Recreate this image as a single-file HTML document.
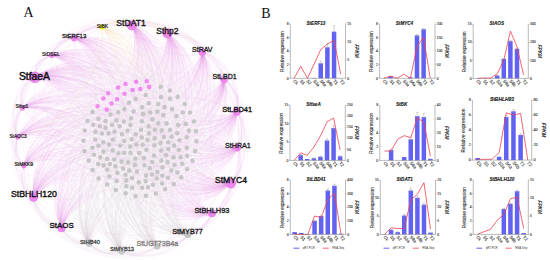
<!DOCTYPE html>
<html><head><meta charset="utf-8"><style>
html,body{margin:0;padding:0;background:#fff;width:550px;height:260px;overflow:hidden}
body{position:relative;font-family:"Liberation Sans", sans-serif}
svg text{font-family:"Liberation Sans", sans-serif}
.lab{position:absolute;font-family:"Liberation Serif",serif;font-size:14px;color:#111;line-height:1}
</style></head><body>
<svg width="260" height="260" viewBox="0 0 260 260" style="position:absolute;left:0;top:0">
<path fill="none" stroke="#e080e0" stroke-width="0.5" stroke-opacity="0.13" d="M131.8 25.3C136.9 34.2 138.7 46.2 137.7 58.7M131.8 25.3C143.0 34.6 151.2 49.6 156.2 66.5M131.8 25.3C144.5 33.5 154.8 47.8 162.1 64.6M131.8 25.3C141.1 34.8 147.2 49.0 150.1 64.8M131.8 25.3C141.7 38.8 146.7 57.7 147.6 78.0M131.8 25.3C136.1 36.5 136.0 50.5 132.8 64.6M131.8 25.3C143.7 31.0 154.3 42.3 162.5 56.2M131.8 25.3C135.6 30.1 137.8 36.9 138.5 44.3M131.8 25.3C139.0 36.6 142.0 52.0 141.6 68.4M131.8 25.3C138.8 29.8 144.5 37.6 148.5 46.8M131.8 25.3C139.5 38.8 142.3 56.8 140.9 75.7M131.8 25.3C142.4 34.2 150.3 48.3 155.0 64.4M131.8 25.3C142.4 31.1 151.4 42.0 158.1 55.0M131.8 25.3C144.6 37.6 153.4 56.4 158.0 77.4M131.8 25.3C135.1 32.0 135.8 40.7 134.5 49.7M131.8 25.3C144.5 32.7 155.1 46.2 162.9 62.2M131.8 25.3C145.4 33.1 156.8 47.3 165.3 64.3M131.8 25.3C136.7 37.3 137.0 52.5 133.8 68.0M131.8 25.3C145.6 33.8 157.1 49.0 165.3 67.0M131.8 25.3C135.4 30.9 136.9 38.4 136.7 46.5M131.8 25.3C136.1 31.8 138.1 40.7 138.1 50.2M131.8 25.3C139.6 35.9 143.6 50.7 144.3 66.6M131.8 25.3C138.6 38.4 140.4 55.5 138.4 73.3M131.8 25.3C141.2 38.0 146.1 55.9 147.1 75.2M131.8 25.3C141.5 27.2 151.2 33.3 159.7 41.8M131.8 25.3C142.3 32.4 150.6 44.6 156.4 58.9M131.8 25.3C137.4 34.7 139.5 47.4 138.8 60.8M131.8 25.3C139.2 33.3 143.9 45.3 146.0 58.4M131.8 25.3C136.6 30.0 139.9 37.1 141.5 45.1M131.8 25.3C140.1 33.7 145.7 46.3 148.5 60.4M131.8 25.3C143.8 32.3 154.0 45.1 161.4 60.3M131.8 25.3C141.2 31.3 148.8 41.7 154.3 54.1M131.8 25.3C141.6 35.6 147.9 51.1 150.8 68.1M131.8 25.3C142.7 38.6 149.0 57.6 151.0 78.4M131.8 25.3C143.6 34.5 152.6 49.5 158.3 66.7M131.8 25.3C144.3 28.4 156.6 37.0 167.1 48.6M131.8 25.3C141.7 28.7 151.1 36.6 158.9 46.7M131.8 25.3C137.7 34.1 140.3 46.1 140.3 58.9M131.8 25.3C144.0 29.5 155.6 39.2 165.2 51.7M131.8 25.3C142.3 36.7 148.9 53.6 151.8 72.3M131.8 25.3C140.4 27.2 149.0 32.9 156.5 40.6M131.8 25.3C136.3 30.9 138.8 38.8 139.6 47.4M131.8 25.3C141.7 34.1 148.8 48.0 152.8 63.6M131.8 25.3C137.1 29.3 141.2 36.0 143.8 43.7M131.8 25.3C139.6 31.6 145.4 41.8 149.0 53.4M131.8 25.3C141.6 37.2 147.2 54.3 149.0 72.9M131.8 25.3C140.4 37.1 144.7 53.6 145.4 71.3M131.8 25.3C137.6 38.0 138.4 54.3 135.7 71.0M131.8 25.3C140.9 33.7 147.2 46.7 150.7 61.4M131.8 25.3C139.5 30.4 145.8 39.1 150.2 49.5M131.8 25.3C140.4 36.4 145.0 52.2 146.1 69.2M131.8 25.3C144.3 35.7 153.4 52.4 159.0 71.3M131.8 25.3C140.7 29.6 148.6 38.0 154.7 48.4M131.8 25.3C137.6 33.4 140.6 44.7 141.0 56.8M131.8 25.3C142.3 30.2 151.6 40.0 158.9 52.0M131.8 25.3C141.0 36.1 146.6 51.7 148.6 68.8M131.8 25.3C138.3 33.6 141.9 45.4 142.8 58.2M131.8 25.3C139.5 37.9 142.5 55.0 141.8 73.0M131.8 25.3C144.9 36.0 154.6 53.2 160.5 72.8M131.8 25.3C140.0 29.8 147.1 38.1 152.4 48.2M131.8 25.3C135.2 33.7 135.4 44.4 133.1 55.2M131.8 25.3C142.3 35.3 149.4 50.7 153.3 67.8M131.8 25.3C139.8 36.9 143.6 53.0 143.8 70.1M131.8 25.3C136.2 34.6 137.1 46.6 135.2 59.0M131.8 25.3C142.9 30.6 152.8 41.0 160.4 53.8M131.8 25.3C143.7 38.1 151.2 57.0 154.5 78.0M131.8 25.3C141.4 32.6 148.7 44.5 153.5 58.3M131.8 25.3C142.0 33.4 149.7 46.5 154.5 61.5M131.8 25.3C143.9 35.3 152.8 51.3 158.2 69.5M131.8 25.3C141.7 30.8 150.1 41.0 156.4 53.3M131.8 25.3C137.9 37.2 139.5 52.7 137.6 68.8M131.8 25.3C145.1 34.1 155.8 49.3 163.3 67.2M131.8 25.3C138.2 36.6 140.4 51.6 139.2 67.3M131.8 25.3C144.5 36.5 153.5 54.0 158.8 73.9M131.8 25.3C136.9 35.0 138.2 47.8 136.8 61.1M131.8 25.3C143.2 37.5 150.5 55.6 153.8 75.7M131.8 25.3C140.2 30.7 147.1 40.1 151.9 51.3M131.8 25.3C139.5 29.1 146.3 36.6 151.5 45.7M131.8 25.3C140.9 30.6 148.6 40.1 154.3 51.6M131.8 25.3C135.1 32.8 135.5 42.3 133.8 52.0M131.8 25.3C137.6 35.4 139.5 48.9 138.5 63.0M131.8 25.3C138.3 34.4 141.6 47.0 142.1 60.6M131.8 25.3C135.6 35.6 135.3 48.3 132.2 61.2M131.8 25.3C144.9 34.7 155.1 50.5 162.0 68.8M131.8 25.3C140.6 35.2 146.0 49.8 148.2 65.7M131.8 25.3C146.5 33.9 159.0 49.5 168.1 68.1M131.8 25.3C140.1 32.3 146.3 43.5 150.0 56.2M131.8 25.3C137.0 35.8 138.1 49.4 136.3 63.5M131.8 25.3C140.9 36.8 146.0 53.3 147.4 71.2M131.8 25.3C137.9 29.4 142.9 36.5 146.3 44.7M131.8 25.3C140.0 37.6 143.7 54.6 143.7 72.6M131.8 25.3C145.6 31.7 158.0 44.7 167.6 60.5M131.8 25.3C140.6 34.3 146.3 47.9 149.1 62.9M131.8 25.3C141.8 31.9 149.9 43.4 155.5 56.8M131.8 25.3C141.9 28.0 151.9 35.2 160.3 44.7M131.8 25.3C142.8 37.1 149.7 54.6 152.9 73.9M167.5 33.3C173.5 46.1 174.7 62.6 172.1 79.6M167.5 33.3C171.3 45.1 170.4 59.6 166.3 74.1M167.5 33.3C170.4 47.2 167.6 63.6 161.1 79.6M167.5 33.3C168.8 45.5 165.0 59.3 158.0 72.4M167.5 33.3C171.9 37.3 175.0 43.6 176.7 50.6M167.5 33.3C174.8 46.2 177.2 63.3 175.9 81.2M167.5 33.3C171.1 48.4 168.5 66.4 161.9 84.0M167.5 33.3C176.3 46.3 180.4 64.3 180.5 83.5M167.5 33.3C173.9 42.6 176.9 55.4 177.0 69.1M167.5 33.3C175.9 37.8 183.2 46.3 188.6 56.6M167.5 33.3C174.2 40.9 178.3 51.9 179.9 64.1M167.5 33.3C177.0 43.5 182.9 58.7 185.6 75.4M167.5 33.3C175.6 39.9 181.5 50.6 185.2 62.7M167.5 33.3C172.8 46.5 173.1 63.1 169.6 80.0M167.5 33.3C167.8 44.6 163.3 57.0 156.0 68.6M167.5 33.3C177.5 45.5 183.3 63.0 185.2 82.1M167.5 33.3C170.8 43.0 170.2 54.9 167.0 66.9M167.5 33.3C175.6 42.4 180.7 55.7 182.8 70.4M167.5 33.3C171.0 47.6 168.8 64.7 162.6 81.5M167.5 33.3C173.4 46.9 174.1 64.2 170.9 81.9M167.5 33.3C176.2 47.2 179.9 66.1 179.3 86.0M167.5 33.3C174.4 38.0 180.0 46.0 183.8 55.5M167.5 33.3C174.2 46.5 175.8 63.7 173.6 81.5M167.5 33.3C174.8 45.3 177.6 61.5 176.8 78.6M167.5 33.3C172.5 37.9 176.0 45.1 177.9 53.1M167.5 33.3C177.3 40.3 185.0 52.0 190.2 65.7M167.5 33.3C171.1 40.6 171.9 50.0 170.5 59.8M167.5 33.3C170.1 43.4 168.7 55.6 164.6 67.6M167.5 33.3C175.5 44.7 179.4 60.4 179.7 77.3M167.5 33.3C167.6 42.8 163.6 53.2 157.3 62.8M167.5 33.3C168.5 42.6 165.8 53.1 160.5 63.1M167.5 33.3C171.6 41.0 172.8 51.1 171.8 61.7M167.5 33.3C173.4 43.7 175.4 57.6 174.2 72.1M167.5 33.3C169.1 40.0 168.0 48.0 165.1 55.9M167.5 33.3C178.9 41.8 187.7 56.0 193.5 72.3M167.5 33.3C171.7 38.5 174.1 45.9 174.8 53.9M167.5 33.3C174.2 44.2 176.9 58.9 176.3 74.4M167.5 33.3C176.4 45.3 180.9 62.2 181.8 80.3M167.5 33.3C176.4 43.1 181.9 57.5 184.3 73.4M167.5 33.3C178.2 39.9 187.0 51.7 193.3 65.6M167.5 33.3C170.7 41.5 170.8 51.8 168.5 62.3M167.5 33.3C177.8 43.1 185.0 58.2 188.8 75.0M167.5 33.3C177.7 42.4 184.9 56.7 188.9 72.8M167.5 33.3C175.8 43.9 180.4 58.9 181.7 75.2M167.5 33.3C170.1 38.6 170.7 45.4 169.7 52.5M167.5 33.3C175.0 37.5 181.3 45.1 186.0 54.4M167.5 33.3C172.7 40.7 175.2 51.0 175.5 62.1M167.5 33.3C173.1 49.0 172.6 68.5 167.6 88.1M167.5 33.3C169.9 42.0 168.8 52.6 165.3 63.0M167.5 33.3C172.7 45.7 173.1 61.4 169.9 77.5M167.5 33.3C176.2 38.9 183.3 48.6 188.4 60.1M167.5 33.3C172.2 44.4 172.7 58.4 170.0 72.8M167.5 33.3C172.6 43.0 174.0 55.8 172.5 69.1M167.5 33.3C175.0 39.2 180.7 48.9 184.3 60.0M167.5 33.3C178.1 43.9 185.2 59.9 188.8 77.7M167.5 33.3C170.5 45.0 168.9 59.0 164.0 72.8M167.5 33.3C171.5 42.8 171.9 54.8 169.5 67.0M167.5 33.3C178.4 45.9 184.9 64.3 187.4 84.4M167.5 33.3C168.1 40.1 165.9 47.8 162.0 55.1M167.5 33.3C177.8 46.8 183.4 65.9 184.7 86.5M167.5 33.3C169.6 39.4 169.3 46.9 167.3 54.5M167.5 33.3C174.1 45.7 176.0 61.9 174.3 78.9M167.5 33.3C169.3 43.4 166.9 55.2 161.8 66.7M167.5 33.3C172.0 48.8 170.4 67.7 164.5 86.5M167.5 33.3C176.3 42.3 182.1 56.0 184.9 71.1M167.5 33.3C174.3 41.9 178.0 54.3 179.0 67.6M167.5 33.3C178.8 44.9 186.1 62.3 189.6 81.7M167.5 33.3C177.9 40.8 186.1 53.5 191.5 68.2M167.5 33.3C177.5 39.1 186.0 49.7 192.2 62.3M167.5 33.3C168.6 41.8 166.3 51.6 161.7 61.0M167.5 33.3C168.1 45.6 163.4 59.2 155.7 72.0M167.5 33.3C172.7 38.9 176.0 47.3 177.4 56.5M167.5 33.3C174.2 48.8 174.9 68.5 171.1 88.7M167.5 33.3C174.8 40.2 179.8 50.8 182.4 62.8M167.5 33.3C168.8 40.9 167.0 49.7 163.1 58.2M167.5 33.3C176.2 40.3 182.8 51.6 186.9 64.5M167.5 33.3C177.1 47.6 181.5 67.2 181.5 88.2M167.5 33.3C173.1 45.2 174.1 60.6 171.7 76.5M167.5 33.3C173.1 47.7 173.1 65.8 168.9 84.2M167.5 33.3C172.1 41.6 173.5 52.7 172.5 64.2M167.5 33.3C176.8 45.8 181.6 63.3 182.5 82.1M167.5 33.3C173.7 48.1 174.3 66.8 170.6 85.9M167.5 33.3C168.6 43.4 165.6 54.8 160.0 65.7M167.5 33.3C173.1 44.3 174.5 58.8 172.6 73.7M167.5 33.3C169.4 45.1 166.4 58.7 160.3 71.9M167.5 33.3C172.5 39.8 175.2 49.0 175.9 59.0M167.5 33.3C170.8 46.0 169.0 61.3 163.7 76.3M167.5 33.3C172.0 48.0 170.7 65.9 165.3 83.7M167.5 33.3C178.1 44.7 184.9 61.7 187.9 80.4M167.5 33.3C177.4 44.7 183.3 61.4 185.5 79.6M167.5 33.3C169.8 41.2 168.9 50.8 165.8 60.4M167.5 33.3C175.3 47.1 177.9 65.5 176.4 84.7M167.5 33.3C170.0 46.4 167.2 61.7 160.8 76.6M167.5 33.3C177.5 41.4 185.1 54.6 189.7 69.6M167.5 33.3C176.2 48.1 179.3 67.9 178.0 88.8M167.5 33.3C168.6 46.5 164.1 61.4 156.3 75.4M202.3 52.3C208.2 66.2 208.8 83.8 205.3 101.9M202.3 52.3C205.2 65.0 203.0 80.1 197.3 94.9M202.3 52.3C205.9 59.4 206.8 68.7 205.6 78.2M202.3 52.3C202.3 66.8 196.2 82.7 186.4 97.4M202.3 52.3C208.4 65.6 209.4 82.7 206.5 100.3M202.3 52.3C208.2 60.4 211.1 71.8 211.5 84.0M202.3 52.3C205.6 62.6 204.8 75.3 201.2 87.9M202.3 52.3C208.5 62.6 210.9 76.5 210.2 91.1M202.3 52.3C205.6 66.9 203.1 84.3 196.6 101.3M202.3 52.3C201.7 64.6 195.8 77.7 186.9 89.7M202.3 52.3C203.8 61.7 201.4 72.5 196.6 82.9M202.3 52.3C203.1 64.5 198.7 78.2 191.3 91.1M202.3 52.3C202.9 68.1 196.7 85.6 186.6 102.0M202.3 52.3C199.6 65.6 191.1 79.0 179.3 90.7M202.3 52.3C207.8 64.4 208.7 79.9 206.0 95.8M202.3 52.3C209.0 64.0 211.3 79.6 210.1 96.0M202.3 52.3C206.5 62.5 206.7 75.5 204.0 88.6M202.3 52.3C201.7 63.8 196.1 76.0 187.7 87.2M202.3 52.3C202.4 62.9 197.9 74.5 190.8 85.3M202.3 52.3C207.2 62.5 208.2 75.7 206.2 89.3M202.3 52.3C205.6 66.3 203.3 83.0 197.2 99.5M202.3 52.3C208.8 61.0 212.2 73.2 212.8 86.4M202.3 52.3C209.2 66.1 211.0 84.0 208.7 102.6M202.3 52.3C202.6 63.5 198.1 75.9 190.8 87.4M202.3 52.3C204.3 67.0 200.2 84.0 192.2 100.2M202.3 52.3C206.2 60.7 207.0 71.6 205.2 82.8M202.3 52.3C207.6 65.0 207.9 81.0 204.7 97.3M202.3 52.3C200.1 63.6 193.0 75.0 183.1 84.9M202.3 52.3C200.8 66.5 193.2 81.5 182.1 94.9M202.3 52.3C201.6 63.1 196.3 74.7 188.3 85.2M202.3 52.3C203.1 67.1 197.8 83.6 188.6 99.1M202.3 52.3C206.6 67.7 204.7 86.3 198.6 104.7M202.3 52.3C198.6 64.7 189.4 76.7 177.2 86.8M202.3 52.3C204.9 65.8 202.1 81.7 195.6 97.1M202.3 52.3C200.4 59.5 195.4 66.6 188.6 72.7M202.3 52.3C207.1 59.0 209.4 68.4 209.6 78.4M202.3 52.3C201.5 66.8 194.6 82.2 184.0 96.3M202.3 52.3C203.1 65.2 198.6 79.5 190.7 93.1M202.3 52.3C201.9 62.4 197.2 73.2 190.1 83.1M202.3 52.3C202.9 60.5 200.0 69.8 195.0 78.5M202.3 52.3C202.4 64.2 197.5 77.2 189.6 89.3M202.3 52.3C208.4 59.3 212.1 69.4 213.5 80.6M202.3 52.3C204.3 62.2 202.4 73.8 197.8 85.1M202.3 52.3C202.5 61.2 198.9 70.9 193.1 80.0M202.3 52.3C198.4 62.9 189.7 72.9 178.6 81.0M202.3 52.3C203.8 57.4 203.2 63.5 201.3 69.6M202.3 52.3C199.6 64.8 191.3 77.3 180.1 88.0M202.3 52.3C205.0 66.6 201.9 83.4 194.9 99.8M202.3 52.3C207.1 61.2 208.5 72.9 207.3 85.2M202.3 52.3C199.4 62.7 191.8 72.8 181.8 81.4M202.3 52.3C207.8 62.9 209.3 76.8 207.7 91.2M202.3 52.3C203.5 62.5 200.5 74.1 194.8 85.2M202.3 52.3C198.4 62.2 190.0 71.4 179.3 78.7M202.3 52.3C201.0 64.2 194.5 76.7 185.2 87.9M202.3 52.3C205.3 63.6 203.9 77.1 199.4 90.5M202.3 52.3C202.6 58.6 200.1 65.6 196.1 72.2M202.3 52.3C207.8 61.2 209.9 73.2 209.4 85.8M202.3 52.3C206.9 64.7 206.8 80.1 203.1 95.7M202.3 52.3C201.0 63.6 194.8 75.3 185.8 85.9M202.3 52.3C205.6 65.5 203.6 81.3 198.1 96.9M202.3 52.3C204.9 67.4 201.4 84.9 193.8 101.9M202.3 52.3C207.0 68.3 205.4 87.7 199.3 107.0M202.3 52.3C206.9 61.9 207.9 74.3 206.0 87.1M202.3 52.3C200.0 60.2 194.1 67.8 186.4 74.1M202.3 52.3C201.4 65.1 194.9 78.7 185.3 91.0M202.3 52.3C200.9 68.2 192.6 84.9 180.5 100.0M202.3 52.3C209.8 62.0 213.8 75.7 214.8 90.6M202.3 52.3C198.9 65.7 189.5 79.0 177.0 90.2M202.3 52.3C200.5 62.9 194.1 73.6 185.2 83.1M202.3 52.3C206.1 67.3 203.9 85.2 197.7 102.9M202.3 52.3C200.8 60.6 195.7 69.0 188.6 76.4M202.3 52.3C204.3 58.7 203.7 66.5 201.3 74.3M202.3 52.3C199.4 66.7 190.2 81.1 177.6 93.7M202.3 52.3C199.6 61.0 193.0 69.4 184.4 76.5M202.3 52.3C203.9 67.9 199.1 85.6 190.2 102.4M202.3 52.3C205.1 62.1 204.1 74.0 200.3 85.8M202.3 52.3C201.6 66.2 195.0 81.0 185.0 94.6M202.3 52.3C202.2 65.9 196.4 80.7 187.1 94.4M202.3 52.3C203.9 64.5 200.5 78.5 193.9 91.9M224.1 79.4C223.9 88.0 220.1 97.4 214.0 105.9M224.1 79.4C223.3 85.6 219.8 92.0 214.8 97.7M224.1 79.4C219.9 91.3 210.3 102.4 198.0 111.6M224.1 79.4C227.2 90.7 225.8 104.4 221.2 117.9M224.1 79.4C216.8 90.6 204.0 99.8 189.0 106.2M224.1 79.4C222.5 85.4 218.2 91.3 212.4 96.2M224.1 79.4C223.4 91.7 217.4 104.9 208.4 116.8M224.1 79.4C225.1 88.6 222.3 99.1 217.1 109.0M224.1 79.4C226.9 90.0 225.5 102.7 221.2 115.2M224.1 79.4C225.0 84.7 223.7 90.8 221.0 96.8M224.1 79.4C220.1 95.3 209.1 110.9 194.3 124.2M224.1 79.4C220.4 92.0 211.0 104.1 198.7 114.2M224.1 79.4C226.1 88.8 224.3 99.9 219.9 110.8M224.1 79.4C220.3 86.7 213.1 93.0 204.4 97.8M224.1 79.4C224.1 86.1 221.2 93.4 216.7 100.2M224.1 79.4C226.6 91.0 224.5 104.7 219.2 118.2M224.1 79.4C225.4 89.2 222.6 100.5 217.3 111.3M224.1 79.4C219.0 91.6 208.2 102.8 194.7 111.7M224.1 79.4C226.7 89.3 225.4 101.2 221.3 113.0M224.1 79.4C224.5 91.5 219.9 105.0 212.1 117.5M224.1 79.4C217.7 90.2 206.1 99.3 192.4 105.9M224.1 79.4C221.6 89.9 214.5 100.3 204.9 109.3M224.1 79.4C228.1 89.7 228.1 102.7 225.2 115.9M224.1 79.4C224.5 90.1 220.5 102.0 213.7 113.2M224.1 79.4C223.3 91.0 217.4 103.4 208.7 114.6M224.1 79.4C227.2 86.8 227.5 96.2 225.7 105.8M224.1 79.4C223.8 92.2 218.1 106.1 209.2 118.8M224.1 79.4C222.1 91.2 215.0 103.3 205.0 113.9M224.1 79.4C225.6 86.4 224.3 94.6 221.1 102.7M224.1 79.4C223.6 90.3 218.4 101.9 210.5 112.5M224.1 79.4C222.0 84.1 217.7 88.3 212.4 91.6M224.1 79.4C225.2 91.4 221.2 104.9 214.2 117.7M224.1 79.4C220.4 92.6 210.9 105.5 198.2 116.4M224.1 79.4C227.0 87.7 226.6 98.0 223.9 108.4M224.1 79.4C218.3 90.3 207.4 99.8 194.2 106.9M224.1 79.4C219.6 91.8 209.4 103.5 196.4 113.0M224.1 79.4C227.5 89.7 226.8 102.3 223.3 114.9M224.1 79.4C220.6 90.9 212.0 102.0 200.7 111.3M224.1 79.4C218.6 85.2 210.1 89.2 200.5 91.3M224.1 79.4C221.1 95.7 210.9 112.2 196.9 126.7M224.1 79.4C223.3 87.7 218.8 96.4 212.3 104.3M224.1 79.4C221.1 88.5 214.1 97.2 204.9 104.4M224.1 79.4C224.5 92.6 219.3 107.1 210.8 120.6M224.1 79.4C225.2 95.0 219.8 112.4 210.4 128.9M224.1 79.4C217.8 86.0 208.2 90.6 197.3 93.0M224.1 79.4C224.0 91.1 218.9 103.7 210.9 115.4M224.1 79.4C224.6 93.4 219.2 108.8 210.2 123.3M224.1 79.4C227.5 92.8 225.5 108.8 219.8 124.6M224.1 79.4C219.1 94.9 207.1 109.7 191.6 122.0M224.1 79.4C219.5 86.3 211.6 91.9 202.2 95.7M224.1 79.4C218.8 88.1 209.4 95.3 198.2 100.5M224.1 79.4C220.6 89.6 212.4 99.3 201.9 107.2M224.1 79.4C225.3 87.9 223.0 97.7 218.4 107.1M224.1 79.4C223.8 89.3 219.3 100.0 212.3 109.9M224.1 79.4C221.1 86.0 215.0 92.0 207.4 96.6M224.1 79.4C221.8 85.8 216.5 91.8 209.8 96.7M224.1 79.4C219.0 87.3 210.2 93.8 199.7 98.4M224.1 79.4C224.8 94.4 219.1 111.0 209.7 126.6M224.1 79.4C224.6 85.5 222.5 92.3 218.8 98.8M224.1 79.4C224.5 87.5 221.4 96.4 216.3 104.8M224.1 79.4C223.0 84.1 219.8 88.7 215.6 92.7M224.1 79.4C221.3 93.8 212.2 108.4 199.7 121.0M224.1 79.4C221.1 94.8 211.2 110.4 197.7 123.9M224.1 79.4C217.8 92.3 205.5 103.8 190.4 112.6M224.1 79.4C219.0 88.9 209.3 97.1 197.7 103.2M224.1 79.4C221.3 91.2 213.2 103.0 202.4 113.0M224.1 79.4C222.5 93.7 214.7 108.7 203.3 122.1M224.1 79.4C222.8 94.9 214.8 111.3 203.0 126.1M224.1 79.4C224.1 88.7 220.1 98.9 213.8 108.3M224.1 79.4C223.8 93.0 217.8 107.8 208.3 121.4M224.1 79.4C218.3 94.2 205.7 107.9 189.8 118.9M224.1 79.4C222.5 87.5 217.3 95.6 210.2 102.6M224.1 79.4C218.2 86.9 208.5 92.5 197.5 96.1M224.1 79.4C221.3 91.9 213.1 104.3 201.8 115.0M224.1 79.4C223.1 92.5 216.5 106.5 206.7 119.1M224.1 79.4C221.6 94.5 212.4 110.0 199.6 123.6M224.1 79.4C226.2 94.5 222.0 111.8 213.9 128.4M224.1 79.4C221.7 89.2 214.9 98.9 205.9 107.1M224.1 79.4C222.6 91.7 215.8 104.4 206.0 115.8M236.8 111.6C231.7 120.5 222.4 128.0 211.3 133.5M236.8 111.6C228.4 122.4 214.6 130.6 198.8 135.9M236.8 111.6C233.2 120.1 225.7 127.9 216.3 134.0M236.8 111.6C235.2 122.4 228.8 133.6 219.9 143.4M236.8 111.6C232.9 115.6 226.9 118.4 220.3 119.8M236.8 111.6C231.2 118.4 222.2 123.4 211.9 126.4M236.8 111.6C228.5 118.1 216.6 121.6 203.8 122.5M236.8 111.6C229.5 119.8 218.1 125.7 205.2 129.1M236.8 111.6C236.3 120.7 231.9 130.5 225.3 139.4M236.8 111.6C230.8 122.6 219.5 132.1 205.9 139.2M236.8 111.6C235.8 117.9 232.0 124.4 226.7 130.1M236.8 111.6C228.6 116.2 217.6 117.8 206.2 116.8M236.8 111.6C226.3 118.5 212.0 121.7 196.7 121.6M236.8 111.6C230.0 124.3 217.1 135.3 201.6 143.5M236.8 111.6C237.5 120.5 234.6 130.5 229.3 140.0M236.8 111.6C231.3 124.8 219.8 136.8 205.4 146.4M236.8 111.6C227.1 119.5 213.2 123.9 198.1 125.3M236.8 111.6C235.5 119.6 230.7 127.7 224.0 134.9M236.8 111.6C234.0 120.9 226.9 129.8 217.7 137.3M236.8 111.6C227.7 121.1 213.8 127.6 198.3 131.0M236.8 111.6C236.6 119.4 233.1 127.9 227.6 135.6M236.8 111.6C231.4 119.1 222.3 125.1 211.8 129.0M236.8 111.6C233.5 116.9 227.6 121.2 220.7 124.3M236.8 111.6C228.2 120.3 215.0 126.2 200.4 129.2M236.8 111.6C236.4 118.5 233.0 125.8 228.0 132.5M236.8 111.6C228.5 125.7 213.5 137.5 195.6 146.1M236.8 111.6C229.4 115.4 219.7 116.3 209.7 115.1M236.8 111.6C229.3 121.3 217.0 128.6 202.8 133.3M236.8 111.6C228.1 117.0 216.2 119.2 203.7 118.8M236.8 111.6C226.1 120.4 210.6 125.5 193.8 127.1M236.8 111.6C234.8 122.9 227.9 134.5 218.2 144.6M236.8 111.6C232.3 120.9 223.5 129.2 212.7 135.6M236.8 111.6C234.6 125.7 226.3 140.3 214.5 153.1M236.8 111.6C232.7 121.8 223.9 131.2 212.8 138.7M236.8 111.6C236.9 120.4 233.3 130.1 227.4 139.1M236.8 111.6C234.4 115.5 230.1 118.7 225.1 120.9M236.8 111.6C230.5 123.5 218.7 133.9 204.3 141.7M236.8 111.6C232.8 122.5 223.8 132.7 212.4 141.0M236.8 111.6C230.5 125.6 217.6 138.2 201.8 148.1M236.8 111.6C234.0 122.3 226.3 132.8 216.2 141.7M236.8 111.6C234.7 118.7 229.4 125.5 222.5 131.3M236.8 111.6C231.0 117.4 222.2 121.4 212.3 123.3M236.8 111.6C233.2 123.8 224.2 135.6 212.3 145.6M236.8 111.6C231.9 116.2 224.6 119.1 216.5 120.4M236.8 111.6C226.0 119.7 210.8 123.9 194.5 124.8M236.8 111.6C231.9 124.5 221.1 136.5 207.4 146.3M236.8 111.6C230.5 126.5 217.3 140.0 200.9 150.8M236.8 111.6C228.2 118.9 215.8 123.1 202.3 124.7M236.8 111.6C233.2 117.9 226.7 123.2 218.9 127.1M236.8 111.6C227.0 124.1 211.1 133.7 192.7 139.7M236.8 111.6C231.2 116.6 222.9 119.6 213.9 120.8M236.8 111.6C233.2 123.0 224.5 133.9 213.2 142.9M236.8 111.6C229.0 122.6 215.8 131.3 200.5 137.1M236.8 111.6C234.1 120.0 227.6 128.0 219.2 134.7M236.8 111.6C232.2 125.7 221.2 139.1 207.1 150.3M236.8 111.6C227.6 117.7 214.9 120.4 201.5 120.2M236.8 111.6C227.8 122.7 213.3 131.0 196.8 136.2M236.8 111.6C235.2 123.4 228.5 135.6 218.9 146.4M236.8 111.6C231.1 121.3 220.8 129.5 208.4 135.5M236.8 111.6C236.3 124.4 230.3 138.2 221.1 150.9M236.8 111.6C233.7 124.7 224.8 137.8 212.9 149.0M236.8 111.6C232.1 118.9 223.9 124.9 214.3 129.2M236.8 111.6C229.5 126.0 215.5 138.7 198.4 148.4M236.8 111.6C231.9 121.4 222.3 129.9 210.7 136.5M236.8 111.6C236.6 117.6 233.9 124.0 229.8 129.9M236.8 111.6C228.9 124.8 214.6 135.9 197.6 143.9M236.8 111.6C233.9 123.3 225.7 134.9 214.8 144.7M236.8 111.6C231.9 118.2 223.7 123.4 214.3 126.7M236.8 111.6C235.3 116.0 231.7 120.2 227.1 123.7M236.8 111.6C232.5 117.6 225.3 122.4 216.9 125.5M236.8 111.6C229.2 124.3 215.5 134.8 199.2 142.4M236.8 111.6C237.5 121.5 234.1 132.7 228.1 143.2M236.8 111.6C229.7 117.4 219.6 120.8 208.5 121.9M236.8 111.6C229.8 122.7 217.4 131.9 202.7 138.4M236.8 111.6C231.4 114.9 224.1 116.1 216.4 115.7M236.8 111.6C236.6 122.3 231.8 134.0 224.3 144.7M236.8 111.6C226.3 122.2 210.3 129.3 192.4 132.9M236.8 111.6C231.6 122.9 221.1 133.0 208.2 140.8M236.8 111.6C237.2 122.5 233.0 134.7 226.1 146.0M236.8 111.6C231.2 123.3 220.0 133.8 206.4 141.8M236.8 111.6C227.2 116.8 214.6 118.4 201.4 117.2M236.8 111.6C236.0 119.1 232.0 126.9 226.2 133.9M236.8 111.6C231.7 117.2 223.7 121.2 214.7 123.5M236.8 111.6C235.4 124.1 228.6 137.2 218.7 149.0M237.2 147.7C227.0 154.1 213.1 156.7 198.4 156.3M237.2 147.7C225.7 149.5 212.4 146.5 199.6 140.5M237.2 147.7C232.4 150.0 226.2 150.4 219.8 149.5M237.2 147.7C229.8 155.9 218.2 161.7 205.1 165.0M237.2 147.7C230.6 149.1 222.9 147.9 215.3 144.8M237.2 147.7C232.5 153.5 225.0 157.8 216.3 160.4M237.2 147.7C231.0 157.3 220.1 165.1 207.3 170.6M237.2 147.7C232.2 152.8 224.7 156.4 216.2 158.2M237.2 147.7C231.7 151.0 224.4 152.4 216.6 152.1M237.2 147.7C231.1 155.3 221.3 161.0 210.0 164.6M237.2 147.7C225.0 152.0 209.8 151.5 194.6 147.6M237.2 147.7C232.5 157.5 223.3 166.1 211.9 172.8M237.2 147.7C227.0 154.8 212.9 158.1 197.8 158.3M237.2 147.7C227.9 158.5 213.1 166.2 196.4 170.8M237.2 147.7C228.5 156.1 215.4 161.6 200.9 164.2M237.2 147.7C228.4 155.5 215.6 160.3 201.4 162.2M237.2 147.7C232.4 158.3 222.7 167.9 210.7 175.4M237.2 147.7C226.2 151.6 212.5 151.1 198.8 147.5M237.2 147.7C226.2 157.5 210.0 163.5 192.3 166.0M237.2 147.7C229.3 160.1 215.4 170.3 199.0 177.5M237.2 147.7C232.1 148.9 226.1 148.1 220.1 146.0M237.2 147.7C235.1 153.0 230.6 157.8 224.9 161.7M237.2 147.7C224.8 157.6 207.0 163.2 187.7 164.8M237.2 147.7C228.2 150.3 217.3 149.3 206.5 145.8M237.2 147.7C229.9 152.4 219.8 154.4 209.2 154.2M237.2 147.7C229.4 154.0 218.3 157.5 206.3 158.6M237.2 147.7C228.2 160.0 213.3 169.5 195.9 175.8M237.2 147.7C223.8 153.9 206.5 155.0 188.8 152.2M237.2 147.7C227.3 151.7 214.7 151.8 202.0 149.1M237.2 147.7C226.1 155.9 210.5 160.1 193.8 160.9M237.2 147.7C232.6 154.2 224.8 159.4 215.7 162.8M237.2 147.7C233.6 155.8 226.1 163.2 217.0 169.0M237.2 147.7C225.9 153.8 210.9 155.7 195.3 154.2M237.2 147.7C231.4 159.7 220.0 170.3 206.0 178.6M237.2 147.7C233.2 153.1 226.6 157.2 219.0 160.0M237.2 147.7C230.8 159.0 219.1 168.6 205.0 175.7M237.2 147.7C228.7 158.8 214.7 167.3 198.7 172.7M237.2 147.7C228.9 150.1 218.8 149.1 208.9 145.9M237.2 147.7C232.9 155.9 224.7 163.1 214.9 168.4M237.2 147.7C233.7 150.2 228.9 151.5 223.7 151.7M237.2 147.7C232.6 156.4 223.8 164.0 213.2 169.6M237.2 147.7C227.7 157.8 213.0 164.8 196.6 168.5M237.2 147.7C229.1 152.6 218.2 154.6 206.8 154.1M237.2 147.7C225.6 155.4 209.7 158.9 192.7 158.8M237.2 147.7C234.6 153.9 229.2 159.6 222.4 164.1M237.2 147.7C234.0 157.9 226.2 167.7 216.1 175.9M237.2 147.7C230.2 151.1 221.2 151.9 211.9 150.6M237.2 147.7C234.1 152.0 229.0 155.3 223.0 157.5M237.2 147.7C233.5 151.4 227.9 153.9 221.7 155.1M237.2 147.7C230.4 155.3 219.8 160.7 207.8 163.8M237.2 147.7C227.2 158.7 211.6 166.5 194.1 170.9M237.2 147.7C228.8 153.4 217.3 156.2 204.9 156.3M237.2 147.7C227.8 152.1 215.7 153.0 203.2 151.1M237.2 147.7C232.4 159.2 222.2 169.8 209.5 178.1M237.2 147.7C227.0 157.1 211.9 163.1 195.2 165.7M237.2 147.7C226.4 155.2 211.3 158.8 195.3 159.0M237.2 147.7C231.7 149.7 224.8 149.6 217.9 148.0M237.2 147.7C229.6 149.7 220.5 148.6 211.5 145.4M237.2 147.7C224.9 150.3 210.5 147.9 196.4 142.2M237.2 147.7C230.1 148.3 222.2 146.0 214.6 141.9M237.2 147.7C227.8 155.2 214.3 159.3 199.8 160.5M237.2 147.7C224.9 155.8 208.1 159.3 190.2 159.2M237.2 147.7C223.9 154.9 206.4 157.1 188.1 155.4M237.2 147.7C226.0 152.3 211.8 152.6 197.3 149.7M237.2 147.7C233.2 157.6 224.5 166.7 213.7 174.0M237.2 147.7C225.7 156.9 209.1 162.1 191.2 163.6M237.2 147.7C226.1 153.1 211.7 154.4 196.8 152.4M237.2 147.7C227.9 154.5 214.9 158.0 201.0 158.6M237.2 147.7C227.7 153.9 214.7 156.6 201.0 156.4M237.2 147.7C225.3 151.1 210.9 149.8 196.5 145.3M237.2 147.7C235.2 155.0 230.0 162.2 223.1 168.3M237.2 147.7C225.5 154.6 209.8 157.1 193.3 156.0M237.2 147.7C234.9 151.9 230.6 155.6 225.4 158.3M237.2 147.7C231.7 155.8 222.2 162.3 211.2 166.7M237.2 147.7C228.7 149.0 218.9 146.9 209.4 142.5M237.2 147.7C229.4 150.7 219.6 150.7 209.6 148.5M237.2 147.7C228.1 148.4 217.8 145.4 208.1 139.9M237.2 147.7C228.2 159.1 213.5 167.7 196.7 173.1M237.2 147.7C230.4 149.8 222.1 149.3 213.8 146.9M230.8 183.2C223.9 190.8 213.2 196.1 201.1 199.0M230.8 183.2C216.3 186.9 198.9 184.8 181.8 178.7M230.8 183.2C222.6 187.7 211.7 189.2 200.3 188.2M230.8 183.2C223.9 183.8 216.1 181.5 208.7 177.5M230.8 183.2C226.7 186.4 220.9 188.2 214.6 188.7M230.8 183.2C218.9 183.3 205.9 178.5 193.8 170.6M230.8 183.2C222.7 185.4 212.9 184.4 203.2 181.1M230.8 183.2C218.5 187.2 203.3 186.3 188.2 182.0M230.8 183.2C215.2 186.3 196.9 183.1 179.1 175.8M230.8 183.2C226.1 189.4 218.2 194.3 209.2 197.4M230.8 183.2C223.8 191.7 212.6 197.9 199.9 201.7M230.8 183.2C224.4 182.0 218.0 177.9 212.5 172.3M230.8 183.2C217.8 187.6 201.8 187.0 185.7 182.7M230.8 183.2C224.6 184.6 217.2 183.4 210.0 180.6M230.8 183.2C217.3 182.9 202.6 176.9 189.1 167.4M230.8 183.2C217.7 189.0 201.0 189.8 183.9 186.8M230.8 183.2C223.2 190.1 211.9 194.3 199.6 196.1M230.8 183.2C223.8 188.0 214.0 190.3 203.6 190.5M230.8 183.2C221.8 192.4 208.2 198.5 192.9 201.7M230.8 183.2C222.4 188.9 210.9 191.5 198.6 191.6M230.8 183.2C221.3 184.8 210.3 182.6 199.6 177.8M230.8 183.2C225.3 186.0 218.2 186.7 210.8 185.8M230.8 183.2C225.0 188.3 216.6 191.4 207.3 192.6M230.8 183.2C222.9 190.7 211.2 195.5 198.2 197.7M230.8 183.2C224.0 188.9 214.2 192.1 203.6 193.3M230.8 183.2C225.2 182.7 219.3 179.7 214.0 175.3M230.8 183.2C217.6 185.6 202.1 182.6 187.1 176.0M230.8 183.2C216.9 190.9 198.4 193.4 179.2 191.7M230.8 183.2C218.5 188.0 203.1 187.9 187.4 184.4M230.8 183.2C223.9 184.6 215.8 183.2 207.9 179.9M230.8 183.2C215.5 184.4 198.3 179.3 182.1 170.2M230.8 183.2C225.0 189.6 216.0 194.1 205.8 196.6M230.8 183.2C217.7 191.6 199.9 195.2 181.0 194.8M230.8 183.2C222.2 186.9 211.1 187.4 199.9 185.3M230.8 183.2C223.2 182.2 215.2 177.8 208.2 171.6M230.8 183.2C215.7 189.1 196.7 189.2 177.5 185.0M230.8 183.2C220.2 183.4 208.5 179.0 197.7 172.0M230.8 183.2C218.5 189.6 202.3 191.3 185.5 189.3M230.8 183.2C219.7 183.9 207.3 180.0 195.6 173.2M230.8 183.2C217.8 187.0 202.0 185.6 186.4 180.6M230.8 183.2C224.7 185.5 217.1 185.4 209.4 183.6M230.8 183.2C222.4 189.7 210.5 193.3 197.7 194.2M230.8 183.2C218.7 184.1 205.2 180.0 192.4 172.8M230.8 183.2C221.4 191.6 207.6 196.8 192.4 198.9M230.8 183.2C221.1 185.5 209.6 184.0 198.3 179.8M230.8 183.2C221.5 186.1 210.2 185.4 198.8 182.1M230.8 183.2C222.9 192.1 210.4 198.5 196.4 202.2M230.8 183.2C219.9 188.5 205.8 189.8 191.2 187.8M230.8 183.2C223.2 184.8 214.3 183.3 205.5 179.8M230.8 183.2C218.4 185.1 204.1 181.8 190.3 175.3M230.8 183.2C220.6 185.0 208.7 182.7 197.1 177.7M230.8 183.2C219.7 182.7 207.7 177.5 196.8 169.4M230.8 183.2C217.0 188.6 199.7 188.7 182.1 184.9M230.8 183.2C221.7 183.5 211.6 180.0 202.2 174.2M230.8 183.2C224.1 186.6 215.2 187.5 206.1 186.4M230.8 183.2C221.0 187.3 208.7 187.6 196.0 185.1M230.8 183.2C225.8 183.5 220.3 181.6 215.1 178.6M230.8 183.2C225.8 187.4 218.6 189.9 210.7 190.7M230.8 183.2C217.6 188.3 201.0 188.3 184.1 184.5M230.8 183.2C219.4 186.9 205.4 186.1 191.3 182.2M230.8 183.2C223.9 182.4 216.6 178.6 210.2 173.1M230.8 183.2C218.7 185.7 204.5 183.4 190.6 177.8M230.8 183.2C221.8 190.0 209.1 193.7 195.4 194.5M230.8 183.2C217.7 189.9 200.5 191.7 182.6 189.6M230.8 183.2C217.2 181.9 202.8 174.7 189.9 164.1M230.8 183.2C221.2 189.6 208.0 192.6 193.9 192.6M230.8 183.2C223.1 184.1 214.2 181.9 205.7 177.6M230.8 183.2C220.2 186.6 207.3 185.8 194.3 182.0M230.8 183.2C219.0 188.6 203.7 189.6 188.1 187.0M230.8 183.2C222.0 188.4 210.2 190.3 197.8 189.6M230.8 183.2C224.2 183.1 217.1 180.1 210.5 175.5M230.8 183.2C218.7 191.2 202.1 194.7 184.4 194.5M230.8 183.2C219.7 189.4 205.0 191.6 189.6 190.4M230.8 183.2C225.5 186.6 218.3 188.1 210.6 188.0M230.8 183.2C225.8 185.3 219.5 185.5 213.0 184.3M230.8 183.2C218.7 191.9 201.8 196.4 183.7 197.0M230.8 183.2C223.1 189.2 212.1 192.5 200.2 193.4M230.8 183.2C216.4 182.7 200.9 176.1 186.7 165.8M230.8 183.2C225.2 185.0 218.4 184.5 211.5 182.6M230.8 183.2C219.0 189.3 203.6 191.0 187.6 189.2M230.8 183.2C219.9 187.9 206.0 188.4 191.8 185.8M230.8 183.2C226.4 184.4 221.0 183.8 215.7 181.9M230.8 183.2C223.1 186.8 213.3 187.5 203.1 186.0M230.8 183.2C220.5 190.7 206.2 194.5 190.7 195.1M230.8 183.2C224.8 191.1 214.8 197.2 203.3 201.2M230.8 183.2C223.4 191.1 211.9 196.5 199.1 199.4M230.8 183.2C222.4 186.0 212.1 185.5 201.7 182.7M230.8 183.2C220.8 188.8 207.4 190.6 193.5 189.5M230.8 183.2C224.6 187.8 215.9 190.1 206.6 190.5M230.8 183.2C216.9 187.0 200.2 185.2 183.6 179.7M230.8 183.2C224.6 186.3 216.6 187.0 208.2 186.0M230.8 183.2C221.7 190.8 208.6 195.2 194.3 196.7M230.8 183.2C221.9 182.3 212.6 177.5 204.2 170.5M230.8 183.2C225.8 188.3 218.2 191.6 209.7 193.4M230.8 183.2C216.2 190.0 197.4 191.3 178.1 188.4M230.8 183.2C222.4 183.8 213.1 180.8 204.2 175.8M230.8 183.2C223.6 181.4 216.5 176.3 210.5 169.6M230.8 183.2C221.9 187.7 210.2 188.9 198.2 187.4M211.9 213.2C204.5 209.5 198.0 202.3 193.0 193.5M211.9 213.2C200.4 207.9 190.2 197.2 182.3 184.1M211.9 213.2C197.9 216.3 181.4 213.9 165.2 207.6M211.9 213.2C198.0 215.4 181.9 211.9 166.4 204.7M211.9 213.2C201.1 209.6 190.9 201.1 182.5 190.1M211.9 213.2C200.9 207.2 191.4 195.9 184.3 182.4M211.9 213.2C200.9 211.5 189.6 204.9 179.6 195.7M211.9 213.2C205.5 209.1 200.2 201.8 196.6 193.3M211.9 213.2C201.4 208.5 191.8 198.9 184.4 187.0M211.9 213.2C199.0 212.2 185.4 205.6 173.1 195.8M211.9 213.2C204.9 213.5 197.2 210.8 189.9 206.4M211.9 213.2C205.9 210.8 200.3 205.6 195.8 199.1M211.9 213.2C200.2 215.0 186.7 211.9 173.8 205.8M211.9 213.2C206.9 211.8 202.0 208.1 197.8 203.3M211.9 213.2C202.2 208.7 193.5 199.6 186.7 188.5M211.9 213.2C203.4 208.6 196.2 200.0 190.7 189.6M211.9 213.2C202.0 217.2 189.5 217.3 176.9 214.7M211.9 213.2C198.0 218.0 180.8 217.3 163.5 212.8M211.9 213.2C203.5 209.9 195.7 202.7 189.5 193.7M211.9 213.2C196.7 214.6 179.4 209.7 163.1 200.8M211.9 213.2C195.7 213.7 177.7 207.4 161.0 197.0M211.9 213.2C196.0 215.5 177.7 211.4 160.0 203.0M211.9 213.2C204.9 211.0 198.1 205.6 192.5 198.6M211.9 213.2C204.7 215.7 195.8 215.4 186.8 213.1M211.9 213.2C203.4 215.6 193.0 214.7 182.7 211.4M211.9 213.2C202.1 218.8 189.1 220.7 175.4 219.7M211.9 213.2C201.4 216.8 188.4 216.3 175.3 212.9M211.9 213.2C197.5 209.3 183.5 199.0 171.6 185.4M211.9 213.2C201.1 219.0 186.8 220.6 171.9 219.1M211.9 213.2C201.8 212.5 191.1 207.6 181.3 200.1M211.9 213.2C203.4 214.6 193.6 212.6 184.1 208.3M211.9 213.2C202.1 210.8 192.5 204.1 184.3 195.1M211.9 213.2C200.6 208.9 190.2 199.4 181.7 187.5M211.9 213.2C204.9 212.7 197.5 209.2 190.8 203.9M211.9 213.2C200.5 213.0 188.2 207.9 176.8 200.0M211.9 213.2C201.6 211.2 191.2 204.7 182.1 195.8M211.9 213.2C200.0 211.6 187.8 204.8 176.8 195.2M211.9 213.2C198.1 214.0 182.7 209.1 168.2 200.6M211.9 213.2C196.7 215.4 179.2 211.4 162.4 203.4M211.9 213.2C206.3 215.9 199.2 216.4 191.7 215.3M211.9 213.2C203.6 212.3 194.9 207.9 187.1 201.4M211.9 213.2C200.0 210.3 188.2 202.2 178.1 191.2M211.9 213.2C195.7 214.5 177.5 209.1 160.3 199.6M211.9 213.2C198.6 216.6 182.7 214.6 167.1 209.1M211.9 213.2C201.0 217.7 187.3 218.0 173.3 215.1M211.9 213.2C203.5 216.5 192.9 216.5 182.1 214.1M211.9 213.2C204.2 217.2 194.1 218.2 183.6 217.0M211.9 213.2C204.9 216.5 195.9 217.1 186.6 215.6M211.9 213.2C199.6 208.4 188.3 198.0 179.2 184.9M211.9 213.2C205.6 212.4 199.1 208.9 193.3 203.8M211.9 213.2C202.9 207.4 195.5 197.3 190.4 185.4M211.9 213.2C198.3 217.2 181.9 215.7 165.5 210.6M211.9 213.2C203.3 210.6 195.1 204.0 188.3 195.6M211.9 213.2C201.4 210.5 191.0 203.2 182.2 193.4M211.9 213.2C198.8 214.4 184.0 210.1 170.0 202.4M211.9 213.2C204.7 214.8 196.1 213.4 187.7 210.1M211.9 213.2C199.2 209.8 186.8 200.6 176.3 188.6M211.9 213.2C202.9 214.1 192.6 211.3 182.9 206.2M211.9 213.2C203.8 213.8 194.6 211.1 186.0 206.2M211.9 213.2C202.4 213.4 192.1 209.5 182.4 203.3M211.9 213.2C205.5 214.1 198.2 212.4 191.1 209.0M211.9 213.2C203.9 207.8 197.4 198.5 193.0 187.6M211.9 213.2C199.5 212.7 186.1 206.9 173.9 198.0M211.9 213.2C201.0 215.2 188.3 212.8 176.0 207.5M211.9 213.2C204.2 208.8 197.6 200.8 192.7 191.1M211.9 213.2C199.5 214.0 185.7 209.6 172.6 202.1M211.9 213.2C206.1 213.8 199.5 212.0 193.2 208.7M211.9 213.2C200.6 213.7 188.1 209.4 176.3 202.2M211.9 213.2C200.6 212.3 188.6 206.5 177.8 197.9M211.9 213.2C200.6 215.7 187.3 213.6 174.3 208.4M211.9 213.2C199.0 218.4 182.8 218.5 166.2 215.0M211.9 213.2C195.5 212.7 177.9 205.3 161.6 193.8M211.9 213.2C197.3 214.2 181.0 209.2 165.6 200.4M211.9 213.2C204.2 211.0 196.7 205.3 190.4 197.9M211.9 213.2C205.0 217.6 195.7 219.4 185.9 219.2M211.9 213.2C201.3 213.7 189.6 209.8 178.6 203.1M211.9 213.2C203.0 211.8 193.8 206.5 185.8 199.1M211.9 213.2C206.4 212.8 200.5 209.9 195.3 205.7M211.9 213.2C200.5 209.8 189.4 201.2 180.2 190.0M211.9 213.2C198.9 207.7 187.0 196.1 177.6 181.7M211.9 213.2C202.7 212.4 193.0 207.7 184.2 200.7M211.9 213.2C205.5 215.4 197.5 215.1 189.6 213.1M61.6 228.2C64.5 216.4 72.8 204.7 83.7 194.7M61.6 228.2C64.9 218.9 72.5 210.1 82.2 202.9M61.6 228.2C61.4 216.1 66.4 202.9 74.4 190.5M61.6 228.2C57.0 218.7 56.1 206.3 57.9 193.6M61.6 228.2C64.0 215.9 71.7 203.5 82.4 192.7M61.6 228.2C57.5 217.6 57.5 204.3 60.5 190.8M61.6 228.2C56.3 213.7 56.8 195.7 61.3 177.5M61.6 228.2C60.1 210.8 65.8 191.1 76.1 172.4M61.6 228.2C60.7 221.8 62.4 214.5 65.8 207.4M61.6 228.2C61.6 212.8 68.1 196.0 78.6 180.5M61.6 228.2C63.8 213.1 72.6 197.6 85.0 183.8M61.6 228.2C64.9 213.1 74.9 198.0 88.4 185.0M61.6 228.2C60.4 220.0 62.7 210.5 67.1 201.4M61.6 228.2C60.3 218.5 62.9 207.4 68.1 196.8M61.6 228.2C66.6 215.7 77.4 204.2 91.0 195.0M61.6 228.2C59.1 219.5 60.0 208.9 63.3 198.4M61.6 228.2C59.8 217.8 62.3 205.8 67.6 194.1M61.6 228.2C63.1 212.8 71.3 196.6 83.3 182.0M61.6 228.2C57.6 213.3 59.5 195.3 65.5 177.5M61.6 228.2C59.6 213.2 63.8 196.0 71.9 179.6M61.6 228.2C65.7 212.8 76.8 197.7 91.4 184.9M61.6 228.2C64.5 215.6 73.1 203.0 84.6 192.3M61.6 228.2C60.1 220.5 61.7 211.5 65.4 202.7M61.6 228.2C59.6 218.7 61.5 207.6 65.9 196.7M61.6 228.2C59.5 210.2 64.8 189.6 74.8 169.9M61.6 228.2C55.4 213.7 54.8 195.3 58.4 176.5M61.6 228.2C61.7 219.3 65.6 209.7 71.8 200.8M61.6 228.2C56.7 212.9 57.8 194.0 63.2 175.2M61.6 228.2C62.6 214.7 69.4 200.4 79.6 187.4M61.6 228.2C64.6 214.8 73.6 201.4 85.7 189.9M61.6 228.2C60.8 215.7 65.3 201.7 73.0 188.5M61.6 228.2C63.5 210.7 73.0 192.3 86.8 175.9M61.6 228.2C66.5 214.7 77.5 202.0 91.6 191.6M61.6 228.2C65.1 217.0 73.8 206.2 85.0 197.3M61.6 228.2C56.2 214.7 56.1 197.6 59.8 180.3M61.6 228.2C64.1 212.3 73.6 196.1 86.8 181.8M61.6 228.2C64.3 217.6 71.7 207.2 81.6 198.4M61.6 228.2C55.1 214.9 53.7 197.6 56.2 179.8M61.6 228.2C63.4 216.7 70.2 204.9 79.8 194.5M61.6 228.2C62.5 217.0 68.2 205.2 76.7 194.5M61.6 228.2C58.0 220.0 57.4 209.6 59.3 198.9M61.6 228.2C58.3 214.4 60.6 197.9 66.7 181.6M61.6 228.2C59.8 219.8 61.5 209.8 65.4 200.2M61.6 228.2C61.2 214.1 66.8 198.6 75.9 184.1M61.6 228.2C58.8 212.6 62.4 194.5 70.2 176.9M61.6 228.2C65.7 217.5 74.7 207.7 86.0 199.7M61.6 228.2C63.6 214.6 71.6 200.6 82.9 188.1M61.6 228.2C56.8 220.2 54.9 209.4 55.5 198.1M61.6 228.2C57.1 211.2 59.3 190.7 66.3 170.5M61.6 228.2C65.7 214.6 76.0 201.6 89.3 190.6M61.6 228.2C62.8 220.0 67.7 211.5 74.5 204.0M61.6 228.2C57.7 216.9 58.3 203.0 62.0 189.0M61.6 228.2C56.9 217.9 56.2 204.7 58.4 191.2M61.6 228.2C57.6 220.9 56.4 211.2 57.3 201.1M61.6 228.2C65.4 215.9 74.8 204.2 87.0 194.3M61.6 228.2C63.0 213.4 70.7 197.9 82.1 183.9M61.6 228.2C66.6 216.7 76.9 206.4 89.8 198.2M61.6 228.2C57.5 214.9 58.6 198.6 63.5 182.3M61.6 228.2C65.7 216.7 75.1 205.9 87.0 197.1M61.6 228.2C59.3 216.2 61.9 202.2 67.7 188.5M61.6 228.2C66.3 217.7 75.9 208.4 87.8 201.0M61.6 228.2C60.4 219.3 62.9 209.1 67.7 199.3M61.6 228.2C57.7 211.4 60.5 191.4 67.9 171.8M61.6 228.2C64.5 217.1 72.4 206.1 82.9 196.9M61.6 228.2C62.8 221.4 66.9 214.5 72.7 208.5M61.6 228.2C63.8 211.7 73.1 194.6 86.5 179.4M61.6 228.2C65.5 213.7 75.9 199.5 89.7 187.5M61.6 228.2C57.6 219.2 57.0 207.7 59.0 195.9M61.6 228.2C60.7 220.6 62.9 211.8 67.1 203.5M61.6 228.2C55.4 217.4 53.1 203.0 54.1 187.9M61.6 228.2C55.3 216.6 53.3 201.3 54.8 185.3M61.6 228.2C59.8 217.2 62.5 204.5 68.1 192.1M61.6 228.2C58.5 210.6 62.6 190.0 71.4 170.1M61.6 228.2C58.0 212.3 60.8 193.4 68.0 174.8M61.6 228.2C59.1 215.6 61.7 200.8 67.7 186.3M61.6 228.2C59.6 220.8 60.5 211.9 63.5 203.1M61.6 228.2C56.3 212.0 57.4 192.1 63.1 172.1M61.6 228.2C58.4 218.8 58.8 207.3 61.9 195.6M61.6 228.2C58.3 219.5 58.3 208.5 60.9 197.4M61.6 228.2C65.2 215.3 74.7 202.7 87.1 192.1M61.6 228.2C60.3 213.6 65.0 197.0 73.6 181.4M61.6 228.2C59.1 216.9 61.3 203.5 66.5 190.4M33.5 197.3C32.5 186.8 35.9 174.9 42.0 163.6M33.5 197.3C36.4 185.8 44.5 174.6 55.2 165.0M33.5 197.3C33.7 184.2 39.5 169.9 48.6 156.8M33.5 197.3C34.8 189.8 39.4 182.1 45.9 175.3M33.5 197.3C38.6 187.5 48.3 178.9 60.0 172.4M33.5 197.3C32.6 183.0 37.6 167.1 46.3 152.0M33.5 197.3C37.4 186.9 46.0 177.3 56.9 169.4M33.5 197.3C41.6 185.2 55.7 175.5 72.1 168.9M33.5 197.3C41.7 183.0 56.8 170.9 74.8 162.0M33.5 197.3C35.1 181.9 43.3 165.9 55.2 151.4M33.5 197.3C38.0 183.0 49.0 169.3 63.2 157.9M33.5 197.3C35.9 188.0 42.4 179.0 51.0 171.2M33.5 197.3C40.5 186.9 52.6 178.6 66.7 172.9M33.5 197.3C39.6 186.0 51.1 176.3 64.9 169.0M33.5 197.3C34.6 185.1 40.9 172.3 50.2 160.7M33.5 197.3C34.6 186.5 40.4 175.3 48.9 165.2M33.5 197.3C39.3 185.4 50.6 174.9 64.5 166.8M33.5 197.3C32.3 184.7 36.4 170.5 43.8 157.0M33.5 197.3C42.8 186.0 57.8 177.7 74.9 172.7M33.5 197.3C41.3 181.2 56.7 167.1 75.5 156.1M33.5 197.3C39.3 183.4 51.6 170.7 66.9 160.6M33.5 197.3C39.1 189.3 48.6 182.8 59.6 178.5M33.5 197.3C36.9 187.4 44.8 178.0 54.9 170.3M33.5 197.3C34.6 188.2 39.7 178.6 47.0 170.1M33.5 197.3C33.1 185.6 37.6 172.6 45.1 160.5M33.5 197.3C40.8 184.1 54.4 172.8 70.8 164.4M33.5 197.3C36.0 186.5 43.4 175.8 53.2 166.6M33.5 197.3C38.3 185.5 48.5 174.7 61.3 166.1M33.5 197.3C39.4 184.5 51.3 173.1 66.0 164.2M33.5 197.3C33.3 180.5 40.2 162.1 51.4 145.0M33.5 197.3C33.0 189.5 35.8 180.8 40.6 172.6M33.5 197.3C38.8 179.6 52.0 162.5 69.3 148.2M33.5 197.3C41.1 182.4 55.7 169.4 73.5 159.5M33.5 197.3C38.2 180.1 50.7 163.4 67.1 149.3M33.5 197.3C35.3 188.8 40.8 180.3 48.4 172.9M33.5 197.3C31.7 183.0 35.7 166.7 43.5 151.0M33.5 197.3C34.2 181.6 41.7 164.7 53.1 149.3M33.5 197.3C38.7 186.3 49.1 176.6 61.8 169.0M33.5 197.3C36.4 185.2 44.6 173.2 55.7 162.9M33.5 197.3C40.0 190.3 50.0 185.3 61.3 182.6M33.5 197.3C39.5 189.7 49.3 183.9 60.5 180.3M33.5 197.3C39.7 180.0 53.9 163.7 71.9 150.4M33.5 197.3C31.4 184.9 34.3 170.5 40.5 156.6M33.5 197.3C37.0 181.8 47.4 166.3 61.4 152.9M33.5 197.3C32.4 184.0 36.9 169.0 44.9 154.8M33.5 197.3C31.6 186.7 34.0 174.4 39.2 162.4M33.5 197.3C36.9 191.1 43.2 185.9 50.8 181.9M33.5 197.3C39.9 186.6 51.4 177.7 65.0 171.3M33.5 197.3C33.9 187.6 38.4 177.1 45.3 167.6M33.5 197.3C40.6 180.5 55.4 165.3 73.9 153.1M33.5 197.3C42.6 187.1 56.8 179.7 72.8 175.5M33.5 197.3C33.8 190.2 37.3 182.6 42.4 175.6M33.5 197.3C34.7 179.9 43.5 161.4 56.5 144.6M33.5 197.3C31.9 182.2 36.6 165.2 45.2 148.9M33.5 197.3C38.8 184.0 50.3 171.7 64.7 161.9M33.5 197.3C38.6 182.4 50.4 168.2 65.7 156.6M33.5 197.3C41.2 186.9 54.0 178.7 68.8 173.4M33.5 197.3C40.3 181.7 54.4 167.5 71.9 156.3M33.5 197.3C33.8 182.6 40.3 166.7 50.6 152.0M33.5 197.3C34.5 188.8 39.2 179.9 46.0 171.9M33.5 197.3C40.8 185.7 53.6 176.0 68.8 169.2M33.5 197.3C40.0 183.2 53.1 170.6 69.3 160.7M33.5 197.3C35.5 189.5 40.9 181.8 48.2 175.2M33.5 197.3C39.4 182.1 52.2 167.9 68.4 156.5M33.5 197.3C40.7 183.2 54.5 170.8 71.4 161.4M33.5 197.3C36.6 188.6 43.8 180.4 52.8 173.8M33.5 197.3C41.6 188.9 54.0 183.3 67.9 180.3M33.5 197.3C36.3 180.1 46.7 162.4 61.2 146.9M33.5 197.3C36.9 186.5 45.1 176.1 55.9 167.5M33.5 197.3C41.4 186.3 54.6 177.6 70.0 171.8M33.5 197.3C36.5 182.9 45.9 168.4 58.7 155.9M33.5 197.3C42.2 184.9 57.0 175.1 74.2 168.6M33.5 197.3C32.4 185.5 36.3 172.2 43.2 159.5M33.5 197.3C37.1 185.0 46.1 173.1 58.1 163.0M33.5 197.3C33.6 183.4 39.6 168.2 49.1 154.2M33.5 197.3C40.0 189.4 50.5 183.5 62.5 179.9M33.5 197.3C34.6 185.8 40.7 173.7 49.6 162.8M33.5 197.3C32.4 188.6 34.8 178.7 39.5 169.2M33.5 197.3C40.0 181.0 54.0 166.0 71.6 153.9M33.5 197.3C39.3 180.8 52.6 165.2 69.6 152.4M33.5 197.3C41.9 186.0 55.9 177.3 72.1 171.6M33.5 197.3C33.4 181.5 40.0 164.3 50.5 148.3M33.5 197.3C33.5 184.9 38.7 171.3 47.1 158.7M33.5 197.3C38.6 188.9 47.7 181.9 58.5 176.9M33.5 197.3C36.9 189.9 43.7 183.2 52.2 178.0M33.5 197.3C40.1 184.5 52.8 173.3 68.1 164.9M33.5 197.3C36.7 179.4 47.8 161.1 63.2 145.2M33.5 197.3C36.3 189.8 42.6 182.8 50.5 177.2M33.5 197.3C38.4 190.0 46.9 184.2 56.8 180.1M23.8 166.2C32.5 159.1 45.1 155.1 58.8 153.9M23.8 166.2C33.1 157.1 47.2 151.2 62.9 148.3M23.8 166.2C35.2 157.3 51.4 152.5 68.9 151.2M23.8 166.2C35.5 155.4 52.8 148.6 72.0 145.6M23.8 166.2C26.6 152.0 35.8 137.7 48.3 125.3M23.8 166.2C32.5 151.2 48.5 138.6 67.5 129.5M23.8 166.2C33.3 153.7 49.0 144.0 67.1 137.8M23.8 166.2C31.2 159.1 42.4 154.5 54.7 152.4M23.8 166.2C32.6 152.5 48.0 141.4 66.2 133.5M23.8 166.2C31.1 159.8 41.8 156.0 53.6 154.5M23.8 166.2C33.4 157.9 47.5 153.0 62.8 151.1M23.8 166.2C27.1 158.1 34.2 150.6 43.1 144.6M23.8 166.2C32.9 156.5 46.9 149.7 62.7 146.1M23.8 166.2C26.1 152.6 34.5 138.8 46.1 126.8M23.8 166.2C27.8 154.1 37.3 142.7 49.6 133.2M23.8 166.2C33.9 153.6 50.4 144.2 69.2 138.5M23.8 166.2C30.0 154.1 41.9 143.6 56.4 135.6M23.8 166.2C24.8 157.2 29.8 147.8 37.0 139.4M23.8 166.2C27.5 152.0 37.5 138.2 50.9 126.4M23.8 166.2C27.9 156.2 36.5 147.1 47.4 139.8M23.8 166.2C25.6 155.2 32.3 143.9 41.6 134.0M23.8 166.2C28.8 156.0 38.6 147.0 50.6 140.1M23.8 166.2C31.2 161.4 41.4 159.4 52.2 159.6M23.8 166.2C26.7 155.3 34.6 144.7 45.0 135.7M23.8 166.2C32.1 151.9 47.2 139.7 65.3 130.9M23.8 166.2C35.0 153.5 52.6 144.3 72.6 139.0M23.8 166.2C31.1 152.6 44.9 140.9 61.5 132.1M23.8 166.2C28.3 152.4 39.1 139.3 53.1 128.5M23.8 166.2C30.2 152.2 43.2 139.7 59.2 130.0M23.8 166.2C34.6 151.7 52.5 140.5 73.3 133.2M23.8 166.2C34.9 159.4 49.9 156.7 65.7 157.4M23.8 166.2C31.1 158.3 42.5 152.8 55.3 149.7M23.8 166.2C32.5 157.3 45.9 151.3 60.8 148.2M23.8 166.2C31.3 151.3 45.8 138.3 63.4 128.4M23.8 166.2C31.5 150.6 46.5 136.9 64.9 126.3M23.8 166.2C29.5 150.5 42.5 135.9 59.0 124.0M23.8 166.2C29.8 153.3 41.8 141.9 56.5 132.9M23.8 166.2C28.5 159.3 36.7 153.8 46.2 150.0M23.8 166.2C32.6 153.9 47.5 144.1 64.7 137.7M23.8 166.2C33.0 150.4 49.7 137.1 69.7 127.5M23.8 166.2C32.3 159.7 44.4 156.3 57.4 155.5M23.8 166.2C31.8 157.9 44.1 152.4 57.8 149.5M23.8 166.2C32.3 161.2 43.7 159.3 55.6 160.0M23.8 166.2C36.1 156.5 53.7 151.2 72.7 149.7M23.8 166.2C30.2 161.6 39.1 159.3 48.7 159.0M23.8 166.2C24.8 156.4 30.0 146.1 37.7 136.9M23.8 166.2C28.3 157.7 36.9 150.4 47.3 144.9M23.8 166.2C26.4 157.7 32.9 149.5 41.3 142.7M23.8 166.2C26.5 151.0 36.1 135.5 49.2 122.0M23.8 166.2C34.3 152.9 51.6 142.9 71.3 136.6M23.8 166.2C31.8 155.1 45.3 146.3 60.9 140.6M23.8 166.2C30.1 160.3 39.6 156.6 50.0 155.0M23.8 166.2C29.6 152.4 41.7 139.8 56.9 129.9M23.8 166.2C25.8 158.1 31.5 150.1 39.1 143.3M23.8 166.2C26.3 160.0 31.7 154.2 38.4 149.6M23.8 166.2C30.7 153.9 43.5 143.4 58.9 135.7M23.8 166.2C31.3 156.8 43.4 149.7 57.4 145.2M23.8 166.2C29.7 156.3 40.3 148.0 53.0 142.1M23.8 166.2C30.8 160.7 40.8 157.6 51.7 156.8M23.8 166.2C27.8 158.6 35.5 152.1 44.8 147.2M23.8 166.2C29.3 157.0 39.2 149.3 51.0 143.7M17.9 137.0C27.1 128.9 40.7 123.9 55.5 121.9M17.9 137.0C23.0 128.6 32.2 121.5 43.1 116.5M17.9 137.0C32.2 127.9 51.6 124.1 72.2 124.6M17.9 137.0C24.2 124.5 36.3 113.6 51.1 105.3M17.9 137.0C24.5 131.7 33.8 128.8 44.0 127.9M17.9 137.0C28.8 124.4 46.0 115.2 65.6 109.8M17.9 137.0C28.5 131.3 42.6 129.6 57.2 131.0M17.9 137.0C28.0 126.0 43.6 118.2 61.2 113.9M17.9 137.0C31.3 130.6 48.6 129.3 66.5 131.9M17.9 137.0C31.3 124.2 51.3 116.0 73.5 112.1M17.9 137.0C29.0 133.7 42.5 134.8 55.9 139.0M17.9 137.0C24.8 133.5 33.9 132.7 43.2 133.8M17.9 137.0C31.4 127.6 50.2 123.0 70.2 122.6M17.9 137.0C32.5 130.0 51.4 128.6 70.9 131.5M17.9 137.0C23.7 125.6 35.0 115.6 48.6 108.0M17.9 137.0C28.4 133.0 41.5 133.1 54.8 136.1M17.9 137.0C24.6 131.1 34.3 127.6 45.0 126.1M17.9 137.0C26.3 132.8 37.2 131.8 48.5 133.2M17.9 137.0C25.8 134.0 35.7 134.0 45.8 136.3M17.9 137.0C23.4 124.5 34.6 113.2 48.6 104.3M17.9 137.0C32.7 127.0 53.1 122.3 74.8 122.1M17.9 137.0C22.5 130.6 30.3 125.6 39.3 122.2M17.9 137.0C22.4 126.9 31.6 117.9 43.0 110.8M17.9 137.0C26.0 130.1 37.8 126.1 50.7 124.6M17.9 137.0C30.3 124.6 49.1 116.4 70.0 112.3M17.9 137.0C26.9 132.8 38.4 132.1 50.2 134.0M17.9 137.0C25.3 127.9 37.2 121.1 50.8 116.8M17.9 137.0C31.7 126.0 51.4 119.8 72.8 118.0M17.9 137.0C28.7 129.3 43.7 125.5 59.8 125.0M17.9 137.0C26.3 123.0 41.3 111.4 59.2 102.9M17.9 137.0C26.8 129.5 39.8 125.0 53.9 123.5M17.9 137.0C26.3 128.2 39.3 122.1 53.8 118.9M17.9 137.0C27.8 125.1 43.7 116.3 61.7 111.0M17.9 137.0C23.8 133.2 31.9 131.5 40.5 131.6M17.9 137.0C28.0 127.1 43.3 120.5 60.3 117.4M17.9 137.0C27.9 133.9 40.2 134.8 52.4 138.5M17.9 137.0C27.2 127.1 41.6 120.3 57.8 116.6M17.9 137.0C30.0 126.2 47.8 119.5 67.3 116.7M17.9 137.0C31.9 125.0 52.3 117.9 74.6 115.4M17.9 137.0C23.8 130.6 33.0 126.1 43.3 123.6M17.9 137.0C30.7 127.9 48.6 123.3 67.7 122.8M17.9 137.0C26.9 130.4 39.4 126.9 53.0 126.3M17.9 137.0C21.5 129.7 28.6 123.3 37.2 118.4M17.9 137.0C29.3 131.6 43.9 130.6 59.1 132.9M17.9 137.0C25.0 124.9 37.9 114.8 53.3 107.4M17.9 137.0C28.5 127.6 44.1 121.8 61.2 119.5M17.9 137.0C28.5 130.5 42.9 127.8 58.1 128.4M17.9 137.0C28.1 130.0 42.2 126.6 57.3 126.4M17.9 137.0C23.9 128.6 34.1 121.9 45.8 117.4M17.9 137.0C30.9 132.7 46.8 133.5 62.8 138.0M17.9 137.0C27.7 122.3 44.6 110.5 64.5 102.4M17.9 137.0C26.4 127.4 39.7 120.6 54.8 116.7M17.9 137.0C30.1 130.4 46.3 128.4 63.0 130.1M17.9 137.0C31.1 125.4 50.4 118.3 71.5 115.5M17.9 137.0C27.3 129.9 40.6 126.2 54.9 125.4M17.9 137.0C30.5 123.5 50.1 114.2 71.9 109.1M17.9 137.0C23.9 123.7 36.0 111.7 51.0 102.3M17.9 137.0C29.2 130.8 44.1 128.8 59.7 130.2M17.9 137.0C24.8 127.3 36.5 119.7 50.1 114.6M17.9 137.0C30.1 131.5 45.7 130.6 61.8 133.3M17.9 137.0C25.4 132.5 35.6 130.7 46.3 131.2M17.9 137.0C29.3 125.0 46.8 116.8 66.5 112.5M17.9 137.0C30.8 127.1 49.1 121.7 68.8 120.4M22.4 108.0C33.0 100.1 47.9 95.9 64.0 95.1M22.4 108.0C32.7 102.3 46.4 100.4 60.6 101.6M22.4 108.0C38.2 102.4 57.8 103.1 77.5 108.1M22.4 108.0C31.1 99.2 44.4 93.2 59.2 90.2M22.4 108.0C34.2 105.1 48.4 106.9 62.3 111.9M22.4 108.0C30.0 103.4 40.2 101.5 51.0 101.9M22.4 108.0C36.3 99.6 55.0 96.4 74.7 97.3M22.4 108.0C35.5 99.2 53.4 95.1 72.6 95.0M22.4 108.0C32.9 105.7 45.4 107.7 57.6 112.5M22.4 108.0C30.6 103.5 41.4 102.1 52.7 103.2M22.4 108.0C38.2 98.5 59.5 94.8 82.0 96.0M22.4 108.0C38.8 103.5 58.6 105.5 78.3 112.1M22.4 108.0C37.0 101.3 55.8 100.2 75.1 103.4M22.4 108.0C30.2 102.0 41.3 98.8 53.2 98.0M22.4 108.0C29.8 99.8 41.4 94.0 54.5 90.8M22.4 108.0C28.8 99.5 39.5 92.9 51.8 88.6M22.4 108.0C34.9 99.7 52.1 96.0 70.3 96.1M22.4 108.0C35.6 98.5 54.1 93.7 73.8 93.1M22.4 108.0C37.0 105.1 54.2 108.1 70.9 115.0M22.4 108.0C31.3 98.4 45.1 91.7 60.7 88.0M22.4 108.0C28.1 104.2 36.0 102.4 44.3 102.4M22.4 108.0C33.8 106.6 46.8 110.0 59.3 116.3M22.4 108.0C30.4 105.8 40.2 106.8 49.8 110.0M22.4 108.0C30.8 100.1 43.3 95.0 57.2 92.7M22.4 108.0C37.9 105.4 55.9 109.1 73.3 116.9M22.4 108.0C36.3 97.4 55.9 91.8 77.0 90.5M22.4 108.0C31.0 96.3 45.3 87.2 61.9 81.2M22.4 108.0C29.6 96.9 42.1 87.9 56.8 81.5M22.4 108.0C33.3 101.4 48.0 98.9 63.5 99.6M22.4 108.0C30.1 105.0 39.7 104.9 49.5 107.0M22.4 108.0C36.6 98.1 56.3 93.3 77.4 92.9M22.4 108.0C38.5 104.5 57.5 107.5 76.1 114.8M22.4 108.0C38.5 101.4 58.9 101.0 79.6 105.1M22.4 108.0C36.2 106.7 51.9 111.1 66.7 119.2M22.4 108.0C36.3 105.8 52.4 109.3 67.9 116.4M22.4 108.0C29.3 102.0 39.4 98.4 50.5 97.1M22.4 108.0C29.3 105.9 37.7 106.6 46.0 109.2M22.4 108.0C35.3 107.2 49.7 111.7 63.2 119.6M22.4 108.0C30.1 106.6 39.1 108.4 47.8 112.2M22.4 108.0C31.5 105.2 42.7 106.1 53.8 109.5M22.4 108.0C31.6 101.3 44.4 98.0 58.2 97.4M22.4 108.0C37.7 101.0 57.4 99.9 77.6 103.2M22.4 108.0C28.7 100.4 38.8 94.8 50.3 91.4M22.4 108.0C38.2 100.4 58.7 98.7 79.8 101.7M22.4 108.0C33.4 102.3 47.9 100.8 62.9 102.5M22.4 108.0C34.3 99.4 50.8 95.1 68.6 94.5M22.4 108.0C32.1 99.0 46.5 93.2 62.4 90.6M22.4 108.0C38.2 103.3 57.4 104.8 76.5 110.8M22.4 108.0C37.4 104.6 55.2 107.3 72.7 114.0M22.4 108.0C32.6 98.4 47.8 92.2 64.5 89.4M22.4 108.0C32.6 101.6 46.5 99.0 61.2 99.5M22.4 108.0C27.6 100.6 36.4 94.8 46.7 90.9M22.4 108.0C33.9 101.2 49.4 98.6 65.6 99.5M22.4 108.0C36.4 100.9 54.6 99.1 73.5 101.5M22.4 108.0C34.2 107.4 47.4 111.7 59.8 119.1M22.4 108.0C32.1 106.6 43.2 109.1 54.0 114.1M22.4 108.0C35.3 105.7 50.4 108.7 65.0 115.1M22.4 108.0C37.0 102.1 55.5 101.8 74.2 105.8M22.4 108.0C30.1 104.0 40.2 103.0 50.7 104.2M22.4 108.0C29.5 102.9 39.3 100.2 49.9 99.8M22.4 108.0C29.7 98.0 41.8 90.1 55.9 84.9M22.4 108.0C28.8 104.0 37.5 102.4 46.7 102.8M22.4 108.0C32.6 106.2 44.4 108.7 55.9 113.8M34.8 77.3C46.9 78.8 59.5 85.5 70.7 95.2M34.8 77.3C52.2 76.9 71.3 83.9 89.1 95.3M34.8 77.3C50.8 73.8 69.7 76.7 88.2 83.9M34.8 77.3C48.8 70.3 67.1 68.6 86.0 71.0M34.8 77.3C42.6 70.2 54.0 65.7 66.7 63.8M34.8 77.3C43.8 77.4 53.6 81.4 62.6 87.6M34.8 77.3C49.2 71.6 67.3 71.6 85.7 75.6M34.8 77.3C48.0 79.8 61.3 88.2 72.8 99.7M34.8 77.3C50.0 72.1 68.9 72.9 87.8 77.9M34.8 77.3C47.5 79.1 60.7 86.5 72.3 96.9M34.8 77.3C50.1 77.4 66.8 84.0 82.2 94.4M34.8 77.3C41.7 71.9 51.4 69.0 62.0 68.2M34.8 77.3C42.9 71.1 54.4 67.7 66.8 66.9M34.8 77.3C47.7 73.6 63.3 75.1 78.7 80.1M34.8 77.3C44.2 78.2 54.0 83.3 62.9 90.6M34.8 77.3C50.1 73.4 68.5 75.6 86.6 82.0M34.8 77.3C51.3 70.1 72.4 69.4 94.0 73.3M34.8 77.3C42.4 74.4 52.0 74.5 61.7 76.7M34.8 77.3C45.3 73.8 58.3 74.4 71.3 78.0M34.8 77.3C47.4 75.8 61.7 79.6 75.4 86.6M34.8 77.3C46.9 80.0 59.0 88.2 69.3 99.1M34.8 77.3C52.0 71.0 73.4 71.3 95.0 76.5M34.8 77.3C46.1 78.0 58.1 83.5 69.0 91.8M34.8 77.3C49.1 78.2 64.3 85.1 78.1 95.7M34.8 77.3C41.9 71.1 52.3 67.5 63.7 66.1M34.8 77.3C42.6 76.5 51.4 78.9 59.8 83.4M34.8 77.3C48.4 78.9 62.6 86.4 75.3 97.3M34.8 77.3C48.6 77.2 63.6 83.0 77.6 92.2M34.8 77.3C45.4 72.0 59.2 70.8 73.5 72.7M34.8 77.3C51.7 71.9 72.5 73.2 93.3 79.1M34.8 77.3C46.5 71.8 61.6 70.7 77.2 73.0M34.8 77.3C48.1 75.9 63.3 80.0 77.7 87.6M34.8 77.3C46.5 76.7 59.5 81.1 71.7 88.5M34.8 77.3C46.3 78.7 58.3 85.1 69.0 94.4M34.8 77.3C50.2 74.1 68.3 77.2 86.0 84.4M34.8 77.3C48.7 72.2 65.9 72.5 83.4 76.7M34.8 77.3C43.9 74.5 55.1 75.3 66.3 78.6M34.8 77.3C46.7 77.5 59.5 82.7 71.3 91.0M34.8 77.3C51.3 76.5 69.7 82.7 87.0 93.1M34.8 77.3C44.7 68.8 59.2 63.6 75.0 61.7M34.8 77.3C41.6 75.6 49.7 76.7 57.7 79.6M34.8 77.3C44.5 77.7 54.9 82.1 64.5 89.1M34.8 77.3C43.4 70.4 55.7 66.6 69.0 65.4M34.8 77.3C47.2 69.6 64.0 66.4 81.8 67.0M34.8 77.3C51.1 71.3 71.4 71.7 92.0 76.7M34.8 77.3C46.3 70.8 61.6 68.7 77.6 70.0M34.8 77.3C49.4 73.4 67.1 75.4 84.5 81.4M34.8 77.3C50.8 74.6 69.3 78.3 87.3 86.4M34.8 77.3C41.4 73.1 50.3 71.3 59.8 71.5M34.8 77.3C45.9 76.9 58.1 81.2 69.5 88.4M34.8 77.3C52.6 75.9 72.5 82.0 91.3 92.7M34.8 77.3C47.9 78.3 61.7 84.8 74.3 94.7M34.8 77.3C45.8 71.4 60.4 69.7 75.5 71.2M34.8 77.3C49.3 75.7 65.8 80.1 81.5 88.3M34.8 77.3C49.7 68.9 69.6 66.0 90.4 67.6M34.8 77.3C43.7 75.8 54.1 78.0 64.0 82.5M34.8 77.3C49.3 77.6 65.0 84.0 79.5 94.1M34.8 77.3C47.7 74.3 63.0 76.5 78.0 82.2M34.8 77.3C49.3 69.7 68.3 67.5 88.1 69.6M34.8 77.3C41.4 73.8 50.0 72.8 59.0 73.8M34.8 77.3C45.9 72.7 59.9 72.3 74.3 75.2M34.8 77.3C44.2 70.5 57.4 67.0 71.6 66.5M34.8 77.3C47.0 70.7 63.1 68.6 79.9 70.1M34.8 77.3C45.7 68.4 61.4 63.2 78.4 61.5M34.8 77.3C44.6 74.7 56.4 76.0 68.1 79.9M34.8 77.3C43.9 79.1 53.0 84.8 60.9 92.8M34.8 77.3C46.5 70.0 62.4 67.0 79.1 67.5M34.8 77.3C48.1 73.0 64.4 73.9 80.7 78.6M34.8 77.3C43.9 76.5 54.1 79.4 63.8 84.7M34.8 77.3C41.5 74.8 49.9 75.0 58.4 77.0M34.8 77.3C48.8 72.9 66.0 74.0 83.2 79.1M34.8 77.3C43.2 76.1 52.8 78.4 62.0 82.8M34.8 77.3C43.2 75.3 53.2 76.7 63.0 80.4M34.8 77.3C52.9 73.9 74.0 77.9 94.6 86.6M34.8 77.3C46.9 75.4 60.9 78.4 74.4 84.7M34.8 77.3C48.0 69.8 65.7 67.2 84.1 68.5M34.8 77.3C47.1 73.9 61.9 75.3 76.6 80.2M34.8 77.3C52.2 73.8 72.7 77.4 92.7 85.7M34.8 77.3C41.9 76.6 49.8 78.9 57.4 83.0M34.8 77.3C48.6 73.5 65.2 75.2 81.6 80.7M34.8 77.3C46.7 72.5 61.8 72.4 77.0 75.7M34.8 77.3C49.2 76.7 65.2 82.2 80.1 91.4M34.8 77.3C49.6 74.9 66.8 78.6 83.4 86.2M34.8 77.3C43.8 71.5 56.0 68.9 69.1 69.2M34.8 77.3C45.8 79.0 57.1 85.5 67.0 94.7M34.8 77.3C48.6 71.3 66.2 70.5 84.2 73.7M34.8 77.3C47.9 76.7 62.4 81.6 76.0 89.9M34.8 77.3C48.2 69.0 66.4 65.7 85.6 66.4M34.8 77.3C48.8 68.5 67.7 64.8 87.8 65.4M34.8 77.3C43.3 76.9 52.7 80.0 61.5 85.2M34.8 77.3C43.7 73.1 55.2 72.2 67.1 74.0M34.8 77.3C44.6 74.0 56.6 74.6 68.7 77.9M34.8 77.3C42.4 72.9 52.7 71.3 63.4 72.0M34.8 77.3C44.9 71.6 58.3 69.7 72.3 70.7M34.8 77.3C51.7 74.1 71.4 77.8 90.5 86.0M34.8 77.3C46.7 68.3 63.6 63.4 81.7 62.4M34.8 77.3C48.3 74.4 64.2 77.0 79.8 83.3M34.8 77.3C46.0 75.4 59.1 78.1 71.7 83.8M34.8 77.3C50.6 69.4 71.1 67.6 92.4 70.3M34.8 77.3C47.2 74.8 61.8 77.3 76.0 83.1M34.8 77.3C47.8 71.0 64.7 69.7 82.2 72.2M34.8 77.3C49.5 78.6 65.0 86.2 79.0 97.4M34.8 77.3C42.6 71.9 53.3 69.4 64.8 69.2M34.8 77.3C47.8 68.3 65.7 63.9 84.9 63.5M34.8 77.3C50.6 76.8 68.0 82.9 84.2 93.1M51.6 55.3C60.3 57.0 69.2 62.5 76.9 70.1M51.6 55.3C65.3 53.8 80.8 58.0 95.6 65.8M51.6 55.3C67.9 54.6 86.0 60.8 103.0 71.2M51.6 55.3C66.4 57.6 81.6 66.3 95.0 78.6M51.6 55.3C63.3 56.9 75.3 63.5 86.0 73.0M51.6 55.3C60.5 50.2 72.3 48.5 84.7 49.4M51.6 55.3C61.1 56.0 71.3 60.8 80.5 67.9M51.6 55.3C68.9 52.7 88.9 57.3 108.1 66.4M51.6 55.3C64.4 58.8 76.9 68.0 87.5 80.1M51.6 55.3C63.0 52.3 76.8 53.8 90.3 58.5M51.6 55.3C59.7 56.5 68.0 61.3 75.4 68.0M51.6 55.3C64.5 58.0 77.5 66.4 88.7 77.8M51.6 55.3C68.8 58.7 86.1 69.7 101.2 84.7M51.6 55.3C69.9 53.7 90.5 59.8 110.1 70.5M51.6 55.3C66.6 54.3 83.5 59.5 99.3 68.6M51.6 55.3C67.3 54.2 84.9 59.7 101.5 69.3M51.6 55.3C65.1 57.6 78.8 65.7 90.9 77.1M51.6 55.3C61.8 56.3 72.6 61.7 82.2 69.6M51.6 55.3C65.1 58.4 78.6 67.5 90.2 79.7M51.6 55.3C60.7 54.6 70.9 57.7 80.5 63.1M51.6 55.3C67.2 50.8 86.1 52.4 104.9 58.4M51.6 55.3C70.0 55.8 89.9 64.1 108.2 77.1M51.6 55.3C67.5 51.4 86.6 53.9 105.3 60.7M51.6 55.3C63.0 51.0 77.2 51.2 91.6 54.6M51.6 55.3C61.7 58.5 71.3 66.3 79.3 76.3M51.6 55.3C61.0 52.3 72.4 53.1 83.9 56.4M51.6 55.3C69.2 51.8 89.8 55.4 109.9 63.8M51.6 55.3C68.4 56.6 86.1 65.1 102.1 77.8M51.6 55.3C65.4 49.9 82.8 49.8 100.4 53.7M51.6 55.3C60.8 53.1 71.7 54.6 82.4 58.6M51.6 55.3C68.8 55.0 87.8 61.9 105.4 73.3M51.6 55.3C61.8 55.5 72.8 60.1 83.0 67.2M51.6 55.3C69.4 54.7 89.1 61.5 107.5 73.0M51.6 55.3C65.2 56.1 79.7 62.6 92.9 72.6M51.6 55.3C64.9 49.1 82.1 48.0 99.8 50.8M51.6 55.3C60.9 53.9 71.6 56.3 81.9 61.2M51.6 55.3C62.6 52.9 75.6 54.9 88.4 59.9M51.6 55.3C64.2 51.5 79.5 52.7 94.8 57.4M51.6 55.3C65.3 56.7 79.7 64.1 92.6 74.9M51.6 55.3C59.7 51.0 70.4 49.8 81.5 51.0M51.6 55.3C62.2 51.7 75.4 52.3 88.6 55.8M51.6 55.3C64.4 55.6 78.2 61.4 90.8 70.4M51.6 55.3C60.3 55.3 69.7 59.0 78.4 64.9M51.6 55.3C63.5 59.6 74.7 69.2 83.8 81.6M51.6 55.3C66.5 50.5 84.7 51.6 103.0 56.8M51.6 55.3C63.1 57.8 74.5 65.4 84.4 75.6M51.6 55.3C62.6 55.9 74.3 61.3 84.9 69.3M51.6 55.3C64.7 59.9 77.1 70.6 87.2 84.2M51.6 55.3C66.5 53.1 83.7 57.1 100.3 65.0M51.6 55.3C60.4 57.7 69.1 64.1 76.4 72.5M51.6 55.3C58.7 55.7 66.3 59.1 73.2 64.2M51.6 55.3C64.4 50.4 80.4 50.5 96.6 54.3M51.6 55.3C69.7 52.7 90.5 57.5 110.5 67.2M51.6 55.3C67.9 56.1 85.4 63.9 101.3 75.8M51.6 55.3C63.5 49.8 78.8 48.8 94.5 51.3M51.6 55.3C65.8 58.6 79.8 68.3 91.9 81.3M51.6 55.3C66.0 51.1 83.5 52.7 100.9 58.2M51.6 55.3C64.1 60.9 75.4 72.3 84.2 86.3M51.6 55.3C70.0 54.7 90.4 62.0 109.4 73.9M51.6 55.3C65.9 49.3 84.1 48.9 102.6 52.6M51.6 55.3C64.8 55.2 79.4 60.6 92.8 69.5M51.6 55.3C63.9 59.0 75.7 68.3 85.5 80.3M51.6 55.3C58.8 56.5 66.1 60.8 72.5 66.8M51.6 55.3C68.3 52.2 87.8 55.8 106.8 63.9M51.6 55.3C66.5 51.8 84.3 54.3 101.8 60.9M51.6 55.3C62.0 59.5 71.6 68.5 79.2 79.7M74.1 38.0C87.7 45.4 99.4 59.2 108.2 75.9M74.1 38.0C88.7 37.4 104.8 43.0 119.9 52.2M74.1 38.0C85.8 38.2 98.5 43.5 110.2 51.6M74.1 38.0C87.1 34.7 102.6 36.6 117.9 42.1M74.1 38.0C84.8 40.9 95.3 48.6 104.2 58.7M74.1 38.0C90.4 37.8 108.3 44.5 124.9 55.3M74.1 38.0C83.3 41.6 91.7 49.4 98.6 59.2M74.1 38.0C85.1 46.3 93.6 60.1 99.2 76.0M74.1 38.0C88.6 36.1 105.2 40.2 121.1 48.1M74.1 38.0C88.5 43.2 102.0 55.0 113.1 70.0M74.1 38.0C84.2 38.1 95.1 42.4 105.2 49.3M74.1 38.0C88.7 39.9 103.9 48.1 117.4 59.9M74.1 38.0C84.2 45.9 91.8 58.8 96.6 73.6M74.1 38.0C92.0 39.3 111.0 48.4 128.2 61.9M74.1 38.0C81.2 43.1 86.7 51.6 90.4 61.6M74.1 38.0C91.0 40.6 108.2 50.6 123.5 64.6M74.1 38.0C88.1 39.4 102.9 46.8 116.1 57.7M74.1 38.0C87.9 42.8 100.8 54.0 111.5 68.2M74.1 38.0C84.4 42.6 93.7 52.0 101.0 63.6M74.1 38.0C91.5 40.3 109.6 50.2 125.6 64.3M74.1 38.0C89.5 42.8 104.2 54.6 116.4 69.8M74.1 38.0C82.6 35.9 92.8 37.1 102.8 40.7M74.1 38.0C87.9 40.0 102.0 47.9 114.6 59.2M74.1 38.0C82.5 42.6 89.6 51.1 95.0 61.4M74.1 38.0C89.3 36.4 106.6 41.0 123.0 49.7M74.1 38.0C81.7 40.9 88.9 47.2 94.6 55.3M74.1 38.0C87.2 43.2 99.3 54.4 109.0 68.4M74.1 38.0C90.5 43.5 106.0 56.5 118.7 73.2M74.1 38.0C86.6 43.6 97.9 55.0 106.8 69.1M74.1 38.0C88.0 38.7 102.8 45.3 116.3 55.3M74.1 38.0C90.6 43.0 106.6 55.4 119.9 71.6M74.1 38.0C89.0 35.3 106.4 38.7 123.3 46.1M74.1 38.0C82.3 44.9 88.4 55.8 92.1 68.3M74.1 38.0C90.0 41.7 105.9 52.6 119.4 67.1M74.1 38.0C88.5 38.1 104.2 44.3 118.6 54.1M74.1 38.0C87.9 37.7 103.0 43.3 117.1 52.3M74.1 38.0C86.8 38.8 100.2 45.0 112.5 54.4M74.1 38.0C83.8 39.0 94.1 44.3 103.2 51.9M74.1 38.0C87.3 44.0 99.1 56.1 108.3 71.1M74.1 38.0C86.2 45.2 96.3 58.2 103.6 73.7M74.1 38.0C86.2 42.7 97.4 53.1 106.4 66.0M74.1 38.0C82.8 40.2 91.3 46.3 98.6 54.4M74.1 38.0C88.1 35.0 104.6 37.6 120.7 43.9M74.1 38.0C89.3 37.8 106.0 44.0 121.6 54.0M74.1 38.0C81.7 39.3 89.5 44.0 96.4 50.5M74.1 38.0C83.9 41.1 93.3 48.7 101.1 58.5M74.1 38.0C85.8 36.4 99.2 39.7 112.1 46.0M74.1 38.0C83.2 42.9 90.9 52.2 96.7 63.3M74.1 38.0C90.7 41.6 107.2 52.6 121.5 67.5M74.1 38.0C89.9 43.3 104.8 55.7 117.2 71.7M74.1 38.0C89.8 42.3 105.1 53.7 118.1 68.6M74.1 38.0C84.7 41.5 94.7 49.9 103.0 60.6M74.1 38.0C90.6 36.6 109.3 42.1 126.9 51.9M74.1 38.0C83.1 37.9 92.9 41.7 102.0 47.7M74.1 38.0C90.0 38.5 107.1 45.8 122.8 57.1M74.1 38.0C85.6 37.3 98.5 41.4 110.6 48.5M74.1 38.0C89.3 44.7 103.1 58.5 114.0 75.6M74.1 38.0C81.6 40.1 89.0 45.5 95.2 52.7M74.1 38.0C88.8 45.0 101.9 58.9 112.0 76.0M74.1 38.0C86.5 36.0 100.9 39.2 114.7 45.6M74.1 38.0C88.6 42.2 102.6 52.9 114.4 66.9M74.1 38.0C86.4 40.3 98.7 48.1 109.5 58.8M74.1 38.0C91.2 41.4 108.5 52.3 123.5 67.3M74.1 38.0C90.5 42.2 106.5 53.8 120.2 69.1M74.1 38.0C80.8 41.3 86.8 47.7 91.3 55.6M74.1 38.0C87.1 37.5 101.6 42.5 115.1 50.8M74.1 38.0C83.2 36.1 93.9 37.8 104.4 42.1M74.1 38.0C89.3 45.6 102.6 60.4 112.7 78.3M74.1 38.0C86.0 39.0 98.6 45.2 110.0 54.2M74.1 38.0C87.3 41.7 100.2 51.3 111.0 63.9M74.1 38.0C82.4 40.9 90.2 47.7 96.5 56.2M74.1 38.0C89.2 39.2 105.1 47.0 119.4 58.4M74.1 38.0C82.9 38.7 92.1 43.2 100.5 49.9M74.1 38.0C91.5 43.4 108.2 56.7 122.1 73.9"/>
<path fill="none" stroke="#d696d8" stroke-width="0.5" stroke-opacity="0.1" d="M137.7 58.7C136.8 71.1 133.3 84.2 127.7 95.4M156.2 66.5C161.2 83.5 162.9 102.6 161.0 120.2M162.1 64.6C169.3 81.4 173.5 100.8 173.8 119.1M150.1 64.8C153.1 80.7 152.9 98.0 149.6 113.8M147.6 78.0C148.4 98.2 145.1 119.9 138.2 139.0M132.8 64.6C129.5 78.8 123.1 93.2 114.7 105.0M162.5 56.2C170.7 70.0 176.5 86.4 178.8 102.3M141.6 68.4C141.2 84.7 137.4 101.9 130.8 116.8M148.5 46.8C152.5 56.1 154.8 66.7 155.0 76.7M140.9 75.7C139.6 94.6 134.3 114.3 125.9 131.3M155.0 64.4C159.8 80.6 161.4 98.7 159.7 115.4M158.1 55.0C164.8 68.0 169.2 83.2 170.5 97.8M158.0 77.4C162.6 98.4 163.1 121.7 159.4 143.0M162.9 62.2C170.7 78.2 175.6 96.9 176.6 114.7M165.3 64.3C173.7 81.3 179.1 101.1 180.5 120.0M133.8 68.0C130.7 83.4 124.1 99.2 115.3 112.3M165.3 67.0C173.5 84.9 178.5 105.7 179.2 125.5M144.3 66.6C145.0 82.6 142.4 99.6 137.0 114.6M138.4 73.3C136.4 91.0 130.5 109.5 121.9 125.1M147.1 75.2C148.0 94.4 144.9 115.0 138.5 133.2M159.7 41.8C168.1 50.2 175.3 60.9 180.0 72.0M156.4 58.9C162.1 73.2 165.2 89.5 165.0 104.9M138.8 60.8C138.1 74.1 134.5 88.1 128.7 100.1M146.0 58.4C148.1 71.6 147.5 86.0 144.4 98.9M148.5 60.4C151.2 74.5 151.2 90.1 148.4 104.1M161.4 60.3C168.7 75.5 173.4 93.2 174.5 110.1M154.3 54.1C159.7 66.4 162.9 80.6 163.2 94.1M150.8 68.1C153.6 85.2 153.1 103.9 149.3 120.7M151.0 78.4C153.1 99.2 150.9 121.6 144.9 141.6M158.3 66.7C164.0 83.9 166.4 103.4 165.1 121.5M167.1 48.6C177.7 60.1 186.4 74.6 191.7 89.3M158.9 46.7C166.6 56.9 172.7 69.3 176.0 81.6M140.3 58.9C140.3 71.7 137.6 85.3 132.8 97.1M165.2 51.7C174.7 64.2 182.2 79.5 186.3 94.7M151.8 72.3C154.6 90.9 153.8 111.3 149.4 129.6M156.5 40.6C163.9 48.3 170.2 58.1 174.1 68.1M152.8 63.6C156.9 79.2 157.9 96.7 155.7 112.7M149.0 53.4C152.6 65.1 154.0 78.1 152.9 90.3M149.0 72.9C150.8 91.5 148.9 111.6 143.5 129.5M145.4 71.3C146.1 89.0 143.1 107.9 137.0 124.6M135.7 71.0C132.9 87.7 126.4 104.9 117.5 119.3M150.7 61.4C154.2 76.0 154.8 92.2 152.5 107.1M150.2 49.5C154.6 59.8 157.1 71.7 157.2 82.9M146.1 69.2C147.2 86.2 144.8 104.5 139.3 120.7M159.0 71.3C164.5 90.3 166.4 111.5 164.3 131.2M154.7 48.4C160.8 58.7 165.0 70.9 166.7 82.8M141.0 56.8C141.5 69.0 139.4 81.9 135.1 93.3M158.9 52.0C166.2 64.0 171.4 78.3 173.5 92.2M148.6 68.8C150.7 85.9 149.3 104.5 144.7 121.1M142.8 58.2C143.8 71.0 142.1 84.7 138.2 96.9M141.8 73.0C141.0 91.0 136.4 109.9 128.9 126.2M160.5 72.8C166.5 92.5 168.7 114.6 166.7 135.0M152.4 48.2C157.6 58.3 161.1 70.1 162.1 81.4M153.3 67.8C157.1 85.0 157.5 104.0 154.5 121.4M143.8 70.1C144.0 87.2 140.6 105.4 134.3 121.3M135.2 59.0C133.4 71.4 128.8 84.2 122.4 94.9M160.4 53.8C168.1 66.6 173.5 81.8 175.7 96.6M154.5 78.0C157.9 98.9 157.0 121.8 152.1 142.4M153.5 58.3C158.2 72.1 160.4 87.8 159.5 102.3M154.5 61.5C159.4 76.6 161.4 93.5 160.1 109.3M158.2 69.5C163.7 87.7 165.6 108.2 163.7 127.2M156.4 53.3C162.7 65.6 166.7 79.9 167.9 93.6M137.6 68.8C135.7 84.9 130.4 101.6 122.5 115.8M163.3 67.2C170.7 85.1 174.9 105.6 175.0 125.0M139.2 67.3C138.0 83.0 133.5 99.5 126.4 113.5M158.8 73.9C164.0 93.7 165.4 115.9 162.7 136.2M136.8 61.1C135.3 74.4 130.9 88.1 124.5 99.8M153.8 75.7C157.0 95.7 156.3 117.7 151.7 137.4M151.9 51.3C156.8 62.4 159.6 75.3 159.8 87.4M151.5 45.7C156.7 54.7 160.3 65.5 161.6 75.8M154.3 51.6C160.0 63.1 163.6 76.5 164.4 89.2M138.5 63.0C137.5 77.1 133.5 91.8 127.1 104.5M142.1 60.6C142.6 74.2 140.2 88.7 135.5 101.5M132.2 61.2C129.0 74.1 123.0 87.1 115.2 97.9M162.0 68.8C168.8 87.1 172.3 108.0 171.6 127.6M148.2 65.7C150.3 81.7 149.3 99.1 145.2 114.6M168.1 68.1C177.2 86.8 182.9 108.4 184.2 129.1M150.0 56.2C153.7 68.9 154.9 83.1 153.5 96.3M136.3 63.5C134.4 77.6 129.5 92.1 122.4 104.4M147.4 71.2C148.8 89.0 146.6 108.2 141.1 125.2M146.3 44.7C149.7 53.0 151.6 62.5 151.7 71.5M143.7 72.6C143.7 90.6 139.8 109.7 132.9 126.4M167.6 60.5C177.2 76.4 184.1 95.3 187.0 113.6M149.1 62.9C151.9 78.0 151.6 94.5 148.5 109.5M155.5 56.8C161.1 70.2 164.2 85.7 164.2 100.2M160.3 44.7C168.7 54.2 175.7 66.1 179.9 78.2M152.9 73.9C156.0 93.2 155.2 114.4 150.8 133.4M172.1 79.6C169.6 96.6 163.3 114.1 154.5 128.8M166.3 74.1C162.1 88.5 154.7 103.0 145.3 114.8M161.1 79.6C154.6 95.6 144.4 111.2 132.3 123.5M158.0 72.4C151.1 85.5 141.0 98.0 129.5 107.5M176.7 50.6C178.4 57.6 178.7 65.4 177.6 72.5M175.9 81.2C174.5 99.1 169.3 117.8 161.2 133.9M161.9 84.0C155.3 101.7 144.6 119.0 131.7 132.8M180.5 83.5C180.6 102.6 176.7 122.9 169.5 140.7M177.0 69.1C177.1 82.8 174.4 97.3 169.3 110.0M188.6 56.6C194.1 66.9 197.7 78.9 198.9 90.4M179.9 64.1C181.6 76.2 180.8 89.5 177.7 101.3M185.6 75.4C188.2 92.1 187.5 110.4 183.6 126.8M185.2 62.7C188.8 74.8 190.2 88.4 188.9 101.1M169.6 80.0C166.1 96.9 158.8 114.1 149.2 128.4M156.0 68.6C148.6 80.2 138.4 90.9 127.2 98.8M185.2 82.1C187.1 101.2 185.1 121.8 179.6 140.2M167.0 66.9C163.8 78.9 157.8 90.9 150.3 100.8M182.8 70.4C184.8 85.0 184.0 101.0 180.3 115.4M162.6 81.5C156.5 98.3 146.5 114.9 134.4 128.1M170.9 81.9C167.7 99.7 160.6 117.8 150.9 132.9M179.3 86.0C178.7 106.0 173.9 127.0 165.7 145.3M183.8 55.5C187.6 64.9 189.7 75.7 189.7 85.9M173.6 81.5C171.4 99.3 165.4 117.8 156.6 133.4M176.8 78.6C176.0 95.7 171.5 113.6 164.3 129.1M177.9 53.1C179.8 61.2 180.2 70.1 178.9 78.3M190.2 65.7C195.4 79.4 198.0 95.0 197.6 109.6M170.5 59.8C169.2 69.5 165.8 79.6 160.8 88.1M164.6 67.6C160.4 79.6 153.4 91.5 145.0 101.0M179.7 77.3C180.1 94.2 177.0 112.2 170.9 127.9M171.8 61.7C170.7 72.3 167.4 83.3 162.4 92.6M174.2 72.1C173.1 86.6 168.9 101.8 162.3 114.8M193.5 72.3C199.2 88.7 201.9 107.2 201.0 124.5M174.8 53.9C175.6 62.0 174.7 70.6 172.3 78.4M176.3 74.4C175.8 89.9 171.9 106.2 165.5 120.4M181.8 80.3C182.6 98.4 179.7 117.8 173.5 134.9M184.3 73.4C186.6 89.3 185.8 106.7 181.9 122.3M193.3 65.6C199.6 79.5 203.4 95.5 203.9 110.8M168.5 62.3C166.2 72.8 161.6 83.5 155.5 92.3M188.8 75.0C192.6 91.9 193.2 110.6 190.3 127.7M188.9 72.8C193.0 88.9 194.0 106.8 191.6 123.3M181.7 75.2C182.9 91.5 180.9 109.1 175.8 124.6M186.0 54.4C190.8 63.6 193.8 74.4 194.7 84.8M175.5 62.1C175.7 73.1 173.6 84.8 169.7 95.1M167.6 88.1C162.6 107.8 153.3 127.6 141.2 143.8M165.3 63.0C161.8 73.4 156.0 83.8 148.8 92.1M169.9 77.5C166.8 93.5 160.1 109.9 151.1 123.5M188.4 60.1C193.4 71.6 196.3 84.9 196.6 97.5M170.0 72.8C167.3 87.2 161.4 101.9 153.4 114.2M172.5 69.1C171.0 82.3 166.7 96.1 160.3 107.8M184.3 60.0C187.8 71.1 189.3 83.6 188.4 95.2M188.8 77.7C192.4 95.6 192.5 115.3 189.0 133.2M164.0 72.8C159.2 86.6 151.1 100.2 141.4 111.2M169.5 67.0C167.2 79.3 162.1 91.8 155.3 102.2M187.4 84.4C189.9 104.5 188.3 126.3 182.9 145.8M184.7 86.5C185.9 107.1 183.0 129.3 176.3 148.8M174.3 78.9C172.6 95.8 167.2 113.4 159.1 128.4M161.8 66.7C156.8 78.1 149.0 89.2 139.9 97.8M164.5 86.5C158.5 105.2 148.3 123.9 135.7 139.0M184.9 71.1C187.7 86.2 187.5 102.8 184.3 117.8M179.0 67.6C180.0 80.9 178.2 95.2 174.1 107.9M189.6 81.7C193.1 101.0 192.8 122.3 188.7 141.5M191.5 68.2C196.9 82.8 199.6 99.5 199.0 115.2M192.2 62.3C198.4 75.0 202.4 89.7 203.3 103.8M155.7 72.0C147.9 84.8 137.0 96.7 125.0 105.6M177.4 56.5C178.8 65.7 178.4 75.8 176.3 84.8M171.1 88.7C167.3 108.9 159.1 129.5 148.0 146.7M182.4 62.8C185.1 74.7 185.4 87.9 183.3 99.9M186.9 64.5C191.0 77.4 192.6 92.0 191.5 105.5M181.5 88.2C181.6 109.1 177.2 131.3 169.3 150.7M171.7 76.5C169.3 92.3 163.4 108.6 155.1 122.3M168.9 84.2C164.8 102.5 156.6 121.1 145.8 136.5M172.5 64.2C171.5 75.7 168.0 87.7 162.7 98.0M182.5 82.1C183.4 100.9 180.4 121.1 174.1 138.9M170.6 85.9C166.9 105.1 159.0 124.6 148.3 140.9M172.6 73.7C170.8 88.6 165.7 104.1 158.3 117.2M160.3 71.9C154.2 85.0 145.0 97.7 134.3 107.5M175.9 59.0C176.5 69.0 175.1 79.7 172.0 89.1M163.7 76.3C158.4 91.4 149.7 106.3 139.1 118.2M165.3 83.7C159.9 101.6 150.5 119.4 138.7 133.9M187.9 80.4C190.9 99.1 190.1 119.5 185.8 138.0M185.5 79.6C187.8 97.8 186.3 117.6 181.4 135.3M165.8 60.4C162.8 69.9 157.5 79.4 151.1 87.0M176.4 84.7C174.9 103.9 169.3 123.9 160.6 141.1M160.8 76.6C154.5 91.5 144.6 106.0 133.1 117.4M189.7 69.6C194.3 84.6 196.1 101.5 194.7 117.1M178.0 88.8C176.8 109.6 171.1 131.4 162.0 150.1M156.3 75.4C148.4 89.5 137.2 102.7 124.6 112.7M205.3 101.9C201.9 119.9 194.5 138.3 184.4 153.7M197.3 94.9C191.6 109.7 182.5 124.2 171.6 135.7M205.6 78.2C204.4 87.8 201.1 97.8 196.3 106.2M186.4 97.4C176.6 112.1 163.2 125.6 148.5 135.5M206.5 100.3C203.6 117.9 196.9 136.0 187.6 151.1M211.5 84.0C211.9 96.1 209.8 109.1 205.6 120.6M201.2 87.9C197.5 100.6 191.0 113.3 182.8 123.6M210.2 91.1C209.5 105.7 205.7 121.0 199.6 134.2M196.6 101.3C190.1 118.3 179.6 135.0 167.1 148.3M186.9 89.7C178.0 101.6 166.0 112.5 153.2 120.1M196.6 82.9C191.8 93.4 184.5 103.5 176.0 111.3M191.3 91.1C183.8 104.0 173.1 116.0 161.3 125.1M186.6 102.0C176.4 118.4 162.3 133.6 146.6 144.9M179.3 90.7C167.6 102.3 152.7 112.2 137.5 118.5M206.0 95.8C203.4 111.7 197.3 128.0 188.8 141.8M210.1 96.0C209.0 112.4 204.3 129.5 197.0 144.1M204.0 88.6C201.4 101.8 195.8 115.2 188.3 126.3M187.7 87.2C179.2 98.4 168.0 108.5 155.9 115.6M190.8 85.3C183.7 96.0 173.9 106.0 163.3 113.2M206.2 89.3C204.2 102.9 199.2 116.9 192.2 128.7M197.2 99.5C191.0 115.9 181.1 132.0 169.1 144.9M212.8 86.4C213.5 99.6 211.4 113.7 207.0 126.1M208.7 102.6C206.4 121.2 200.1 140.4 190.9 156.8M190.8 87.4C183.5 99.0 173.3 109.7 162.2 117.6M192.2 100.2C184.2 116.4 172.4 131.9 158.8 143.9M205.2 82.8C203.5 94.0 199.3 105.5 193.4 115.2M204.7 97.3C201.5 113.7 194.6 130.3 185.4 144.2M183.1 84.9C173.3 94.9 160.8 103.3 147.9 108.8M182.1 94.9C171.0 108.3 156.4 120.2 141.0 128.3M188.3 85.2C180.3 95.6 169.6 105.1 158.2 111.7M188.6 99.1C179.4 114.6 166.4 129.1 152.1 140.0M198.6 104.7C192.5 123.1 182.1 141.4 169.5 156.1M177.2 86.8C165.1 96.9 150.2 105.1 135.1 109.8M195.6 97.1C189.1 112.6 179.0 127.6 167.1 139.4M209.6 78.4C209.9 88.4 208.1 99.1 204.5 108.4M184.0 96.3C173.5 110.4 159.3 123.2 144.2 132.2M190.7 93.1C182.9 106.6 171.7 119.3 159.3 128.9M190.1 83.1C182.9 93.0 173.2 101.9 162.8 108.4M195.0 78.5C190.0 87.2 182.9 95.4 175.0 101.6M189.6 89.3C181.7 101.5 170.7 112.6 158.8 120.8M213.5 80.6C215.0 91.7 214.1 103.9 211.2 114.7M197.8 85.1C193.2 96.4 185.9 107.5 177.3 116.2M193.1 80.0C187.3 89.0 179.2 97.4 170.4 103.6M201.3 69.6C199.3 75.7 196.0 81.8 191.9 86.7M180.1 88.0C168.8 98.8 154.7 107.9 140.2 113.6M194.9 99.8C188.0 116.1 177.2 131.9 164.5 144.4M207.3 85.2C206.1 97.4 202.3 110.1 196.6 121.0M207.7 91.2C206.1 105.6 201.4 120.6 194.4 133.3M194.8 85.2C189.1 96.3 180.8 106.9 171.3 115.0M185.2 87.9C175.8 99.1 163.5 109.0 150.5 115.8M199.4 90.5C194.8 104.0 187.2 117.3 177.9 127.9M196.1 72.2C192.1 78.7 186.5 84.8 180.3 89.3M209.4 85.8C208.9 98.5 205.8 111.8 200.5 123.3M203.1 95.7C199.4 111.3 192.3 127.1 182.9 140.2M185.8 85.9C176.9 96.4 165.2 105.7 152.9 112.0M198.1 96.9C192.5 112.4 183.3 127.8 172.2 140.0M193.8 101.9C186.3 118.9 174.7 135.4 161.2 148.2M199.3 107.0C193.3 126.3 182.8 145.5 169.9 161.1M206.0 87.1C204.2 99.9 199.6 113.1 193.0 124.2M185.3 91.0C175.7 103.3 162.9 114.4 149.3 122.1M180.5 100.0C168.3 115.1 152.3 128.6 135.3 137.9M214.8 90.6C215.8 105.4 213.7 121.4 209.0 135.5M177.0 90.2C164.5 101.5 148.8 110.9 132.9 116.5M185.2 83.1C176.3 92.6 164.8 100.8 152.9 106.1M197.7 102.9C191.4 120.6 181.1 138.1 168.5 152.1M188.6 76.4C181.5 83.8 172.4 90.2 163.1 94.3M201.3 74.3C199.0 82.1 194.9 89.8 189.7 96.1M177.6 93.7C165.0 106.2 148.9 116.9 132.5 123.7M190.2 102.4C181.3 119.3 168.4 135.3 153.8 147.5M200.3 85.8C196.5 97.6 190.0 109.4 182.0 118.9M185.0 94.6C175.0 108.1 161.5 120.4 147.0 129.1M187.1 94.4C177.8 108.1 165.1 120.7 151.3 129.9M193.9 91.9C187.3 105.4 177.5 118.2 166.2 128.1M214.0 105.9C208.0 114.5 199.8 122.4 191.0 128.0M214.8 97.7C209.8 103.4 203.3 108.4 196.5 111.8M198.0 111.6C185.7 120.8 170.8 127.9 156.0 131.7M221.2 117.9C216.7 131.5 209.1 144.9 199.7 155.7M212.4 96.2C206.7 101.2 199.6 105.3 192.5 107.7M208.4 116.8C199.3 128.8 187.2 139.6 174.3 147.3M217.1 109.0C211.9 119.0 204.3 128.5 195.7 135.8M221.2 115.2C216.9 127.8 209.7 140.2 201.0 150.2M221.0 96.8C218.4 102.7 214.3 108.5 209.5 113.0M194.3 124.2C179.6 137.6 161.1 148.6 142.4 155.3M198.7 114.2C186.4 124.4 171.2 132.6 156.0 137.3M219.9 110.8C215.6 121.7 208.7 132.3 200.5 140.6M204.4 97.8C195.7 102.6 185.4 105.8 175.5 106.9M216.7 100.2C212.1 107.0 205.9 113.2 199.1 117.7M219.2 118.2C213.9 131.6 205.5 144.8 195.5 155.2M217.3 111.3C211.9 122.0 204.0 132.4 195.0 140.3M194.7 111.7C181.2 120.6 165.1 127.2 149.2 130.3M221.3 113.0C217.3 124.8 210.5 136.4 202.3 145.8M212.1 117.5C204.4 130.1 193.5 141.8 181.6 150.4M204.9 109.3C195.3 118.2 183.3 125.7 171.0 130.3M225.2 115.9C222.3 129.0 216.5 142.4 208.8 153.4M213.7 113.2C206.9 124.3 197.3 134.7 186.8 142.4M208.7 114.6C200.0 125.8 188.5 135.8 176.2 142.9M225.7 105.8C223.9 115.3 219.9 125.1 214.6 133.3M209.2 118.8C200.2 131.6 188.1 143.2 175.0 151.6M205.0 113.9C195.1 124.5 182.3 133.7 169.0 139.7M221.1 102.7C217.9 110.8 212.8 118.7 206.8 124.9M210.5 112.5C202.6 123.1 192.0 132.7 180.6 139.5M212.4 91.6C207.1 94.9 200.8 97.3 194.6 98.3M214.2 117.7C207.2 130.5 197.0 142.6 185.7 151.7M198.2 116.4C185.6 127.3 169.9 136.2 154.1 141.4M223.9 108.4C221.2 118.7 216.2 129.1 209.7 137.7M194.2 106.9C181.0 114.0 165.5 118.8 150.6 120.3M196.4 113.0C183.4 122.5 167.7 129.8 152.1 133.7M223.3 114.9C219.8 127.6 213.4 140.3 205.4 150.7M200.7 111.3C189.4 120.6 175.5 128.1 161.6 132.4M196.9 126.7C182.8 141.1 164.9 153.5 146.4 161.5M212.3 104.3C205.8 112.1 197.3 119.1 188.4 123.8M204.9 104.4C195.8 111.6 184.6 117.3 173.4 120.5M210.8 120.6C202.3 134.1 190.4 146.7 177.4 156.0M210.4 128.9C201.0 145.4 187.6 161.0 172.6 172.6M210.9 115.4C202.9 127.1 192.0 137.8 180.2 145.6M210.2 123.3C201.2 137.7 188.6 151.2 174.8 161.1M219.8 124.6C214.2 140.3 204.9 155.9 193.6 168.3M191.6 122.0C176.1 134.3 157.0 144.0 138.0 149.5M202.2 95.7C192.9 99.6 182.3 101.7 172.2 101.7M198.2 100.5C187.0 105.8 174.1 108.9 161.7 109.5M201.9 107.2C191.5 115.2 178.7 121.4 166.0 124.8M218.4 107.1C213.9 116.5 207.1 125.6 199.3 132.5M212.3 109.9C205.3 119.7 195.8 128.7 185.6 135.1M207.4 96.6C199.9 101.3 190.9 104.6 182.1 106.0M209.8 96.7C203.1 101.6 195.0 105.4 186.9 107.3M199.7 98.4C189.3 102.9 177.2 105.6 165.8 105.8M209.7 126.6C200.2 142.3 186.9 156.8 172.2 167.6M218.8 98.8C215.1 105.2 209.9 111.3 204.1 115.9M216.3 104.8C211.2 113.2 204.1 121.0 196.2 126.8M215.6 92.7C211.3 96.7 205.9 100.1 200.5 102.2M199.7 121.0C187.2 133.7 171.2 144.6 154.8 151.5M197.7 123.9C184.2 137.5 167.0 149.0 149.4 156.4M190.4 112.6C175.4 121.4 157.5 127.6 140.2 130.0M197.7 103.2C186.1 109.3 172.5 113.4 159.5 114.6M202.4 113.0C191.5 123.1 177.9 131.5 164.1 136.7M203.3 122.1C192.0 135.5 177.2 147.4 161.6 155.5M203.0 126.1C191.2 141.0 175.5 154.2 159.0 163.4M213.8 108.3C207.5 117.7 198.9 126.4 189.5 132.7M208.3 121.4C198.8 135.0 185.8 147.4 171.9 156.4M189.8 118.9C173.9 130.0 154.7 138.3 135.8 142.5M210.2 102.6C203.2 109.6 194.2 115.6 184.9 119.4M201.8 115.0C190.6 125.7 176.5 134.8 162.0 140.4M206.7 119.1C196.8 131.7 183.7 143.0 169.8 150.9M199.6 123.6C186.8 137.2 170.4 148.9 153.4 156.6M213.9 128.4C205.8 145.0 193.7 160.9 179.9 173.2M205.9 107.1C196.9 115.4 185.5 122.3 174.0 126.5M206.0 115.8C196.2 127.2 183.5 137.2 170.1 144.0M211.3 133.5C200.2 139.1 187.2 142.6 174.8 143.5M198.8 135.9C182.9 141.1 165.1 143.3 148.4 142.1M216.3 134.0C207.0 140.2 195.8 144.8 184.7 146.9M219.9 143.4C210.9 153.3 199.4 161.8 187.3 167.5M220.3 119.8C213.6 121.2 206.3 121.4 199.6 120.1M211.9 126.4C201.7 129.4 190.2 130.5 179.5 129.4M203.8 122.5C191.0 123.4 177.2 121.7 165.0 117.6M205.2 129.1C192.3 132.5 177.9 133.5 164.7 131.7M225.3 139.4C218.6 148.3 209.7 156.3 200.1 162.0M205.9 139.2C192.3 146.2 176.5 150.8 161.2 152.2M226.7 130.1C221.4 135.7 214.6 140.7 207.5 143.9M201.6 143.5C186.1 151.7 167.9 157.1 150.5 158.8M229.3 140.0C224.0 149.5 216.4 158.5 208.0 165.2M205.4 146.4C191.0 156.0 173.7 163.2 156.7 166.6M224.0 134.9C217.3 142.1 208.7 148.3 199.7 152.4M217.7 137.3C208.6 144.8 197.3 150.8 186.0 154.2M198.3 131.0C182.7 134.5 165.5 134.8 149.8 132.1M227.6 135.6C222.1 143.4 214.7 150.5 206.7 155.6M211.8 129.0C201.2 133.0 189.2 135.0 177.9 134.6M220.7 124.3C213.8 127.4 205.8 129.3 198.3 129.5M200.4 129.2C185.7 132.2 169.6 132.3 154.9 129.5M228.0 132.5C222.9 139.2 216.1 145.2 208.9 149.5M195.6 146.1C177.8 154.7 157.0 160.1 137.2 161.3M209.7 115.1C199.7 113.9 189.3 110.5 180.5 105.5M202.8 133.3C188.7 138.0 172.7 140.0 157.9 138.9M218.2 144.6C208.6 154.7 196.2 163.5 183.4 169.2M212.7 135.6C201.9 142.0 189.1 146.5 176.6 148.3M214.5 153.1C202.7 165.9 187.6 177.0 171.8 184.4M212.8 138.7C201.7 146.2 188.4 151.9 175.3 154.7M227.4 139.1C221.5 148.1 213.4 156.4 204.6 162.4M225.1 120.9C220.1 123.2 214.3 124.6 208.7 124.7M204.3 141.7C189.9 149.6 172.9 154.8 156.7 156.6M212.4 141.0C201.0 149.3 187.2 155.7 173.5 159.0M201.8 148.1C185.9 158.0 167.0 165.1 148.6 168.2M216.2 141.7C206.1 150.5 193.5 157.8 180.7 162.2M222.5 131.3C215.6 137.0 207.1 141.6 198.5 144.3M212.3 123.3C202.5 125.3 191.7 125.3 181.8 123.4M212.3 145.6C200.5 155.5 185.8 163.5 171.1 168.2M216.5 120.4C208.4 121.7 199.6 121.3 191.7 119.5M207.4 146.3C193.7 156.0 177.1 163.4 160.8 167.2M200.9 150.8C184.5 161.6 164.9 169.5 145.6 173.3M202.3 124.7C188.7 126.2 174.0 125.0 160.9 121.3M218.9 127.1C211.1 131.0 201.9 133.5 193.2 134.2M192.7 139.7C174.4 145.8 153.7 148.4 134.4 147.0M213.9 120.8C204.8 122.0 195.0 121.4 186.1 119.1M213.2 142.9C201.9 152.0 188.1 159.3 174.2 163.4M200.5 137.1C185.1 142.9 167.6 145.9 151.2 145.5M219.2 134.7C210.8 141.4 200.5 146.7 190.2 149.7M207.1 150.3C192.9 161.4 175.5 170.3 158.2 175.2M196.8 136.2C180.2 141.4 161.5 143.3 144.2 141.8M218.9 146.4C209.4 157.3 197.0 166.8 184.0 173.2M208.4 135.5C196.1 141.5 181.8 145.3 168.1 146.1M221.1 150.9C211.9 163.5 199.5 175.0 186.2 183.1M212.9 149.0C200.9 160.2 185.8 169.6 170.5 175.4M214.3 129.2C204.6 133.4 193.4 135.9 182.9 136.1M198.4 148.4C181.3 158.0 161.1 164.7 141.6 167.1M210.7 136.5C199.1 143.0 185.4 147.5 172.2 149.1M229.8 129.9C225.6 135.8 219.9 141.2 213.8 145.1M197.6 143.9C180.6 151.9 160.9 156.9 142.2 157.8M214.8 144.7C204.0 154.6 190.4 162.8 176.5 167.8M214.3 126.7C204.9 130.1 194.1 131.7 184.1 131.2M227.1 123.7C222.5 127.1 217.0 129.8 211.4 131.2M216.9 125.5C208.5 128.7 198.9 130.3 189.9 130.1M199.2 142.4C182.9 150.0 164.1 154.7 146.1 155.5M228.1 143.2C222.1 153.7 213.5 163.7 203.9 171.1M208.5 121.9C197.4 123.1 185.4 121.9 174.7 118.7M202.7 138.4C188.1 144.9 171.2 148.7 155.2 149.1M216.4 115.7C208.8 115.3 200.7 113.3 193.8 110.1M224.3 144.7C216.8 155.4 206.7 165.2 195.7 172.3M192.4 132.9C174.6 136.5 154.9 136.6 137.1 133.1M208.2 140.8C195.2 148.7 179.9 154.3 164.9 156.6M226.1 146.0C219.1 157.4 209.3 167.9 198.6 175.8M206.4 141.8C192.8 149.9 176.6 155.5 161.0 157.8M226.2 133.9C220.3 140.9 212.7 147.1 204.6 151.4M214.7 123.5C205.6 125.7 195.6 126.2 186.4 124.8M218.7 149.0C208.9 160.7 195.9 171.1 182.3 178.2M198.4 156.3C183.8 155.8 168.3 152.2 155.0 146.2M219.8 149.5C213.4 148.6 206.8 146.2 201.3 142.9M205.1 165.0C192.0 168.2 177.4 168.9 164.1 167.0M215.3 144.8C207.7 141.8 200.3 137.0 194.4 131.3M216.3 160.4C207.7 163.1 198.0 164.1 189.0 163.3M207.3 170.6C194.5 176.1 179.8 179.2 165.9 179.4M216.2 158.2C207.7 160.1 198.3 160.2 189.7 158.7M216.6 152.1C208.9 151.7 200.7 149.8 193.6 146.5M210.0 164.6C198.7 168.2 186.0 169.6 174.2 168.6M211.9 172.8C200.6 179.5 187.2 184.3 174.2 186.1M197.8 158.3C182.7 158.6 166.7 155.6 152.7 150.1M196.4 170.8C179.7 175.3 161.1 176.6 143.9 174.5M200.9 164.2C186.4 166.8 170.4 166.5 156.0 163.4M201.4 162.2C187.3 164.1 171.9 163.2 158.1 159.6M210.7 175.4C198.7 182.9 184.4 188.4 170.4 190.7M198.8 147.5C185.0 144.0 171.2 137.3 159.8 128.8M192.3 166.0C174.5 168.5 155.2 167.3 137.8 162.9M199.0 177.5C182.7 184.7 163.8 188.9 145.9 189.3M220.1 146.0C214.1 143.8 208.2 140.2 203.6 135.9M224.9 161.7C219.3 165.6 212.4 168.5 205.7 170.0M187.7 164.8C168.5 166.4 147.7 164.1 129.2 158.2M206.5 145.8C195.6 142.3 184.9 136.4 176.2 129.0M209.2 154.2C198.6 154.0 187.4 151.5 177.7 147.3M206.3 158.6C194.2 159.7 181.2 158.3 169.6 154.7M195.9 175.8C178.6 182.1 158.8 185.2 140.4 184.4M202.0 149.1C189.2 146.4 176.3 140.9 165.5 133.6M193.8 160.9C177.0 161.7 159.1 159.0 143.3 153.3M215.7 162.8C206.7 166.3 196.3 168.0 186.6 167.8M217.0 169.0C207.8 174.7 196.8 178.9 186.1 180.8M195.3 154.2C179.8 152.8 163.5 147.9 149.7 140.6M206.0 178.6C192.0 186.8 175.5 192.5 159.5 194.8M219.0 160.0C211.3 162.7 202.7 164.0 194.6 163.6M205.0 175.7C190.9 182.8 174.4 187.3 158.7 188.5M198.7 172.7C182.6 178.2 164.4 180.6 147.4 179.6M208.9 145.9C198.9 142.6 189.0 137.1 181.0 130.3M214.9 168.4C205.0 173.8 193.3 177.5 182.1 178.7M223.7 151.7C218.5 151.9 212.9 151.0 208.0 149.2M213.2 169.6C202.6 175.3 190.2 179.1 178.2 180.3M196.6 168.5C180.1 172.3 161.9 172.8 145.3 170.0M206.8 154.1C195.3 153.6 183.2 150.6 172.8 145.8M192.7 158.8C175.8 158.7 157.8 155.1 142.2 148.6M222.4 164.1C215.6 168.6 207.4 172.0 199.4 173.6M216.1 175.9C206.0 184.1 193.5 190.6 181.0 194.3M211.9 150.6C202.5 149.3 192.9 146.0 184.7 141.3M223.0 157.5C217.0 159.8 210.1 160.9 203.7 160.6M221.7 155.1C215.4 156.3 208.6 156.3 202.3 155.1M207.8 163.8C195.8 166.8 182.4 167.6 170.2 165.8M194.1 170.9C176.5 175.3 157.0 176.2 139.1 173.6M204.9 156.3C192.6 156.5 179.5 154.0 168.0 149.5M203.2 151.1C190.8 149.2 177.9 144.6 167.1 138.1M209.5 178.1C196.8 186.5 181.6 192.7 166.7 195.6M195.2 165.7C178.5 168.3 160.2 167.6 143.8 163.7M195.3 159.0C179.3 159.3 162.2 156.2 147.3 150.3M217.9 148.0C210.9 146.3 203.9 143.1 198.1 138.9M211.5 145.4C202.5 142.2 193.6 137.0 186.5 130.7M214.6 141.9C207.1 137.8 199.9 131.8 194.5 125.1M199.8 160.5C185.2 161.6 169.5 159.8 155.6 155.3M190.2 159.2C172.3 159.0 153.4 155.1 137.0 148.1M197.3 149.7C182.8 146.8 168.0 140.7 155.8 132.5M213.7 174.0C202.9 181.3 189.9 186.8 177.2 189.4M191.2 163.6C173.3 165.1 154.0 163.0 136.9 157.6M196.8 152.4C181.9 150.4 166.5 145.1 153.5 137.6M201.0 158.6C187.0 159.2 172.1 156.8 158.9 152.1M201.0 156.4C187.2 156.2 172.7 153.1 160.0 147.7M223.1 168.3C216.1 174.3 207.5 179.3 198.8 182.3M193.3 156.0C176.8 155.0 159.5 150.5 144.6 143.3M225.4 158.3C220.2 161.0 214.1 162.8 208.2 163.3M211.2 166.7C200.1 171.1 187.5 173.5 175.6 173.4M209.4 142.5C199.9 138.1 190.7 131.4 183.6 123.7M209.6 148.5C199.7 146.3 189.6 141.8 181.3 136.0M208.1 139.9C198.4 134.5 189.2 126.7 182.3 118.0M196.7 173.1C179.9 178.5 161.0 180.8 143.4 179.4M213.8 146.9C205.5 144.5 197.2 140.2 190.5 134.8M201.1 199.0C189.0 202.0 175.5 202.6 163.2 200.7M200.3 188.2C189.0 187.2 177.1 183.8 167.0 178.6M208.7 177.5C201.3 173.4 194.3 167.6 189.0 161.0M214.6 188.7C208.4 189.1 201.6 188.3 195.6 186.4M193.8 170.6C181.7 162.7 170.6 151.8 162.4 139.9M203.2 181.1C193.6 177.8 184.0 172.3 176.3 165.7M188.2 182.0C173.0 177.6 157.9 169.9 145.5 160.1M209.2 197.4C200.2 200.5 190.0 201.9 180.5 201.3M199.9 201.7C187.1 205.6 172.7 206.9 159.5 205.6M212.5 172.3C206.9 166.8 202.1 159.7 199.1 152.4M185.7 182.7C169.6 178.4 153.4 170.4 140.1 160.3M210.0 180.6C202.7 177.7 195.7 173.2 190.1 167.9M183.9 186.8C166.7 183.7 149.2 177.0 134.5 167.7M199.6 196.1C187.2 197.8 173.8 197.1 161.7 194.1M203.6 190.5C193.2 190.6 182.2 188.5 172.5 184.7M192.9 201.7C177.7 204.9 160.8 205.1 145.5 202.2M198.6 191.6C186.3 191.7 173.2 189.2 161.8 184.6M199.6 177.8C188.9 173.1 178.6 165.8 170.5 157.3M210.8 185.8C203.3 184.9 195.7 182.4 189.1 178.8M207.3 192.6C198.1 193.8 188.0 193.2 179.0 190.8M198.2 197.7C185.2 199.9 171.0 199.5 158.1 196.6M203.6 193.3C192.9 194.4 181.3 193.4 171.1 190.3M214.0 175.3C208.7 171.0 204.1 165.3 200.8 159.2M187.1 176.0C172.2 169.4 157.6 159.3 146.3 147.6M179.2 191.7C159.9 190.1 139.8 184.3 122.6 175.5M187.4 184.4C171.8 180.9 155.9 173.9 142.8 164.7M207.9 179.9C199.9 176.7 192.2 171.5 186.1 165.5M205.8 196.6C195.7 199.1 184.4 199.7 174.0 198.2M181.0 194.8C162.1 194.4 142.2 190.0 124.8 182.5M199.9 185.3C188.6 183.2 177.1 178.7 167.5 172.5M208.2 171.6C201.2 165.4 195.0 157.3 190.9 148.9M177.5 185.0C158.3 180.8 138.7 172.3 122.5 161.1M197.7 172.0C186.8 164.9 176.8 155.2 169.5 144.6M185.5 189.3C168.8 187.4 151.4 181.8 136.6 173.7M195.6 173.2C183.8 166.5 172.8 156.8 164.6 146.1M186.4 180.6C170.7 175.6 155.1 167.1 142.5 156.5M209.4 183.6C201.6 181.8 193.8 178.2 187.4 173.6M197.7 194.2C184.8 195.1 171.0 193.4 158.7 189.4M192.4 172.8C179.5 165.5 167.5 155.2 158.4 143.6M192.4 198.9C177.2 201.1 160.7 200.2 145.8 196.4M198.3 179.8C187.0 175.7 175.8 168.9 166.9 160.7M198.8 182.1C187.4 178.8 176.1 172.9 166.8 165.5M196.4 202.2C182.3 205.8 166.7 206.8 152.3 204.8M191.2 187.8C176.7 185.9 161.6 180.7 148.9 173.4M205.5 179.8C196.8 176.3 188.2 170.7 181.5 164.1M190.3 175.3C176.6 168.8 163.3 159.0 153.1 147.8M197.1 177.7C185.6 172.6 174.4 164.9 165.6 155.8M196.8 169.4C185.9 161.4 176.0 150.6 169.0 139.0M182.1 184.9C164.5 181.0 146.7 173.2 131.9 163.0M202.2 174.2C192.8 168.4 184.1 160.2 177.6 151.3M206.1 186.4C197.0 185.3 187.5 182.3 179.5 177.8M196.0 185.1C183.4 182.6 170.6 177.4 159.8 170.3M215.1 178.6C209.9 175.5 205.1 171.1 201.4 166.3M210.7 190.7C202.8 191.6 194.2 190.9 186.6 188.7M184.1 184.5C167.3 180.7 150.2 173.2 136.1 163.3M191.3 182.2C177.3 178.2 163.2 171.1 151.7 162.1M210.2 173.1C203.7 167.6 198.0 160.5 194.1 152.9M190.6 177.8C176.7 172.2 163.1 163.3 152.4 152.9M195.4 194.5C181.8 195.3 167.1 193.3 154.1 188.9M182.6 189.6C164.8 187.5 146.3 181.6 130.6 172.9M193.9 192.6C179.9 192.6 165.0 189.6 152.0 184.3M205.7 177.6C197.3 173.3 189.2 167.0 183.0 159.8M194.3 182.0C181.4 178.3 168.4 171.6 157.8 163.2M188.1 187.0C172.4 184.5 156.4 178.6 142.9 170.3M197.8 189.6C185.4 188.9 172.4 185.6 161.2 180.2M210.5 175.5C203.9 170.9 197.9 164.6 193.6 157.9M184.4 194.5C166.8 194.3 148.2 190.5 131.9 183.6M189.6 190.4C174.2 189.2 158.1 184.7 144.3 177.8M210.6 188.0C203.0 187.9 194.8 186.2 187.8 183.2M213.0 184.3C206.5 183.1 199.9 180.4 194.3 176.8M183.7 197.0C165.6 197.7 146.2 194.6 129.2 188.3M200.2 193.4C188.3 194.3 175.5 192.7 164.2 189.0M211.5 182.6C204.7 180.6 197.8 177.0 192.2 172.6M187.6 189.2C171.6 187.4 155.0 182.1 140.9 174.4M191.8 185.8C177.6 183.2 163.1 177.5 150.9 169.6M215.7 181.9C210.5 180.1 205.2 177.0 201.1 173.3M203.1 186.0C192.9 184.4 182.4 180.7 173.6 175.4M190.7 195.1C175.3 195.7 158.8 193.1 144.3 187.7M203.3 201.2C191.9 205.1 178.9 206.9 166.8 206.1M199.1 199.4C186.3 202.4 172.0 202.8 159.0 200.6M201.7 182.7C191.3 179.8 180.9 174.7 172.4 168.1M193.5 189.5C179.6 188.3 165.0 184.2 152.6 177.8M206.6 190.5C197.2 191.0 187.2 189.4 178.4 186.3M183.6 179.7C167.1 174.1 150.7 164.7 137.5 153.3M208.2 186.0C199.9 184.9 191.3 182.0 184.0 177.9M194.3 196.7C180.1 198.2 164.6 196.8 150.8 192.7M204.2 170.5C195.8 163.5 188.4 154.4 183.3 144.8M209.7 193.4C201.2 195.1 191.8 195.1 183.3 193.4M178.1 188.4C158.7 185.5 138.8 178.3 122.1 168.2M204.2 175.8C195.4 170.7 187.1 163.4 180.9 155.4M210.5 169.6C204.4 162.8 199.4 154.4 196.4 145.9M198.2 187.4C186.1 185.9 173.6 181.8 163.0 175.8M193.0 193.5C188.1 184.7 184.7 174.3 183.4 164.3M182.3 184.1C174.3 171.0 168.6 155.4 166.2 140.2M165.2 207.6C148.9 201.3 133.0 191.3 120.4 179.3M166.4 204.7C150.9 197.6 135.9 186.7 124.3 174.1M182.5 190.1C174.1 179.2 167.5 165.8 163.9 152.5M184.3 182.4C177.2 168.8 172.6 153.0 171.2 137.7M179.6 195.7C169.7 186.5 161.1 174.6 155.4 162.3M196.6 193.3C192.9 184.8 190.8 175.0 190.6 165.7M184.4 187.0C176.9 175.1 171.5 161.0 169.1 147.1M173.1 195.8C160.8 186.0 149.8 173.1 142.1 159.3M189.9 206.4C182.7 201.9 175.9 195.7 170.9 188.8M195.8 199.1C191.4 192.6 188.0 184.8 186.3 177.1M173.8 205.8C160.8 199.7 148.3 190.4 138.6 179.8M197.8 203.3C193.7 198.5 190.3 192.5 188.3 186.4M186.7 188.5C179.9 177.4 175.1 164.1 173.1 151.2M190.7 189.6C185.3 179.2 181.7 167.0 180.7 155.4M176.9 214.7C164.2 212.0 151.3 206.5 140.6 199.2M163.5 212.8C146.2 208.2 128.9 199.7 114.6 188.9M189.5 193.7C183.3 184.6 178.6 173.7 176.2 163.0M163.1 200.8C146.8 191.9 131.3 179.0 119.6 164.6M160.0 203.0C142.4 194.6 125.4 182.0 112.3 167.5M192.5 198.6C186.9 191.6 182.4 182.9 179.8 174.3M186.8 213.1C177.8 210.7 168.8 206.4 161.4 200.8M182.7 211.4C172.4 208.1 162.2 202.4 154.0 195.4M175.4 219.7C161.8 218.7 147.5 214.8 135.3 208.7M175.3 212.9C162.2 209.5 149.0 203.1 138.2 194.9M171.9 219.1C157.1 217.6 141.7 212.8 128.5 205.8M181.3 200.1C171.6 192.6 162.8 182.6 156.6 172.0M184.1 208.3C174.5 204.0 165.3 197.5 158.2 189.9M184.3 195.1C176.0 186.0 169.2 174.8 165.0 163.3M181.7 187.5C173.3 175.5 166.8 161.1 163.6 146.8M190.8 203.9C184.0 198.7 178.0 191.7 173.8 184.3M176.8 200.0C165.5 192.1 155.1 181.4 147.6 169.7M182.1 195.8C173.1 186.9 165.3 175.5 160.3 163.8M176.8 195.2C165.9 185.5 156.4 173.0 150.0 159.9M168.2 200.6C153.7 192.2 140.1 180.1 129.9 166.8M162.4 203.4C145.5 195.4 129.4 183.3 116.8 169.5M191.7 215.3C184.3 214.3 176.7 211.6 170.2 207.8M187.1 201.4C179.3 194.8 172.4 186.3 167.6 177.3M178.1 191.2C168.0 180.3 159.5 166.5 154.4 152.6M160.3 199.6C143.0 190.0 126.8 176.2 114.5 160.8M167.1 209.1C151.4 203.5 135.9 194.3 123.5 183.2M173.3 215.1C159.3 212.3 145.0 206.4 133.1 198.5M182.1 214.1C171.4 211.7 160.5 206.8 151.4 200.5M183.6 217.0C173.1 215.8 162.3 212.3 153.0 207.2M186.6 215.6C177.3 214.2 167.8 210.7 159.8 205.9M179.2 184.9C170.0 171.8 163.1 155.9 159.6 140.3M193.3 203.8C187.5 198.7 182.4 192.1 178.9 185.2M190.4 185.4C185.2 173.4 182.2 159.7 182.0 146.7M165.5 210.6C149.1 205.4 132.8 196.5 119.6 185.5M188.3 195.6C181.4 187.1 175.9 176.7 172.8 166.2M182.2 193.4C173.3 183.6 166.0 171.3 161.6 158.9M170.0 202.4C155.9 194.7 142.6 183.6 132.6 171.1M187.7 210.1C179.4 206.7 171.2 201.4 164.7 195.2M176.3 188.6C165.9 176.5 157.3 161.5 152.1 146.4M182.9 206.2C173.1 201.0 163.8 193.5 156.8 185.1M186.0 206.2C177.4 201.3 169.3 194.3 163.1 186.6M182.4 203.3C172.7 197.0 163.8 188.4 157.3 178.9M191.1 209.0C184.1 205.5 177.3 200.4 172.1 194.6M193.0 187.6C188.5 176.7 186.1 164.2 186.2 152.4M173.9 198.0C161.6 189.1 150.5 177.1 142.6 164.2M176.0 207.5C163.7 202.1 151.7 193.9 142.4 184.3M192.7 191.1C187.8 181.5 184.7 170.2 183.9 159.4M172.6 202.1C159.6 194.5 147.4 183.8 138.2 171.8M193.2 208.7C186.9 205.4 180.9 200.6 176.3 195.1M176.3 202.2C164.6 195.0 153.6 184.9 145.5 173.8M177.8 197.9C167.0 189.3 157.4 178.0 150.6 165.9M174.3 208.4C161.2 203.3 148.5 195.1 138.4 185.4M166.2 215.0C149.7 211.5 133.0 204.3 119.0 194.8M165.6 200.4C150.2 191.6 135.7 179.0 124.8 165.0M190.4 197.9C184.1 190.5 178.9 181.3 175.9 172.0M185.9 219.2C176.0 218.9 165.6 216.6 156.6 212.6M178.6 203.1C167.6 196.5 157.3 187.1 149.6 176.8M185.8 199.1C177.7 191.6 170.7 182.1 166.1 172.1M195.3 205.7C190.0 201.5 185.3 196.0 182.0 190.1M180.2 190.0C171.0 178.8 163.5 164.9 159.3 151.1M177.6 181.7C168.2 167.3 161.2 150.1 158.0 133.2M184.2 200.7C175.4 193.7 167.6 184.4 162.2 174.6M189.6 213.1C181.6 211.0 173.5 207.1 166.9 202.1M83.7 194.7C94.7 184.7 108.4 176.4 122.4 171.4M82.2 202.9C91.9 195.8 103.6 190.2 115.3 187.2M74.4 190.5C82.4 178.2 93.5 166.8 105.6 158.5M57.9 193.6C59.8 180.8 64.4 167.7 71.0 156.6M82.4 192.7C93.1 181.9 106.7 172.7 120.7 166.8M60.5 190.8C63.5 177.4 69.5 163.7 77.4 152.4M76.1 172.4C86.3 153.8 101.1 136.1 117.7 122.8M65.8 207.4C69.1 200.4 74.2 193.6 80.0 188.4M78.6 180.5C89.0 165.0 103.3 150.7 118.8 140.3M85.0 183.8C97.4 170.0 113.5 158.0 130.2 150.0M88.4 185.0C101.9 172.0 119.0 161.0 136.4 154.1M67.1 201.4C71.5 192.3 78.1 183.5 85.6 176.8M68.1 196.8C73.3 186.1 81.0 175.9 89.9 168.0M91.0 195.0C104.5 185.8 120.8 178.8 136.9 175.5M63.3 198.4C66.6 187.9 72.3 177.5 79.4 169.0M67.6 194.1C72.8 182.5 80.8 171.2 90.1 162.4M83.3 182.0C95.3 167.4 111.1 154.5 127.7 145.6M65.5 177.5C71.5 159.7 81.6 142.1 93.9 127.9M71.9 179.6C80.0 163.1 92.1 147.3 105.8 135.2M91.4 184.9C106.1 172.1 124.3 161.6 142.7 155.3M84.6 192.3C96.1 181.5 110.5 172.5 125.2 166.9M65.4 202.7C69.0 193.9 74.8 185.3 81.5 178.6M65.9 196.7C70.4 185.8 77.3 175.2 85.6 166.8M74.8 169.9C84.9 150.2 99.6 131.4 116.4 117.1M71.8 200.8C77.9 191.9 86.3 183.8 95.4 178.0M79.6 187.4C89.7 174.4 103.2 162.8 117.6 154.7M85.7 189.9C97.8 178.4 113.1 168.7 128.7 162.7M73.0 188.5C80.7 175.3 91.6 163.0 103.7 153.7M86.8 175.9C100.6 159.5 118.6 144.9 137.6 135.0M91.6 191.6C105.7 181.3 122.8 173.2 139.8 169.0M85.0 197.3C96.1 188.3 109.9 181.2 123.6 177.2M86.8 181.8C100.1 167.5 117.2 155.1 134.9 146.9M81.6 198.4C91.4 189.5 103.7 182.2 116.2 177.8M79.8 194.5C89.4 184.1 101.8 175.1 114.6 169.1M76.7 194.5C85.1 183.8 96.4 174.3 108.3 167.6M59.3 198.9C61.1 188.2 65.3 177.2 71.1 168.0M66.7 181.6C72.7 165.4 82.5 149.5 94.3 136.8M65.4 200.2C69.4 190.5 75.6 181.0 82.9 173.5M75.9 184.1C85.1 169.7 97.8 156.3 111.8 146.4M70.2 176.9C77.9 159.3 89.8 142.3 103.6 129.0M86.0 199.7C97.4 191.7 111.1 185.6 124.6 182.5M82.9 188.1C94.1 175.7 108.7 165.0 123.8 157.8M55.5 198.1C56.1 186.7 59.1 174.8 63.9 164.5M89.3 190.6C102.6 179.7 119.1 170.9 135.6 165.9M74.5 204.0C81.4 196.5 90.2 190.0 99.4 185.7M62.0 189.0C65.7 175.0 72.6 160.9 81.4 149.4M58.4 191.2C60.7 177.6 65.9 163.7 73.1 152.0M57.3 201.1C58.3 191.0 61.4 180.5 66.1 171.5M87.0 194.3C99.1 184.5 114.1 176.7 129.1 172.2M82.1 183.9C93.5 169.9 108.4 157.4 124.3 148.8M89.8 198.2C102.6 190.0 117.9 184.0 132.9 181.3M63.5 182.3C68.3 166.0 76.9 149.8 87.6 136.6M87.0 197.1C98.9 188.2 113.4 181.3 127.8 177.7M67.7 188.5C73.4 174.8 82.4 161.6 93.0 151.1M87.8 201.0C99.6 193.6 113.7 188.3 127.5 186.0M67.7 199.3C72.6 189.5 79.8 180.1 87.9 172.9M82.9 196.9C93.4 187.6 106.4 179.9 119.7 175.3M72.7 208.5C78.5 202.4 85.9 197.2 93.5 193.9M86.5 179.4C99.9 164.3 117.2 150.9 135.3 142.0M89.7 187.5C103.4 175.5 120.5 165.6 137.8 159.7M59.0 195.9C61.0 184.1 65.6 172.1 71.9 161.9M67.1 203.5C71.3 195.1 77.5 187.2 84.6 181.0M54.1 187.9C55.1 172.8 59.3 156.9 66.0 143.3M68.1 192.1C73.7 179.8 82.3 167.9 92.2 158.7M71.4 170.1C80.2 150.1 93.7 130.9 109.4 115.8M68.0 174.8C75.1 156.3 86.6 138.1 100.3 123.7M67.7 186.3C73.7 171.9 83.1 157.8 94.1 146.8M63.5 203.1C66.4 194.2 71.4 185.5 77.5 178.4M61.9 195.6C64.9 184.0 70.6 172.3 77.9 162.7M60.9 197.4C63.4 186.3 68.4 175.1 75.0 165.8M87.1 192.1C99.5 181.5 114.9 172.9 130.4 167.8M73.6 181.4C82.2 165.7 94.6 150.9 108.4 139.6M66.5 190.4C71.6 177.3 79.9 164.5 89.7 154.4M42.0 163.6C48.1 152.3 57.0 141.6 66.9 133.5M55.2 165.0C65.9 155.4 79.3 147.5 92.9 142.7M48.6 156.8C57.7 143.7 70.0 131.7 83.4 123.0M45.9 175.3C52.3 168.6 60.5 162.8 69.0 159.0M60.0 172.4C71.8 165.9 85.6 161.5 99.0 160.0M56.9 169.4C67.8 161.6 81.0 155.5 94.1 152.4M72.1 168.9C88.4 162.2 107.2 158.5 124.9 158.6M74.8 162.0C92.7 153.1 113.7 147.4 133.7 146.1M55.2 151.4C67.2 137.0 82.9 124.1 99.5 115.3M63.2 157.9C77.4 146.5 94.8 137.4 112.3 132.2M51.0 171.2C59.7 163.5 70.5 157.1 81.4 153.2M66.7 172.9C80.7 167.2 96.9 164.1 112.1 164.1M64.9 169.0C78.7 161.8 94.9 157.0 110.5 155.5M50.2 160.7C59.6 149.1 71.9 138.8 84.9 131.7M48.9 165.2C57.3 155.1 68.3 146.2 80.0 140.1M64.5 166.8C78.4 158.7 94.8 153.0 110.8 150.8M74.9 172.7C91.9 167.7 111.0 165.9 128.7 167.7M75.5 156.1C94.2 145.2 116.4 137.6 138.0 134.7M66.9 160.6C82.2 150.5 100.6 143.0 118.6 139.5M59.6 178.5C70.7 174.1 83.3 171.8 95.2 172.0M54.9 170.3C65.1 162.6 77.4 156.5 89.7 153.2M47.0 170.1C54.2 161.6 63.8 154.1 73.7 149.1M45.1 160.5C52.6 148.4 63.0 137.1 74.6 128.7M70.8 164.4C87.1 156.0 106.2 150.6 124.5 149.0M53.2 166.6C63.1 157.5 75.4 149.8 88.0 145.0M61.3 166.1C74.1 157.5 89.5 151.0 104.6 147.9M66.0 164.2C80.6 155.3 98.0 148.9 115.0 146.3M40.6 172.6C45.4 164.4 52.2 156.6 59.8 150.9M69.3 148.2C86.6 133.9 107.9 122.3 129.3 115.6M73.5 159.5C91.2 149.6 112.1 142.9 132.3 140.5M67.1 149.3C83.5 135.1 103.8 123.6 124.3 116.7M48.4 172.9C55.9 165.6 65.5 159.3 75.3 155.4M53.1 149.3C64.5 133.9 79.8 120.0 96.1 110.1M61.8 169.0C74.5 161.5 89.5 156.1 104.1 154.0M55.7 162.9C66.8 152.6 80.8 144.0 95.0 138.7M61.3 182.6C72.6 179.8 85.1 179.3 96.6 181.0M60.5 180.3C71.7 176.6 84.4 175.1 96.2 176.0M71.9 150.4C89.9 137.1 111.8 126.8 133.5 121.3M61.4 152.9C75.5 139.6 93.2 128.4 111.2 121.4M39.2 162.4C44.4 150.4 52.5 138.8 61.8 129.7M50.8 181.9C58.5 178.0 67.3 175.5 75.9 174.7M65.0 171.3C78.7 164.8 94.5 160.9 109.6 160.1M45.3 167.6C52.2 158.0 61.6 149.3 71.6 143.1M73.9 153.1C92.4 141.0 114.5 132.0 136.2 127.8M72.8 175.5C88.9 171.3 106.9 170.2 123.3 172.4M42.4 175.6C47.6 168.6 54.5 162.3 62.0 157.9M56.5 144.6C69.5 127.8 86.9 112.7 105.3 102.1M64.7 161.9C79.1 152.1 96.4 144.7 113.4 141.1M65.7 156.6C80.9 144.9 99.5 135.7 118.0 130.8M68.8 173.4C83.6 168.1 100.4 165.5 116.1 166.2M71.9 156.3C89.4 145.1 110.3 137.0 130.8 133.3M50.6 152.0C60.8 137.3 74.7 123.9 89.8 114.2M46.0 171.9C52.7 163.9 61.6 156.9 70.9 152.1M68.8 169.2C84.0 162.3 101.6 158.3 118.3 157.7M69.3 160.7C85.4 150.9 104.6 143.9 123.3 140.9M48.2 175.2C55.5 168.6 64.6 163.2 73.8 159.9M68.4 156.5C84.6 145.1 104.2 136.3 123.6 131.9M71.4 161.4C88.2 152.0 108.0 145.6 127.2 143.3M52.8 173.8C61.9 167.1 72.9 162.0 83.8 159.3M67.9 180.3C81.7 177.4 97.1 177.2 111.0 179.7M61.2 146.9C75.6 131.4 94.3 118.0 113.6 109.1M55.9 167.5C66.6 158.9 79.8 152.0 93.0 148.1M70.0 171.8C85.5 166.0 103.0 163.1 119.5 163.5M58.7 155.9C71.5 143.3 87.7 132.7 104.3 126.0M74.2 168.6C91.4 162.0 111.0 158.6 129.3 159.0M58.1 163.0C70.0 153.0 84.7 144.8 99.6 140.1M49.1 154.2C58.6 140.1 71.6 127.3 85.7 117.9M62.5 179.9C74.5 176.2 87.9 174.9 100.4 176.2M49.6 162.8C58.5 151.9 70.3 142.2 82.7 135.5M39.5 169.2C44.2 159.7 51.2 150.6 59.2 143.6M71.6 153.9C89.2 141.9 110.4 132.8 131.2 128.3M69.6 152.4C86.7 139.6 107.4 129.6 128.0 124.3M72.1 171.6C88.2 165.9 106.6 163.2 123.7 164.1M47.1 158.7C55.5 146.1 67.1 134.5 79.7 126.1M58.5 176.9C69.4 171.8 81.9 168.7 93.8 168.2M52.2 178.0C60.6 172.8 70.7 169.0 80.5 167.4M68.1 164.9C83.5 156.4 101.5 150.7 118.9 148.7M63.2 145.2C78.6 129.2 98.3 115.6 118.6 106.7M50.5 177.2C58.4 171.5 67.9 167.2 77.4 165.0M56.8 180.1C66.6 176.1 78.0 173.9 88.7 173.9M58.8 153.9C72.5 152.8 87.3 154.4 100.4 158.5M62.9 148.3C78.5 145.5 95.7 145.8 111.2 149.1M68.9 151.2C86.5 150.0 105.3 152.3 122.0 157.8M72.0 145.6C91.1 142.6 112.1 143.5 130.9 148.0M67.5 129.5C86.5 120.3 108.5 114.5 129.6 113.3M67.1 137.8C85.2 131.6 105.7 128.8 124.8 129.9M54.7 152.4C67.0 150.2 80.6 150.6 92.8 153.3M66.2 133.5C84.4 125.7 105.3 121.2 125.1 120.9M53.6 154.5C65.3 153.1 78.1 154.0 89.5 157.1M62.8 151.1C78.2 149.3 94.8 150.6 109.7 154.7M43.1 144.6C52.0 138.7 62.7 134.2 73.2 132.1M62.7 146.1C78.5 142.4 96.0 141.9 112.0 144.5M49.6 133.2C61.8 123.7 76.8 116.3 91.7 112.2M69.2 138.5C88.0 132.7 109.2 130.5 128.8 132.2M56.4 135.6C70.8 127.6 87.9 122.1 104.3 120.2M37.0 139.4C44.2 131.1 53.6 123.7 63.4 118.7M50.9 126.4C64.3 114.6 80.9 104.9 97.7 99.1M47.4 139.8C58.3 132.5 71.4 127.1 84.2 124.5M50.6 140.1C62.6 133.1 76.7 128.3 90.4 126.5M52.2 159.6C62.9 159.8 74.3 162.3 84.2 166.6M45.0 135.7C55.3 126.7 68.2 119.4 81.2 115.0M65.3 130.9C83.4 122.0 104.5 116.4 124.6 115.1M72.6 139.0C92.5 133.8 114.8 132.3 135.3 135.0M61.5 132.1C78.1 123.3 97.5 117.5 116.3 115.7M53.1 128.5C67.0 117.6 84.0 109.0 101.1 104.3M59.2 130.0C75.3 120.3 94.3 113.3 112.8 110.4M73.3 133.2C94.0 125.9 117.5 122.5 139.5 123.6M65.7 157.4C81.5 158.1 98.2 162.1 112.6 168.7M55.3 149.7C68.1 146.7 82.4 146.2 95.4 148.3M60.8 148.2C75.7 145.1 92.1 145.0 107.1 147.8M63.4 128.4C81.1 118.5 101.9 111.6 122.0 109.2M64.9 126.3C83.2 115.8 104.9 108.5 125.9 105.7M59.0 124.0C75.4 112.1 95.4 102.9 115.1 98.1M56.5 132.9C71.3 124.0 88.8 117.6 105.9 115.0M46.2 150.0C55.7 146.2 66.6 144.2 76.8 144.4M64.7 137.7C82.0 131.2 101.7 127.9 120.2 128.5M69.7 127.5C89.7 117.8 112.9 111.7 135.1 110.3M57.4 155.5C70.5 154.8 84.5 156.7 96.8 161.0M57.8 149.5C71.6 146.6 86.7 146.4 100.5 149.0M55.6 160.0C67.6 160.7 80.2 164.0 91.0 169.2M72.7 149.7C91.7 148.3 112.2 150.8 130.3 156.7M48.7 159.0C58.2 158.7 68.5 160.4 77.4 163.7M47.3 144.9C57.7 139.4 69.9 135.8 81.6 134.7M41.3 142.7C49.8 135.9 60.2 130.5 70.5 127.4M71.3 136.6C91.0 130.3 113.2 127.8 133.8 129.5M60.9 140.6C76.6 134.8 94.4 131.9 111.1 132.5M50.0 155.0C60.4 153.4 71.8 153.9 82.0 156.4M56.9 129.9C72.1 119.9 90.3 112.4 108.2 109.0M39.1 143.3C46.7 136.5 56.2 130.8 65.8 127.4M38.4 149.6C45.2 145.0 53.3 141.5 61.3 139.9M58.9 135.7C74.2 128.0 92.1 123.0 109.2 121.7M57.4 145.2C71.4 140.8 87.1 139.0 101.7 140.2M53.0 142.1C65.7 136.1 80.4 132.4 94.4 131.7M51.7 156.8C62.5 156.0 74.2 157.4 84.5 160.8M44.8 147.2C54.0 142.3 64.9 139.0 75.3 138.0M51.0 143.7C62.8 138.1 76.5 134.7 89.6 134.0M55.5 121.9C70.4 120.0 86.5 121.0 101.0 124.8M43.1 116.5C54.0 111.4 66.6 108.4 78.6 107.8M72.2 124.6C92.8 125.0 114.5 129.9 133.4 138.2M51.1 105.3C65.9 97.0 83.3 91.3 100.2 89.2M44.0 127.9C54.2 127.0 65.2 128.2 74.9 131.3M65.6 109.8C85.1 104.4 107.0 102.8 127.1 105.2M57.2 131.0C71.8 132.5 86.9 137.0 99.9 143.9M61.2 113.9C78.8 109.6 98.4 108.7 116.4 111.3M66.5 131.9C84.4 134.5 102.8 141.0 118.3 150.2M73.5 112.1C95.7 108.3 120.0 108.9 142.0 113.8M55.9 139.0C69.3 143.2 82.6 150.4 93.4 159.3M43.2 133.8C52.5 135.0 62.2 138.2 70.4 142.8M70.2 122.6C90.3 122.2 111.6 126.0 130.3 133.3M70.9 131.5C90.4 134.3 110.4 141.4 127.4 151.5M48.6 108.0C62.3 100.4 78.3 95.2 93.8 93.4M54.8 136.1C68.1 139.2 81.6 145.2 92.7 153.0M45.0 126.1C55.7 124.7 67.3 125.4 77.8 128.2M48.5 133.2C59.8 134.6 71.5 138.5 81.4 144.1M45.8 136.3C55.8 138.5 66.0 143.1 74.4 149.0M74.8 122.1C96.5 122.0 119.6 126.4 139.7 134.5M39.3 122.2C48.4 118.9 58.6 117.2 68.2 117.5M50.7 124.6C63.6 123.2 77.6 124.3 90.0 127.9M70.0 112.3C90.9 108.2 113.9 108.2 134.8 112.4M50.2 134.0C62.1 135.8 74.3 140.3 84.5 146.5M50.8 116.8C64.5 112.6 79.8 111.0 94.0 112.3M72.8 118.0C94.2 116.2 117.3 118.7 137.7 125.2M59.8 125.0C75.9 124.6 93.1 127.4 108.2 133.1M59.2 102.9C77.1 94.5 97.8 89.3 117.6 88.3M53.9 123.5C68.0 121.9 83.3 123.2 97.0 127.2M53.8 118.9C68.3 115.6 84.4 115.3 99.0 117.8M61.7 111.0C79.8 105.7 100.0 103.8 118.7 105.8M40.5 131.6C49.1 131.7 58.1 133.6 66.0 137.0M60.3 117.4C77.2 114.2 95.9 114.4 112.8 117.9M52.4 138.5C64.6 142.2 76.8 148.7 86.7 156.7M57.8 116.6C73.9 113.0 91.8 112.5 108.1 115.2M67.3 116.7C86.9 114.0 108.2 115.2 127.3 120.0M74.6 115.4C96.9 112.8 121.0 114.7 142.6 120.8M43.3 123.6C53.7 121.1 65.2 120.6 75.7 122.2M67.7 122.8C86.8 122.2 107.2 125.6 125.2 132.4M53.0 126.3C66.5 125.6 81.0 127.8 93.8 132.4M37.2 118.4C45.9 113.5 56.0 110.1 65.9 108.8M59.1 132.9C74.2 135.2 89.7 140.7 102.8 148.6M53.3 107.4C68.7 100.0 86.5 95.4 103.5 94.5M61.2 119.5C78.3 117.2 96.9 118.3 113.6 122.6M58.1 128.4C73.2 129.0 89.2 132.8 103.0 139.1M57.3 126.4C72.3 126.3 88.3 129.2 102.3 134.8M45.8 117.4C57.6 113.0 71.1 110.7 83.7 111.0M62.8 138.0C78.8 142.4 94.8 150.5 107.9 160.7M64.5 102.4C84.3 94.2 107.0 89.7 128.5 89.7M54.8 116.7C69.8 112.9 86.6 111.9 102.0 114.0M63.0 130.1C79.8 131.7 97.3 137.0 112.2 144.9M71.5 115.5C92.7 112.7 115.7 114.2 136.3 119.6M54.9 125.4C69.2 124.6 84.6 126.8 98.1 131.5M71.9 109.1C93.8 104.1 118.1 103.3 140.3 107.0M59.7 130.2C75.3 131.6 91.5 136.3 105.4 143.5M50.1 114.6C63.6 109.5 79.1 107.0 93.5 107.4M61.8 133.3C77.8 135.9 94.3 142.1 108.1 150.7M46.3 131.2C57.0 131.7 68.2 134.5 77.9 139.0M66.5 112.5C86.1 108.1 107.8 107.6 127.6 111.1M68.8 120.4C88.6 119.1 109.8 121.8 128.6 128.2M64.0 95.1C80.0 94.3 97.2 96.7 112.4 102.1M60.6 101.6C74.9 102.8 89.8 107.0 102.5 113.6M77.5 108.1C97.2 113.2 117.1 122.7 133.4 134.9M59.2 90.2C74.0 87.1 90.3 87.0 105.2 89.8M62.3 111.9C76.2 116.9 89.9 125.2 100.9 135.2M51.0 101.9C61.7 102.4 73.1 105.1 82.9 109.6M74.7 97.3C94.4 98.3 115.1 103.4 133.0 111.8M72.6 95.0C91.8 94.9 112.1 98.8 129.8 106.0M57.6 112.5C69.8 117.3 81.7 124.9 91.2 134.0M52.7 103.2C63.9 104.2 75.7 107.7 85.7 112.9M82.0 96.0C104.4 97.1 127.9 103.0 148.2 112.5M78.3 112.1C97.9 118.6 117.3 129.7 133.0 143.2M75.1 103.4C94.4 106.5 114.2 113.9 130.8 124.1M53.2 98.0C65.1 97.2 78.0 98.9 89.3 102.8M54.5 90.8C67.5 87.5 82.1 86.8 95.4 88.7M70.3 96.1C88.5 96.3 107.8 100.2 124.6 107.3M73.8 93.1C93.6 92.4 114.7 95.9 133.3 102.8M70.9 115.0C87.7 122.0 104.0 132.9 116.8 145.6M60.7 88.0C76.2 84.3 93.4 83.7 109.2 86.2M44.3 102.4C52.7 102.4 61.6 104.1 69.3 107.3M59.3 116.3C71.7 122.7 83.6 132.0 92.6 142.6M49.8 110.0C59.4 113.2 69.0 118.6 76.6 125.3M57.2 92.7C71.0 90.4 86.2 90.9 99.9 94.0M73.3 116.9C90.7 124.8 107.5 136.7 120.7 150.6M77.0 90.5C98.2 89.3 120.9 92.3 140.9 99.2M61.9 81.2C78.5 75.1 97.4 72.2 115.0 73.0M63.5 99.6C79.0 100.4 95.2 104.4 109.3 110.9M49.5 107.0C59.3 109.1 69.2 113.4 77.4 119.1M77.4 92.9C98.4 92.5 120.8 96.5 140.4 104.1M76.1 114.8C94.7 122.1 112.9 133.7 127.3 147.6M79.6 105.1C100.3 109.3 121.4 118.1 139.0 129.9M66.7 119.2C81.6 127.2 95.6 138.8 106.3 151.9M67.9 116.4C83.5 123.6 98.4 134.5 110.1 147.0M50.5 97.1C61.5 95.7 73.5 96.6 84.3 99.5M46.0 109.2C54.4 111.7 62.7 116.2 69.4 121.7M63.2 119.6C76.8 127.4 89.5 138.6 99.1 151.1M47.8 112.2C56.6 116.0 65.0 121.9 71.7 128.7M53.8 109.5C64.9 112.9 76.0 118.9 84.9 126.3M58.2 97.4C72.0 96.9 86.7 99.2 99.6 104.0M77.6 103.2C97.8 106.5 118.5 114.3 136.0 125.0M79.8 101.7C100.9 104.7 122.7 112.3 141.1 123.1M62.9 102.5C77.9 104.3 93.4 109.2 106.6 116.5M68.6 94.5C86.4 93.8 105.3 96.9 122.0 103.1M62.4 90.6C78.3 88.1 95.7 88.7 111.4 92.4M76.5 110.8C95.7 116.7 114.7 127.0 130.1 139.7M72.7 114.0C90.2 120.8 107.3 131.6 120.8 144.4M64.5 89.4C81.3 86.6 99.7 87.1 116.3 90.9M61.2 99.5C75.8 99.9 91.3 103.5 104.6 109.5M65.6 99.5C81.9 100.4 99.0 104.7 113.7 111.8M73.5 101.5C92.4 103.8 112.0 110.2 128.6 119.5M59.8 119.1C72.1 126.5 83.7 136.9 92.3 148.5M54.0 114.1C64.7 119.2 75.0 126.9 83.0 135.6M65.0 115.1C79.7 121.5 93.8 131.4 104.9 142.9M74.2 105.8C93.0 109.7 112.1 117.8 127.9 128.6M50.7 104.2C61.2 105.4 72.1 108.8 81.3 113.9M49.9 99.8C60.5 99.4 71.9 101.2 81.8 104.8M46.7 102.8C55.9 103.2 65.5 105.5 73.9 109.3M55.9 113.8C67.3 118.9 78.4 126.7 87.1 135.8M70.7 95.2C81.9 104.8 91.8 117.4 98.5 130.6M89.1 95.3C107.0 106.8 123.5 122.6 135.6 139.9M88.2 83.9C106.7 91.2 124.8 102.7 139.1 116.5M86.0 71.0C104.9 73.4 124.5 79.9 141.0 89.3M62.6 87.6C71.6 93.8 79.8 102.3 85.8 111.5M85.7 75.6C104.0 79.6 122.7 87.7 138.2 98.4M72.8 99.7C84.4 111.2 94.3 125.8 100.6 140.8M87.8 77.9C106.7 82.9 125.7 92.3 141.3 104.1M72.3 96.9C84.0 107.4 94.2 120.9 101.0 135.0M82.2 94.4C97.7 104.9 111.8 119.2 122.1 134.8M78.7 80.1C94.2 85.1 109.6 93.6 122.0 104.1M62.9 90.6C71.7 97.9 79.6 107.5 85.0 117.6M86.6 82.0C104.7 88.5 122.6 99.1 136.9 111.9M94.0 73.3C115.5 77.3 137.5 86.0 156.0 97.9M71.3 78.0C84.3 81.6 97.3 88.1 108.0 96.3M75.4 86.6C89.1 93.6 102.1 103.9 112.1 115.6M69.3 99.1C79.7 110.1 88.4 123.9 93.9 137.9M95.0 76.5C116.7 81.8 138.5 91.8 156.6 104.9M69.0 91.8C80.0 100.1 89.8 111.3 96.8 123.1M78.1 95.7C92.0 106.2 104.4 120.2 113.2 135.2M59.8 83.4C68.2 87.8 76.1 94.3 82.2 101.6M75.3 97.3C87.9 108.1 99.1 122.3 106.7 137.1M77.6 92.2C91.6 101.4 104.4 114.1 113.9 128.0M73.5 72.7C87.8 74.6 102.6 79.5 115.1 86.7M93.3 79.1C114.0 85.1 134.8 95.8 151.7 109.3M77.2 73.0C92.8 75.4 108.8 81.1 122.3 89.2M77.7 87.6C92.1 95.2 105.9 106.3 116.3 118.8M71.7 88.5C83.9 95.8 95.3 106.2 103.7 117.6M69.0 94.4C79.6 103.6 89.0 115.6 95.4 128.2M86.0 84.4C103.7 91.6 121.0 103.0 134.6 116.4M83.4 76.7C100.8 80.9 118.4 89.1 133.0 99.6M66.3 78.6C77.4 81.9 88.6 87.8 97.6 95.1M71.3 91.0C83.2 99.2 94.0 110.4 101.8 122.5M87.0 93.1C104.2 103.5 120.3 118.1 132.3 134.3M75.0 61.7C90.8 59.8 108.0 61.1 123.3 65.4M57.7 79.6C65.7 82.4 73.6 87.2 79.8 92.9M64.5 89.1C74.0 96.0 82.7 105.3 88.9 115.3M81.8 67.0C99.5 67.6 118.3 72.0 134.5 79.3M92.0 76.7C112.5 81.7 133.2 91.3 150.3 103.7M77.6 70.0C93.6 71.2 110.3 75.9 124.6 83.2M84.5 81.4C101.9 87.3 119.1 97.3 133.0 109.5M87.3 86.4C105.3 94.4 122.7 106.7 136.3 120.9M69.5 88.4C81.0 95.5 91.6 105.5 99.4 116.4M91.3 92.7C110.2 103.3 128.0 118.6 141.3 135.6M74.3 94.7C86.8 104.5 98.1 117.5 106.0 131.3M75.5 71.2C90.6 72.8 106.3 77.6 119.7 84.7M81.5 88.3C97.2 96.5 112.1 108.5 123.5 122.0M90.4 67.6C111.2 69.1 132.9 75.2 151.5 84.5M64.0 82.5C74.0 87.0 83.7 93.9 91.2 101.9M79.5 94.1C94.0 104.1 107.2 117.9 116.8 132.7M78.0 82.2C93.0 87.9 107.7 97.1 119.4 108.1M88.1 69.6C108.0 71.7 128.5 78.0 146.0 87.5M74.3 75.2C88.6 78.0 103.2 84.0 115.3 92.1M71.6 66.5C85.7 66.0 100.9 68.4 114.2 73.3M79.9 70.1C96.7 71.6 114.3 76.8 129.2 84.6M78.4 61.5C95.4 59.9 113.9 61.7 130.3 66.6M68.1 79.9C79.8 83.9 91.4 90.6 100.7 98.7M60.9 92.8C68.9 100.7 75.6 110.7 80.0 121.1M79.1 67.5C95.9 68.0 113.6 72.1 128.9 78.9M80.7 78.6C97.0 83.2 113.4 91.5 126.7 102.0M63.8 84.7C73.5 90.0 82.7 97.7 89.6 106.3M83.2 79.1C100.3 84.1 117.5 93.1 131.4 104.3M62.0 82.8C71.3 87.3 80.1 94.0 87.0 101.6M63.0 80.4C72.8 84.1 82.5 90.0 90.2 97.2M94.6 86.6C115.1 95.4 135.1 109.1 150.7 125.0M74.4 84.7C87.9 90.9 100.9 100.4 111.0 111.3M84.1 68.5C102.6 69.8 121.9 75.1 138.4 83.4M76.6 80.2C91.3 85.0 105.8 93.2 117.6 103.3M92.7 85.7C112.6 94.0 132.0 107.0 147.3 122.2M57.4 83.0C65.0 87.1 72.2 93.0 77.7 99.7M81.6 80.7C98.1 86.1 114.4 95.4 127.5 106.7M77.0 75.7C92.3 78.9 107.8 85.6 120.7 94.4M80.1 91.4C95.1 100.6 109.0 113.4 119.3 127.6M83.4 86.2C100.0 93.8 116.0 105.4 128.5 118.7M69.1 69.2C82.1 69.4 95.8 72.3 107.8 77.4M67.0 94.7C77.0 103.9 85.6 115.7 91.4 128.0M84.2 73.7C102.2 77.0 120.6 84.1 136.0 94.0M76.0 89.9C89.6 98.1 102.3 109.7 111.8 122.5M85.6 66.4C104.7 67.2 124.9 72.0 142.3 79.9M87.8 65.4C107.8 65.9 129.0 70.7 147.3 78.9M61.5 85.2C70.4 90.5 78.7 98.0 84.8 106.2M67.1 74.0C78.9 75.7 91.1 80.1 101.4 86.2M68.7 77.9C80.8 81.2 93.0 87.2 102.9 94.9M72.3 70.7C86.3 71.8 100.9 75.9 113.5 82.2M90.5 86.0C109.7 94.2 128.3 106.9 142.9 121.8M81.7 62.4C99.9 61.3 119.4 64.0 136.6 69.9M79.8 83.3C95.4 89.5 110.6 99.4 122.6 111.1M71.7 83.8C84.3 89.5 96.5 98.2 106.0 108.2M92.4 70.3C113.6 73.1 135.6 80.4 154.2 91.1M76.0 83.1C90.2 88.9 104.0 98.1 115.0 108.9M82.2 72.2C99.6 74.7 117.5 81.0 132.7 89.9M79.0 97.4C93.0 108.7 105.5 123.5 114.2 139.2M84.9 63.5C104.1 63.2 124.6 66.8 142.5 73.8M84.2 93.1C100.5 103.2 115.6 117.4 126.8 133.0M76.9 70.1C84.6 77.7 91.2 87.3 95.4 97.3M95.6 65.8C110.4 73.6 124.4 84.9 135.1 97.7M103.0 71.2C120.0 81.6 135.8 96.1 147.5 112.2M95.0 78.6C108.4 90.9 120.0 106.8 127.7 123.3M86.0 73.0C96.7 82.5 106.1 94.8 112.4 107.7M80.5 67.9C89.6 75.0 97.9 84.5 103.7 94.6M108.1 66.4C127.3 75.5 145.8 89.2 160.1 105.0M87.5 80.1C98.1 92.3 106.8 107.4 112.0 122.7M90.3 58.5C103.9 63.1 117.3 70.9 128.1 80.4M75.4 68.0C82.7 74.7 89.1 83.4 93.3 92.4M88.7 77.8C100.0 89.2 109.5 103.7 115.5 118.6M101.2 84.7C116.3 99.8 129.2 118.9 137.4 138.6M110.1 70.5C129.6 81.3 148.1 96.9 162.1 114.3M99.3 68.6C115.2 77.7 130.2 90.7 141.4 105.2M101.5 69.3C118.1 78.8 133.6 92.4 145.3 107.6M90.9 77.1C102.9 88.5 113.4 103.1 120.2 118.2M82.2 69.6C91.9 77.5 100.4 88.0 106.4 99.0M90.2 79.7C101.8 92.0 111.6 107.4 117.6 123.2M80.5 63.1C90.1 68.5 99.2 76.3 106.1 85.0M104.9 58.4C123.8 64.3 142.5 74.6 157.6 87.2M108.2 77.1C126.5 90.1 143.2 107.7 155.1 126.6M105.3 60.7C124.0 67.6 142.4 78.7 157.2 92.2M91.6 54.6C106.0 58.1 120.5 64.7 132.5 73.3M79.3 76.3C87.3 86.4 93.7 98.7 97.3 111.0M83.9 56.4C95.4 59.7 106.8 65.7 116.2 73.1M109.9 63.8C130.0 72.1 149.6 85.2 165.0 100.6M102.1 77.8C118.1 90.5 132.5 107.3 142.5 125.1M100.4 53.7C118.0 57.6 135.9 65.4 150.7 75.6M82.4 58.6C93.2 62.6 103.7 69.0 112.1 76.8M105.4 73.3C123.0 84.6 139.3 100.3 151.3 117.5M83.0 67.2C93.1 74.3 102.4 84.0 109.1 94.4M107.5 73.0C125.9 84.4 143.1 100.4 155.8 117.9M92.9 72.6C106.2 82.6 118.1 95.9 126.5 110.2M99.8 50.8C117.4 53.5 135.6 60.2 150.9 69.5M81.9 61.2C92.2 66.1 102.1 73.4 109.8 81.9M88.4 59.9C101.1 64.9 113.6 72.9 123.5 82.4M94.8 57.4C110.1 62.0 125.3 70.2 137.6 80.3M92.6 74.9C105.5 85.6 116.9 99.7 124.7 114.5M88.6 55.8C101.8 59.4 115.1 65.9 125.9 74.2M90.8 70.4C103.5 79.3 115.1 91.5 123.4 104.6M78.4 64.9C87.1 70.8 95.2 78.8 101.0 87.6M83.8 81.6C93.0 94.0 100.1 109.0 103.8 123.9M103.0 56.8C121.3 62.0 139.5 71.4 154.4 83.2M84.4 75.6C94.3 85.9 102.6 98.8 107.8 112.1M84.9 69.3C95.5 77.4 105.1 88.1 111.9 99.6M87.2 84.2C97.3 97.8 105.2 114.3 109.4 130.7M100.3 65.0C116.8 72.9 132.7 84.8 145.0 98.4M76.4 72.5C83.7 80.9 89.7 91.3 93.2 101.9M96.6 54.3C112.9 58.0 129.3 65.3 142.9 75.0M110.5 67.2C130.5 76.8 149.7 91.1 164.6 107.6M101.3 75.8C117.3 87.6 131.7 103.6 141.9 120.6M94.5 51.3C110.2 53.8 126.4 59.8 140.0 68.0M91.9 81.3C103.9 94.2 114.0 110.5 120.2 127.1M100.9 58.2C118.2 63.8 135.5 73.3 149.5 85.0M84.2 86.3C93.0 100.4 99.5 117.2 102.3 133.6M109.4 73.9C128.4 85.8 146.1 102.4 159.1 120.7M102.6 52.6C121.2 56.3 140.0 64.1 155.7 74.5M92.8 69.5C106.3 78.3 118.7 90.5 127.8 103.7M85.5 80.3C95.4 92.3 103.3 107.2 107.9 122.1M72.5 66.8C79.0 72.8 84.6 80.6 88.2 88.6M106.8 63.9C125.8 72.1 144.2 84.7 158.7 99.4M101.8 60.9C119.2 67.5 136.3 78.1 150.0 90.8M79.2 79.7C86.9 91.0 92.6 104.6 95.4 117.9M108.2 75.9C117.0 92.5 122.8 112.0 124.5 130.8M119.9 52.2C135.0 61.5 149.0 74.5 159.5 88.8M110.2 51.6C121.8 59.8 132.5 70.9 140.2 82.9M117.9 42.1C133.2 47.6 148.3 56.6 160.3 67.4M104.2 58.7C113.1 68.9 120.4 81.6 124.7 94.4M124.9 55.3C141.5 66.1 156.9 81.0 168.2 97.4M98.6 59.2C105.4 69.0 110.6 80.9 113.1 92.6M99.2 76.0C104.7 91.9 107.2 109.9 106.2 126.7M121.1 48.1C137.0 56.1 152.2 67.8 163.9 81.2M113.1 70.0C124.1 85.0 132.7 103.2 137.2 121.2M105.2 49.3C115.4 56.2 124.6 65.6 131.4 75.9M117.4 59.9C131.0 71.7 142.8 87.1 150.9 103.1M96.6 73.6C101.4 88.4 103.4 105.1 102.2 120.6M128.2 61.9C145.4 75.4 160.8 93.2 171.5 112.3M90.4 61.6C94.1 71.5 95.9 82.8 95.5 93.3M123.5 64.6C138.8 78.6 152.0 96.7 160.8 115.5M116.1 57.7C129.4 68.5 141.2 82.8 149.3 97.9M111.5 68.2C122.1 82.4 130.4 99.7 134.8 116.8M101.0 63.6C108.3 75.2 113.5 89.1 115.9 102.6M125.6 64.3C141.7 78.4 155.7 96.7 165.2 115.9M116.4 69.8C128.7 85.1 138.5 103.8 144.1 122.6M114.6 59.2C127.1 70.5 138.1 85.1 145.4 100.4M95.0 61.4C100.3 71.7 103.8 83.7 104.9 95.3M123.0 49.7C139.5 58.3 155.2 70.9 167.1 85.2M109.0 68.4C118.7 82.5 126.0 99.5 129.7 116.2M118.7 73.2C131.5 89.8 141.6 110.2 147.0 130.4M106.8 69.1C115.7 83.3 122.2 100.1 125.0 116.6M116.3 55.3C129.9 65.3 142.1 78.8 150.8 93.3M119.9 71.6C133.2 87.9 144.0 107.8 150.2 127.9M123.3 46.1C140.2 53.5 156.6 64.9 169.4 78.2M92.1 68.3C95.7 80.8 97.0 94.8 95.6 107.7M119.4 67.1C133.0 81.7 144.4 99.9 151.4 118.6M118.6 54.1C133.1 64.0 146.4 77.4 156.0 92.0M117.1 52.3C131.2 61.4 144.3 73.9 153.9 87.6M112.5 54.4C124.7 63.8 135.8 76.3 143.5 89.6M103.2 51.9C112.4 59.5 120.5 69.5 126.1 80.1M108.3 71.1C117.6 86.0 124.2 103.8 127.1 121.2M103.6 73.7C111.0 89.2 115.5 107.2 116.4 124.3M106.4 66.0C115.4 79.0 122.2 94.7 125.6 110.1M98.6 54.4C105.9 62.5 111.9 72.7 115.5 82.9M120.7 43.9C136.9 50.3 152.7 60.5 165.2 72.5M121.6 54.0C137.1 64.1 151.5 78.0 162.0 93.3M101.1 58.5C108.9 68.3 115.1 80.4 118.5 92.4M112.1 46.0C125.0 52.4 137.3 61.8 146.8 72.6M96.7 63.3C102.5 74.4 106.4 87.5 107.5 100.0M121.5 67.5C135.8 82.4 147.8 101.2 155.4 120.4M117.2 71.7C129.5 87.6 139.3 107.2 144.6 126.6M118.1 68.6C131.1 83.6 141.7 102.2 148.0 121.0M103.0 60.6C111.3 71.4 117.8 84.5 121.4 97.6M126.9 51.9C144.6 61.7 161.2 75.8 173.8 91.5M102.0 47.7C111.1 53.8 119.5 62.1 125.7 71.1M122.8 57.1C138.5 68.4 152.8 83.7 163.1 100.1M110.6 48.5C122.7 55.6 134.0 65.7 142.5 76.9M114.0 75.6C124.8 92.7 132.7 113.1 136.3 133.0M112.0 76.0C122.1 93.1 129.2 113.3 132.1 132.9M114.7 45.6C128.6 52.0 142.0 61.7 152.3 72.9M114.4 66.9C126.2 80.9 135.8 98.2 141.4 115.7M109.5 58.8C120.3 69.4 129.5 83.0 135.4 97.0M123.5 67.3C138.6 82.3 151.4 101.3 159.6 120.9M120.2 69.1C133.9 84.5 145.2 103.6 152.0 123.0M115.1 50.8C128.6 59.1 141.2 70.7 150.6 83.5M112.7 78.3C122.9 96.3 129.9 117.4 132.5 137.9M110.0 54.2C121.4 63.3 131.5 75.4 138.6 88.1M111.0 63.9C121.9 76.6 130.8 92.3 136.0 108.1M96.5 56.2C102.9 64.8 107.8 75.2 110.5 85.6M119.4 58.4C133.8 69.8 146.6 85.0 155.6 101.0M100.5 49.9C108.9 56.6 116.4 65.4 121.6 74.8M122.1 73.9C136.0 91.1 147.2 112.3 153.5 133.6"/>
<path fill="none" stroke="#ccadcf" stroke-width="0.5" stroke-opacity="0.075" d="M127.7 95.4C122.1 106.6 114.5 115.9 105.5 121.0M161.0 120.2C159.2 137.8 153.8 154.0 144.4 165.2M173.8 119.1C174.1 137.5 170.5 154.7 162.4 167.4M149.6 113.8C146.3 129.6 139.9 143.7 130.5 152.9M138.2 139.0C131.2 158.1 120.7 174.6 107.2 184.5M114.7 105.0C106.3 116.9 96.0 126.3 84.8 130.6M178.8 102.3C181.1 118.2 179.9 133.7 174.2 145.6M130.8 116.8C124.2 131.8 114.9 144.4 103.5 151.6M155.0 76.7C155.2 86.8 153.3 96.3 148.8 103.3M125.9 131.3C117.5 148.2 106.0 162.4 92.5 170.1M159.7 115.4C157.9 132.1 152.8 147.5 143.9 158.1M170.5 97.8C171.7 112.4 169.9 126.4 164.0 136.9M159.4 143.0C155.7 164.2 147.8 183.4 135.5 196.2M176.6 114.7C177.7 132.5 175.0 149.4 167.6 162.1M180.5 120.0C181.8 138.9 179.1 157.0 171.3 170.6M115.3 112.3C106.5 125.4 95.5 135.9 83.4 140.8M179.2 125.5C180.0 145.2 176.5 163.9 168.0 177.8M137.0 114.6C131.5 129.6 123.3 142.6 112.7 150.4M121.9 125.1C113.3 140.8 101.9 153.7 88.8 160.5M138.5 133.2C132.0 151.3 122.1 167.1 109.4 176.5M180.0 72.0C184.6 83.0 186.6 94.3 184.7 104.0M165.0 104.9C164.9 120.3 161.6 134.7 154.4 145.2M128.7 100.1C123.0 112.2 115.1 122.3 105.6 127.9M144.4 98.9C141.3 111.9 135.7 123.4 127.6 130.8M148.4 104.1C145.6 118.2 140.0 130.9 131.6 139.2M174.5 110.1C175.5 127.0 173.0 143.1 165.9 155.1M163.2 94.1C163.5 107.6 161.0 120.3 155.0 129.7M149.3 120.7C145.5 137.6 138.4 152.7 128.0 162.4M144.9 141.6C138.9 161.6 129.1 179.1 115.8 190.1M165.1 121.5C163.9 139.6 158.9 156.4 149.7 168.2M191.7 89.3C197.1 103.9 199.0 118.9 196.0 131.3M176.0 81.6C179.3 93.9 179.8 106.2 176.4 116.1M132.8 97.1C127.9 109.0 120.8 119.1 112.1 124.9M186.3 94.7C190.4 109.9 191.0 125.0 186.8 137.3M149.4 129.6C144.9 147.9 136.9 164.2 125.5 174.7M174.1 68.1C178.0 78.1 179.6 88.3 177.7 96.9M155.7 112.7C153.4 128.7 148.0 143.2 139.2 153.1M152.9 90.3C151.7 102.4 148.2 113.6 141.9 121.3M143.5 129.5C138.1 147.5 129.3 163.2 117.4 172.9M137.0 124.6C130.9 141.2 121.7 155.6 109.9 164.1M117.5 119.3C108.6 133.7 97.2 145.3 84.5 151.1M152.5 107.1C150.1 122.0 144.8 135.4 136.4 144.5M157.2 82.9C157.4 94.2 155.1 104.7 150.1 112.5M139.3 120.7C133.9 136.9 125.4 150.9 114.3 159.5M164.3 131.2C162.2 150.8 156.1 168.8 145.7 181.3M166.7 82.8C168.4 94.7 167.5 106.2 163.3 115.1M135.1 93.3C130.9 104.7 124.6 114.5 116.5 120.4M173.5 92.2C175.7 106.1 174.8 119.6 169.9 130.0M144.7 121.1C140.0 137.7 132.2 152.3 121.5 161.6M138.2 96.9C134.2 109.1 127.9 119.7 119.6 126.3M128.9 126.2C121.3 142.5 110.8 156.3 98.2 164.0M166.7 135.0C164.7 155.4 158.6 174.2 147.9 187.3M162.1 81.4C163.2 92.7 161.8 103.6 157.3 111.8M154.5 121.4C151.5 138.7 145.0 154.4 135.0 164.9M134.3 121.3C128.0 137.2 118.7 150.9 107.1 158.9M122.4 94.9C116.0 105.7 107.7 114.4 98.4 118.9M175.7 96.6C177.9 111.3 176.8 125.7 171.6 136.8M152.1 142.4C147.3 163.1 138.4 181.4 125.6 193.3M159.5 102.3C158.6 116.9 154.8 130.4 147.5 140.0M160.1 109.3C158.9 125.0 154.4 139.6 146.4 149.8M163.7 127.2C161.8 146.1 156.0 163.5 146.1 175.6M167.9 93.6C169.0 107.4 167.2 120.5 161.6 130.4M122.5 115.8C114.6 130.0 104.2 141.7 92.4 147.8M175.0 125.0C175.1 144.3 171.1 162.5 162.3 175.8M126.4 113.5C119.3 127.6 109.8 139.4 98.5 145.8M162.7 136.2C159.9 156.6 153.1 175.1 142.0 187.8M124.5 99.8C118.1 111.5 109.6 121.2 99.9 126.2M151.7 137.4C147.1 157.2 138.6 174.8 126.4 186.2M159.8 87.4C160.1 99.6 157.8 111.0 152.4 119.4M161.6 75.8C163.0 86.2 162.1 96.2 158.3 104.0M164.4 89.2C165.3 102.0 163.5 114.2 158.2 123.3M127.1 104.5C120.8 117.2 112.2 127.7 102.1 133.5M135.5 101.5C130.7 114.2 123.6 125.2 114.5 131.7M115.2 97.9C107.4 108.6 97.8 117.1 87.5 120.8M171.6 127.6C171.0 147.1 166.3 165.4 156.9 178.5M145.2 114.6C141.2 130.2 134.1 144.0 124.2 152.8M184.2 129.1C185.6 149.8 182.5 169.5 173.9 184.3M153.5 96.3C152.1 109.5 148.0 121.5 141.0 129.9M122.4 104.4C115.3 116.7 106.0 126.8 95.5 131.9M141.1 125.2C135.6 142.3 126.9 157.1 115.3 166.3M151.7 71.5C151.7 80.5 149.8 88.9 145.7 95.0M132.9 126.4C126.0 143.0 116.1 157.2 103.7 165.4M187.0 113.6C189.8 132.0 188.7 149.8 182.2 163.7M148.5 109.5C145.3 124.4 139.2 137.8 130.2 146.6M164.2 100.2C164.3 114.8 161.3 128.5 154.7 138.4M179.9 78.2C184.0 90.2 185.4 102.4 182.8 112.5M150.8 133.4C146.3 152.5 138.1 169.5 126.3 180.4M154.5 128.8C145.7 143.5 134.3 155.6 121.5 161.6M145.3 114.8C136.0 126.6 124.7 135.8 112.9 139.6M132.3 123.5C120.2 135.8 106.3 144.9 92.4 147.8M129.5 107.5C118.1 117.0 105.4 123.6 93.2 124.8M177.6 72.5C176.5 79.7 174.0 86.2 170.0 90.5M161.2 133.9C153.1 150.0 142.2 163.3 129.3 170.6M131.7 132.8C118.9 146.6 103.9 156.9 88.8 160.5M169.5 140.7C162.2 158.4 151.8 173.6 138.7 182.4M169.3 110.0C164.2 122.7 156.8 133.6 147.5 140.0M198.9 90.4C200.0 102.0 198.6 113.1 194.1 121.5M177.7 101.3C174.6 113.2 169.2 123.7 161.6 130.4M183.6 126.8C179.7 143.3 172.6 157.9 162.4 167.4M188.9 101.1C187.7 113.7 183.9 125.3 177.3 133.3M149.2 128.4C139.5 142.7 127.4 154.1 114.3 159.5M127.2 98.8C116.0 106.7 103.8 111.8 92.5 112.1M179.6 140.2C174.1 158.5 165.1 174.7 152.9 184.7M150.3 100.8C142.7 110.6 133.5 118.3 123.9 121.6M180.3 115.4C176.7 129.7 170.2 142.5 161.2 150.6M134.4 128.1C122.3 141.4 108.2 151.2 93.9 154.8M150.9 132.9C141.2 148.1 128.9 160.3 115.3 166.3M165.7 145.3C157.6 163.5 146.1 178.9 132.2 187.7M189.7 85.9C189.6 96.0 187.5 105.6 182.8 112.5M156.6 133.4C147.8 149.1 136.2 161.9 123.0 168.6M164.3 129.1C157.1 144.6 147.0 157.6 135.0 164.9M178.9 78.3C177.6 86.4 174.7 93.8 170.1 98.8M197.6 109.6C197.2 124.2 193.8 137.9 186.8 147.7M160.8 88.1C155.9 96.6 149.5 103.6 142.2 107.2M145.0 101.0C136.5 110.6 126.6 117.7 116.5 120.4M170.9 127.9C164.8 143.7 155.8 157.2 144.4 165.2M162.4 92.6C157.4 102.0 150.8 109.7 143.1 113.9M162.3 114.8C155.8 127.8 146.9 138.6 136.4 144.5M201.0 124.5C200.1 141.8 195.6 157.9 187.1 169.3M172.3 78.4C170.0 86.1 166.1 92.9 161.0 97.1M165.5 120.4C159.0 134.5 150.0 146.4 139.2 153.1M173.5 134.9C167.4 151.9 158.1 166.7 146.1 175.6M181.9 122.3C178.1 137.9 171.2 151.7 161.4 160.6M203.9 110.8C204.4 126.0 201.8 140.5 195.1 151.1M155.5 92.3C149.4 101.1 141.9 108.2 133.6 111.4M190.3 127.7C187.4 144.8 181.1 160.2 171.3 170.6M191.6 123.3C189.3 139.7 183.6 154.7 174.5 164.8M175.8 124.6C170.8 140.2 162.8 153.7 152.2 162.0M194.7 84.8C195.5 95.1 194.2 105.0 190.0 112.5M169.7 95.1C165.7 105.4 159.8 114.2 152.4 119.4M141.2 143.8C129.2 160.1 114.4 172.9 98.7 178.5M148.8 92.1C141.6 100.4 133.1 106.7 124.4 109.1M151.1 123.5C142.1 137.1 130.8 148.1 118.4 153.3M196.6 97.5C196.8 110.0 194.5 121.9 188.9 130.6M153.4 114.2C145.4 126.4 135.3 136.3 124.3 141.0M160.3 107.8C153.9 119.5 145.4 129.1 135.7 134.2M188.4 95.2C187.5 106.8 184.2 117.5 178.2 125.1M189.0 133.2C185.6 151.1 178.6 167.1 168.0 177.8M141.4 111.2C131.6 122.1 120.2 130.3 108.5 133.4M155.3 102.2C148.5 112.7 139.9 121.1 130.4 125.1M182.9 145.8C177.6 165.3 168.5 182.6 155.9 193.5M176.3 148.8C169.7 168.4 159.4 185.4 145.9 195.7M159.1 128.4C151.1 143.4 140.4 155.9 128.0 162.4M139.9 97.8C130.9 106.5 120.6 112.7 110.5 114.5M135.7 139.0C123.1 154.1 108.1 165.6 92.5 170.1M184.3 117.8C181.1 132.8 175.0 146.3 165.9 155.1M174.1 107.9C169.9 120.6 163.4 131.7 154.7 138.4M188.7 141.5C184.6 160.7 176.7 177.9 165.1 189.2M199.0 115.2C198.5 130.8 194.7 145.4 187.1 155.8M203.3 103.8C204.2 117.8 202.2 131.2 196.4 141.3M125.0 105.6C113.0 114.5 99.8 120.3 87.5 120.8M176.3 84.8C174.1 93.9 170.1 102.0 164.5 107.1M148.0 146.7C136.8 164.0 122.7 177.8 107.2 184.5M183.3 99.9C181.3 111.9 176.8 122.8 169.9 130.0M191.5 105.5C190.3 119.0 186.4 131.5 179.5 140.2M169.3 150.7C161.3 170.0 149.8 186.6 135.5 196.2M155.1 122.3C146.8 136.1 136.1 147.2 124.2 152.8M145.8 136.5C135.0 151.9 121.7 164.1 107.3 169.7M162.7 98.0C157.4 108.2 150.2 116.8 141.9 121.3M174.1 138.9C167.8 156.7 158.1 172.0 145.7 181.3M148.3 140.9C137.6 157.2 124.2 170.3 109.4 176.5M158.3 117.2C150.9 130.3 141.2 141.0 130.2 146.6M134.3 107.5C123.7 117.4 111.6 124.4 99.9 126.2M172.0 89.1C168.8 98.6 163.8 106.8 157.3 111.8M139.1 118.2C128.5 130.1 116.0 139.1 103.3 142.4M138.7 133.9C126.9 148.4 112.8 159.5 98.2 164.0M185.8 138.0C181.5 156.4 173.5 172.8 162.1 183.5M181.4 135.3C176.6 153.0 168.3 168.6 156.9 178.5M151.1 87.0C144.6 94.7 136.9 100.5 129.0 102.8M160.6 141.1C151.9 158.3 140.1 172.7 126.3 180.4M133.1 117.4C121.6 128.8 108.4 137.0 95.3 139.5M194.7 117.1C193.3 132.7 188.7 147.1 180.6 157.2M162.0 150.1C152.9 168.9 140.4 184.6 125.6 193.3M124.6 112.7C111.9 122.8 98.0 129.5 84.8 130.6M184.4 153.7C174.4 169.0 161.8 181.4 147.9 187.3M171.6 135.7C160.7 147.2 148.1 155.8 135.4 158.7M196.3 106.2C191.6 114.6 185.3 121.5 178.2 125.1M148.5 135.5C133.9 145.4 118.1 151.6 103.5 151.6M187.6 151.1C178.2 166.3 166.3 178.6 152.9 184.7M205.6 120.6C201.3 132.0 194.9 141.8 186.8 147.7M182.8 123.6C174.6 133.9 164.8 141.9 154.4 145.2M199.6 134.2C193.4 147.5 184.8 158.6 174.5 164.8M167.1 148.3C154.6 161.5 140.1 171.4 125.5 174.7M153.2 120.1C140.4 127.8 126.8 132.4 114.5 131.7M176.0 111.3C167.6 119.1 158.0 124.7 148.6 126.2M161.3 125.1C149.5 134.2 136.5 140.2 124.3 141.0M146.6 144.9C131.0 156.1 114.0 163.5 98.2 164.0M137.5 118.5C122.2 124.8 106.6 127.5 93.2 124.8M188.8 141.8C180.3 155.5 169.5 166.6 157.4 172.1M197.0 144.1C189.7 158.8 179.7 171.1 168.0 177.8M188.3 126.3C180.8 137.5 171.4 146.4 161.2 150.6M155.9 115.6C143.9 122.7 131.1 126.9 119.6 126.3M163.3 113.2C152.6 120.5 141.0 125.0 130.4 125.1M192.2 128.7C185.2 140.6 176.1 150.2 165.9 155.1M169.1 144.9C157.2 157.7 143.3 167.3 129.3 170.6M207.0 126.1C202.6 138.6 195.8 149.3 187.1 155.8M190.9 156.8C181.7 173.1 169.6 186.5 155.9 193.5M162.2 117.6C151.0 125.4 138.9 130.5 127.6 130.8M158.8 143.9C145.3 155.9 130.1 164.3 115.3 166.3M193.4 115.2C187.6 124.9 180.0 132.8 171.6 136.8M185.4 144.2C176.2 158.1 164.6 169.2 152.0 174.5M147.9 108.8C135.0 114.2 121.8 116.6 110.5 114.5M141.0 128.3C125.7 136.5 109.5 141.0 95.3 139.5M158.2 111.7C146.8 118.4 134.7 122.2 123.9 121.6M152.1 140.0C137.7 150.8 121.9 158.0 107.1 158.9M169.5 156.1C156.8 170.8 141.8 182.0 126.4 186.2M135.1 109.8C120.1 114.5 105.0 115.8 92.5 112.1M167.1 139.4C155.2 151.2 141.6 159.8 128.0 162.4M204.5 108.4C200.9 117.8 195.6 125.8 188.9 130.6M144.2 132.2C129.0 141.2 112.9 146.5 98.5 145.8M159.3 128.9C146.9 138.4 133.2 144.8 120.3 145.6M162.8 108.4C152.4 114.8 141.2 118.6 131.2 118.3M175.0 101.6C167.1 107.7 158.3 111.9 150.1 112.5M158.8 120.8C146.9 129.0 133.9 134.2 122.0 134.3M211.2 114.7C208.3 125.6 203.3 135.2 196.4 141.3M177.3 116.2C168.8 124.9 158.9 131.3 149.0 133.4M170.4 103.6C161.5 109.7 151.9 113.7 143.1 113.9M191.9 86.7C187.7 91.6 182.8 95.4 177.7 96.9M140.2 113.6C125.7 119.3 110.9 121.6 98.4 118.9M164.5 144.4C151.9 156.8 137.4 165.9 123.0 168.6M196.6 121.0C190.8 131.8 183.1 140.8 174.2 145.6M194.4 133.3C187.4 146.1 178.2 156.6 167.6 162.1M171.3 115.0C161.8 123.1 151.2 128.7 141.0 129.9M150.5 115.8C137.6 122.6 124.0 126.2 112.1 124.9M177.9 127.9C168.6 138.6 157.6 146.7 146.4 149.8M180.3 89.3C174.1 93.9 167.3 96.8 161.0 97.1M200.5 123.3C195.2 134.9 187.8 144.6 178.9 150.0M182.9 140.2C173.6 153.2 162.1 163.5 149.7 168.2M152.9 112.0C140.6 118.3 127.8 121.7 116.5 120.4M172.2 140.0C161.2 152.3 148.2 161.5 135.0 164.9M161.2 148.2C147.8 161.1 132.4 170.3 117.4 172.9M169.9 161.1C157.0 176.7 141.5 188.6 125.6 193.3M193.0 124.2C186.4 135.3 177.9 144.4 168.3 149.0M149.3 122.1C135.7 129.9 121.4 134.3 108.5 133.4M135.3 137.9C118.3 147.3 100.3 152.5 84.5 151.1M209.0 135.5C204.2 149.6 196.8 161.8 187.1 169.3M132.9 116.5C117.1 122.2 101.0 124.2 87.5 120.8M152.9 106.1C141.1 111.5 128.8 114.1 118.2 112.3M168.5 152.1C156.0 166.1 141.3 176.6 126.3 180.4M163.1 94.3C153.7 98.4 144.0 100.4 135.7 98.9M189.7 96.1C184.6 102.4 178.5 107.3 172.1 109.3M132.5 123.7C116.0 130.5 99.2 133.5 84.8 130.6M153.8 147.5C139.1 159.7 122.8 168.1 107.3 169.7M182.0 118.9C174.0 128.4 164.5 135.6 154.7 138.4M147.0 129.1C132.6 137.9 117.2 143.0 103.3 142.4M151.3 129.9C137.5 139.0 122.7 144.7 109.0 144.6M166.2 128.1C155.0 138.0 142.4 145.0 130.2 146.6M191.0 128.0C182.1 133.7 172.7 137.1 164.0 136.9M196.5 111.8C189.7 115.2 182.6 116.9 176.4 116.1M156.0 131.7C141.1 135.5 126.4 135.9 114.5 131.7M199.7 155.7C190.4 166.5 179.3 174.7 168.0 177.8M192.5 107.7C185.3 110.1 178.1 110.9 172.1 109.3M174.3 147.3C161.4 154.9 147.7 159.4 135.4 158.7M195.7 135.8C187.1 143.0 177.5 148.0 168.3 149.0M201.0 150.2C192.2 160.2 181.9 167.8 171.3 170.6M209.5 113.0C204.8 117.4 199.4 120.6 194.1 121.5M142.4 155.3C123.7 162.1 104.7 164.5 88.8 160.5M156.0 137.3C140.8 142.1 125.5 143.3 112.9 139.6M200.5 140.6C192.4 149.0 183.0 155.2 173.6 157.2M175.5 106.9C165.6 108.1 156.1 107.0 148.8 103.3M199.1 117.7C192.3 122.2 185.0 125.1 178.2 125.1M195.5 155.2C185.5 165.6 173.9 173.3 162.3 175.8M195.0 140.3C185.9 148.2 175.8 153.8 165.9 155.1M149.2 130.3C133.4 133.5 117.9 133.0 105.6 127.9M202.3 145.8C194.1 155.1 184.4 162.2 174.5 164.8M181.6 150.4C169.6 159.1 156.6 164.7 144.4 165.2M171.0 130.3C158.7 134.9 146.2 136.7 135.7 134.2M208.8 153.4C201.1 164.5 191.5 173.3 181.2 177.3M186.8 142.4C176.2 150.1 164.7 155.2 154.0 155.6M176.2 142.9C163.8 149.9 150.8 154.0 139.2 153.1M214.6 133.3C209.2 141.5 202.5 148.0 195.1 151.1M175.0 151.6C161.9 160.0 147.8 165.1 135.0 164.9M169.0 139.7C155.7 145.7 142.0 148.6 130.2 146.6M206.8 124.9C200.8 131.1 193.8 135.8 186.8 137.3M180.6 139.5C169.3 146.3 157.2 150.3 146.4 149.8M194.6 98.3C188.4 99.3 182.4 99.0 177.7 96.9M185.7 151.7C174.3 160.9 161.7 167.1 149.7 168.2M154.1 141.4C138.2 146.7 122.3 148.3 109.0 144.6M209.7 137.7C203.3 146.2 195.4 152.9 187.1 155.8M150.6 120.3C135.7 121.9 121.4 120.2 110.5 114.5M152.1 133.7C136.4 137.5 121.0 137.9 108.5 133.4M205.4 150.7C197.3 161.0 187.6 169.1 177.3 172.5M161.6 132.4C147.6 136.7 133.6 137.8 122.0 134.3M146.4 161.5C127.9 169.5 108.8 173.1 92.5 170.1M188.4 123.8C179.4 128.6 170.0 131.2 161.6 130.4M173.4 120.5C162.2 123.7 151.0 124.3 141.9 121.3M177.4 156.0C164.3 165.3 150.1 171.3 137.0 171.6M172.6 172.6C157.7 184.3 141.2 192.2 125.6 193.3M180.2 145.6C168.3 153.4 155.6 158.2 143.9 158.1M174.8 161.1C161.0 171.0 146.0 177.5 132.0 178.0M193.6 168.3C182.4 180.8 169.2 190.1 155.9 193.5M138.0 149.5C119.0 154.9 100.0 156.1 84.5 151.1M172.2 101.7C162.1 101.7 152.6 99.6 145.7 95.0M161.7 109.5C149.4 110.1 137.7 108.0 129.0 102.8M166.0 124.8C153.3 128.1 140.7 128.6 130.4 125.1M199.3 132.5C191.5 139.5 182.7 144.4 174.2 145.6M185.6 135.1C175.3 141.6 164.4 145.5 154.4 145.2M182.1 106.0C173.4 107.5 164.9 107.0 158.3 104.0M186.9 107.3C178.9 109.3 170.9 109.5 164.5 107.1M165.8 105.8C154.4 106.1 143.6 103.9 135.7 98.9M172.2 167.6C157.5 178.5 141.4 185.6 126.4 186.2M204.1 115.9C198.2 120.5 191.8 123.6 185.7 124.0M196.2 126.8C188.3 132.6 179.6 136.4 171.6 136.8M200.5 102.2C195.0 104.3 189.4 105.1 184.7 104.0M154.8 151.5C138.4 158.5 121.5 161.6 107.1 158.9M149.4 156.4C131.7 163.8 113.6 167.0 98.2 164.0M140.2 130.0C122.9 132.5 106.2 131.1 93.2 124.8M159.5 114.6C146.4 115.9 133.8 114.3 124.4 109.1M164.1 136.7C150.2 141.8 136.1 143.8 124.3 141.0M161.6 155.5C146.0 163.5 129.7 167.9 115.3 166.3M159.0 163.4C142.4 172.6 124.9 177.8 109.4 176.5M189.5 132.7C180.0 139.0 169.9 142.9 160.6 142.9M171.9 156.4C157.9 165.4 142.9 170.9 129.3 170.6M135.8 142.5C116.9 146.7 98.3 146.6 83.4 140.8M184.9 119.4C175.7 123.3 166.3 124.9 158.2 123.3M162.0 140.4C147.6 146.1 132.8 148.3 120.3 145.6M169.8 150.9C155.9 158.9 141.2 163.4 128.0 162.4M153.4 156.6C136.4 164.3 118.9 168.0 103.7 165.4M179.9 173.2C166.1 185.4 150.6 194.1 135.5 196.2M174.0 126.5C162.5 130.7 150.8 132.3 141.0 129.9M170.1 144.0C156.7 150.8 142.7 154.4 130.5 152.9M174.8 143.5C162.4 144.4 150.5 142.6 141.7 137.5M148.4 142.1C131.8 140.9 116.4 136.3 105.6 127.9M184.7 146.9C173.7 149.1 162.9 148.8 154.4 145.2M187.3 167.5C175.3 173.2 162.8 176.1 152.0 174.5M199.6 120.1C192.8 118.9 186.8 116.4 182.8 112.5M179.5 129.4C168.9 128.3 159.1 125.0 152.4 119.4M165.0 117.6C152.8 113.6 142.2 107.2 135.7 98.9M164.7 131.7C151.5 129.9 139.4 125.5 131.2 118.3M200.1 162.0C190.6 167.7 180.5 171.1 171.3 170.6M161.2 152.2C146.0 153.5 131.4 151.6 120.3 145.6M207.5 143.9C200.4 147.1 193.1 148.7 186.8 147.7M150.5 158.8C133.0 160.5 116.2 158.4 103.5 151.6M208.0 165.2C199.5 172.0 190.1 176.6 181.2 177.3M156.7 166.6C139.7 170.0 123.0 169.6 109.9 164.1M199.7 152.4C190.8 156.5 181.5 158.5 173.6 157.2M186.0 154.2C174.6 157.6 163.3 158.4 154.0 155.6M149.8 132.1C134.1 129.4 119.9 123.5 110.5 114.5M206.7 155.6C198.6 160.7 190.0 163.8 182.2 163.7M177.9 134.6C166.7 134.3 156.2 131.6 148.6 126.2M198.3 129.5C190.7 129.7 183.5 128.4 178.2 125.1M154.9 129.5C140.2 126.7 127.0 120.9 118.2 112.3M208.9 149.5C201.7 153.7 194.0 156.2 187.1 155.8M137.2 161.3C117.4 162.4 98.5 159.4 84.5 151.1M180.5 105.5C171.7 100.6 164.5 94.1 160.7 86.7M157.9 138.9C143.0 137.9 129.3 133.8 119.6 126.3M183.4 169.2C170.6 174.8 157.4 177.5 146.1 175.6M176.6 148.3C164.2 150.1 152.2 149.1 142.8 144.7M171.8 184.4C156.1 191.8 139.7 195.5 125.6 193.3M175.3 154.7C162.3 157.4 149.4 157.3 139.2 153.1M204.6 162.4C195.7 168.5 186.1 172.4 177.3 172.5M208.7 124.7C203.2 124.9 198.0 123.9 194.1 121.5M156.7 156.6C140.4 158.4 124.7 156.6 112.7 150.4M173.5 159.0C159.8 162.4 146.2 162.7 135.4 158.7M148.6 168.2C130.1 171.3 112.2 170.3 98.2 164.0M180.7 162.2C168.0 166.6 155.1 168.0 144.4 165.2M198.5 144.3C189.9 147.0 181.3 147.7 174.2 145.6M181.8 123.4C172.0 121.5 163.2 117.6 157.3 111.8M171.1 168.2C156.3 172.9 141.5 174.2 129.3 170.6M191.7 119.5C183.7 117.6 176.6 114.2 172.1 109.3M160.8 167.2C144.4 171.0 128.2 171.2 115.3 166.3M145.6 173.3C126.3 177.0 107.4 176.4 92.5 170.1M160.9 121.3C147.8 117.6 136.3 111.3 129.0 102.8M193.2 134.2C184.5 134.8 176.2 133.6 169.9 130.0M134.4 147.0C115.2 145.7 97.3 140.3 84.8 130.6M186.1 119.1C177.3 116.8 169.5 112.8 164.5 107.1M174.2 163.4C160.3 167.5 146.4 168.4 135.0 164.9M151.2 145.5C134.9 145.0 119.5 141.2 108.5 133.4M190.2 149.7C179.9 152.7 169.6 153.3 161.2 150.6M158.2 175.2C140.8 180.1 123.5 181.1 109.4 176.5M144.2 141.8C126.9 140.3 111.0 135.2 99.9 126.2M184.0 173.2C171.0 179.6 157.5 182.9 145.7 181.3M168.1 146.1C154.4 147.0 141.4 144.9 131.6 139.2M186.2 183.1C172.9 191.3 158.7 196.2 145.9 195.7M170.5 175.4C155.1 181.2 139.5 183.5 126.3 180.4M182.9 136.1C172.3 136.4 162.4 134.4 155.0 129.7M141.6 167.1C122.1 169.6 103.3 167.8 88.8 160.5M172.2 149.1C159.0 150.7 146.2 149.5 136.4 144.5M213.8 145.1C207.7 148.9 201.1 151.3 195.1 151.1M142.2 157.8C123.4 158.8 105.6 155.7 92.4 147.8M176.5 167.8C162.7 172.8 148.7 174.6 137.0 171.6M184.1 131.2C174.1 130.8 164.8 128.2 158.2 123.3M211.4 131.2C205.9 132.7 200.4 132.9 196.0 131.3M189.9 130.1C180.9 129.8 172.5 127.7 166.5 123.4M146.1 155.5C128.2 156.4 111.1 153.4 98.5 145.8M203.9 171.1C194.4 178.6 183.8 183.6 173.9 184.3M174.7 118.7C164.0 115.6 154.7 110.3 148.8 103.3M155.2 149.1C139.2 149.6 124.1 146.6 112.9 139.6M193.8 110.1C186.8 106.8 181.0 102.3 177.7 96.9M195.7 172.3C184.7 179.3 172.9 183.7 162.1 183.5M137.1 133.1C119.2 129.6 103.1 122.6 92.5 112.1M164.9 156.6C150.0 159.0 135.5 158.1 124.2 152.8M198.6 175.8C187.8 183.6 176.0 188.7 165.1 189.2M161.0 157.8C145.3 160.0 130.1 158.9 118.4 153.3M204.6 151.4C196.5 155.7 188.0 158.0 180.6 157.2M186.4 124.8C177.3 123.5 168.9 120.2 163.3 115.1M182.3 178.2C168.8 185.3 154.5 189.1 142.0 187.8M155.0 146.2C141.6 140.2 130.3 131.8 123.9 121.6M201.3 142.9C195.7 139.6 191.2 135.4 188.9 130.6M164.1 167.0C150.8 165.0 138.7 160.4 130.5 152.9M194.4 131.3C188.5 125.6 184.2 119.1 182.8 112.5M189.0 163.3C180.0 162.4 171.7 159.8 165.9 155.1M165.9 179.4C152.0 179.6 138.9 176.8 129.3 170.6M189.7 158.7C181.2 157.2 173.5 154.0 168.3 149.0M193.6 146.5C186.6 143.3 180.6 138.8 177.3 133.3M174.2 168.6C162.4 167.6 151.5 164.2 143.9 158.1M174.2 186.1C161.1 188.0 148.5 187.1 138.7 182.4M152.7 150.1C138.7 144.6 126.7 136.5 119.6 126.3M143.9 174.5C126.7 172.3 111.0 166.7 100.3 157.4M156.0 163.4C141.6 160.3 128.8 154.3 120.3 145.6M158.1 159.6C144.3 156.0 132.1 149.8 124.3 141.0M170.4 190.7C156.5 193.1 142.8 192.4 132.2 187.7M159.8 128.8C148.5 120.3 139.6 109.9 135.7 98.9M137.8 162.9C120.4 158.4 105.1 150.5 95.3 139.5M145.9 189.3C128.0 189.7 111.1 186.4 98.7 178.5M203.6 135.9C198.9 131.6 195.4 126.6 194.1 121.5M205.7 170.0C199.0 171.4 192.4 171.4 187.1 169.3M129.2 158.2C110.8 152.4 94.7 143.0 84.8 130.6M176.2 129.0C167.5 121.7 160.8 113.0 158.3 104.0M177.7 147.3C168.0 143.1 159.7 137.0 155.0 129.7M169.6 154.7C158.0 151.1 147.9 145.3 141.7 137.5M140.4 184.4C122.0 183.7 104.8 179.1 92.5 170.1M165.5 133.6C154.8 126.2 146.2 117.1 142.2 107.2M143.3 153.3C127.5 147.6 113.8 139.0 105.6 127.9M186.6 167.8C176.9 167.5 167.9 165.2 161.4 160.6M186.1 180.8C175.5 182.6 165.0 182.1 156.9 178.5M149.7 140.6C135.8 133.4 124.4 123.6 118.2 112.3M159.5 194.8C143.4 197.1 127.9 195.8 115.8 190.1M194.6 163.6C186.5 163.2 178.9 161.2 173.6 157.2M158.7 188.5C143.0 189.7 127.9 187.5 116.7 181.1M147.4 179.6C130.5 178.5 114.8 173.9 103.7 165.4M181.0 130.3C173.0 123.5 166.9 115.5 164.5 107.1M182.1 178.7C170.9 179.9 160.2 178.7 152.0 174.5M208.0 149.2C203.1 147.4 198.9 144.7 196.4 141.3M178.2 180.3C166.3 181.6 154.8 180.2 146.1 175.6M145.3 170.0C128.7 167.2 113.6 161.1 103.5 151.6M172.8 145.8C162.3 141.0 153.5 134.3 148.6 126.2M142.2 148.6C126.6 142.1 113.2 132.7 105.5 121.0M199.4 173.6C191.4 175.2 183.5 175.0 177.3 172.5M181.0 194.3C168.6 198.0 156.1 198.9 145.9 195.7M184.7 141.3C176.6 136.5 169.9 130.4 166.5 123.4M203.7 160.6C197.4 160.4 191.4 158.9 187.1 155.8M202.3 155.1C196.1 153.8 190.5 151.4 186.8 147.7M170.2 165.8C157.9 164.1 146.8 159.9 139.2 153.1M139.1 173.6C121.2 171.0 104.9 164.7 93.9 154.8M168.0 149.5C156.6 144.9 146.8 138.2 141.0 129.9M167.1 138.1C156.3 131.6 147.5 123.3 143.1 113.9M166.7 195.6C151.7 198.5 137.1 198.1 125.6 193.3M143.8 163.7C127.3 159.7 112.7 152.6 103.3 142.4M147.3 150.3C132.4 144.4 119.6 135.8 112.1 124.9M198.1 138.9C192.3 134.7 187.7 129.5 185.7 124.0M186.5 130.7C179.4 124.3 174.0 116.8 172.1 109.3M194.5 125.1C189.1 118.5 185.4 111.0 184.7 104.0M155.6 155.3C141.7 150.9 129.5 143.7 122.0 134.3M137.0 148.1C120.5 141.1 106.5 131.1 98.4 118.9M155.8 132.5C143.5 124.3 133.7 114.0 129.0 102.8M177.2 189.4C164.4 192.0 151.9 191.8 142.0 187.8M136.9 157.6C119.7 152.2 104.8 143.5 95.5 131.9M153.5 137.6C140.5 130.0 129.8 120.2 124.4 109.1M158.9 152.1C145.8 147.3 134.4 140.1 127.6 130.8M160.0 147.7C147.4 142.3 136.6 134.6 130.4 125.1M198.8 182.3C190.0 185.3 181.2 186.2 173.9 184.3M144.6 143.3C129.8 136.1 117.3 126.2 110.5 114.5M208.2 163.3C202.4 163.9 196.8 163.2 192.5 160.8M175.6 173.4C163.7 173.3 152.5 170.7 144.4 165.2M183.6 123.7C176.5 116.0 171.5 107.3 170.1 98.8M181.3 136.0C172.9 130.2 166.3 122.9 163.3 115.1M182.3 118.0C175.4 109.3 170.7 99.7 170.0 90.5M143.4 179.4C125.8 178.0 109.6 173.0 98.2 164.0M190.5 134.8C183.7 129.4 178.5 122.9 176.4 116.1M163.2 200.7C150.9 198.9 139.8 194.6 132.2 187.7M167.0 178.6C156.9 173.4 148.4 166.3 143.9 158.1M189.0 161.0C183.7 154.4 180.1 147.1 179.5 140.2M195.6 186.4C189.6 184.5 184.4 181.4 181.2 177.3M162.4 139.9C154.2 128.0 149.0 115.1 148.8 103.3M176.3 165.7C168.6 159.0 162.8 151.0 160.6 142.9M145.5 160.1C133.2 150.3 123.6 138.6 119.6 126.3M180.5 201.3C170.9 200.7 162.1 198.2 155.9 193.5M159.5 205.6C146.2 204.3 134.0 200.3 125.6 193.3M199.1 152.4C196.1 145.2 194.7 137.7 196.0 131.3M140.1 160.3C126.9 150.2 116.5 137.9 112.1 124.9M190.1 167.9C184.5 162.5 180.3 156.3 178.9 150.0M134.5 167.7C119.8 158.4 107.9 146.6 102.1 133.5M161.7 194.1C149.6 191.0 138.8 185.6 132.0 178.0M172.5 184.7C162.8 180.9 154.6 175.2 149.7 168.2M145.5 202.2C130.2 199.3 116.4 193.4 107.2 184.5M161.8 184.6C150.4 180.0 140.7 173.2 135.0 164.9M170.5 157.3C162.5 148.8 156.7 139.2 155.0 129.7M189.1 178.8C182.6 175.1 177.3 170.3 174.5 164.8M179.0 190.8C169.9 188.4 162.0 184.2 156.9 178.5M158.1 196.6C145.3 193.7 133.8 188.3 126.3 180.4M171.1 190.3C160.8 187.3 151.7 182.3 146.1 175.6M200.8 159.2C197.6 153.2 195.8 146.9 196.4 141.3M146.3 147.6C134.9 135.8 126.7 122.4 124.4 109.1M122.6 175.5C105.4 166.6 91.1 154.7 83.4 140.8M142.8 164.7C129.7 155.4 119.3 144.0 114.5 131.7M186.1 165.5C180.1 159.5 175.6 152.5 174.2 145.6M174.0 198.2C163.7 196.6 154.3 193.0 147.9 187.3M124.8 182.5C107.5 174.9 92.8 164.2 84.5 151.1M167.5 172.5C157.8 166.3 150.1 158.4 146.4 149.8M190.9 148.9C186.8 140.5 184.6 131.7 185.7 124.0M122.5 161.1C106.3 149.8 93.5 135.9 87.5 120.8M169.5 144.6C162.1 134.0 157.5 122.4 157.3 111.8M136.6 173.7C121.8 165.5 109.7 154.7 103.3 142.4M164.6 146.1C156.3 135.4 150.8 123.6 150.1 112.5M142.5 156.5C129.9 145.9 120.3 133.4 116.5 120.4M187.4 173.6C180.9 169.0 175.9 163.3 173.6 157.2M158.7 189.4C146.5 185.3 135.8 179.0 129.3 170.6M158.4 143.6C149.3 132.0 143.1 119.2 142.2 107.2M145.8 196.4C131.0 192.6 117.8 185.9 109.4 176.5M166.9 160.7C158.0 152.5 151.4 143.0 149.0 133.4M166.8 165.5C157.6 158.1 150.5 149.2 147.5 140.0M152.3 204.8C137.9 202.8 124.8 198.0 115.8 190.1M148.9 173.4C136.1 166.0 125.7 156.4 120.3 145.6M181.5 164.1C174.7 157.5 169.8 149.9 168.2 142.3M153.1 147.8C142.8 136.5 135.5 123.8 133.6 111.4M165.6 155.8C156.8 146.8 150.5 136.4 148.6 126.2M169.0 139.0C161.9 127.4 157.8 115.1 158.3 104.0M131.9 163.0C117.1 152.8 105.3 140.0 99.9 126.2M177.6 151.3C171.1 142.3 166.9 132.5 166.5 123.4M179.5 177.8C171.4 173.3 164.8 167.4 161.4 160.6M159.8 170.3C149.1 163.2 140.5 154.3 136.4 144.5M201.4 166.3C197.8 161.4 195.4 156.1 195.1 151.1M186.6 188.7C178.9 186.4 172.2 182.8 168.0 177.8M136.1 163.3C122.0 153.4 110.8 141.2 105.6 127.9M151.7 162.1C140.3 153.1 131.4 142.2 127.6 130.8M194.1 152.9C190.2 145.4 188.1 137.5 188.9 130.6M152.4 152.9C141.6 142.4 133.7 130.3 131.2 118.3M154.1 188.9C141.1 184.5 129.9 177.6 123.0 168.6M130.6 172.9C114.9 164.1 102.0 152.7 95.3 139.5M152.0 184.3C139.0 178.9 127.9 171.2 121.5 161.6M183.0 159.8C176.8 152.6 172.5 144.5 171.6 136.8M157.8 163.2C147.3 154.9 139.1 144.8 135.7 134.2M142.9 170.3C129.3 162.0 118.4 151.4 112.9 139.6M161.2 180.2C150.0 174.9 140.6 167.5 135.4 158.7M193.6 157.9C189.3 151.1 186.7 143.9 186.8 137.3M131.9 183.6C115.7 176.7 101.8 166.9 93.9 154.8M144.3 177.8C130.5 170.8 119.0 161.4 112.7 150.4M187.8 183.2C180.8 180.2 174.8 175.9 171.3 170.6M194.3 176.8C188.8 173.2 184.3 168.7 182.2 163.7M129.2 188.3C112.2 182.0 97.6 172.6 88.8 160.5M164.2 189.0C152.9 185.2 143.0 179.4 137.0 171.6M192.2 172.6C186.7 168.1 182.4 162.8 180.6 157.2M140.9 174.4C126.8 166.6 115.2 156.4 109.0 144.6M150.9 169.6C138.8 161.8 129.0 151.9 124.3 141.0M201.1 173.3C196.9 169.6 193.7 165.3 192.5 160.8M173.6 175.4C164.8 170.1 157.6 163.3 154.0 155.6M144.3 187.7C129.8 182.4 117.3 174.4 109.9 164.1M166.8 206.1C154.7 205.4 143.5 202.2 135.5 196.2M159.0 200.6C146.1 198.4 134.3 193.7 126.4 186.2M172.4 168.1C163.9 161.5 157.3 153.6 154.4 145.2M152.6 177.8C140.2 171.5 129.8 162.9 124.2 152.8M178.4 186.3C169.6 183.1 162.0 178.3 157.4 172.1M137.5 153.3C124.3 141.8 114.2 128.3 110.5 114.5M184.0 177.9C176.7 173.7 170.7 168.3 167.6 162.1M150.8 192.7C137.0 188.7 124.9 182.0 117.4 172.9M183.3 144.8C178.2 135.1 175.4 125.0 176.4 116.1M183.3 193.4C174.8 191.8 167.2 188.5 162.1 183.5M122.1 168.2C105.3 158.1 91.6 145.2 84.8 130.6M180.9 155.4C174.6 147.3 170.5 138.4 169.9 130.0M196.4 145.9C193.3 137.4 192.3 128.8 194.1 121.5M163.0 175.8C152.4 169.9 143.7 162.1 139.2 153.1M183.4 164.3C182.2 154.3 183.1 144.7 186.8 137.3M166.2 140.2C163.8 125.0 164.8 110.3 170.1 98.8M120.4 179.3C107.8 167.4 98.4 153.5 95.3 139.5M124.3 174.1C112.6 161.6 104.3 147.4 102.1 133.5M163.9 152.5C160.3 139.1 159.6 125.9 163.3 115.1M171.2 137.7C169.8 122.5 171.7 107.9 177.7 96.9M155.4 162.3C149.7 150.0 146.9 137.2 148.6 126.2M190.6 165.7C190.4 156.4 192.2 147.7 196.4 141.3M169.1 147.1C166.7 133.3 167.4 119.8 172.1 109.3M142.1 159.3C134.5 145.6 130.1 131.1 131.2 118.3M170.9 188.8C165.9 181.9 162.6 174.4 162.4 167.4M186.3 177.1C184.7 169.4 184.7 161.8 187.1 155.8M138.6 179.8C129.0 169.2 122.1 157.3 120.3 145.6M188.3 186.4C186.3 180.4 185.7 174.3 187.1 169.3M173.1 151.2C171.1 138.4 171.9 125.8 176.4 116.1M180.7 155.4C179.6 143.7 181.1 132.5 185.7 124.0M140.6 199.2C129.9 191.9 121.3 182.8 117.4 172.9M114.6 188.9C100.4 178.1 89.2 165.0 84.5 151.1M176.2 163.0C173.9 152.3 173.9 141.7 177.3 133.3M119.6 164.6C107.8 150.1 99.8 134.1 98.4 118.9M112.3 167.5C99.2 153.1 89.9 136.7 87.5 120.8M179.8 174.3C177.3 165.7 176.7 157.1 178.9 150.0M161.4 200.8C154.0 195.3 148.2 188.5 145.7 181.3M154.0 195.4C145.7 188.5 139.4 180.2 137.0 171.6M135.3 208.7C123.0 202.6 112.8 194.3 107.2 184.5M138.2 194.9C127.4 186.7 119.0 176.8 115.3 166.3M128.5 205.8C115.4 198.7 104.5 189.3 98.7 178.5M156.6 172.0C150.4 161.3 146.9 150.1 147.5 140.0M158.2 189.9C151.0 182.3 145.9 173.6 144.4 165.2M165.0 163.3C160.8 151.8 159.2 140.2 161.6 130.4M163.6 146.8C160.3 132.5 160.2 118.4 164.5 107.1M173.8 184.3C169.5 176.9 167.1 169.1 167.6 162.1M147.6 169.7C140.1 158.1 135.5 145.6 135.7 134.2M160.3 163.8C155.3 152.1 153.1 140.0 155.0 129.7M150.0 159.9C143.6 146.8 140.3 133.2 141.9 121.3M129.9 166.8C119.7 153.4 112.9 138.7 112.1 124.9M116.8 169.5C104.3 155.6 95.5 140.0 93.2 124.8M170.2 207.8C163.8 204.0 158.5 199.0 155.9 193.5M167.6 177.3C162.9 168.4 160.3 158.9 161.2 150.6M154.4 152.6C149.2 138.6 147.2 124.4 150.1 112.5M114.5 160.8C102.2 145.3 93.9 128.3 92.5 112.1M123.5 183.2C111.2 172.1 101.8 159.0 98.5 145.8M133.1 198.5C121.2 190.5 111.7 180.6 107.3 169.7M151.4 200.5C142.4 194.2 135.3 186.4 132.0 178.0M153.0 207.2C143.8 202.1 136.2 195.4 132.2 187.7M159.8 205.9C151.7 201.0 145.2 194.8 142.0 187.8M159.6 140.3C156.2 124.7 156.2 109.3 161.0 97.1M178.9 185.2C175.5 178.3 173.7 171.1 174.5 164.8M182.0 146.7C181.7 133.7 184.2 121.4 190.0 112.5M119.6 185.5C106.4 174.5 96.3 161.3 92.4 147.8M172.8 166.2C169.7 155.8 168.9 145.3 171.6 136.8M161.6 158.9C157.1 146.5 155.5 133.8 158.2 123.3M132.6 171.1C122.5 158.7 115.7 144.9 114.5 131.7M164.7 195.2C158.3 188.9 153.5 181.7 152.0 174.5M152.1 146.4C147.0 131.2 145.4 116.0 148.8 103.3M156.8 185.1C149.7 176.6 144.9 167.1 143.9 158.1M163.1 186.6C157.0 178.8 152.9 170.2 152.2 162.0M157.3 178.9C150.7 169.5 146.5 159.2 146.4 149.8M172.1 194.6C166.9 188.8 163.2 182.2 162.3 175.8M186.2 152.4C186.2 140.6 188.7 129.6 194.1 121.5M142.6 164.2C134.7 151.3 129.9 137.5 130.4 125.1M142.4 184.3C133.0 174.7 126.2 163.7 124.2 152.8M183.9 159.4C183.0 148.6 184.5 138.3 188.9 130.6M138.2 171.8C129.0 159.8 122.9 146.7 122.0 134.3M176.3 195.1C171.8 189.7 168.6 183.6 168.0 177.8M145.5 173.8C137.4 162.7 132.1 150.5 131.6 139.2M150.6 165.9C143.9 153.9 140.1 141.2 141.0 129.9M138.4 185.4C128.3 175.7 120.8 164.5 118.4 153.3M119.0 194.8C105.1 185.3 94.0 173.4 88.8 160.5M124.8 165.0C113.9 151.0 106.6 135.6 105.5 121.0M175.9 172.0C172.9 162.7 172.0 153.3 174.2 145.6M156.6 212.6C147.5 208.6 139.9 203.0 135.5 196.2M149.6 176.8C142.0 166.4 136.9 155.1 136.4 144.5M166.1 172.1C161.4 162.2 159.2 151.9 160.6 142.9M182.0 190.1C178.7 184.2 176.9 178.0 177.3 172.5M159.3 151.1C155.0 137.2 153.9 123.3 157.3 111.8M158.0 133.2C154.7 116.3 155.2 99.8 160.7 86.7M162.2 174.6C156.7 164.7 153.7 154.4 154.4 145.2M166.9 202.1C160.3 197.1 155.2 191.1 152.9 184.7M122.4 171.4C136.3 166.3 150.5 164.5 162.4 167.4M115.3 187.2C127.0 184.3 138.6 183.9 147.9 187.3M105.6 158.5C117.6 150.1 130.8 144.8 142.8 144.7M71.0 156.6C77.5 145.6 86.0 136.5 95.5 131.9M120.7 166.8C134.7 160.9 149.1 158.3 161.4 160.6M77.4 152.4C85.2 141.0 95.0 132.0 105.6 127.9M117.7 122.8C134.3 109.4 152.7 100.4 170.1 98.8M80.0 188.4C85.8 183.1 92.4 179.4 98.7 178.5M118.8 140.3C134.4 129.9 151.1 123.4 166.5 123.4M130.2 150.0C147.0 142.0 164.4 138.0 179.5 140.2M136.4 154.1C153.9 147.2 171.7 144.4 186.8 147.7M85.6 176.8C93.1 170.1 101.6 165.3 109.9 164.1M89.9 168.0C98.7 160.1 108.7 154.6 118.4 153.3M136.9 175.5C152.9 172.1 168.7 172.3 181.2 177.3M79.4 169.0C86.4 160.6 94.8 154.1 103.5 151.6M90.1 162.4C99.4 153.6 110.0 147.3 120.3 145.6M127.7 145.6C144.3 136.7 161.8 131.8 177.3 133.3M93.9 127.9C106.2 113.7 120.8 102.9 135.7 98.9M105.8 135.2C119.6 123.0 135.1 114.5 150.1 112.5M142.7 155.3C161.1 149.0 179.7 147.0 195.1 151.1M125.2 166.9C140.0 161.3 155.0 159.2 167.6 162.1M81.5 178.6C88.3 171.9 96.0 167.0 103.7 165.4M85.6 166.8C93.8 158.5 103.3 152.3 112.7 150.4M116.4 117.1C133.2 102.7 151.9 92.7 170.0 90.5M95.4 178.0C104.4 172.1 114.1 168.5 123.0 168.6M117.6 154.7C131.9 146.6 147.0 141.9 160.6 142.9M128.7 162.7C144.2 156.6 160.1 154.2 173.6 157.2M103.7 153.7C115.8 144.5 129.2 138.3 141.7 137.5M137.6 135.0C156.6 125.0 176.6 119.6 194.1 121.5M139.8 169.0C156.8 164.8 173.6 164.4 187.1 169.3M123.6 177.2C137.3 173.2 151.1 172.3 162.3 175.8M134.9 146.9C152.6 138.7 171.0 134.7 186.8 137.3M116.2 177.8C128.7 173.3 141.4 171.8 152.0 174.5M114.6 169.1C127.4 163.2 140.7 160.3 152.2 162.0M108.3 167.6C120.2 161.0 132.7 157.2 143.9 158.1M71.1 168.0C76.9 158.9 84.2 151.4 92.4 147.8M94.3 136.8C106.1 124.1 119.8 114.7 133.6 111.4M82.9 173.5C90.2 166.1 98.7 160.6 107.1 158.9M111.8 146.4C125.8 136.5 141.0 130.1 155.0 129.7M103.6 129.0C117.5 115.6 133.3 106.0 148.8 103.3M124.6 182.5C138.1 179.4 151.5 179.4 162.1 183.5M123.8 157.8C139.0 150.6 154.7 147.0 168.3 149.0M63.9 164.5C68.7 154.2 75.4 145.6 83.4 140.8M135.6 165.9C152.1 160.8 168.6 159.5 182.2 163.7M99.4 185.7C108.5 181.3 118.1 179.2 126.3 180.4M81.4 149.4C90.2 137.8 100.8 128.8 112.1 124.9M73.1 152.0C80.3 140.4 89.6 130.9 99.9 126.2M66.1 171.5C70.8 162.5 77.1 155.1 84.5 151.1M129.1 172.2C144.0 167.8 159.1 166.8 171.3 170.6M124.3 148.8C140.1 140.2 156.8 135.4 171.6 136.8M132.9 181.3C147.8 178.7 162.4 179.3 173.9 184.3M87.6 136.6C98.2 123.4 111.0 113.3 124.4 109.1M127.8 177.7C142.2 174.1 156.5 173.7 168.0 177.8M93.0 151.1C103.5 140.7 115.6 133.1 127.6 130.8M127.5 186.0C141.2 183.7 154.6 184.4 165.1 189.2M87.9 172.9C96.1 165.7 105.4 160.6 114.3 159.5M119.7 175.3C132.9 170.7 146.3 169.2 157.4 172.1M93.5 193.9C101.2 190.5 109.1 188.9 115.8 190.1M135.3 142.0C153.5 133.0 172.4 128.4 188.9 130.6M137.8 159.7C155.1 153.8 172.6 151.9 187.1 155.8M71.9 161.9C78.2 151.8 86.3 143.6 95.3 139.5M84.6 181.0C91.7 174.9 99.6 170.7 107.3 169.7M66.0 143.3C72.6 129.7 81.7 118.3 92.5 112.1M92.2 158.7C102.0 149.4 113.3 142.8 124.3 141.0M109.4 115.8C125.2 100.7 143.1 89.8 160.7 86.7M100.3 123.7C113.9 109.3 129.8 98.6 145.7 95.0M94.1 146.8C105.1 135.7 117.8 127.6 130.4 125.1M77.5 178.4C83.6 171.4 90.8 166.0 98.2 164.0M77.9 162.7C85.1 153.1 93.9 145.6 103.3 142.4M75.0 165.8C81.6 156.5 89.7 149.1 98.5 145.8M130.4 167.8C145.9 162.7 161.6 161.2 174.5 164.8M108.4 139.6C122.3 128.4 137.7 120.7 152.4 119.4M89.7 154.4C99.4 144.2 110.7 136.8 122.0 134.3M66.9 133.5C76.9 125.4 87.9 119.8 98.4 118.9M92.9 142.7C106.4 137.9 120.2 136.3 131.6 139.2M83.4 123.0C96.8 114.3 111.2 108.9 124.4 109.1M69.0 159.0C77.6 155.2 86.3 153.4 93.9 154.8M99.0 160.0C112.3 158.4 125.2 159.8 135.0 164.9M94.1 152.4C107.2 149.3 120.1 149.1 130.5 152.9M124.9 158.6C142.6 158.7 159.3 162.4 171.3 170.6M133.7 146.1C153.7 144.7 172.8 147.6 187.1 155.8M99.5 115.3C116.1 106.5 133.5 101.7 148.8 103.3M112.3 132.2C129.8 127.1 147.3 125.9 161.6 130.4M81.4 153.2C92.4 149.3 103.5 148.0 112.7 150.4M112.1 164.1C127.3 164.2 141.6 167.4 152.0 174.5M110.5 155.5C126.0 154.0 141.0 155.9 152.2 162.0M84.9 131.7C97.9 124.5 111.7 120.5 123.9 121.6M80.0 140.1C91.6 133.9 103.8 130.6 114.5 131.7M110.8 150.8C126.7 148.6 142.1 149.8 154.0 155.6M128.7 167.7C146.4 169.5 162.7 174.9 173.9 184.3M138.0 134.7C159.5 131.7 180.3 133.4 196.4 141.3M118.6 139.5C136.6 136.0 154.3 136.5 168.2 142.3M95.2 172.0C107.1 172.2 118.3 174.9 126.3 180.4M89.7 153.2C102.0 149.9 114.3 149.4 124.2 152.8M73.7 149.1C83.7 144.0 94.2 141.3 103.3 142.4M74.6 128.7C86.1 120.3 98.7 114.9 110.5 114.5M124.5 149.0C142.8 147.5 160.4 149.9 173.6 157.2M88.0 145.0C100.6 140.3 113.5 138.5 124.3 141.0M104.6 147.9C119.7 144.7 134.6 145.0 146.4 149.8M115.0 146.3C131.9 143.6 148.4 144.7 161.2 150.6M59.8 150.9C67.3 145.1 75.6 141.3 83.4 140.8M129.3 115.6C150.8 109.0 172.3 107.2 190.0 112.5M132.3 140.5C152.5 138.1 171.9 140.1 186.8 147.7M124.3 116.7C144.9 109.9 165.6 107.8 182.8 112.5M75.3 155.4C85.0 151.5 95.0 149.8 103.5 151.6M96.1 110.1C112.5 100.2 130.0 94.3 145.7 95.0M104.1 154.0C118.8 151.8 132.9 152.9 143.9 158.1M95.0 138.7C109.2 133.4 123.6 131.3 135.7 134.2M96.6 181.0C108.1 182.8 118.5 186.8 125.6 193.3M96.2 176.0C108.0 176.9 118.8 180.2 126.4 186.2M133.5 121.3C155.2 115.9 176.8 115.3 194.1 121.5M111.2 121.4C129.3 114.4 147.7 111.6 163.3 115.1M61.8 129.7C71.2 120.6 82.0 114.0 92.5 112.1M75.9 174.7C84.4 174.0 92.6 175.1 98.7 178.5M109.6 160.1C124.7 159.4 139.1 161.8 149.7 168.2M71.6 143.1C81.7 136.9 92.4 133.1 102.1 133.5M136.2 127.8C157.9 123.6 179.2 124.3 196.0 131.3M123.3 172.4C139.8 174.6 154.8 180.1 165.1 189.2M62.0 157.9C69.4 153.4 77.3 150.8 84.5 151.1M105.3 102.1C123.8 91.6 143.3 85.5 160.7 86.7M113.4 141.1C130.5 137.4 147.2 137.6 160.6 142.9M118.0 130.8C136.5 125.8 155.0 125.0 169.9 130.0M116.1 166.2C131.8 166.9 146.4 170.8 156.9 178.5M130.8 133.3C151.2 129.6 171.2 130.4 186.8 137.3M89.8 114.2C104.8 104.5 121.0 98.6 135.7 98.9M70.9 152.1C80.2 147.3 89.9 144.8 98.5 145.8M118.3 157.7C134.9 157.2 150.7 160.1 162.4 167.4M123.3 140.9C141.9 138.0 160.1 139.1 174.2 145.6M73.8 159.9C83.1 156.6 92.5 155.4 100.3 157.4M123.6 131.9C142.9 127.5 162.0 127.5 177.3 133.3M127.2 143.3C146.3 141.0 164.8 142.8 178.9 150.0M83.8 159.3C94.7 156.6 105.6 156.3 114.3 159.5M111.0 179.7C124.9 182.3 137.5 187.6 145.9 195.7M113.6 109.1C132.9 100.3 152.9 96.0 170.1 98.8M93.0 148.1C106.2 144.1 119.4 143.2 130.2 146.6M119.5 163.5C135.9 164.0 151.3 168.0 162.3 175.8M104.3 126.0C120.9 119.3 137.9 116.4 152.4 119.4M129.3 159.0C147.7 159.5 164.9 163.7 177.3 172.5M99.6 140.1C114.4 135.3 129.4 134.0 141.7 137.5M85.7 117.9C99.8 108.5 115.1 102.7 129.0 102.8M100.4 176.2C112.8 177.4 124.3 181.1 132.2 187.7M82.7 135.5C95.0 128.8 108.1 125.2 119.6 126.3M59.2 143.6C67.2 136.6 76.1 131.7 84.8 130.6M131.2 128.3C152.1 123.9 172.6 124.1 188.9 130.6M128.0 124.3C148.7 118.9 169.1 118.2 185.7 124.0M123.7 164.1C140.8 164.9 156.7 169.3 168.0 177.8M79.7 126.1C92.2 117.6 105.8 112.3 118.2 112.3M93.8 168.2C105.8 167.6 117.1 169.6 125.5 174.7M80.5 167.4C90.3 165.8 99.8 166.3 107.3 169.7M118.9 148.7C136.4 146.7 153.1 148.5 165.9 155.1M118.6 106.7C138.9 97.8 159.8 93.7 177.7 96.9M77.4 165.0C86.9 162.7 96.2 162.6 103.7 165.4M88.7 173.9C99.3 174.0 109.4 176.2 116.7 181.1M100.4 158.5C113.5 162.6 124.9 169.2 132.0 178.0M111.2 149.1C126.7 152.4 140.6 158.8 149.7 168.2M122.0 157.8C138.7 163.4 153.2 172.0 162.1 183.5M130.9 148.0C149.7 152.5 166.5 160.8 177.3 172.5M129.6 113.3C150.7 112.0 170.7 115.2 185.7 124.0M124.8 129.9C143.9 131.0 161.7 136.1 174.2 145.6M92.8 153.3C105.0 156.0 115.9 161.1 123.0 168.6M125.1 120.9C144.9 120.6 163.6 124.5 177.3 133.3M89.5 157.1C100.9 160.2 111.0 165.6 117.4 172.9M109.7 154.7C124.6 158.9 137.8 165.9 146.1 175.6M73.2 132.1C83.7 129.9 94.0 130.1 102.1 133.5M112.0 144.5C128.0 147.1 142.5 152.9 152.2 162.0M91.7 112.2C106.7 108.1 121.6 107.4 133.6 111.4M128.8 132.2C148.3 134.0 166.4 139.8 178.9 150.0M104.3 120.2C120.7 118.3 136.5 120.0 148.6 126.2M63.4 118.7C73.2 113.7 83.5 111.0 92.5 112.1M97.7 99.1C114.5 93.2 131.6 91.3 145.7 95.0M84.2 124.5C97.0 121.9 109.6 122.2 119.6 126.3M90.4 126.5C104.1 124.6 117.4 125.8 127.6 130.8M84.2 166.6C94.1 170.9 102.5 177.0 107.2 184.5M81.2 115.0C94.2 110.7 107.4 109.3 118.2 112.3M124.6 115.1C144.7 113.8 163.9 116.7 178.2 125.1M135.3 135.0C155.7 137.7 174.4 144.6 187.1 155.8M116.3 115.7C135.0 113.8 152.9 116.1 166.5 123.4M101.1 104.3C118.1 99.6 135.0 98.7 148.8 103.3M112.8 110.4C131.3 107.5 149.3 108.6 163.3 115.1M139.5 123.6C161.5 124.8 181.9 130.4 196.4 141.3M112.6 168.7C126.9 175.3 139.1 184.6 145.9 195.7M95.4 148.3C108.3 150.4 120.1 155.1 128.0 162.4M107.1 147.8C122.0 150.6 135.5 156.4 144.4 165.2M122.0 109.2C142.1 106.7 161.5 108.6 176.4 116.1M125.9 105.7C146.9 103.0 167.2 104.8 182.8 112.5M115.1 98.1C134.9 93.4 154.4 93.0 170.1 98.8M105.9 115.0C122.9 112.3 139.5 113.4 152.4 119.4M76.8 144.4C87.0 144.5 96.6 146.8 103.5 151.6M120.2 128.5C138.6 129.1 155.8 133.5 168.2 142.3M135.1 110.3C157.2 109.0 178.3 112.3 194.1 121.5M96.8 161.0C109.1 165.3 119.8 171.9 126.3 180.4M100.5 149.0C114.3 151.5 126.7 156.8 135.0 164.9M91.0 169.2C101.8 174.4 110.8 181.6 115.8 190.1M130.3 156.7C148.4 162.6 164.2 171.9 173.9 184.3M77.4 163.7C86.4 167.1 94.1 172.1 98.7 178.5M81.6 134.7C93.2 133.6 104.4 135.0 112.9 139.6M70.5 127.4C80.9 124.3 91.4 123.6 99.9 126.2M133.8 129.5C154.5 131.2 173.5 137.1 186.8 147.7M111.1 132.5C127.8 133.1 143.3 137.1 154.4 145.2M82.0 156.4C92.3 158.9 101.4 163.3 107.3 169.7M108.2 109.0C126.0 105.5 143.5 106.0 157.3 111.8M65.8 127.4C75.4 124.0 85.1 122.8 93.2 124.8M61.3 139.9C69.3 138.2 77.2 138.3 83.4 140.8M109.2 121.7C126.4 120.4 142.7 122.8 155.0 129.7M101.7 140.2C116.3 141.4 129.7 145.6 139.2 153.1M94.4 131.7C108.4 131.0 121.7 133.3 131.6 139.2M84.5 160.8C94.9 164.1 103.9 169.5 109.4 176.5M75.3 138.0C85.7 137.0 95.7 138.3 103.3 142.4M89.6 134.0C102.6 133.4 115.0 135.5 124.3 141.0M101.0 124.8C115.5 128.6 128.3 135.3 136.4 144.5M78.6 107.8C90.6 107.3 102.0 109.3 110.5 114.5M133.4 138.2C152.2 146.4 168.2 158.2 177.3 172.5M100.2 89.2C117.0 87.1 133.3 88.7 145.7 95.0M74.9 131.3C84.7 134.3 93.2 139.2 98.5 145.8M127.1 105.2C147.2 107.7 165.6 114.2 178.2 125.1M99.9 143.9C112.8 150.8 123.6 160.0 129.3 170.6M116.4 111.3C134.3 114.0 150.6 120.3 161.6 130.4M118.3 150.2C133.9 159.4 146.5 171.3 152.9 184.7M142.0 113.8C164.0 118.7 183.6 127.9 196.4 141.3M93.4 159.3C104.3 168.3 112.6 179.0 115.8 190.1M70.4 142.8C78.6 147.5 85.3 153.6 88.8 160.5M130.3 133.3C149.0 140.6 165.0 151.3 174.5 164.8M127.4 151.5C144.3 161.5 158.1 174.5 165.1 189.2M93.8 93.4C109.3 91.5 124.3 93.0 135.7 98.9M92.7 153.0C103.8 160.9 112.6 170.7 116.7 181.1M77.8 128.2C88.2 130.9 97.4 135.7 103.3 142.4M81.4 144.1C91.4 149.7 99.5 157.1 103.7 165.4M74.4 149.0C82.8 154.9 89.5 162.2 92.5 170.1M139.7 134.5C159.9 142.6 177.1 154.5 187.1 169.3M68.2 117.5C77.9 117.9 86.8 120.2 93.2 124.8M90.0 127.9C102.5 131.5 113.5 137.4 120.3 145.6M134.8 112.4C155.7 116.6 174.4 124.9 186.8 137.3M84.5 146.5C94.8 152.8 103.1 160.8 107.3 169.7M94.0 112.3C108.2 113.5 121.3 117.7 130.4 125.1M137.7 125.2C158.2 131.6 176.1 142.0 187.1 155.8M108.2 133.1C123.2 138.8 136.2 147.3 143.9 158.1M117.6 88.3C137.4 87.3 156.2 90.5 170.1 98.8M97.0 127.2C110.7 131.1 122.7 137.7 130.2 146.6M99.0 117.8C113.6 120.3 126.9 125.8 135.7 134.2M118.7 105.8C137.5 107.7 154.6 113.5 166.5 123.4M66.0 137.0C73.9 140.4 80.6 145.2 84.5 151.1M112.8 117.9C129.7 121.5 144.8 128.3 154.7 138.4M86.7 156.7C96.6 164.8 104.2 174.4 107.2 184.5M108.1 115.2C124.4 118.0 139.1 124.0 149.0 133.4M127.3 120.0C146.4 124.9 163.4 133.5 174.2 145.6M142.6 120.8C164.2 126.9 183.2 137.1 195.1 151.1M75.7 122.2C86.2 123.8 95.7 127.6 102.1 133.5M125.2 132.4C143.1 139.2 158.5 149.3 167.6 162.1M93.8 132.4C106.5 136.9 117.6 143.9 124.2 152.8M65.9 108.8C75.7 107.6 85.2 108.4 92.5 112.1M102.8 148.6C115.9 156.5 126.6 166.6 132.0 178.0M103.5 94.5C120.6 93.5 136.8 96.1 148.8 103.3M113.6 122.6C130.3 127.0 145.0 134.6 154.4 145.2M103.0 139.1C116.8 145.4 128.4 154.2 135.0 164.9M102.3 134.8C116.3 140.3 128.3 148.5 135.4 158.7M83.7 111.0C96.3 111.4 108.0 114.4 116.5 120.4M107.9 160.7C121.1 170.9 131.2 183.2 135.5 196.2M128.5 89.7C149.9 89.7 170.1 94.2 184.7 104.0M102.0 114.0C117.4 116.1 131.5 121.4 141.0 129.9M112.2 144.9C127.1 152.8 139.5 163.3 146.1 175.6M136.3 119.6C157.0 125.1 175.2 134.5 186.8 147.7M98.1 131.5C111.6 136.2 123.4 143.5 130.5 152.9M140.3 107.0C162.4 110.6 182.5 118.7 196.0 131.3M105.4 143.5C119.3 150.7 130.8 160.4 137.0 171.6M93.5 107.4C108.0 107.9 121.5 111.3 131.2 118.3M108.1 150.7C122.0 159.3 133.2 170.2 138.7 182.4M77.9 139.0C87.6 143.6 95.7 149.8 100.3 157.4M127.6 111.1C147.4 114.5 165.3 121.9 177.3 133.3M128.6 128.2C147.3 134.5 163.6 144.3 173.6 157.2M112.4 102.1C127.6 107.4 140.7 115.6 148.6 126.2M102.5 113.6C115.3 120.1 125.9 128.9 131.6 139.2M133.4 134.9C149.7 147.1 162.4 162.0 168.0 177.8M105.2 89.8C120.0 92.7 133.4 98.4 142.2 107.2M100.9 135.2C111.9 145.1 120.1 156.8 123.0 168.6M82.9 109.6C92.7 114.1 101.0 120.4 105.6 127.9M133.0 111.8C150.8 120.1 165.8 131.7 174.2 145.6M129.8 106.0C147.6 113.2 162.8 123.7 171.6 136.8M91.2 134.0C100.6 143.1 107.6 153.6 109.9 164.1M85.7 112.9C95.7 118.2 104.1 125.2 108.5 133.4M148.2 112.5C168.6 122.1 185.6 135.3 195.1 151.1M133.0 143.2C148.7 156.7 160.6 172.7 165.1 189.2M130.8 124.1C147.4 134.4 160.9 147.5 167.6 162.1M89.3 102.8C100.6 106.6 110.5 112.6 116.5 120.4M95.4 88.7C108.7 90.7 120.8 95.3 129.0 102.8M124.6 107.3C141.5 114.3 155.8 124.4 164.0 136.9M133.3 102.8C151.8 109.7 167.8 120.1 177.3 133.3M116.8 145.6C129.6 158.4 139.0 173.1 142.0 187.8M109.2 86.2C124.9 88.7 139.2 94.3 148.8 103.3M69.3 107.3C77.1 110.5 83.7 115.1 87.5 120.8M92.6 142.6C101.7 153.2 108.0 165.1 109.4 176.5M76.6 125.3C84.3 131.9 90.2 139.7 92.4 147.8M99.9 94.0C113.5 97.2 125.7 103.0 133.6 111.4M120.7 150.6C133.8 164.4 143.2 180.2 145.9 195.7M140.9 99.2C160.9 106.1 178.3 116.7 188.9 130.6M115.0 73.0C132.6 73.7 149.0 78.1 160.7 86.7M109.3 110.9C123.3 117.5 135.1 126.6 141.7 137.5M77.4 119.1C85.7 124.8 92.2 131.9 95.3 139.5M140.4 104.1C160.1 111.8 176.9 123.1 186.8 137.3M127.3 147.6C141.7 161.4 152.3 177.4 155.9 193.5M139.0 129.9C156.6 141.6 170.7 156.4 177.3 172.5M106.3 151.9C117.0 165.0 124.3 179.5 125.6 193.3M110.1 147.0C121.7 159.5 130.0 173.8 132.2 187.7M84.3 99.5C95.0 102.5 104.5 107.5 110.5 114.5M69.4 121.7C76.2 127.3 81.4 133.9 83.4 140.8M99.1 151.1C108.6 163.5 115.0 177.2 115.8 190.1M71.7 128.7C78.3 135.6 83.1 143.4 84.5 151.1M84.9 126.3C93.9 133.6 100.8 142.4 103.5 151.6M99.6 104.0C112.6 108.7 123.8 115.9 130.4 125.1M136.0 125.0C153.4 135.8 167.5 149.5 174.5 164.8M141.1 123.1C159.5 133.9 174.6 147.9 182.2 163.7M106.6 116.5C119.9 123.9 130.7 133.5 136.4 144.5M122.0 103.1C138.7 109.2 153.1 118.5 161.6 130.4M111.4 92.4C127.1 96.0 141.0 102.8 150.1 112.5M130.1 139.7C145.6 152.5 157.4 167.7 162.1 183.5M120.8 144.4C134.4 157.3 144.5 172.2 147.9 187.3M116.3 90.9C132.9 94.6 147.7 101.6 157.3 111.8M104.6 109.5C118.0 115.5 129.3 124.0 135.7 134.2M113.7 111.8C128.4 118.8 140.7 128.4 147.5 140.0M128.6 119.5C145.2 128.9 158.9 141.1 165.9 155.1M92.3 148.5C100.9 160.0 106.6 172.6 107.2 184.5M83.0 135.6C91.0 144.4 96.7 154.3 98.2 164.0M104.9 142.9C116.0 154.4 124.0 167.5 126.3 180.4M127.9 128.6C143.8 139.3 156.5 152.8 162.4 167.4M81.3 113.9C90.5 119.0 98.2 125.8 102.1 133.5M81.8 104.8C91.8 108.5 100.4 114.0 105.5 121.0M73.9 109.3C82.2 113.1 89.3 118.4 93.2 124.8M87.1 135.8C95.7 144.9 102.0 155.3 103.7 165.4M98.5 130.6C105.2 143.8 108.7 157.6 107.3 169.7M135.6 139.9C147.7 157.2 155.5 176.1 155.9 193.5M139.1 116.5C153.5 130.2 164.1 146.1 167.6 162.1M141.0 89.3C157.6 98.7 171.2 111.0 178.2 125.1M85.8 111.5C91.7 120.6 95.4 130.5 95.3 139.5M138.2 98.4C153.6 109.1 165.9 122.4 171.6 136.8M100.6 140.8C107.0 155.9 109.8 171.3 107.2 184.5M141.3 104.1C156.9 116.0 169.0 130.4 174.2 145.6M101.0 135.0C107.8 149.1 111.2 163.8 109.4 176.5M122.1 134.8C132.4 150.3 138.8 167.1 138.7 182.4M122.0 104.1C134.4 114.6 143.9 127.1 147.5 140.0M85.0 117.6C90.4 127.7 93.3 138.4 92.4 147.8M136.9 111.9C151.3 124.7 162.0 139.8 165.9 155.1M156.0 97.9C174.4 109.7 189.2 124.7 196.4 141.3M108.0 96.3C118.6 104.6 126.9 114.6 130.4 125.1M112.1 115.6C122.1 127.3 129.0 140.4 130.5 152.9M93.9 137.9C99.3 152.0 101.5 166.4 98.7 178.5M156.6 104.9C174.6 117.9 188.8 134.0 195.1 151.1M96.8 123.1C103.7 135.0 107.8 147.6 107.1 158.9M113.2 135.2C122.0 150.2 127.2 166.2 126.3 180.4M82.2 101.6C88.3 108.9 92.4 117.1 93.2 124.8M106.7 137.1C114.2 152.0 118.3 167.5 116.7 181.1M113.9 128.0C123.3 141.8 129.2 156.8 129.3 170.6M115.1 86.7C127.6 93.9 137.8 103.2 143.1 113.9M151.7 109.3C168.6 122.7 181.7 138.9 187.1 155.8M122.3 89.2C135.8 97.3 146.8 107.7 152.4 119.4M116.3 118.8C126.8 131.4 133.9 145.3 135.4 158.7M103.7 117.6C112.2 129.0 117.8 141.6 118.4 153.3M95.4 128.2C101.8 140.8 105.1 153.9 103.7 165.4M134.6 116.4C148.2 129.8 158.2 145.2 161.4 160.6M133.0 99.6C147.5 110.2 158.9 123.1 164.0 136.9M97.6 95.1C106.7 102.5 113.7 111.2 116.5 120.4M101.8 122.5C109.6 134.6 114.5 147.6 114.3 159.5M132.3 134.3C144.3 150.4 152.2 168.1 152.9 184.7M123.3 65.4C138.7 69.6 152.2 76.8 160.7 86.7M79.8 92.9C86.1 98.6 90.8 105.3 92.5 112.1M88.9 115.3C95.1 125.4 98.8 136.1 98.5 145.8M134.5 79.3C150.7 86.6 164.3 96.8 172.1 109.3M150.3 103.7C167.4 116.1 180.8 131.4 186.8 147.7M124.6 83.2C138.9 90.5 150.9 100.3 157.3 111.8M133.0 109.5C146.8 121.6 157.3 136.0 161.2 150.6M136.3 120.9C149.8 135.2 159.6 151.4 162.4 167.4M99.4 116.4C107.3 127.4 112.4 139.3 112.7 150.4M141.3 135.6C154.7 152.6 163.7 171.4 165.1 189.2M106.0 131.3C113.8 145.2 118.3 159.9 117.4 172.9M119.7 84.7C133.1 91.9 144.2 101.4 150.1 112.5M123.5 122.0C134.9 135.6 142.8 150.7 144.4 165.2M151.5 84.5C170.1 93.9 185.7 106.6 194.1 121.5M91.2 101.9C98.7 109.9 104.1 119.0 105.6 127.9M116.8 132.7C126.4 147.5 132.2 163.4 132.0 178.0M119.4 108.1C131.1 119.0 139.9 131.8 142.8 144.7M146.0 87.5C163.6 97.0 178.0 109.5 185.7 124.0M115.3 92.1C127.5 100.1 137.2 110.3 141.9 121.3M114.2 73.3C127.4 78.2 138.9 85.6 145.7 95.0M129.2 84.6C144.2 92.4 156.6 102.9 163.3 115.1M130.3 66.6C146.7 71.6 161.0 79.6 170.0 90.5M100.7 98.7C109.9 106.9 117.0 116.4 119.6 126.3M80.0 121.1C84.3 131.4 86.2 142.0 84.5 151.1M128.9 78.9C144.2 85.8 157.2 95.4 164.5 107.1M126.7 102.0C140.1 112.5 150.4 125.2 154.7 138.4M89.6 106.3C96.6 114.9 101.3 124.4 102.1 133.5M131.4 104.3C145.4 115.5 156.1 128.9 160.6 142.9M87.0 101.6C93.8 109.3 98.7 117.9 99.9 126.2M90.2 97.2C97.8 104.3 103.6 112.6 105.5 121.0M150.7 125.0C166.4 141.0 177.8 159.2 181.2 177.3M111.0 111.3C121.1 122.2 128.3 134.5 130.2 146.6M138.4 83.4C155.0 91.7 168.8 102.9 176.4 116.1M117.6 103.3C129.3 113.4 138.3 125.3 141.7 137.5M147.3 122.2C162.7 137.5 173.8 155.0 177.3 172.5M77.7 99.7C83.1 106.3 86.8 113.8 87.5 120.8M127.5 106.7C140.7 118.0 150.6 131.4 154.4 145.2M120.7 94.4C133.6 103.3 143.9 114.3 148.6 126.2M119.3 127.6C129.7 141.7 136.4 157.2 137.0 171.6M128.5 118.7C140.9 132.1 149.8 147.2 152.2 162.0M107.8 77.4C119.7 82.6 129.9 89.9 135.7 98.9M91.4 128.0C97.1 140.3 99.9 153.0 98.2 164.0M136.0 94.0C151.4 103.8 163.9 116.3 169.9 130.0M111.8 122.5C121.3 135.3 127.4 149.4 128.0 162.4M142.3 79.9C159.8 87.9 174.5 99.1 182.8 112.5M147.3 78.9C165.7 87.0 181.2 98.5 190.0 112.5M84.8 106.2C91.0 114.4 95.1 123.5 95.5 131.9M101.4 86.2C111.7 92.3 120.1 100.2 124.4 109.1M102.9 94.9C112.8 102.5 120.6 111.8 123.9 121.6M113.5 82.2C126.1 88.5 136.5 97.1 142.2 107.2M142.9 121.8C157.5 136.7 168.2 153.7 171.3 170.6M136.6 69.9C153.8 75.8 168.7 85.0 177.7 96.9M122.6 111.1C134.6 122.8 143.5 136.3 146.4 149.8M106.0 108.2C115.5 118.3 122.4 129.8 124.3 141.0M154.2 91.1C172.8 101.7 188.1 115.6 196.0 131.3M115.0 108.9C125.9 119.7 133.9 132.1 136.4 144.5M132.7 89.9C147.9 98.8 160.2 110.4 166.5 123.4M114.2 139.2C122.9 155.0 127.7 171.5 126.4 186.2M142.5 73.8C160.3 80.7 175.7 91.0 184.7 104.0M126.8 133.0C137.9 148.5 145.2 165.5 145.7 181.3M95.4 97.3C99.6 107.3 101.5 117.5 99.9 126.2M135.1 97.7C145.9 110.5 153.3 124.8 154.7 138.4M147.5 112.2C159.3 128.2 166.9 145.7 167.6 162.1M127.7 123.3C135.5 139.7 139.3 156.8 137.0 171.6M112.4 107.7C118.7 120.5 121.9 133.9 120.3 145.6M103.7 94.6C109.4 104.7 112.8 115.4 112.1 124.9M160.1 105.0C174.4 120.7 184.6 138.5 187.1 155.8M112.0 122.7C117.1 138.0 118.8 153.5 115.3 166.3M128.1 80.4C138.9 89.9 147.1 101.0 150.1 112.5M93.3 92.4C97.6 101.4 99.7 110.8 98.4 118.9M115.5 118.6C121.6 133.4 124.2 148.7 121.5 161.6M137.4 138.6C145.6 158.3 149.2 178.5 145.9 195.7M162.1 114.3C176.1 131.7 185.5 151.0 187.1 169.3M141.4 105.2C152.6 119.6 160.1 135.6 161.2 150.6M145.3 107.6C157.0 122.7 164.9 139.4 165.9 155.1M120.2 118.2C127.0 133.3 130.3 149.0 128.0 162.4M106.4 99.0C112.3 110.0 115.5 121.5 114.5 131.7M117.6 123.2C123.7 139.0 126.1 155.0 123.0 168.6M106.1 85.0C112.9 93.6 117.5 103.2 118.2 112.3M157.6 87.2C172.8 99.9 184.3 115.0 188.9 130.6M155.1 126.6C167.1 145.5 174.4 165.9 173.9 184.3M157.2 92.2C171.9 105.6 182.9 121.3 186.8 137.3M132.5 73.3C144.5 81.9 154.0 92.6 158.3 104.0M97.3 111.0C100.9 123.4 101.7 135.7 98.5 145.8M116.2 73.1C125.5 80.6 132.7 89.5 135.7 98.9M165.0 100.6C180.4 115.9 191.6 133.6 195.1 151.1M142.5 125.1C152.5 142.9 158.2 161.7 156.9 178.5M150.7 75.6C165.6 85.9 177.3 98.7 182.8 112.5M112.1 76.8C120.5 84.6 126.8 93.6 129.0 102.8M151.3 117.5C163.3 134.7 171.0 153.3 171.3 170.6M109.1 94.4C115.7 104.9 119.8 116.1 119.6 126.3M155.8 117.9C168.4 135.5 176.7 154.7 177.3 172.5M126.5 110.2C135.0 124.4 139.9 139.5 139.2 153.1M150.9 69.5C166.1 78.7 178.6 90.6 184.7 104.0M109.8 81.9C117.5 90.3 123.0 99.9 124.4 109.1M123.5 82.4C133.4 91.9 140.7 102.9 143.1 113.9M137.6 80.3C150.0 90.4 159.5 102.5 163.3 115.1M124.7 114.5C132.5 129.4 136.8 144.9 135.4 158.7M125.9 74.2C136.8 82.5 145.2 92.6 148.8 103.3M123.4 104.6C131.7 117.7 136.7 131.8 136.4 144.5M101.0 87.6C106.8 96.3 110.5 105.8 110.5 114.5M103.8 123.9C107.6 138.8 108.0 153.5 103.7 165.4M154.4 83.2C169.3 95.0 180.9 109.2 185.7 124.0M107.8 112.1C113.1 125.4 115.2 138.9 112.7 150.4M111.9 99.6C118.7 111.1 122.7 123.4 122.0 134.3M109.4 130.7C113.6 147.1 114.1 163.4 109.4 176.5M145.0 98.4C157.3 112.0 166.0 127.4 168.2 142.3M93.2 101.9C96.8 112.4 97.9 123.1 95.5 131.9M142.9 75.0C156.4 84.6 167.2 96.5 172.1 109.3M164.6 107.6C179.4 124.2 189.9 142.8 192.5 160.8M141.9 120.6C152.2 137.6 158.2 155.8 157.4 172.1M140.0 68.0C153.6 76.3 164.6 86.9 170.1 98.8M120.2 127.1C126.5 143.7 128.8 160.6 125.5 174.7M149.5 85.0C163.4 96.7 174.1 110.7 178.2 125.1M102.3 133.6C105.1 150.0 104.3 166.0 98.7 178.5M159.1 120.7C172.2 139.0 180.6 158.9 181.2 177.3M155.7 74.5C171.5 85.0 184.0 98.1 190.0 112.5M127.8 103.7C136.9 117.0 142.7 131.4 142.8 144.7M107.9 122.1C112.4 136.9 113.6 151.9 109.9 164.1M88.2 88.6C91.9 96.6 93.7 104.9 92.5 112.1M158.7 99.4C173.2 114.1 183.7 131.0 186.8 147.7M150.0 90.8C163.6 103.6 173.8 118.4 177.3 133.3M95.4 117.9C98.2 131.2 98.1 144.4 93.9 154.8M124.5 130.8C126.3 149.5 124.0 167.5 116.7 181.1M159.5 88.8C169.9 103.1 176.7 118.8 177.3 133.3M140.2 82.9C147.9 94.8 152.6 107.7 152.4 119.4M160.3 67.4C172.4 78.3 181.5 91.0 184.7 104.0M124.7 94.4C129.1 107.1 130.5 120.1 127.6 130.8M168.2 97.4C179.4 113.7 186.6 131.4 186.8 147.7M113.1 92.6C115.7 104.3 115.7 115.8 112.1 124.9M106.2 126.7C105.3 143.5 100.9 159.1 92.5 170.1M163.9 81.2C175.6 94.5 183.8 109.5 185.7 124.0M137.2 121.2C141.7 139.3 142.2 157.2 137.0 171.6M131.4 75.9C138.1 86.1 142.3 97.1 142.2 107.2M150.9 103.1C158.9 119.2 163.0 136.0 161.2 150.6M102.2 120.6C101.1 136.1 96.7 150.4 88.8 160.5M171.5 112.3C182.3 131.3 188.5 151.4 187.1 169.3M95.5 93.3C95.2 103.9 92.6 113.8 87.5 120.8M160.8 115.5C169.6 134.2 173.9 153.7 171.3 170.6M149.3 97.9C157.4 113.0 161.9 128.9 160.6 142.9M134.8 116.8C139.3 134.0 139.8 151.1 135.0 164.9M115.9 102.6C118.2 116.1 117.5 129.3 112.9 139.6M165.2 115.9C174.7 135.1 179.6 155.0 177.3 172.5M144.1 122.6C149.6 141.4 150.9 160.2 146.1 175.6M145.4 100.4C152.7 115.6 156.4 131.4 154.4 145.2M104.9 95.3C105.9 106.8 104.4 117.9 99.9 126.2M167.1 85.2C179.0 99.5 187.3 115.4 188.9 130.6M129.7 116.2C133.3 132.9 133.2 149.4 128.0 162.4M147.0 130.4C152.5 150.7 153.4 170.9 147.9 187.3M125.0 116.6C127.8 133.0 127.1 149.0 121.5 161.6M150.8 93.3C159.5 107.7 164.7 123.1 164.0 136.9M150.2 127.9C156.3 148.0 157.9 168.1 152.9 184.7M169.4 78.2C182.2 91.5 191.4 106.6 194.1 121.5M95.6 107.7C94.3 120.7 90.3 132.6 83.4 140.8M151.4 118.6C158.4 137.2 161.1 156.2 157.4 172.1M156.0 92.0C165.7 106.6 171.7 122.4 171.6 136.8M153.9 87.6C163.5 101.4 169.6 116.3 169.9 130.0M143.5 89.6C151.3 102.9 155.8 117.0 155.0 129.7M126.1 80.1C131.6 90.6 134.7 101.7 133.6 111.4M127.1 121.2C130.0 138.5 129.0 155.4 123.0 168.6M116.4 124.3C117.2 141.4 114.5 157.6 107.3 169.7M125.6 110.1C129.0 125.5 129.0 140.7 124.2 152.8M115.5 82.9C119.2 93.2 120.4 103.6 118.2 112.3M165.2 72.5C177.7 84.6 187.0 98.5 190.0 112.5M162.0 93.3C172.5 108.5 179.2 125.0 179.5 140.2M118.5 92.4C122.0 104.4 122.7 116.4 119.6 126.3M146.8 72.6C156.3 83.3 163.0 95.4 164.5 107.1M107.5 100.0C108.6 112.4 107.1 124.4 102.1 133.5M155.4 120.4C162.9 139.6 166.0 159.2 162.3 175.8M144.6 126.6C150.0 146.1 150.9 165.5 145.7 181.3M148.0 121.0C154.3 139.8 156.3 158.7 152.0 174.5M121.4 97.6C125.0 110.7 125.6 123.7 122.0 134.3M173.8 91.5C186.4 107.3 195.0 124.7 196.4 141.3M125.7 71.1C131.8 80.1 135.7 89.9 135.7 98.9M163.1 100.1C173.3 116.6 179.5 134.1 178.9 150.0M142.5 76.9C151.0 88.0 156.6 100.3 157.3 111.8M136.3 133.0C139.8 153.0 138.9 172.4 132.2 187.7M132.1 132.9C134.9 152.5 133.5 171.5 126.4 186.2M152.3 72.9C162.7 84.1 170.1 96.8 172.1 109.3M141.4 115.7C147.0 133.1 148.6 150.7 144.4 165.2M135.4 97.0C141.4 110.9 144.0 125.3 141.7 137.5M159.6 120.9C167.8 140.5 171.4 160.6 168.0 177.8M152.0 123.0C158.8 142.4 161.1 162.1 156.9 178.5M150.6 83.5C159.9 96.4 166.0 110.4 166.5 123.4M132.5 137.9C135.1 158.4 133.2 178.1 125.6 193.3M138.6 88.1C145.7 100.8 149.6 114.3 148.6 126.2M136.0 108.1C141.2 124.0 142.8 139.9 139.2 153.1M110.5 85.6C113.1 95.9 113.4 106.2 110.5 114.5M155.6 101.0C164.5 117.0 169.6 134.0 168.3 149.0M121.6 74.8C126.8 84.1 129.7 94.0 129.0 102.8M153.5 133.6C159.8 154.8 161.3 176.1 155.9 193.5"/>
<path fill="none" stroke="#e080e0" stroke-width="0.5" stroke-opacity="0.1" d="M138.5 44.3C139.1 51.7 138.3 59.7 136.1 66.8M134.5 49.7C133.2 58.7 130.0 68.0 125.4 75.8M136.7 46.5C136.6 54.5 134.7 63.0 131.5 70.3M138.1 50.2C138.1 59.7 136.2 69.8 132.5 78.6M141.5 45.1C143.2 53.1 143.3 61.9 141.8 69.9M139.6 47.4C140.4 56.1 139.4 65.4 136.8 73.7M143.8 43.7C146.4 51.4 147.5 60.0 147.0 68.1M133.1 55.2C130.9 66.1 126.2 77.1 120.0 86.3M133.8 52.0C132.1 61.8 128.2 71.7 122.9 80.1M157.3 62.8C151.0 72.4 142.2 81.3 132.7 87.8M160.5 63.1C155.3 73.2 147.7 82.8 139.1 90.1M165.1 55.9C162.1 63.8 157.4 71.5 151.7 77.6M169.7 52.5C168.8 59.6 166.3 66.9 162.7 73.1M162.0 55.1C158.0 62.4 152.3 69.3 145.9 74.5M167.3 54.5C165.3 62.0 161.6 69.6 156.9 75.8M161.7 61.0C157.1 70.4 150.2 79.3 142.4 86.3M163.1 58.2C159.3 66.7 153.4 75.0 146.6 81.4M160.0 65.7C154.3 76.7 146.0 87.1 136.6 95.0M188.6 72.7C181.8 78.8 173.4 83.8 164.8 86.8M178.6 81.0C167.5 89.2 154.0 95.5 140.7 98.8M181.8 81.4C171.8 89.9 159.5 96.9 147.0 101.0M179.3 78.7C168.7 86.1 155.9 91.7 143.2 94.5M186.4 74.1C178.7 80.5 169.2 85.6 159.6 88.6M184.4 76.5C175.8 83.5 165.2 89.1 154.5 92.4M189.0 106.2C174.1 112.6 156.8 116.3 140.5 116.5M192.4 105.9C178.6 112.5 162.6 116.6 147.3 117.5M200.5 91.3C191.0 93.5 180.5 93.7 170.8 92.1M197.3 93.0C186.5 95.5 174.5 95.8 163.6 93.9M197.5 96.1C186.4 99.6 173.9 101.1 162.4 100.2M206.2 116.8C194.7 115.9 182.8 112.6 172.6 107.4M196.7 121.6C181.5 121.5 165.3 118.2 151.2 112.3M198.1 125.3C183.0 126.7 166.7 125.0 152.2 120.6M203.7 118.8C191.3 118.4 178.1 115.3 166.7 110.1M193.8 127.1C176.9 128.8 158.8 127.0 142.6 122.1M194.5 124.8C178.1 125.7 160.6 123.2 145.1 117.8M201.5 120.2C188.1 120.1 173.9 117.2 161.5 111.9M201.4 117.2C188.2 115.9 174.5 111.8 162.7 105.7M199.6 140.5C186.8 134.5 174.4 125.5 164.8 115.0M194.6 147.6C179.3 143.7 163.9 136.3 151.3 126.9M188.8 152.2C171.0 149.3 152.8 142.6 137.4 133.3M196.4 142.2C182.2 136.5 168.5 127.5 157.6 116.9M188.1 155.4C169.8 153.7 150.8 148.0 134.5 139.5M196.5 145.3C182.2 140.7 167.9 132.8 156.4 123.1M181.8 178.7C164.6 172.7 147.7 162.6 134.1 150.5M179.1 175.8C161.3 168.4 143.9 156.9 130.2 143.3M189.1 167.4C175.6 158.0 163.3 145.2 154.4 131.3M182.1 170.2C165.8 161.1 150.5 148.1 138.9 133.5M189.9 164.1C177.0 153.6 165.6 139.7 157.7 125.0M186.7 165.8C172.5 155.6 159.6 141.7 150.4 126.9M161.0 197.0C144.2 186.5 128.7 172.0 117.1 155.9M171.6 185.4C159.7 171.8 150.0 154.9 144.1 137.8M161.6 193.8C145.4 182.2 130.6 166.6 120.0 149.8M61.3 177.5C65.7 159.4 74.3 141.0 85.4 125.9M58.4 176.5C62.0 157.8 69.7 138.6 80.1 122.6M63.2 175.2C68.6 156.4 78.3 137.5 90.5 122.2M59.8 180.3C63.5 163.0 71.1 145.4 81.1 130.8M56.2 179.8C58.6 162.0 65.0 143.6 74.1 128.0M66.3 170.5C73.2 150.2 84.8 130.2 98.9 114.1M67.9 171.8C75.3 152.2 87.2 132.9 101.5 117.6M54.8 185.3C56.3 169.4 61.2 152.7 68.6 138.5M63.1 172.1C68.7 152.2 78.9 132.2 91.7 115.9M46.3 152.0C55.1 137.0 67.5 122.9 81.3 112.3M43.8 157.0C51.1 143.4 61.8 130.7 73.7 121.0M51.4 145.0C62.5 127.8 78.0 112.0 94.8 100.4M43.5 151.0C51.3 135.4 62.8 120.4 76.0 108.9M40.5 156.6C46.8 142.7 56.3 129.2 67.4 118.7M44.9 154.8C52.9 140.6 64.3 127.2 77.0 117.2M45.2 148.9C53.8 132.6 66.4 117.2 80.5 105.4M43.2 159.5C50.1 146.9 60.1 134.9 71.3 125.9M50.5 148.3C61.1 132.3 75.6 117.5 91.5 106.7M48.3 125.3C60.9 112.9 76.8 102.4 93.1 95.7M46.1 126.8C57.7 114.7 72.6 104.3 87.9 97.5M41.6 134.0C50.9 124.1 62.9 115.6 75.3 110.0M37.7 136.9C45.4 127.7 55.4 119.5 66.0 113.9M49.2 122.0C62.3 108.5 79.1 96.9 96.4 89.4M48.6 104.3C62.5 95.3 79.2 88.8 95.5 85.8M43.0 110.8C54.3 103.7 67.8 98.5 81.1 96.3M51.0 102.3C66.0 92.9 83.9 86.1 101.4 83.1M51.8 88.6C64.0 84.4 78.0 82.4 90.9 83.1M56.8 81.5C71.5 75.2 88.5 71.6 104.5 71.3M50.3 91.4C61.8 88.0 74.8 86.8 86.7 88.0M46.7 90.9C56.9 87.0 68.6 85.0 79.6 85.2M55.9 84.9C70.1 79.6 86.1 77.0 101.2 77.6M66.7 63.8C79.3 61.9 93.1 62.5 105.5 65.5M62.0 68.2C72.6 67.4 83.9 68.8 94.0 72.1M66.8 66.9C79.2 66.0 92.5 67.8 104.3 71.7M61.7 76.7C71.4 78.9 81.2 83.3 89.3 89.1M63.7 66.1C75.1 64.7 87.5 65.6 98.5 68.6M69.0 65.4C82.4 64.3 96.7 65.9 109.5 69.9M59.8 71.5C69.2 71.7 79.2 73.8 87.9 77.6M59.0 73.8C68.1 74.7 77.4 77.6 85.4 81.9M58.4 77.0C66.9 79.0 75.4 83.0 82.5 88.1M63.4 72.0C74.1 72.7 85.4 75.6 95.0 80.4M64.8 69.2C76.3 69.0 88.6 71.3 99.3 75.5M84.7 49.4C97.1 50.3 110.1 53.8 121.2 59.3M81.5 51.0C92.6 52.2 104.1 55.8 113.9 61.2M73.2 64.2C80.2 69.4 86.4 76.3 90.9 83.8M102.8 40.7C112.9 44.3 122.8 50.2 130.7 57.3M94.6 55.3C100.4 63.3 104.9 73.1 107.2 82.8M96.4 50.5C103.2 57.1 109.1 65.4 112.9 74.0M95.2 52.7C101.5 59.9 106.6 68.8 109.6 77.8M91.3 55.6C95.9 63.4 99.1 72.7 100.4 81.7M104.4 42.1C114.9 46.3 125.1 52.9 133.2 60.8"/>
<path fill="none" stroke="#e080e0" stroke-width="0.5" stroke-opacity="0.075" d="M136.1 66.8C133.8 73.9 130.3 80.2 125.5 84.0M125.4 75.8C120.9 83.6 114.9 90.0 108.2 93.3M131.5 70.3C128.3 77.7 123.8 83.9 118.2 87.5M132.5 78.6C128.9 87.4 123.7 94.9 117.2 99.2M141.8 69.9C140.4 78.0 137.3 85.2 132.6 90.0M136.8 73.7C134.2 82.0 130.1 89.2 124.5 93.7M147.0 68.1C146.5 76.2 144.3 83.7 140.3 89.0M120.0 86.3C113.8 95.5 106.0 102.8 97.6 106.2M122.9 80.1C117.6 88.5 110.9 95.2 103.4 98.5M132.7 87.8C123.2 94.3 112.9 98.4 103.4 98.5M139.1 90.1C130.4 97.4 120.8 102.5 111.5 103.5M151.7 77.6C146.0 83.8 139.3 88.4 132.6 90.0M162.7 73.1C159.1 79.3 154.5 84.3 149.2 86.9M145.9 74.5C139.4 79.8 132.3 83.4 125.5 84.0M156.9 75.8C152.1 82.1 146.4 86.9 140.3 89.0M142.4 86.3C134.5 93.2 125.7 98.1 117.2 99.2M146.6 81.4C139.8 87.8 132.1 92.4 124.5 93.7M136.6 95.0C127.2 103.0 116.8 108.5 106.7 109.6M164.8 86.8C156.2 89.8 147.5 90.9 140.3 89.0M140.7 98.8C127.3 102.1 114.0 102.4 103.4 98.5M147.0 101.0C134.5 105.2 121.9 106.4 111.5 103.5M143.2 94.5C130.6 97.2 118.1 97.2 108.2 93.3M159.6 88.6C150.1 91.6 140.5 92.3 132.6 90.0M154.5 92.4C143.9 95.6 133.2 96.4 124.5 93.7M140.5 116.5C124.2 116.7 108.8 113.5 97.6 106.2M147.3 117.5C132.0 118.4 117.5 116.0 106.7 109.6M170.8 92.1C161.2 90.4 152.5 86.8 146.7 81.3M163.6 93.9C152.6 92.0 142.7 88.0 136.1 81.7M162.4 100.2C150.8 99.2 140.1 95.9 132.6 90.0M172.6 107.4C162.3 102.2 153.8 95.1 149.2 86.9M151.2 112.3C137.1 106.4 125.1 98.0 118.2 87.5M152.2 120.6C137.7 116.1 125.1 108.9 117.2 99.2M166.7 110.1C155.3 105.0 145.7 97.7 140.3 89.0M142.6 122.1C126.4 117.2 112.2 109.2 103.4 98.5M145.1 117.8C129.7 112.4 116.3 104.1 108.2 93.3M161.5 111.9C149.2 106.7 138.7 99.2 132.6 90.0M162.7 105.7C151.0 99.5 141.3 91.3 136.1 81.7M164.8 115.0C155.3 104.6 148.5 92.8 146.7 81.3M151.3 126.9C138.7 117.4 128.8 105.9 124.5 93.7M137.4 133.3C122.1 123.9 109.6 111.9 103.4 98.5M157.6 116.9C146.7 106.2 138.7 94.0 136.1 81.7M134.5 139.5C118.3 130.9 104.8 119.5 97.6 106.2M156.4 123.1C144.8 113.4 136.0 101.9 132.6 90.0M134.1 150.5C120.6 138.3 110.4 124.1 106.7 109.6M130.2 143.3C116.5 129.7 106.5 114.1 103.4 98.5M154.4 131.3C145.5 117.4 140.0 102.5 140.3 89.0M138.9 133.5C127.3 118.9 119.4 102.8 118.2 87.5M157.7 125.0C149.8 110.4 145.4 94.9 146.7 81.3M150.4 126.9C141.2 112.0 135.6 96.1 136.1 81.7M117.1 155.9C105.6 139.9 98.1 122.4 97.6 106.2M144.1 137.8C138.3 120.7 136.4 103.4 140.3 89.0M120.0 149.8C109.4 132.9 102.9 114.9 103.4 98.5M85.4 125.9C96.5 110.8 110.0 99.0 124.5 93.7M80.1 122.6C90.6 106.5 103.7 93.7 118.2 87.5M90.5 122.2C102.6 106.8 117.3 94.9 132.6 90.0M81.1 130.8C91.2 116.2 103.7 104.6 117.2 99.2M74.1 128.0C83.1 112.5 94.9 99.8 108.2 93.3M98.9 114.1C113.0 98.0 129.7 85.8 146.7 81.3M101.5 117.6C115.8 102.3 132.4 90.8 149.2 86.9M68.6 138.5C76.0 124.3 86.0 112.5 97.6 106.2M91.7 115.9C104.5 99.6 119.9 87.0 136.1 81.7M81.3 112.3C95.1 101.7 110.2 94.6 124.5 93.7M73.7 121.0C85.6 111.3 98.9 104.7 111.5 103.5M94.8 100.4C111.6 88.9 129.9 81.5 146.7 81.3M76.0 108.9C89.2 97.4 103.9 89.3 118.2 87.5M67.4 118.7C78.4 108.2 91.0 100.6 103.4 98.5M77.0 117.2C89.8 107.1 103.9 100.3 117.2 99.2M80.5 105.4C94.7 93.7 110.4 85.6 125.5 84.0M71.3 125.9C82.5 116.8 94.9 110.7 106.7 109.6M91.5 106.7C107.4 95.9 124.5 89.1 140.3 89.0M93.1 95.7C109.4 89.0 126.1 86.1 140.3 89.0M87.9 97.5C103.2 90.8 119.0 87.6 132.6 90.0M75.3 110.0C87.7 104.3 100.5 101.7 111.5 103.5M66.0 113.9C76.6 108.2 87.8 105.2 97.6 106.2M96.4 89.4C113.6 81.9 131.5 78.5 146.7 81.3M95.5 85.8C111.9 82.9 127.8 83.5 140.3 89.0M81.1 96.3C94.3 94.0 107.1 94.7 117.2 99.2M101.4 83.1C118.9 80.1 135.9 80.9 149.2 86.9M90.9 83.1C103.9 83.9 116.0 87.3 124.5 93.7M104.5 71.3C120.5 71.0 135.6 74.1 146.7 81.3M86.7 88.0C98.6 89.2 109.6 92.9 117.2 99.2M79.6 85.2C90.6 85.5 100.8 88.1 108.2 93.3M101.2 77.6C116.2 78.1 130.3 81.7 140.3 89.0M105.5 65.5C118.0 68.5 129.0 73.9 136.1 81.7M94.0 72.1C104.1 75.4 112.8 80.6 118.2 87.5M104.3 71.7C116.1 75.7 126.4 81.9 132.6 90.0M89.3 89.1C97.4 94.9 103.8 102.0 106.7 109.6M98.5 68.6C109.6 71.7 119.3 76.9 125.5 84.0M109.5 69.9C122.3 73.9 133.4 80.4 140.3 89.0M87.9 77.6C96.6 81.4 104.0 86.7 108.2 93.3M85.4 81.9C93.3 86.2 99.9 91.9 103.4 98.5M82.5 88.1C89.5 93.2 95.1 99.5 97.6 106.2M95.0 80.4C104.7 85.1 112.8 91.6 117.2 99.2M99.3 75.5C110.0 79.7 119.1 85.9 124.5 93.7M121.2 59.3C132.3 64.9 141.6 72.4 146.7 81.3M113.9 61.2C123.7 66.5 131.8 73.6 136.1 81.7M90.9 83.8C95.3 91.2 98.0 99.1 97.6 106.2M130.7 57.3C138.6 64.4 144.6 72.8 146.7 81.3M107.2 82.8C109.4 92.4 109.6 102.0 106.7 109.6M112.9 74.0C116.7 82.6 118.5 91.6 117.2 99.2M109.6 77.8C112.6 86.8 113.6 96.0 111.5 103.5M100.4 81.7C101.6 90.7 100.9 99.5 97.6 106.2M133.2 60.8C141.3 68.7 147.3 77.8 149.2 86.9"/>
<path fill="none" stroke="#e080e0" stroke-width="0.5" stroke-opacity="0.11" d="M131.8 25.3C139.0 80.1 78.5 159.0 23.8 166.2M131.8 25.3C153.2 15.7 192.7 30.9 202.3 52.3M131.8 25.3C153.2 15.7 192.7 30.9 202.3 52.3M131.8 25.3C190.2 59.0 221.6 176.1 187.9 234.5M131.8 25.3C131.3 74.9 67.5 137.5 17.9 137.0M131.8 25.3C153.2 15.7 192.7 30.9 202.3 52.3M131.8 25.3C138.0 21.4 163.6 27.1 167.5 33.3M131.8 25.3C142.3 18.7 160.9 22.8 167.5 33.3M131.8 25.3C141.9 18.9 161.1 23.2 167.5 33.3M131.8 25.3C159.6 12.9 189.9 24.5 202.3 52.3M131.8 25.3C157.0 14.1 191.1 27.1 202.3 52.3M131.8 25.3C148.9 17.7 194.7 35.2 202.3 52.3M131.8 25.3C159.8 18.0 216.8 51.4 224.1 79.4M131.8 25.3C166.2 16.3 215.1 45.0 224.1 79.4M131.8 25.3C151.6 20.1 218.9 59.6 224.1 79.4M167.5 33.3C190.1 31.0 221.8 56.8 224.1 79.4M167.5 33.3C205.4 91.4 179.8 213.6 121.7 251.5M167.5 33.3C216.3 73.1 227.7 185.7 187.9 234.5M167.5 33.3C157.4 89.0 73.6 147.1 17.9 137.0M167.5 33.3C208.0 43.1 247.0 107.2 237.2 147.7M167.5 33.3C152.0 81.7 70.8 123.5 22.4 108.0M167.5 33.3C174.8 31.2 200.2 45.0 202.3 52.3M167.5 33.3C182.5 28.9 197.9 37.3 202.3 52.3M167.5 33.3C179.0 29.9 198.9 40.8 202.3 52.3M167.5 33.3C183.4 31.7 222.5 63.5 224.1 79.4M167.5 33.3C189.6 31.0 221.8 57.3 224.1 79.4M167.5 33.3C181.5 31.9 222.7 65.4 224.1 79.4M167.5 33.3C199.0 35.2 238.7 80.1 236.8 111.6M167.5 33.3C209.2 35.8 239.3 69.9 236.8 111.6M167.5 33.3C206.6 35.7 239.2 72.5 236.8 111.6M202.3 52.3C222.9 57.8 242.3 91.0 236.8 111.6M202.3 52.3C171.0 94.7 77.2 108.7 34.8 77.3M202.3 52.3C171.0 94.7 77.2 108.7 34.8 77.3M202.3 52.3C222.9 57.8 242.3 91.0 236.8 111.6M202.3 52.3C180.9 61.9 141.4 46.8 131.8 25.3M202.3 52.3C180.9 61.9 141.4 46.8 131.8 25.3M202.3 52.3C214.8 53.7 225.5 66.9 224.1 79.4M202.3 52.3C214.2 53.6 225.4 67.5 224.1 79.4M202.3 52.3C209.5 53.1 224.9 72.2 224.1 79.4M202.3 52.3C225.5 58.4 242.9 88.4 236.8 111.6M202.3 52.3C216.7 56.1 240.6 97.2 236.8 111.6M202.3 52.3C228.9 59.3 243.8 85.0 236.8 111.6M202.3 52.3C223.4 62.1 247.0 126.6 237.2 147.7M202.3 52.3C237.0 68.4 253.3 113.0 237.2 147.7M202.3 52.3C220.1 60.5 245.4 129.9 237.2 147.7M224.1 79.4C208.1 147.3 101.4 213.3 33.5 197.3M224.1 79.4C213.3 78.2 201.1 63.1 202.3 52.3M224.1 79.4C248.4 100.8 252.2 158.9 230.8 183.2M224.1 79.4C245.9 130.8 208.3 224.1 156.9 245.9M224.1 79.4C234.0 83.7 241.1 101.7 236.8 111.6M224.1 79.4C236.5 84.8 242.2 99.2 236.8 111.6M224.1 79.4C234.5 83.9 241.3 101.2 236.8 111.6M224.1 79.4C232.6 83.1 240.5 103.1 236.8 111.6M224.1 79.4C238.0 88.8 246.6 133.8 237.2 147.7M224.1 79.4C236.6 87.9 245.7 135.2 237.2 147.7M224.1 79.4C240.7 90.7 248.5 131.1 237.2 147.7M224.1 79.4C251.4 103.4 254.8 155.9 230.8 183.2M224.1 79.4C240.3 93.6 245.0 167.0 230.8 183.2M224.1 79.4C253.7 105.4 256.8 153.6 230.8 183.2M236.8 111.6C188.8 158.0 68.8 156.0 22.4 108.0M236.8 111.6C251.2 128.7 247.9 168.8 230.8 183.2M236.8 111.6C248.8 158.7 204.0 233.9 156.9 245.9M236.8 111.6C201.9 170.5 82.6 201.1 23.8 166.2M236.8 111.6C188.8 158.0 68.8 156.0 22.4 108.0M236.8 111.6C244.8 119.5 245.1 139.7 237.2 147.7M236.8 111.6C243.1 117.8 243.4 141.4 237.2 147.7M236.8 111.6C246.1 120.7 246.3 138.4 237.2 147.7M236.8 111.6C247.2 121.8 247.4 137.3 237.2 147.7M236.8 111.6C245.8 122.3 241.5 174.2 230.8 183.2M236.8 111.6C245.6 122.1 241.3 174.4 230.8 183.2M236.8 111.6C250.6 127.9 247.1 169.4 230.8 183.2M236.8 111.6C258.5 147.4 247.7 191.5 211.9 213.2M236.8 111.6C253.0 138.3 238.6 197.0 211.9 213.2M236.8 111.6C249.8 133.1 233.4 200.2 211.9 213.2M237.2 147.7C181.2 186.2 60.9 164.0 22.4 108.0M237.2 147.7C229.2 139.8 228.9 119.6 236.8 111.6M237.2 147.7C177.2 159.4 85.8 98.0 74.1 38.0M237.2 147.7C216.3 204.0 117.9 249.1 61.6 228.2M237.2 147.7C234.6 195.9 169.9 254.1 121.7 251.5M237.2 147.7C186.6 193.6 63.8 187.6 17.9 137.0M237.2 147.7C241.7 154.2 237.3 178.7 230.8 183.2M237.2 147.7C244.3 157.9 241.0 176.1 230.8 183.2M237.2 147.7C243.9 157.4 240.5 176.5 230.8 183.2M237.2 147.7C242.8 160.3 224.5 207.6 211.9 213.2M237.2 147.7C247.7 171.4 235.6 202.7 211.9 213.2M237.2 147.7C248.0 172.2 236.4 202.4 211.9 213.2M237.2 147.7C245.8 178.8 219.0 225.9 187.9 234.5M237.2 147.7C246.4 181.0 221.2 225.3 187.9 234.5M237.2 147.7C246.8 182.7 222.9 224.9 187.9 234.5M230.8 183.2C216.4 166.1 219.7 126.0 236.8 111.6M230.8 183.2C164.4 185.7 76.6 104.4 74.1 38.0M230.8 183.2C168.1 177.2 95.9 89.6 101.9 26.9M230.8 183.2C168.4 212.5 51.7 170.4 22.4 108.0M230.8 183.2C232.6 203.9 208.6 232.7 187.9 234.5M230.8 183.2C206.5 161.8 202.7 103.7 224.1 79.4M230.8 183.2C233.5 195.0 223.7 210.5 211.9 213.2M230.8 183.2C232.7 191.4 220.1 211.3 211.9 213.2M230.8 183.2C233.8 196.4 225.1 210.2 211.9 213.2M230.8 183.2C232.5 202.7 207.4 232.8 187.9 234.5M230.8 183.2C231.9 196.0 200.7 233.4 187.9 234.5M230.8 183.2C231.9 195.7 200.4 233.4 187.9 234.5M230.8 183.2C228.5 211.6 185.3 248.2 156.9 245.9M230.8 183.2C228.5 210.7 184.4 248.2 156.9 245.9M230.8 183.2C228.8 207.6 181.3 247.9 156.9 245.9M211.9 213.2C160.2 244.3 54.8 217.9 23.8 166.2M211.9 213.2C169.2 248.9 69.3 240.0 33.5 197.3M211.9 213.2C195.0 185.4 209.0 128.5 236.8 111.6M211.9 213.2C143.0 222.3 43.9 146.2 34.8 77.3M211.9 213.2C209.5 202.4 220.0 185.6 230.8 183.2M211.9 213.2C211.5 219.8 194.5 234.9 187.9 234.5M211.9 213.2C211.4 221.6 196.3 235.0 187.9 234.5M211.9 213.2C211.5 219.8 194.5 234.9 187.9 234.5M211.9 213.2C208.1 228.0 171.7 249.7 156.9 245.9M211.9 213.2C208.1 228.3 172.0 249.7 156.9 245.9M211.9 213.2C207.0 232.5 176.2 250.8 156.9 245.9M211.9 213.2C198.0 247.7 156.2 265.4 121.7 251.5M211.9 213.2C199.1 245.0 153.5 264.3 121.7 251.5M211.9 213.2C201.8 238.3 146.8 261.6 121.7 251.5M61.6 228.2C26.5 210.4 4.6 143.1 22.4 108.0M61.6 228.2C82.5 171.9 180.9 126.8 237.2 147.7M61.6 228.2C71.1 225.6 86.6 234.5 89.2 244.0M61.6 228.2C64.6 159.7 155.6 76.4 224.1 79.4M61.6 228.2C52.5 227.8 33.1 206.4 33.5 197.3M61.6 228.2C45.0 227.4 32.7 213.9 33.5 197.3M61.6 228.2C46.4 227.5 32.8 212.5 33.5 197.3M61.6 228.2C45.5 224.3 19.8 182.3 23.8 166.2M61.6 228.2C34.8 221.7 17.3 193.0 23.8 166.2M61.6 228.2C35.5 221.9 17.4 192.3 23.8 166.2M61.6 228.2C29.8 217.0 6.7 168.8 17.9 137.0M61.6 228.2C29.9 217.0 6.7 168.7 17.9 137.0M61.6 228.2C37.1 219.6 9.3 161.5 17.9 137.0M33.5 197.3C26.9 131.7 101.9 39.9 167.5 33.3M33.5 197.3C73.8 150.8 184.3 142.9 230.8 183.2M33.5 197.3C67.4 141.6 181.5 113.8 237.2 147.7M33.5 197.3C46.5 197.9 62.2 215.2 61.6 228.2M33.5 197.3C67.4 141.6 181.5 113.8 237.2 147.7M33.5 197.3C11.1 144.8 49.4 49.3 101.9 26.9M33.5 197.3C22.2 191.4 17.9 177.5 23.8 166.2M33.5 197.3C23.8 192.2 18.7 175.9 23.8 166.2M33.5 197.3C22.5 191.5 18.0 177.2 23.8 166.2M33.5 197.3C21.5 190.2 10.8 149.0 17.9 137.0M33.5 197.3C14.3 186.0 6.6 156.2 17.9 137.0M33.5 197.3C22.1 190.6 11.2 148.4 17.9 137.0M33.5 197.3C12.0 180.6 5.7 129.5 22.4 108.0M33.5 197.3C10.4 179.3 4.4 131.1 22.4 108.0M33.5 197.3C14.7 182.6 7.7 126.8 22.4 108.0M23.8 166.2C58.6 107.3 177.9 76.7 236.8 111.6M23.8 166.2C16.5 111.4 77.0 32.5 131.8 25.3M23.8 166.2C75.5 135.1 180.8 161.5 211.9 213.2M23.8 166.2C58.6 107.3 177.9 76.7 236.8 111.6M23.8 166.2C48.7 103.0 160.9 54.4 224.1 79.4M23.8 166.2C18.8 162.9 14.6 142.0 17.9 137.0M23.8 166.2C18.3 162.6 14.3 142.4 17.9 137.0M23.8 166.2C15.5 160.7 12.4 145.2 17.9 137.0M23.8 166.2C13.4 156.3 12.5 118.3 22.4 108.0M23.8 166.2C8.4 151.6 7.8 123.3 22.4 108.0M23.8 166.2C7.0 150.2 6.4 124.7 22.4 108.0M23.8 166.2C12.8 152.1 20.7 88.2 34.8 77.3M23.8 166.2C3.6 140.4 9.0 97.4 34.8 77.3M23.8 166.2C2.8 139.3 7.9 98.3 34.8 77.3M17.9 137.0C12.5 129.6 15.0 113.4 22.4 108.0M17.9 137.0C76.8 121.0 171.9 175.7 187.9 234.5M17.9 137.0C72.4 130.4 150.3 191.4 156.9 245.9M17.9 137.0C12.2 94.3 59.2 32.6 101.9 26.9M17.9 137.0C74.9 100.3 194.1 126.2 230.8 183.2M17.9 137.0C39.8 77.8 143.1 30.4 202.3 52.3M17.9 137.0C11.3 128.0 13.4 114.6 22.4 108.0M17.9 137.0C14.6 132.5 17.9 111.3 22.4 108.0M17.9 137.0C13.7 131.2 16.6 112.2 22.4 108.0M17.9 137.0C10.7 124.1 21.9 84.5 34.8 77.3M17.9 137.0C7.3 118.1 15.9 87.9 34.8 77.3M17.9 137.0C6.0 115.7 13.5 89.2 34.8 77.3M17.9 137.0C6.0 108.5 23.1 67.2 51.6 55.3M17.9 137.0C9.1 116.0 30.6 64.1 51.6 55.3M17.9 137.0C5.1 106.1 20.7 68.1 51.6 55.3M22.4 108.0C75.8 117.7 131.4 198.1 121.7 251.5M22.4 108.0C44.5 125.2 50.7 175.2 33.5 197.3M22.4 108.0C86.6 99.4 179.3 170.3 187.9 234.5M22.4 108.0C28.3 65.7 89.5 19.4 131.8 25.3M22.4 108.0C67.0 123.2 104.4 199.4 89.2 244.0M22.4 108.0C86.6 99.4 179.3 170.3 187.9 234.5M22.4 108.0C17.4 96.1 22.9 82.3 34.8 77.3M22.4 108.0C19.8 102.0 28.8 79.9 34.8 77.3M22.4 108.0C17.8 97.3 24.1 81.9 34.8 77.3M22.4 108.0C16.0 85.7 29.3 61.7 51.6 55.3M22.4 108.0C16.5 87.5 31.1 61.2 51.6 55.3M22.4 108.0C17.1 89.6 33.2 60.6 51.6 55.3M22.4 108.0C18.6 83.0 49.1 41.8 74.1 38.0M22.4 108.0C19.2 86.5 52.6 41.2 74.1 38.0M22.4 108.0C17.9 78.0 44.1 42.5 74.1 38.0M34.8 77.3C34.8 60.0 56.8 38.0 74.1 38.0M34.8 77.3C38.8 86.8 31.9 104.0 22.4 108.0M34.8 77.3C83.4 102.0 113.9 195.4 89.2 244.0M34.8 77.3C94.8 48.3 208.2 87.7 237.2 147.7M34.8 77.3C103.7 68.2 202.8 144.3 211.9 213.2M34.8 77.3C92.2 96.5 140.9 194.1 121.7 251.5M34.8 77.3C33.3 66.5 40.8 56.8 51.6 55.3M34.8 77.3C33.9 70.6 44.9 56.2 51.6 55.3M34.8 77.3C33.3 66.5 40.8 56.8 51.6 55.3M34.8 77.3C34.8 54.9 51.7 38.0 74.1 38.0M34.8 77.3C34.8 64.9 61.7 38.0 74.1 38.0M34.8 77.3C34.8 59.0 55.8 38.0 74.1 38.0M34.8 77.3C37.5 58.3 82.9 24.2 101.9 26.9M34.8 77.3C37.4 59.1 83.7 24.3 101.9 26.9M34.8 77.3C37.4 59.1 83.7 24.3 101.9 26.9M51.6 55.3C56.8 73.3 40.4 102.8 22.4 108.0M51.6 55.3C101.4 88.5 122.4 194.2 89.2 244.0M51.6 55.3C94.9 22.7 191.5 36.1 224.1 79.4M51.6 55.3C69.9 85.8 54.3 147.9 23.8 166.2M51.6 55.3C52.7 63.8 43.3 76.2 34.8 77.3M51.6 55.3C52.5 48.8 67.6 37.1 74.1 38.0M51.6 55.3C52.7 47.1 65.9 36.9 74.1 38.0M51.6 55.3C52.3 49.9 68.7 37.3 74.1 38.0M51.6 55.3C57.2 35.3 81.9 21.3 101.9 26.9M51.6 55.3C55.7 40.4 87.0 22.8 101.9 26.9M51.6 55.3C55.6 40.8 87.4 22.9 101.9 26.9M51.6 55.3C64.0 28.2 104.7 12.9 131.8 25.3M51.6 55.3C61.8 33.0 109.5 15.1 131.8 25.3M51.6 55.3C65.9 23.9 100.4 11.0 131.8 25.3M74.1 38.0C105.5 12.9 177.2 20.9 202.3 52.3M74.1 38.0C73.0 46.8 60.4 56.4 51.6 55.3M74.1 38.0C131.5 74.5 158.2 194.1 121.7 251.5M74.1 38.0C126.1 18.4 217.2 59.6 236.8 111.6M74.1 38.0C78.1 64.8 49.2 104.0 22.4 108.0M74.1 38.0C122.7 80.0 131.2 195.4 89.2 244.0M74.1 38.0C77.9 29.1 93.0 23.1 101.9 26.9M74.1 38.0C76.3 32.8 96.7 24.7 101.9 26.9M74.1 38.0C76.3 32.8 96.7 24.7 101.9 26.9M74.1 38.0C86.6 18.4 112.2 12.8 131.8 25.3M74.1 38.0C84.6 21.6 115.4 14.8 131.8 25.3M74.1 38.0C81.8 26.0 119.8 17.6 131.8 25.3M74.1 38.0C87.2 23.5 153.0 20.2 167.5 33.3M74.1 38.0C87.8 22.9 152.4 19.6 167.5 33.3M74.1 38.0C89.0 21.5 151.0 18.4 167.5 33.3"/>
<path fill="none" stroke="#c0a8c4" stroke-width="0.5" stroke-opacity="0.13" d="M187.9 234.5C177.2 235.7 165.1 232.4 153.5 226.4M187.9 234.5C172.8 231.3 157.7 221.4 144.6 207.9M187.9 234.5C177.6 228.5 168.8 217.6 162.4 204.6M187.9 234.5C174.2 233.4 159.7 226.4 146.7 216.0M187.9 234.5C178.0 231.2 168.6 223.4 160.8 213.4M187.9 234.5C175.2 230.1 163.2 220.0 153.4 207.0M187.9 234.5C175.2 236.3 160.6 233.0 146.5 226.2M187.9 234.5C177.0 234.4 165.1 229.7 154.2 222.2M187.9 234.5C177.6 234.8 166.2 230.8 155.5 224.1M187.9 234.5C173.2 228.0 160.0 214.6 149.7 198.1M187.9 234.5C181.0 229.0 175.9 220.0 172.8 209.8M187.9 234.5C179.1 225.4 173.4 211.7 170.6 196.6M187.9 234.5C175.0 232.3 161.8 224.5 150.2 213.6M187.9 234.5C174.7 232.9 160.9 225.5 148.6 215.0M187.9 234.5C178.3 234.4 167.9 230.3 158.2 223.7M187.9 234.5C180.5 234.3 172.5 230.9 165.1 225.7M187.9 234.5C172.0 228.8 157.1 215.9 144.9 199.4M187.9 234.5C177.8 229.2 169.0 219.2 162.4 207.0M187.9 234.5C178.3 228.8 170.3 218.5 164.5 206.3M187.9 234.5C182.3 229.7 178.2 222.1 175.8 213.5M187.9 234.5C179.8 230.3 172.7 222.3 167.4 212.6M187.9 234.5C174.9 230.9 162.3 221.5 151.6 209.1M187.9 234.5C178.6 225.9 172.0 212.6 168.4 197.7M187.9 234.5C178.2 227.9 170.4 216.6 165.0 203.4M187.9 234.5C183.2 231.8 179.2 226.9 176.2 221.1M187.9 234.5C180.4 226.8 175.4 215.2 173.0 202.3M187.9 234.5C182.0 234.7 175.4 232.5 169.3 228.7M187.9 234.5C176.2 233.8 163.8 228.2 152.4 219.6M187.9 234.5C178.6 231.3 169.9 224.0 162.7 214.5M187.9 234.5C171.9 231.7 155.6 221.9 141.3 208.2M187.9 234.5C179.4 235.1 169.9 232.1 161.0 226.9M187.9 234.5C181.7 227.0 178.1 216.3 176.8 204.5M187.9 234.5C172.7 234.4 156.2 227.9 140.9 217.6M187.9 234.5C179.7 227.9 173.6 217.1 169.8 204.9M187.9 234.5C177.7 232.7 167.3 226.5 158.2 217.8M187.9 234.5C177.2 233.2 166.2 227.2 156.3 218.7M187.9 234.5C179.7 229.2 173.0 219.9 168.3 209.0M187.9 234.5C173.4 231.4 158.9 221.8 146.4 208.9M187.9 234.5C173.6 226.3 161.6 211.3 152.7 193.3M187.9 234.5C178.9 230.4 170.8 222.1 164.5 211.9M187.9 234.5C181.7 229.4 177.1 221.1 174.3 211.8M187.9 234.5C179.6 232.6 171.4 227.0 164.3 219.5M187.9 234.5C182.3 232.6 176.9 228.2 172.5 222.6M187.9 234.5C172.8 229.8 158.3 218.2 146.3 203.2M187.9 234.5C181.2 229.9 175.8 222.0 172.1 212.8M187.9 234.5C171.7 230.7 155.7 219.7 141.9 205.0M187.9 234.5C180.3 236.0 171.4 234.5 162.7 230.9M187.9 234.5C182.6 230.7 178.4 224.4 175.5 216.9M187.9 234.5C174.8 234.6 160.6 229.1 147.3 220.3M187.9 234.5C174.3 231.4 160.8 222.2 149.2 209.8M187.9 234.5C181.2 235.5 173.6 233.8 166.1 230.4M187.9 234.5C173.5 233.0 158.4 225.3 144.9 214.1M187.9 234.5C176.9 228.7 167.3 217.6 160.1 204.3M187.9 234.5C177.3 227.6 168.8 215.5 162.8 201.3M187.9 234.5C177.0 235.1 164.9 231.1 153.5 224.3M187.9 234.5C180.5 233.2 173.0 228.7 166.4 222.5M187.9 234.5C174.2 226.5 162.7 212.0 154.3 194.7M187.9 234.5C179.2 229.8 171.7 221.0 166.0 210.3M187.9 234.5C176.4 234.9 163.7 230.4 151.9 223.0M187.9 234.5C175.2 228.5 163.9 216.6 155.1 202.0M187.9 234.5C176.2 236.8 162.4 234.3 149.1 228.7M187.9 234.5C178.3 236.7 166.9 235.1 155.7 230.9M187.9 234.5C179.1 232.1 170.4 225.8 163.1 217.4M187.9 234.5C178.9 234.7 169.1 231.1 159.9 225.2M187.9 234.5C175.8 226.4 166.1 212.4 159.4 196.1M187.9 234.5C178.4 226.7 171.3 214.1 167.0 199.7M187.9 234.5C172.3 228.0 158.0 214.4 146.6 197.3M187.9 234.5C181.1 232.2 174.6 226.7 169.4 219.7M187.9 234.5C180.1 225.8 175.2 212.9 173.2 198.8M187.9 234.5C175.1 225.7 164.8 210.6 157.9 192.9M187.9 234.5C181.1 231.5 175.0 225.2 170.2 217.6M187.9 234.5C178.4 229.9 170.0 220.8 163.6 209.8M187.9 234.5C179.2 227.2 172.7 215.5 168.9 202.2M187.9 234.5C182.3 227.9 179.0 218.2 177.9 207.8M187.9 234.5C176.8 226.9 168.0 213.9 162.0 198.7M187.9 234.5C174.0 230.0 160.9 219.1 149.9 205.2M156.9 245.9C142.4 240.8 128.7 229.1 117.4 214.1M156.9 245.9C146.6 235.4 139.8 219.6 136.5 202.0M156.9 245.9C145.4 239.9 135.4 228.4 127.9 214.5M156.9 245.9C144.5 241.0 133.0 230.4 123.8 217.1M156.9 245.9C146.7 242.1 137.1 233.7 129.3 222.9M156.9 245.9C150.4 240.1 145.8 231.0 143.2 220.7M156.9 245.9C150.9 238.6 147.5 228.0 146.4 216.6M156.9 245.9C149.4 242.4 142.6 235.4 137.3 226.7M156.9 245.9C152.4 243.0 148.7 238.0 146.1 232.1M156.9 245.9C145.7 238.4 136.6 225.5 130.3 210.3M156.9 245.9C152.4 239.3 150.4 230.2 150.3 220.6M156.9 245.9C151.5 237.3 149.2 225.5 149.6 213.1M156.9 245.9C151.5 239.7 148.3 230.8 147.1 220.9M156.9 245.9C146.9 241.2 137.9 231.9 130.9 220.3M156.9 245.9C152.8 236.1 152.4 223.8 154.8 211.1M156.9 245.9C148.8 235.0 144.6 219.6 143.9 203.1M156.9 245.9C149.5 240.4 143.8 231.3 140.0 220.8M156.9 245.9C143.8 243.6 130.5 235.5 118.8 224.3M156.9 245.9C146.6 236.6 139.3 222.1 135.2 205.8M156.9 245.9C147.5 243.4 138.2 236.6 130.4 227.6M156.9 245.9C146.1 239.0 137.3 226.9 131.0 212.6M156.9 245.9C148.6 236.2 143.7 222.1 141.9 206.7M156.9 245.9C151.5 240.5 148.0 232.2 146.2 223.1M156.9 245.9C144.7 239.7 134.1 227.7 126.0 213.2M156.9 245.9C147.7 241.5 139.5 232.7 133.2 222.0M156.9 245.9C148.7 241.9 141.4 234.0 135.8 224.4M156.9 245.9C150.9 241.5 146.3 234.2 143.2 225.8M156.9 245.9C144.3 238.9 133.4 226.0 125.4 210.4M156.9 245.9C144.1 234.6 134.9 216.8 129.6 196.7M156.9 245.9C149.4 241.6 143.0 233.6 138.3 224.1M156.9 245.9C149.2 244.1 141.6 238.9 135.0 231.8M156.9 245.9C149.3 238.7 144.1 227.6 141.4 215.2M156.9 245.9C146.3 234.7 139.5 218.0 136.3 199.4M156.9 245.9C147.1 234.1 141.4 217.2 139.4 198.6M156.9 245.9C146.6 245.1 135.8 239.8 126.0 232.0M156.9 245.9C145.3 237.7 136.2 223.9 130.0 207.9M156.9 245.9C150.1 236.1 146.9 222.6 146.7 208.2M156.9 245.9C147.7 245.2 137.9 240.6 129.1 233.7M156.9 245.9C149.4 237.4 144.9 224.9 143.1 211.3M156.9 245.9C153.3 241.1 151.5 234.4 151.1 227.2M156.9 245.9C151.1 235.7 149.1 222.2 150.2 208.0M156.9 245.9C144.4 237.4 134.3 222.9 127.3 205.9M156.9 245.9C150.7 240.7 146.1 232.4 143.3 223.0M156.9 245.9C145.6 244.6 133.9 238.5 123.4 229.6M156.9 245.9C145.8 236.0 138.0 220.6 133.5 203.1M156.9 245.9C149.4 236.5 145.1 222.9 143.9 208.3M156.9 245.9C150.1 242.7 144.0 236.4 139.3 228.6M156.9 245.9C147.8 235.8 142.1 221.0 139.7 204.7M156.9 245.9C145.5 233.9 138.2 216.1 134.7 196.3M156.9 245.9C151.3 241.0 147.3 233.3 144.9 224.6M156.9 245.9C152.1 241.7 148.7 235.1 146.7 227.6M156.9 245.9C147.5 237.7 140.7 224.8 136.8 210.2M156.9 245.9C146.7 237.9 138.9 224.8 134.0 209.7M156.9 245.9C142.4 237.1 130.4 221.4 121.7 202.8M156.9 245.9C148.0 234.8 143.0 218.8 141.5 201.6M156.9 245.9C147.1 236.0 140.6 221.1 137.4 204.5M156.9 245.9C147.2 239.9 139.2 229.3 133.5 216.7M156.9 245.9C148.6 243.4 140.7 237.3 134.0 229.2M156.9 245.9C143.4 241.7 130.4 231.4 119.5 217.9M156.9 245.9C153.7 239.1 153.0 230.3 154.3 221.2M156.9 245.9C152.1 237.7 150.4 226.6 151.2 215.1M156.9 245.9C147.2 238.6 139.8 226.4 135.0 212.5M156.9 245.9C150.8 235.1 148.7 220.7 149.8 205.7M156.9 245.9C147.4 242.7 138.5 235.2 131.1 225.5M156.9 245.9C146.0 242.0 135.7 233.1 127.3 221.7M156.9 245.9C145.1 241.2 134.2 231.1 125.5 218.3M156.9 245.9C144.7 240.3 133.9 229.1 125.4 215.2M156.9 245.9C145.3 242.8 133.9 234.6 124.2 223.6M156.9 245.9C142.2 239.0 129.0 225.3 118.8 208.3M156.9 245.9C150.8 237.3 147.8 225.3 147.5 212.5M156.9 245.9C152.1 235.3 151.4 221.8 153.7 207.9M156.9 245.9C150.7 244.3 144.7 240.0 139.5 234.3M156.9 245.9C150.8 243.4 145.2 238.2 140.7 231.6M156.9 245.9C148.2 237.5 142.4 224.7 139.3 210.4M156.9 245.9C147.7 240.6 139.8 230.9 134.1 219.2M156.9 245.9C148.0 236.8 142.2 223.1 139.3 207.9M121.7 251.5C119.9 244.7 120.9 236.6 123.7 228.6M121.7 251.5C115.7 245.3 111.8 236.0 109.9 225.8M121.7 251.5C114.6 246.6 109.0 238.2 105.3 228.4M121.7 251.5C115.7 239.7 114.3 224.3 116.2 208.3M121.7 251.5C116.3 244.2 113.6 233.9 113.1 222.9M121.7 251.5C111.5 239.3 105.6 221.6 103.6 202.4M121.7 251.5C117.7 246.9 115.3 240.3 114.4 233.0M121.7 251.5C111.6 244.3 103.7 232.1 98.4 218.0M121.7 251.5C119.4 245.6 119.3 238.3 121.0 230.8M121.7 251.5C115.1 244.9 110.7 234.9 108.4 223.8M121.7 251.5C111.6 246.9 102.6 237.5 95.5 226.0M121.7 251.5C112.6 247.2 104.5 238.7 98.2 228.3M121.7 251.5C113.6 238.0 110.4 219.8 111.3 200.7M121.7 251.5C118.5 243.1 118.6 232.5 121.1 221.8M121.7 251.5C112.9 244.6 106.3 233.3 102.1 220.4M121.7 251.5C114.1 238.6 111.2 221.4 112.2 203.2M121.7 251.5C112.6 241.0 107.2 225.8 105.1 209.0M121.7 251.5C118.5 239.9 119.9 225.8 124.5 211.8M121.7 251.5C115.4 242.1 112.5 229.2 112.5 215.5M121.7 251.5C114.2 241.2 110.4 226.7 109.8 211.2M121.7 251.5C113.3 242.2 108.0 228.5 105.8 213.4M121.7 251.5C116.8 247.4 113.1 240.9 110.9 233.4M121.7 251.5C117.9 244.1 116.9 234.5 118.1 224.5M121.7 251.5C111.6 237.4 106.7 217.8 106.0 196.7M121.7 251.5C117.0 244.5 114.8 234.9 114.7 224.6M121.7 251.5C115.8 240.8 114.0 226.6 115.3 211.8M121.7 251.5C119.1 237.9 122.0 222.0 128.5 206.6M121.7 251.5C114.9 242.6 111.3 230.0 110.5 216.4M121.7 251.5C110.8 242.3 102.9 227.6 98.1 210.9M121.7 251.5C120.3 243.7 122.1 234.7 125.9 225.9M121.7 251.5C111.7 242.3 104.7 228.0 100.9 211.9M121.7 251.5C111.1 237.2 105.5 217.1 104.4 195.4M121.7 251.5C116.0 242.2 113.8 229.7 114.4 216.5M121.7 251.5C114.6 244.1 110.1 233.0 108.0 220.7M121.7 251.5C119.7 240.6 122.1 227.9 127.5 215.6M121.7 251.5C117.0 237.5 117.9 220.2 122.7 202.8M121.7 251.5C116.0 236.8 116.0 218.4 120.1 199.7M121.7 251.5C116.3 245.0 113.2 235.7 112.2 225.5M121.7 251.5C117.5 236.7 119.2 218.7 125.0 200.8M121.7 251.5C114.4 245.3 109.1 235.4 105.9 224.2M121.7 251.5C115.8 243.0 112.9 231.2 112.7 218.6M121.7 251.5C120.2 239.7 123.7 226.1 130.2 213.2M121.7 251.5C110.9 243.9 102.4 231.1 96.6 216.1M121.7 251.5C117.0 243.5 115.3 232.8 116.0 221.6M121.7 251.5C112.3 244.8 105.0 233.6 100.0 220.6M121.7 251.5C115.0 237.4 113.6 219.1 116.4 200.3M121.7 251.5C110.3 244.3 101.0 231.6 94.4 216.6M121.7 251.5C118.6 240.8 119.7 227.8 123.9 214.8M121.7 251.5C113.8 243.2 108.7 230.8 106.3 217.1M121.7 251.5C109.3 243.4 99.3 229.4 92.3 212.8M121.7 251.5C113.8 243.8 108.5 232.1 105.7 219.1M121.7 251.5C117.1 238.8 117.5 222.9 121.5 206.9M121.7 251.5C114.1 246.5 107.9 237.8 103.5 227.6M121.7 251.5C115.5 236.1 115.3 216.6 119.5 196.8M121.7 251.5C113.6 239.2 109.9 222.4 110.1 204.5M121.7 251.5C119.1 243.0 119.9 232.6 123.1 222.2M121.7 251.5C110.2 242.2 101.6 227.2 96.3 210.0M121.7 251.5C120.6 241.7 123.6 230.5 129.1 219.9M121.7 251.5C119.7 242.7 121.2 232.2 125.2 222.0M121.7 251.5C116.6 240.7 115.6 226.7 117.8 212.4M121.7 251.5C118.9 244.9 118.7 236.5 120.3 227.9M121.7 251.5C114.8 241.7 111.5 228.0 111.1 213.5M121.7 251.5C114.1 241.9 109.9 228.2 108.8 213.3M121.7 251.5C116.4 240.0 115.5 225.2 117.9 210.0M121.7 251.5C112.0 238.3 107.0 219.7 106.2 199.8M121.7 251.5C114.7 247.8 108.5 240.8 103.9 232.4M121.7 251.5C118.7 246.4 117.5 239.6 117.8 232.4M121.7 251.5C110.2 240.7 102.3 224.0 98.0 205.2M121.7 251.5C115.6 238.8 114.3 222.4 116.7 205.5M121.7 251.5C113.6 246.8 106.7 238.2 101.6 228.0M121.7 251.5C111.1 238.2 105.3 219.3 103.6 198.7M89.2 244.0C85.4 236.4 84.5 226.5 85.8 216.2M89.2 244.0C88.2 229.8 93.2 213.8 101.8 198.8M89.2 244.0C84.7 228.4 86.4 209.6 92.3 190.8M89.2 244.0C86.1 236.7 85.7 227.4 87.5 218.0M89.2 244.0C84.0 228.7 84.8 209.7 89.9 190.7M89.2 244.0C86.3 234.4 87.3 222.6 90.9 210.9M89.2 244.0C84.3 234.5 82.9 222.0 84.4 209.1M89.2 244.0C87.5 232.8 90.3 219.8 96.2 207.3M89.2 244.0C86.2 230.4 88.7 214.2 94.9 198.4M89.2 244.0C86.6 237.4 86.6 229.0 88.4 220.6M89.2 244.0C89.4 234.2 93.7 223.6 100.4 213.9M89.2 244.0C82.8 235.5 79.4 223.5 78.6 210.6M89.2 244.0C89.5 230.9 95.4 216.8 104.6 203.8M89.2 244.0C88.4 232.6 92.3 219.8 99.2 207.7M89.2 244.0C90.4 232.3 96.7 220.0 105.9 209.0M89.2 244.0C84.1 231.1 83.9 214.9 87.4 198.5M89.2 244.0C85.4 228.0 88.0 209.0 95.0 190.3M89.2 244.0C82.0 237.5 77.0 227.4 74.1 216.1M89.2 244.0C88.9 233.0 93.3 220.9 100.5 209.7M89.2 244.0C87.5 228.1 92.3 210.1 101.3 192.9M89.2 244.0C83.4 235.3 80.7 223.2 80.7 210.5M89.2 244.0C86.9 233.7 88.8 221.5 93.5 209.5M89.2 244.0C80.6 232.9 76.0 217.1 74.9 200.0M89.2 244.0C82.1 232.9 79.1 217.9 79.5 201.9M89.2 244.0C80.7 228.7 78.0 208.3 79.8 187.1M89.2 244.0C85.5 235.6 85.1 224.9 87.1 213.9M89.2 244.0C89.1 237.1 91.9 229.5 96.5 222.5M89.2 244.0C81.6 228.9 79.7 209.2 82.2 188.7M89.2 244.0C90.2 229.4 97.4 213.9 108.2 199.9M89.2 244.0C86.5 232.9 88.2 219.6 93.0 206.6M89.2 244.0C80.8 235.0 75.4 221.5 73.0 206.7M89.2 244.0C82.8 232.5 80.6 217.2 81.9 201.2M89.2 244.0C87.7 237.0 89.0 228.8 92.2 220.7M89.2 244.0C88.1 237.6 89.7 230.2 93.0 223.0M89.2 244.0C81.7 232.2 78.5 216.2 78.8 199.2M89.2 244.0C83.3 229.3 83.0 210.8 86.9 191.9M89.2 244.0C84.9 226.7 87.5 206.0 94.9 185.7M89.2 244.0C86.2 238.3 85.3 230.8 86.0 223.0M89.2 244.0C87.0 231.4 90.0 216.6 96.4 202.4M89.2 244.0C88.9 233.7 93.0 222.4 99.7 211.8M89.2 244.0C80.0 235.1 73.8 221.5 70.6 206.3M89.2 244.0C81.1 229.5 78.4 210.3 80.0 190.2M89.2 244.0C84.7 230.2 85.6 213.3 90.4 196.3M89.2 244.0C80.5 232.1 76.1 215.4 75.5 197.4M89.2 244.0C81.3 232.9 77.3 217.5 76.8 201.0M89.2 244.0C89.9 230.4 96.5 215.8 106.4 202.5M89.2 244.0C83.6 230.5 83.2 213.4 86.7 196.0M89.2 244.0C81.5 227.9 79.9 207.0 83.1 185.4M89.2 244.0C84.3 236.4 82.1 226.1 82.2 215.1M89.2 244.0C88.3 235.9 90.8 226.6 95.4 217.8M89.2 244.0C84.6 233.2 84.2 219.5 86.9 205.5M89.2 244.0C87.8 233.4 90.8 221.2 96.6 209.5M89.2 244.0C83.7 236.8 80.7 226.7 79.9 215.7M89.2 244.0C80.6 236.0 74.5 223.6 71.2 209.7M89.2 244.0C91.0 233.4 97.5 222.6 106.5 213.2M89.2 244.0C85.4 233.2 85.8 219.9 89.2 206.4M89.2 244.0C86.9 227.0 91.7 207.4 101.0 188.7M89.2 244.0C91.1 232.4 98.0 220.5 107.8 210.0M89.2 244.0C86.3 231.5 88.4 216.5 93.9 201.9M89.2 244.0C83.5 236.2 80.6 225.2 80.1 213.4M89.2 244.0C82.1 233.6 78.9 219.2 78.8 204.0M89.2 244.0C81.9 231.5 79.2 214.8 80.3 197.3M89.2 244.0C83.7 228.0 84.5 208.1 89.8 188.2M89.2 244.0C81.4 235.3 76.7 222.6 74.7 208.5M89.2 244.0C90.1 234.2 95.3 223.9 102.8 214.6M89.2 244.0C82.7 236.1 78.9 224.7 77.7 212.4M89.2 244.0C85.2 232.3 85.9 218.0 89.8 203.5M89.2 244.0C84.0 229.9 84.4 212.3 88.7 194.5M89.2 244.0C83.1 231.7 81.6 215.7 83.7 199.1"/>
<path fill="none" stroke="#c1b0c5" stroke-width="0.5" stroke-opacity="0.1" d="M153.5 226.4C142.0 220.3 131.0 211.5 122.6 201.5M162.4 204.6C156.0 191.6 152.0 176.4 151.0 161.9M146.7 216.0C133.6 205.6 121.9 191.8 113.7 177.2M160.8 213.4C153.1 203.4 146.9 191.2 143.5 179.0M153.4 207.0C143.5 194.0 135.8 178.2 131.6 162.4M146.5 226.2C132.4 219.5 118.9 209.4 108.5 197.8M154.2 222.2C143.3 214.7 133.2 204.5 125.9 193.4M155.5 224.1C144.9 217.5 135.0 208.2 127.7 197.9M172.8 209.8C169.6 199.6 168.4 188.0 169.3 177.4M170.6 196.6C167.9 181.4 168.2 164.8 171.5 149.8M150.2 213.6C138.6 202.7 128.6 188.7 122.1 174.2M148.6 215.0C136.3 204.4 125.5 190.6 118.2 176.2M158.2 223.7C148.6 217.1 139.8 208.2 133.3 198.4M165.1 225.7C157.7 220.4 151.0 213.3 146.2 205.7M162.4 207.0C155.8 194.9 151.3 180.6 149.8 166.8M164.5 206.3C158.7 194.0 155.2 179.8 154.5 166.3M175.8 213.5C173.3 204.9 172.5 195.2 173.6 186.3M167.4 212.6C162.0 202.8 158.4 191.4 157.1 180.4M151.6 209.1C140.9 196.7 132.2 181.3 127.0 165.8M168.4 197.7C164.8 182.7 164.1 166.1 166.5 150.8M165.0 203.4C159.7 190.2 156.7 175.0 156.8 160.8M176.2 221.1C173.3 215.2 171.4 208.4 170.8 201.8M173.0 202.3C170.5 189.4 170.7 175.3 173.3 162.4M169.3 228.7C163.1 224.9 157.4 219.7 153.1 213.8M152.4 219.6C141.0 211.0 130.8 199.6 123.6 187.3M162.7 214.5C155.5 205.0 149.8 193.5 146.7 182.0M161.0 226.9C152.1 221.7 143.7 214.3 137.4 206.1M176.8 204.5C175.6 192.8 176.8 180.1 180.1 168.8M140.9 217.6C125.6 207.3 111.5 193.1 101.3 177.7M169.8 204.9C166.0 192.6 164.5 178.8 165.7 166.0M158.2 217.8C149.1 209.1 141.3 198.0 136.2 186.5M156.3 218.7C146.4 210.1 137.7 199.0 131.9 187.3M168.3 209.0C163.6 198.1 160.9 185.5 160.7 173.6M146.4 208.9C133.9 195.9 123.4 179.5 116.7 162.8M164.5 211.9C158.2 201.7 153.6 189.5 151.7 177.6M174.3 211.8C171.5 202.4 170.5 191.8 171.5 182.1M164.3 219.5C157.3 212.0 151.3 202.5 147.7 192.9M172.5 222.6C168.0 216.9 164.5 209.9 162.6 203.0M172.1 212.8C168.5 203.6 166.5 193.0 166.6 183.1M162.7 230.9C153.9 227.4 145.4 221.8 138.7 215.1M175.5 216.9C172.7 209.5 171.3 201.1 171.5 193.1M147.3 220.3C134.1 211.5 121.9 199.4 113.0 186.2M149.2 209.8C137.5 197.4 127.8 181.9 121.8 166.0M166.1 230.4C158.7 226.9 151.6 221.7 146.0 215.7M144.9 214.1C131.4 202.8 119.4 188.1 111.1 172.5M160.1 204.3C152.9 190.9 148.0 175.2 146.4 160.1M162.8 201.3C156.8 187.2 153.5 170.9 153.3 155.5M153.5 224.3C142.2 217.5 131.5 207.9 123.6 197.3M166.4 222.5C159.7 216.2 154.0 208.2 150.3 199.9M166.0 210.3C160.4 199.6 156.7 187.2 155.6 175.2M151.9 223.0C140.1 215.7 129.0 205.3 120.9 194.0M155.1 202.0C146.4 187.3 140.2 170.0 137.6 153.1M149.1 228.7C135.7 223.0 122.7 214.3 112.5 204.0M155.7 230.9C144.5 226.7 133.5 219.9 124.8 211.7M163.1 217.4C155.8 209.0 149.8 198.6 146.3 188.1M159.9 225.2C150.7 219.4 142.2 211.2 136.0 202.3M159.4 196.1C152.7 179.8 149.1 161.0 149.1 143.4M167.0 199.7C162.7 185.3 161.1 169.2 162.6 154.3M169.4 219.7C164.1 212.8 159.9 204.3 157.7 195.8M173.2 198.8C171.3 184.7 172.1 169.3 175.6 155.4M157.9 192.9C150.9 175.3 147.2 155.2 147.4 136.2M170.2 217.6C165.4 209.9 161.9 200.7 160.4 191.8M163.6 209.8C157.1 198.7 152.6 185.6 150.9 172.9M168.9 202.2C165.0 188.9 163.7 174.0 165.2 160.2M177.9 207.8C176.8 197.3 177.7 185.9 180.7 175.8M162.0 198.7C156.0 183.5 152.8 166.1 153.0 149.8M149.9 205.2C139.0 191.2 130.3 174.2 125.5 157.1M117.4 214.1C106.2 199.1 97.4 180.9 92.7 162.8M136.5 202.0C133.2 184.4 133.4 165.0 137.0 147.5M127.9 214.5C120.3 200.6 115.2 184.3 113.6 168.6M123.8 217.1C114.6 203.7 107.6 187.6 104.1 171.8M129.3 222.9C121.5 212.2 115.5 199.2 112.3 186.3M143.2 220.7C140.5 210.5 139.9 199.1 141.4 188.6M146.4 216.6C145.3 205.1 146.5 192.8 149.8 181.7M137.3 226.7C132.1 218.1 128.3 207.8 126.7 197.9M146.1 232.1C143.5 226.1 142.0 219.3 141.9 212.8M130.3 210.3C124.0 195.2 120.4 177.8 120.4 161.4M150.3 220.6C150.2 210.9 152.2 200.6 155.8 191.7M149.6 213.1C150.0 200.7 153.0 187.7 158.1 176.3M147.1 220.9C145.8 211.1 146.6 200.4 149.2 190.8M130.9 220.3C123.9 208.8 119.0 195.2 116.9 181.9M154.8 211.1C157.2 198.4 162.4 185.5 169.5 174.7M143.9 203.1C143.1 186.5 145.8 168.8 151.3 153.3M140.0 220.8C136.3 210.2 134.5 198.2 135.0 187.1M118.8 224.3C107.2 213.1 97.2 198.8 90.7 184.0M135.2 205.8C131.1 189.4 130.2 171.3 132.6 154.6M130.4 227.6C122.6 218.6 116.2 207.5 112.4 196.2M131.0 212.6C124.8 198.3 121.2 181.8 120.9 166.2M141.9 206.7C140.1 191.4 141.4 174.7 145.6 159.7M146.2 223.1C144.5 213.9 144.6 203.9 146.4 194.8M126.0 213.2C118.0 198.6 112.5 181.5 110.5 165.0M133.2 222.0C126.9 211.3 122.4 198.6 120.6 186.3M135.8 224.4C130.2 214.8 126.2 203.4 124.7 192.4M143.2 225.8C140.2 217.4 138.7 207.8 139.1 198.8M125.4 210.4C117.3 194.8 112.1 176.6 110.6 159.1M138.3 224.1C133.6 214.7 130.6 203.6 129.9 193.0M135.0 231.8C128.4 224.8 123.0 216.0 119.6 207.0M141.4 215.2C138.6 202.8 138.3 189.1 140.4 176.6M136.3 199.4C133.2 180.9 133.7 160.6 137.9 142.3M139.4 198.6C137.4 180.1 139.2 160.1 144.5 142.2M126.0 232.0C116.1 224.2 107.4 213.9 101.3 202.9M130.0 207.9C123.8 191.8 120.7 173.5 121.1 156.3M146.7 208.2C146.4 193.8 149.2 178.4 154.5 165.0M129.1 233.7C120.2 226.7 112.3 217.6 106.8 207.8M143.1 211.3C141.3 197.6 142.3 182.8 145.9 169.5M151.1 227.2C150.7 220.0 151.8 212.3 154.2 205.4M150.2 208.0C151.2 193.9 155.3 179.1 161.7 166.3M127.3 205.9C120.4 188.9 116.6 169.4 116.6 151.0M143.3 223.0C140.5 213.6 139.5 203.0 140.5 193.2M123.4 229.6C112.9 220.7 103.6 209.0 97.3 196.8M133.5 203.1C129.0 185.7 127.9 166.2 130.4 148.4M143.9 208.3C142.7 193.6 144.5 177.8 148.9 163.8M139.3 228.6C134.5 220.8 131.1 211.6 129.7 202.5M139.7 204.7C137.3 188.3 138.1 170.5 142.1 154.5M134.7 196.3C131.3 176.5 131.8 154.8 136.2 135.2M144.9 224.6C142.5 215.9 141.9 206.2 143.0 197.2M146.7 227.6C144.7 220.1 144.2 211.8 145.2 204.1M136.8 210.2C132.8 195.6 131.7 179.3 133.6 164.3M134.0 209.7C129.1 194.7 127.0 177.7 128.2 161.9M141.5 201.6C140.1 184.3 142.1 165.7 147.4 149.1M137.4 204.5C134.1 187.9 134.2 169.7 137.5 153.1M133.5 216.7C127.7 204.2 124.3 189.6 123.8 175.8M134.0 229.2C127.3 221.1 122.0 211.2 118.8 201.2M119.5 217.9C108.7 204.5 100.0 188.0 95.1 171.5M154.3 221.2C155.6 212.1 159.0 202.8 163.6 194.9M151.2 215.1C151.9 203.5 155.2 191.4 160.3 181.1M135.0 212.5C130.2 198.5 128.0 182.7 128.9 168.0M149.8 205.7C151.0 190.6 155.3 174.9 162.1 161.4M131.1 225.5C123.7 215.9 117.9 204.1 114.7 192.3M127.3 221.7C118.9 210.4 112.4 196.6 108.9 182.9M125.5 218.3C116.8 205.6 110.2 190.2 106.9 175.1M125.4 215.2C116.8 201.3 110.7 184.8 108.2 168.8M124.2 223.6C114.5 212.7 106.6 199.0 101.8 185.2M147.5 212.5C147.2 199.6 149.6 186.0 154.2 174.0M153.7 207.9C156.0 194.0 161.4 179.7 168.9 167.7M139.5 234.3C134.4 228.5 130.1 221.4 127.5 214.1M140.7 231.6C136.3 225.0 132.9 217.0 131.3 209.2M139.3 210.4C136.2 196.0 136.0 180.2 138.6 165.8M134.1 219.2C128.4 207.6 124.7 194.1 123.9 181.1M139.3 207.9C136.5 192.7 136.7 176.0 139.8 160.9M123.7 228.6C126.5 220.6 131.2 212.7 136.8 206.3M109.9 225.8C108.1 215.5 108.3 204.2 110.5 193.9M105.3 228.4C101.5 218.7 99.5 207.5 99.7 197.0M116.2 208.3C118.2 192.4 123.7 175.9 131.6 161.9M113.1 222.9C112.6 211.8 114.4 200.0 118.2 189.6M103.6 202.4C101.6 183.2 103.5 162.4 109.0 143.9M114.4 233.0C113.4 225.7 113.9 217.8 115.8 210.7M98.4 218.0C93.1 203.9 90.4 187.8 90.9 172.7M121.0 230.8C122.6 223.3 125.9 215.7 130.2 209.4M108.4 223.8C106.2 212.7 106.2 200.5 108.4 189.3M95.5 226.0C88.4 214.5 83.4 200.8 81.2 187.5M98.2 228.3C91.9 217.8 87.4 205.4 85.6 193.4M111.3 200.7C112.2 181.5 117.2 161.4 125.3 144.1M121.1 221.8C123.5 211.1 128.4 200.3 134.8 191.3M102.1 220.4C98.0 207.5 96.2 193.0 97.3 179.4M112.2 203.2C113.2 185.1 118.0 166.0 125.9 149.6M105.1 209.0C103.0 192.3 104.3 174.2 108.7 157.9M124.5 211.8C129.1 197.9 136.9 184.1 146.4 172.9M112.5 215.5C112.5 201.7 115.4 187.2 120.7 174.5M109.8 211.2C109.2 195.7 111.9 179.1 117.2 164.5M105.8 213.4C103.6 198.4 104.4 181.9 108.1 167.1M110.9 233.4C108.7 226.0 107.9 217.6 108.6 209.8M118.1 224.5C119.2 214.5 122.5 204.2 127.4 195.4M114.7 224.6C114.6 214.4 116.7 203.5 120.6 194.0M115.3 211.8C116.6 197.0 121.1 181.6 128.0 168.4M128.5 206.6C135.1 191.1 145.3 176.1 157.2 164.3M110.5 216.4C109.8 202.8 111.8 188.2 116.2 175.3M98.1 210.9C93.4 194.2 91.9 175.6 93.8 158.3M125.9 225.9C129.8 217.2 135.7 208.7 142.6 202.0M100.9 211.9C97.0 195.8 96.3 177.9 98.9 161.6M114.4 216.5C114.9 203.4 118.3 189.5 123.8 177.5M108.0 220.7C105.9 208.5 106.2 195.0 109.0 182.9M127.5 215.6C132.8 203.2 141.1 191.2 150.7 181.8M122.7 202.8C127.5 185.5 136.2 168.1 147.3 153.9M120.1 199.7C124.3 181.0 132.6 162.1 143.6 146.4M112.2 225.5C111.1 215.3 112.2 204.2 115.1 194.4M125.0 200.8C130.7 183.0 140.6 165.3 152.7 151.0M105.9 224.2C102.7 213.0 101.7 200.5 103.0 188.9M112.7 218.6C112.4 206.0 114.8 192.6 119.4 180.9M130.2 213.2C136.8 200.2 146.4 187.9 157.4 178.4M96.6 216.1C90.8 201.1 87.9 184.1 88.2 168.0M116.0 221.6C116.7 210.3 119.8 198.6 124.8 188.4M100.0 220.6C95.1 207.5 92.6 192.6 93.0 178.7M116.4 200.3C119.1 181.5 126.0 162.1 135.7 145.7M94.4 216.6C87.7 201.7 83.9 184.4 83.4 168.1M123.9 214.8C128.0 201.9 135.0 189.1 143.8 178.7M106.3 217.1C103.9 203.3 104.2 188.3 107.3 174.7M92.3 212.8C85.2 196.3 81.3 177.3 81.1 159.3M105.7 219.1C103.0 206.0 102.8 191.6 105.2 178.4M121.5 206.9C125.5 190.9 133.0 174.8 142.8 161.6M103.5 227.6C99.2 217.4 96.8 205.7 96.6 194.6M119.5 196.8C123.7 177.0 132.3 156.9 143.7 140.2M110.1 204.5C110.2 186.6 114.0 167.7 120.9 151.1M123.1 222.2C126.3 211.9 131.8 201.6 138.7 193.2M129.1 219.9C134.7 209.3 142.8 199.2 152.0 191.4M125.2 222.0C129.1 211.7 135.4 201.7 142.9 193.7M117.8 212.4C119.9 198.0 125.2 183.2 132.7 170.7M120.3 227.9C122.0 219.3 125.6 210.5 130.4 203.2M111.1 213.5C110.8 198.9 113.5 183.3 118.8 169.7M108.8 213.3C107.7 198.4 109.6 182.5 114.2 168.3M117.9 210.0C120.4 194.8 126.2 179.2 134.2 166.0M106.2 199.8C105.3 179.8 108.6 158.5 115.4 139.7M103.9 232.4C99.3 223.9 96.2 214.0 95.1 204.4M117.8 232.4C118.2 225.2 120.1 217.7 123.1 211.2M116.7 205.5C119.1 188.5 125.3 171.1 133.9 156.3M101.6 228.0C96.6 217.7 93.4 205.8 92.6 194.4M85.8 216.2C87.2 206.0 90.7 195.4 95.9 186.4M101.8 198.8C110.4 183.7 122.7 169.6 136.4 159.0M92.3 190.8C98.3 172.0 108.6 153.4 121.2 138.3M87.5 218.0C89.2 208.5 93.0 198.8 98.3 190.7M89.9 190.7C95.1 171.7 104.5 152.6 116.4 137.0M90.9 210.9C94.5 199.3 100.8 187.6 108.6 178.2M84.4 209.1C85.8 196.2 90.1 182.8 96.3 171.3M96.2 207.3C102.1 194.7 110.9 182.7 121.1 173.3M94.9 198.4C101.0 182.5 110.9 167.1 122.7 154.8M88.4 220.6C90.3 212.2 94.0 203.6 99.0 196.5M100.4 213.9C107.2 204.1 116.4 195.2 126.4 188.7M78.6 210.6C77.9 197.7 79.8 183.8 84.0 171.6M104.6 203.8C113.8 190.9 126.3 179.0 139.7 170.5M99.2 207.7C106.1 195.6 115.9 184.3 126.9 175.7M105.9 209.0C115.0 198.0 127.0 188.3 139.7 181.6M87.4 198.5C91.0 182.0 98.1 165.3 107.6 151.4M95.0 190.3C101.9 171.6 113.2 153.3 126.8 138.6M74.1 216.1C71.3 204.7 70.6 192.0 72.3 180.4M100.5 209.7C107.7 198.4 117.7 188.0 128.6 180.3M101.3 192.9C110.3 175.7 123.5 159.3 138.4 146.8M80.7 210.5C80.8 197.7 83.5 184.2 88.4 172.4M93.5 209.5C98.1 197.5 105.6 185.8 114.4 176.5M79.5 201.9C79.8 185.9 83.5 169.1 89.9 154.5M87.1 213.9C89.0 202.9 93.4 191.7 99.4 182.2M96.5 222.5C101.0 215.4 107.3 208.9 114.2 204.1M108.2 199.9C119.1 185.8 133.5 173.1 148.9 164.2M93.0 206.6C97.8 193.5 105.6 180.7 114.9 170.4M73.0 206.7C70.6 191.9 71.1 175.6 74.5 161.0M81.9 201.2C83.2 185.2 87.9 168.5 95.2 154.2M92.2 220.7C95.4 212.7 100.5 204.8 106.5 198.6M93.0 223.0C96.2 215.9 101.2 209.0 106.9 203.6M78.8 199.2C79.2 182.2 83.2 164.2 90.0 148.6M86.9 191.9C90.9 173.0 99.0 153.8 109.8 137.9M94.9 185.7C102.3 165.3 114.3 145.3 128.9 129.2M86.0 223.0C86.8 215.2 89.3 207.1 92.9 200.2M96.4 202.4C102.7 188.1 112.4 174.4 123.7 163.6M99.7 211.8C106.4 201.3 115.7 191.5 125.8 184.3M70.6 206.3C67.4 191.1 67.2 174.3 70.0 159.0M90.4 196.3C95.2 179.4 103.8 162.4 114.6 148.5M76.8 201.0C76.2 184.4 79.1 166.8 84.9 151.3M106.4 202.5C116.4 189.2 129.7 177.1 144.0 168.6M86.7 196.0C90.2 178.6 97.6 160.8 107.4 146.1M82.2 215.1C82.4 204.2 84.8 192.6 89.1 182.5M95.4 217.8C100.0 208.9 106.8 200.5 114.4 194.1M86.9 205.5C89.6 191.5 95.4 177.2 103.2 165.3M96.6 209.5C102.4 197.8 111.0 186.7 120.8 178.1M79.9 215.7C79.2 204.7 80.7 192.9 84.2 182.4M71.2 209.7C67.9 195.8 67.3 180.3 69.5 166.2M106.5 213.2C115.6 203.7 127.1 195.6 139.0 190.3M89.2 206.4C92.6 193.0 99.0 179.4 107.3 168.3M101.0 188.7C110.2 169.9 124.0 152.0 139.6 138.2M107.8 210.0C117.5 199.5 130.0 190.4 143.1 184.4M93.9 201.9C99.4 187.2 108.4 172.8 119.0 161.4M80.1 213.4C79.6 201.6 81.5 189.0 85.6 178.0M78.8 204.0C78.7 188.7 81.8 172.4 87.6 158.3M80.3 197.3C81.3 179.7 86.1 161.4 93.7 145.5M89.8 188.2C95.0 168.3 104.8 148.2 117.3 131.8M74.7 208.5C72.8 194.5 73.6 179.3 77.2 165.5M102.8 214.6C110.3 205.4 120.3 197.1 130.8 191.4M77.7 212.4C76.4 200.0 77.7 186.6 81.2 174.7M89.8 203.5C93.6 189.0 100.8 174.5 109.9 162.7M88.7 194.5C93.0 176.8 101.3 158.9 112.0 144.1M83.7 199.1C85.8 182.5 91.5 165.4 99.8 150.8"/>
<path fill="none" stroke="#c3b9c7" stroke-width="0.5" stroke-opacity="0.075" d="M122.6 201.5C114.2 191.5 108.4 180.4 107.3 169.7M151.0 161.9C150.1 147.4 152.2 133.6 158.2 123.3M113.7 177.2C105.6 162.6 101.0 147.2 102.1 133.5M143.5 179.0C140.2 166.7 139.6 154.6 142.8 144.7M131.6 162.4C127.4 146.6 126.8 130.9 131.2 118.3M108.5 197.8C98.0 186.2 90.7 173.2 88.8 160.5M125.9 193.4C118.7 182.3 114.2 170.4 114.3 159.5M127.7 197.9C120.4 187.7 115.6 176.6 115.3 166.3M169.3 177.4C170.3 166.7 173.4 156.9 178.9 150.0M171.5 149.8C174.7 134.7 180.9 121.2 190.0 112.5M122.1 174.2C115.5 159.7 112.4 144.7 114.5 131.7M118.2 176.2C110.8 161.7 106.9 146.6 108.5 133.4M133.3 198.4C126.9 188.7 122.9 178.2 123.0 168.6M146.2 205.7C141.4 198.0 138.5 189.8 138.7 182.4M149.8 166.8C148.3 153.0 149.8 139.8 155.0 129.7M154.5 166.3C153.8 152.8 155.9 140.0 161.6 130.4M173.6 186.3C174.6 177.4 177.4 169.3 182.2 163.7M157.1 180.4C155.8 169.3 157.0 158.7 161.2 150.6M127.0 165.8C121.9 150.2 120.3 134.5 123.9 121.6M166.5 150.8C168.8 135.6 174.2 121.8 182.8 112.5M156.8 160.8C156.9 146.5 159.9 133.1 166.5 123.4M170.8 201.8C170.3 195.3 171.2 189.0 173.9 184.3M173.3 162.4C176.0 149.6 181.2 138.1 188.9 130.6M153.1 213.8C148.9 208.0 146.1 201.6 145.9 195.7M123.6 187.3C116.3 175.1 112.1 162.0 112.7 150.4M146.7 182.0C143.7 170.5 143.2 159.0 146.4 149.8M137.4 206.1C131.1 197.9 126.9 188.9 126.3 180.4M180.1 168.8C183.4 157.4 188.9 147.5 196.4 141.3M101.3 177.7C91.1 162.4 84.7 145.8 84.8 130.6M165.7 166.0C166.9 153.3 170.6 141.5 177.3 133.3M136.2 186.5C131.1 175.0 128.7 163.1 130.5 152.9M131.9 187.3C126.0 175.7 122.9 163.5 124.2 152.8M160.7 173.6C160.5 161.7 162.9 150.5 168.2 142.3M116.7 162.8C110.1 146.1 107.3 128.9 110.5 114.5M151.7 177.6C149.7 165.7 150.3 154.2 154.4 145.2M171.5 182.1C172.5 172.3 175.4 163.4 180.6 157.2M147.7 192.9C144.0 183.3 142.5 173.4 144.4 165.2M162.6 203.0C160.6 196.0 160.3 189.1 162.1 183.5M166.6 183.1C166.8 173.2 168.9 163.9 173.6 157.2M138.7 215.1C132.0 208.5 127.1 200.9 125.6 193.3M171.5 193.1C171.7 185.2 173.5 177.8 177.3 172.5M113.0 186.2C104.1 173.1 98.5 158.8 98.5 145.8M121.8 166.0C115.7 150.2 113.4 134.0 116.5 120.4M146.0 215.7C140.5 209.6 136.5 202.8 135.5 196.2M111.1 172.5C102.9 157.0 98.4 140.6 99.9 126.2M146.4 160.1C144.9 145.0 146.5 130.5 152.4 119.4M153.3 155.5C153.2 140.1 156.3 125.7 163.3 115.1M123.6 197.3C115.7 186.6 110.4 175.0 109.9 164.1M150.3 199.9C146.6 191.5 144.8 182.9 146.1 175.6M155.6 175.2C154.4 163.2 155.8 151.7 160.6 142.9M120.9 194.0C112.7 182.7 107.5 170.3 107.1 158.9M137.6 153.1C135.1 136.2 136.2 119.8 142.2 107.2M112.5 204.0C102.3 193.7 94.8 181.9 92.5 170.1M124.8 211.7C116.0 203.6 109.5 194.1 107.2 184.5M146.3 188.1C142.7 177.6 141.5 166.9 143.9 158.1M136.0 202.3C129.7 193.4 125.7 183.7 125.5 174.7M149.1 143.4C149.1 125.7 152.9 109.1 161.0 97.1M162.6 154.3C164.0 139.4 168.5 125.6 176.4 116.1M157.7 195.8C155.4 187.3 155.1 178.9 157.4 172.1M175.6 155.4C179.2 141.6 185.4 129.4 194.1 121.5M147.4 136.2C147.7 117.3 151.9 99.6 160.7 86.7M160.4 191.8C158.9 182.9 159.3 174.2 162.4 167.4M150.9 172.9C149.1 160.2 150.1 147.9 154.7 138.4M165.2 160.2C166.7 146.4 170.9 133.8 178.2 125.1M180.7 175.8C183.6 165.6 188.5 156.7 195.1 151.1M153.0 149.8C153.3 133.5 156.9 118.2 164.5 107.1M125.5 157.1C120.8 140.0 119.8 123.0 124.4 109.1M92.7 162.8C88.0 144.6 87.4 126.6 92.5 112.1M137.0 147.5C140.7 130.0 147.7 114.3 158.3 104.0M113.6 168.6C111.9 152.9 113.6 137.8 119.6 126.3M104.1 171.8C100.7 155.9 100.7 140.3 105.6 127.9M112.3 186.3C109.2 173.4 109.0 160.6 112.7 150.4M141.4 188.6C142.9 178.1 146.4 168.5 152.2 162.0M149.8 181.7C153.2 170.7 158.6 161.1 165.9 155.1M126.7 197.9C125.2 187.9 125.8 178.2 129.3 170.6M141.9 212.8C141.8 206.3 143.0 200.2 145.9 195.7M120.4 161.4C120.3 144.9 123.7 129.5 131.2 118.3M155.8 191.7C159.5 182.7 164.7 175.0 171.3 170.6M158.1 176.3C163.2 165.0 170.3 155.4 178.9 150.0M149.2 190.8C151.8 181.2 156.2 172.8 162.4 167.4M116.9 181.9C114.8 168.6 115.7 155.6 120.3 145.6M169.5 174.7C176.5 164.0 185.4 155.3 195.1 151.1M151.3 153.3C156.9 137.7 165.4 124.2 176.4 116.1M135.0 187.1C135.6 175.9 138.4 165.5 143.9 158.1M90.7 184.0C84.1 169.2 81.1 153.9 83.4 140.8M132.6 154.6C135.0 137.9 140.8 122.7 150.1 112.5M112.4 196.2C108.6 185.0 107.3 173.6 109.9 164.1M120.9 166.2C120.5 150.6 123.5 135.9 130.4 125.1M145.6 159.7C149.8 144.8 156.8 131.7 166.5 123.4M146.4 194.8C148.3 185.6 152.0 177.5 157.4 172.1M110.5 165.0C108.6 148.5 110.2 132.6 116.5 120.4M120.6 186.3C118.9 174.0 119.8 162.1 124.2 152.8M124.7 192.4C123.2 181.4 124.0 170.7 128.0 162.4M139.1 198.8C139.5 189.9 141.7 181.5 146.1 175.6M110.6 159.1C109.0 141.7 111.3 124.9 118.2 112.3M129.9 193.0C129.1 182.5 130.7 172.4 135.0 164.9M119.6 207.0C116.2 198.0 114.9 188.8 116.7 181.1M140.4 176.6C142.6 164.1 147.2 152.7 154.4 145.2M137.9 142.3C142.0 124.0 149.7 107.7 161.0 97.1M144.5 142.2C149.7 124.3 158.4 108.6 170.1 98.8M101.3 202.9C95.1 192.0 91.7 180.4 92.5 170.1M121.1 156.3C121.5 139.1 125.5 123.0 133.6 111.4M154.5 165.0C159.8 151.6 167.5 140.1 177.3 133.3M106.8 207.8C101.2 198.0 98.1 187.7 98.7 178.5M145.9 169.5C149.4 156.2 155.5 144.4 164.0 136.9M154.2 205.4C156.6 198.6 160.3 192.7 165.1 189.2M161.7 166.3C168.0 153.6 176.7 143.0 186.8 137.3M116.6 151.0C116.7 132.6 120.6 115.3 129.0 102.8M140.5 193.2C141.5 183.4 144.5 174.4 149.7 168.2M97.3 196.8C90.9 184.6 87.6 171.7 88.8 160.5M130.4 148.4C132.9 130.6 139.0 114.3 148.8 103.3M148.9 163.8C153.3 149.8 160.4 137.6 169.9 130.0M129.7 202.5C128.3 193.5 128.8 184.8 132.0 178.0M142.1 154.5C146.1 138.5 153.2 124.2 163.3 115.1M136.2 135.2C140.6 115.6 148.8 98.1 160.7 86.7M143.0 197.2C144.1 188.2 147.1 180.1 152.0 174.5M145.2 204.1C146.2 196.5 148.7 189.5 152.9 184.7M133.6 164.3C135.5 149.3 140.5 135.6 148.6 126.2M128.2 161.9C129.4 146.2 133.8 131.6 141.9 121.3M147.4 149.1C152.6 132.6 160.9 118.2 172.1 109.3M137.5 153.1C140.8 136.5 147.4 121.6 157.3 111.8M123.8 175.8C123.2 162.0 125.7 148.9 131.6 139.2M118.8 201.2C115.7 191.2 114.9 181.2 117.4 172.9M95.1 171.5C90.2 155.0 89.0 138.4 93.2 124.8M163.6 194.9C168.3 187.0 174.4 180.6 181.2 177.3M160.3 181.1C165.4 170.7 172.3 162.0 180.6 157.2M128.9 168.0C129.8 153.2 133.7 139.5 141.0 129.9M162.1 161.4C168.9 147.9 178.1 136.7 188.9 130.6M114.7 192.3C111.6 180.6 111.0 168.9 114.3 159.5M108.9 182.9C105.5 169.2 105.1 155.6 109.0 144.6M106.9 175.1C103.7 160.0 103.8 145.2 108.5 133.4M108.2 168.8C105.6 152.7 106.5 137.1 112.1 124.9M101.8 185.2C97.0 171.4 95.4 157.4 98.5 145.8M154.2 174.0C158.8 162.0 165.6 151.7 174.2 145.6M168.9 167.7C176.3 155.7 185.8 146.0 196.4 141.3M127.5 214.1C124.9 206.8 124.0 199.4 125.6 193.3M131.3 209.2C129.6 201.4 129.7 193.7 132.2 187.7M138.6 165.8C141.2 151.4 146.7 138.4 155.0 129.7M123.9 181.1C123.0 168.2 124.9 155.9 130.2 146.6M139.8 160.9C143.0 145.8 149.1 132.2 158.2 123.3M136.8 206.3C142.5 200.0 149.1 195.2 155.9 193.5M110.5 193.9C112.6 183.7 116.8 174.6 123.0 168.6M99.7 197.0C99.9 186.6 102.3 176.8 107.3 169.7M131.6 161.9C139.5 147.8 149.8 136.3 161.6 130.4M118.2 189.6C122.0 179.2 127.7 170.2 135.0 164.9M109.0 143.9C114.5 125.3 123.5 109.1 135.7 98.9M115.8 210.7C117.7 203.6 121.0 197.3 125.6 193.3M90.9 172.7C91.3 157.6 94.9 143.6 102.1 133.5M130.2 209.4C134.6 203.1 140.0 198.0 145.9 195.7M108.4 189.3C110.5 178.2 114.9 168.2 121.5 161.6M81.2 187.5C79.1 174.2 79.8 161.2 84.5 151.1M85.6 193.4C83.8 181.3 84.6 169.6 88.8 160.5M125.3 144.1C133.5 126.7 144.8 112.1 158.3 104.0M134.8 191.3C141.1 182.4 149.0 175.3 157.4 172.1M97.3 179.4C98.3 165.9 102.1 153.4 109.0 144.6M125.9 149.6C133.7 133.2 144.5 119.4 157.3 111.8M108.7 157.9C113.1 141.7 120.7 127.3 131.2 118.3M146.4 172.9C156.0 161.7 167.3 153.3 178.9 150.0M120.7 174.5C125.9 161.8 133.5 151.0 142.8 144.7M117.2 164.5C122.6 149.9 130.7 137.4 141.0 129.9M108.1 167.1C111.8 152.3 118.3 139.2 127.6 130.8M108.6 209.8C109.4 202.1 111.8 195.0 115.8 190.1M127.4 195.4C132.3 186.6 138.7 179.3 146.1 175.6M120.6 194.0C124.4 184.5 130.0 176.4 137.0 171.6M128.0 168.4C134.8 155.3 144.0 144.3 154.7 138.4M157.2 164.3C169.1 152.5 182.8 143.9 196.4 141.3M116.2 175.3C120.6 162.5 127.5 151.3 136.4 144.5M93.8 158.3C95.8 141.1 101.2 125.3 110.5 114.5M142.6 202.0C149.5 195.4 157.3 190.5 165.1 189.2M98.9 161.6C101.4 145.2 107.3 130.4 116.5 120.4M123.8 177.5C129.4 165.5 137.1 155.4 146.4 149.8M109.0 182.9C111.7 170.7 116.8 159.9 124.2 152.8M150.7 181.8C160.3 172.5 171.3 165.7 182.2 163.7M147.3 153.9C158.3 139.7 171.6 128.7 185.7 124.0M143.6 146.4C154.5 130.7 168.1 118.2 182.8 112.5M115.1 194.4C118.0 184.6 122.8 176.0 129.3 170.6M152.7 151.0C164.9 136.7 179.3 125.8 194.1 121.5M103.0 188.9C104.4 177.3 108.0 166.7 114.3 159.5M119.4 180.9C123.9 169.2 130.7 159.1 139.2 153.1M157.4 178.4C168.4 168.9 180.7 162.3 192.5 160.8M88.2 168.0C88.6 152.0 92.3 137.0 99.9 126.2M124.8 188.4C129.7 178.3 136.4 169.8 144.4 165.2M93.0 178.7C93.4 164.7 96.6 151.7 103.3 142.4M135.7 145.7C145.4 129.3 157.9 116.0 172.1 109.3M83.4 168.1C83.0 151.7 86.0 136.2 93.2 124.8M143.8 178.7C152.5 168.3 162.8 160.3 173.6 157.2M107.3 174.7C110.3 161.1 116.0 148.9 124.3 141.0M81.1 159.3C80.9 141.4 84.4 124.5 92.5 112.1M105.2 178.4C107.7 165.3 112.7 153.4 120.3 145.6M142.8 161.6C152.6 148.3 164.5 137.9 177.3 133.3M96.6 194.6C96.5 183.5 98.7 173.1 103.7 165.4M143.7 140.2C155.1 123.5 169.3 110.2 184.7 104.0M120.9 151.1C127.9 134.6 137.8 120.6 150.1 112.5M138.7 193.2C145.6 184.8 153.8 178.4 162.3 175.8M152.0 191.4C161.1 183.7 171.4 178.4 181.2 177.3M142.9 193.7C150.4 185.7 159.2 179.8 168.0 177.8M132.7 170.7C140.1 158.2 149.7 148.1 160.6 142.9M130.4 203.2C135.2 195.9 141.3 190.0 147.9 187.3M118.8 169.7C124.1 156.1 131.8 144.4 141.7 137.5M114.2 168.3C118.8 154.1 126.1 141.8 135.7 134.2M134.2 166.0C142.2 152.9 152.5 142.2 164.0 136.9M115.4 139.7C122.2 120.9 132.5 104.7 145.7 95.0M95.1 204.4C94.0 194.8 95.1 185.5 98.7 178.5M123.1 211.2C126.2 204.7 130.4 199.2 135.5 196.2M133.9 156.3C142.6 141.6 153.8 129.5 166.5 123.4M92.6 194.4C91.8 183.0 93.5 172.2 98.2 164.0M95.9 186.4C101.0 177.4 107.7 170.1 115.3 166.3M136.4 159.0C150.1 148.3 165.2 141.2 179.5 140.2M121.2 138.3C133.9 123.2 149.0 111.7 164.5 107.1M98.3 190.7C103.5 182.6 110.1 176.1 117.4 172.9M116.4 137.0C128.4 121.3 142.9 109.2 158.3 104.0M108.6 178.2C116.4 168.8 125.7 161.5 135.4 158.7M96.3 171.3C102.6 159.9 110.8 150.5 120.3 145.6M121.1 173.3C131.2 164.0 142.8 157.3 154.0 155.6M122.7 154.8C134.4 142.5 148.0 133.4 161.6 130.4M99.0 196.5C103.9 189.4 110.0 183.7 116.7 181.1M126.4 188.7C136.4 182.3 147.1 178.3 156.9 178.5M84.0 171.6C88.3 159.4 94.8 148.8 103.3 142.4M139.7 170.5C153.1 162.0 167.5 156.9 180.6 157.2M126.9 175.7C137.9 167.2 150.0 161.5 161.4 160.6M139.7 181.6C152.3 174.9 165.6 171.3 177.3 172.5M107.6 151.4C117.2 137.5 129.0 126.5 141.9 121.3M126.8 138.6C140.3 124.0 156.1 113.1 172.1 109.3M72.3 180.4C74.0 168.8 78.0 158.3 84.5 151.1M128.6 180.3C139.5 172.6 151.4 167.6 162.4 167.4M138.4 146.8C153.2 134.4 169.8 125.7 185.7 124.0M88.4 172.4C93.2 160.5 100.3 150.5 109.0 144.6M114.4 176.5C123.3 167.3 133.6 160.4 143.9 158.1M89.9 154.5C96.3 139.8 105.4 127.4 116.5 120.4M99.4 182.2C105.5 172.8 113.1 165.3 121.5 161.6M114.2 204.1C121.1 199.3 128.6 196.3 135.5 196.2M148.9 164.2C164.2 155.3 180.6 150.2 195.1 151.1M114.9 170.4C124.3 160.2 135.3 152.5 146.4 149.8M74.5 161.0C77.9 146.3 84.2 133.3 93.2 124.8M95.2 154.2C102.5 139.9 112.3 128.0 123.9 121.6M106.5 198.6C112.5 192.3 119.5 187.8 126.4 186.2M106.9 203.6C112.7 198.2 119.2 194.3 125.6 193.3M90.0 148.6C96.8 133.0 106.4 119.8 118.2 112.3M109.8 137.9C120.6 121.9 134.1 109.2 148.8 103.3M128.9 129.2C143.4 113.2 160.5 101.2 177.7 96.9M92.9 200.2C96.6 193.2 101.5 187.5 107.2 184.5M123.7 163.6C135.0 152.9 147.9 145.1 160.6 142.9M125.8 184.3C136.0 177.0 147.1 172.4 157.4 172.1M70.0 159.0C72.8 143.7 78.6 130.0 87.5 120.8M114.6 148.5C125.5 134.7 138.6 123.9 152.4 119.4M84.9 151.3C90.7 135.7 99.4 122.4 110.5 114.5M144.0 168.6C158.3 160.1 173.5 155.1 187.1 155.8M107.4 146.1C117.2 131.3 129.6 119.5 143.1 113.9M89.1 182.5C93.4 172.4 99.5 163.8 107.1 158.9M114.4 194.1C122.1 187.7 130.6 183.3 138.7 182.4M103.2 165.3C111.0 153.4 120.8 143.8 131.6 139.2M120.8 178.1C130.6 169.5 141.6 163.4 152.2 162.0M84.2 182.4C87.6 172.0 93.1 162.9 100.3 157.4M69.5 166.2C71.7 152.0 76.8 139.2 84.8 130.6M139.0 190.3C151.0 184.9 163.3 182.4 173.9 184.3M107.3 168.3C115.6 157.1 125.7 148.4 136.4 144.5M139.6 138.2C155.3 124.4 173.0 114.7 190.0 112.5M143.1 184.4C156.1 178.4 169.5 175.5 181.2 177.3M119.0 161.4C129.7 149.9 142.2 141.4 154.7 138.4M85.6 178.0C89.6 166.9 95.7 157.3 103.5 151.6M87.6 158.3C93.3 144.1 101.7 132.0 112.1 124.9M93.7 145.5C101.4 129.7 111.9 116.5 124.4 109.1M117.3 131.8C129.8 115.4 144.9 102.6 161.0 97.1M77.2 165.5C80.7 151.8 86.9 139.7 95.5 131.9M130.8 191.4C141.3 185.7 152.3 182.5 162.1 183.5M81.2 174.7C84.8 162.8 90.6 152.3 98.5 145.8M109.9 162.7C119.0 150.8 130.0 141.5 141.7 137.5M112.0 144.1C122.8 129.3 136.0 117.6 150.1 112.5M99.8 150.8C108.1 136.3 118.9 124.4 131.2 118.3"/>
<path fill="none" stroke="#cb9ace" stroke-width="0.5" stroke-opacity="0.1" d="M144.6 207.9C131.5 194.5 120.4 177.4 113.4 160.0M149.7 198.1C139.3 181.6 131.8 161.9 128.4 142.6M144.9 199.4C132.6 182.9 123.1 162.9 118.1 143.0M141.3 208.2C127.0 194.5 114.6 177.1 106.6 159.0M152.7 193.3C143.9 175.4 138.3 154.5 136.9 134.6M146.3 203.2C134.2 188.2 124.6 169.7 119.1 151.3M141.9 205.0C128.1 190.2 116.6 171.7 109.5 152.8M154.3 194.7C145.9 177.4 140.7 157.3 139.5 138.1M146.6 197.3C135.2 180.2 126.7 159.7 122.7 139.5M129.6 196.7C124.3 176.6 122.9 154.1 125.7 133.5M121.7 202.8C113.1 184.1 107.8 162.5 106.9 142.0M118.8 208.3C108.6 191.4 101.3 171.3 98.3 151.8M106.0 196.7C105.4 175.7 109.2 153.3 116.6 133.6M104.4 195.4C103.4 173.7 106.8 150.5 114.0 130.1M96.3 210.0C90.9 192.8 88.9 173.4 90.5 155.5M98.0 205.2C93.7 186.5 93.1 165.7 96.2 146.8M103.6 198.7C101.9 178.1 104.5 156.0 110.7 136.3M74.9 200.0C73.8 183.0 76.1 164.6 81.6 148.4M79.8 187.1C81.7 165.9 88.1 143.8 97.8 124.8M82.2 188.7C84.7 168.3 91.7 147.2 101.8 129.3M80.0 190.2C81.6 170.1 87.5 149.1 96.6 131.1M75.5 197.4C74.8 179.5 77.8 160.4 84.0 143.5M83.1 185.4C86.2 163.9 94.0 141.7 105.1 123.0"/>
<path fill="none" stroke="#d68cd8" stroke-width="0.5" stroke-opacity="0.075" d="M113.4 160.0C106.4 142.6 103.5 124.7 106.7 109.6M128.4 142.6C125.1 123.4 126.1 104.7 132.6 90.0M118.1 143.0C113.1 123.1 112.5 103.4 118.2 87.5M106.6 159.0C98.6 140.9 94.8 122.2 97.6 106.2M136.9 134.6C135.6 114.6 138.5 95.6 146.7 81.3M119.1 151.3C113.7 132.8 112.5 114.3 117.2 99.2M109.5 152.8C102.4 133.9 99.6 114.7 103.4 98.5M139.5 138.1C138.3 118.9 141.2 100.6 149.2 86.9M122.7 139.5C118.6 119.4 119.0 99.6 125.5 84.0M125.7 133.5C128.5 112.9 135.4 94.1 146.7 81.3M106.9 142.0C106.0 121.4 109.4 102.0 118.2 87.5M98.3 151.8C95.3 132.2 96.5 113.2 103.4 98.5M116.6 133.6C124.0 113.9 135.1 97.0 149.2 86.9M114.0 130.1C121.3 109.6 132.4 91.9 146.7 81.3M90.5 155.5C92.1 137.6 97.4 121.1 106.7 109.6M96.2 146.8C99.4 127.8 106.4 110.7 117.2 99.2M110.7 136.3C117.0 116.7 127.0 99.6 140.3 89.0M81.6 148.4C87.0 132.3 95.6 118.2 106.7 109.6M97.8 124.8C107.6 105.9 120.8 90.2 136.1 81.7M101.8 129.3C111.9 111.3 125.2 96.6 140.3 89.0M96.6 131.1C105.8 113.1 118.1 98.1 132.6 90.0M84.0 143.5C90.2 126.7 99.6 112.2 111.5 103.5M105.1 123.0C116.2 104.3 130.6 89.0 146.7 81.3"/>
<path fill="none" stroke="#c0a8c4" stroke-width="0.5" stroke-opacity="0.11" d="M187.9 234.5C136.8 255.6 44.8 217.3 23.8 166.2M187.9 234.5C177.1 252.8 140.0 262.3 121.7 251.5M187.9 234.5C123.3 207.7 75.1 91.5 101.9 26.9M187.9 234.5C188.5 224.5 201.9 212.6 211.9 213.2M187.9 234.5C129.1 250.5 33.8 195.8 17.9 137.0M187.9 234.5C183.7 243.5 165.9 250.1 156.9 245.9M187.9 234.5C183.7 243.7 166.1 250.1 156.9 245.9M187.9 234.5C185.2 240.3 162.7 248.6 156.9 245.9M187.9 234.5C178.3 250.8 138.0 261.1 121.7 251.5M187.9 234.5C176.5 253.8 141.0 262.9 121.7 251.5M187.9 234.5C181.0 246.2 133.4 258.4 121.7 251.5M187.9 234.5C173.5 252.0 106.7 258.4 89.2 244.0M187.9 234.5C164.0 263.5 118.2 267.9 89.2 244.0M187.9 234.5C167.2 259.6 114.3 264.7 89.2 244.0M156.9 245.9C135.1 194.5 172.7 101.2 224.1 79.4M156.9 245.9C92.9 235.7 24.6 141.3 34.8 77.3M156.9 245.9C159.4 215.8 200.7 180.7 230.8 183.2M156.9 245.9C132.0 263.0 78.7 253.1 61.6 228.2M156.9 245.9C141.6 260.4 103.7 259.3 89.2 244.0M156.9 245.9C149.2 256.5 132.3 259.2 121.7 251.5M156.9 245.9C151.0 254.0 129.8 257.4 121.7 251.5M156.9 245.9C152.8 251.6 127.4 255.6 121.7 251.5M156.9 245.9C142.6 259.4 102.7 258.3 89.2 244.0M156.9 245.9C143.7 258.4 101.7 257.2 89.2 244.0M156.9 245.9C137.9 263.9 107.2 263.0 89.2 244.0M156.9 245.9C138.6 258.4 74.1 246.5 61.6 228.2M156.9 245.9C135.6 260.5 76.2 249.5 61.6 228.2M156.9 245.9C126.4 266.9 82.6 258.7 61.6 228.2M121.7 251.5C106.4 191.1 163.7 94.7 224.1 79.4M121.7 251.5C90.4 259.0 41.0 228.6 33.5 197.3M121.7 251.5C73.7 249.1 15.5 185.0 17.9 137.0M121.7 251.5C81.4 254.3 26.5 206.5 23.8 166.2M121.7 251.5C124.3 203.3 189.0 145.1 237.2 147.7M121.7 251.5C133.1 223.2 183.6 201.8 211.9 213.2M121.7 251.5C115.6 255.3 93.0 250.1 89.2 244.0M121.7 251.5C113.6 256.6 94.3 252.1 89.2 244.0M121.7 251.5C110.9 258.2 95.9 254.8 89.2 244.0M121.7 251.5C107.7 257.7 67.8 242.2 61.6 228.2M121.7 251.5C103.8 259.4 69.5 246.1 61.6 228.2M121.7 251.5C100.8 260.7 70.8 249.1 61.6 228.2M121.7 251.5C86.2 260.0 42.0 232.8 33.5 197.3M121.7 251.5C85.8 260.1 42.1 233.2 33.5 197.3M121.7 251.5C96.5 257.5 39.5 222.5 33.5 197.3M89.2 244.0C100.6 190.3 183.5 136.3 237.2 147.7M89.2 244.0C40.6 202.0 32.1 86.6 74.1 38.0M89.2 244.0C104.5 229.5 142.4 230.6 156.9 245.9M89.2 244.0C71.9 176.9 135.2 69.6 202.3 52.3M89.2 244.0C107.0 199.5 186.3 165.4 230.8 183.2M89.2 244.0C83.3 245.6 63.2 234.1 61.6 228.2M89.2 244.0C80.2 246.5 64.1 237.2 61.6 228.2M89.2 244.0C80.2 246.4 64.0 237.2 61.6 228.2M89.2 244.0C69.2 245.8 35.3 217.3 33.5 197.3M89.2 244.0C63.1 246.3 35.8 223.4 33.5 197.3M89.2 244.0C65.2 246.1 35.6 221.3 33.5 197.3M89.2 244.0C66.9 242.1 21.8 188.5 23.8 166.2M89.2 244.0C58.5 241.4 21.1 196.9 23.8 166.2M89.2 244.0C55.9 241.1 20.9 199.5 23.8 166.2"/>
<path fill="none" stroke="#e8c060" stroke-width="0.5" stroke-opacity="0.13" d="M101.9 26.9C115.2 35.8 125.9 51.1 133.3 69.0M101.9 26.9C109.7 35.6 114.4 48.5 116.4 62.6M101.9 26.9C117.2 30.7 132.3 41.3 145.3 55.5M101.9 26.9C113.1 29.8 124.1 37.8 133.4 48.3M101.9 26.9C109.7 29.7 116.9 36.0 122.9 44.1M101.9 26.9C117.3 31.7 132.1 43.5 144.5 58.8M101.9 26.9C117.2 34.7 130.6 49.8 140.8 68.0M101.9 26.9C108.4 34.7 112.3 46.0 113.6 58.4M101.9 26.9C112.2 29.1 122.5 35.8 131.4 44.9M101.9 26.9C107.5 30.1 112.3 36.1 115.8 43.2M101.9 26.9C110.7 36.9 116.1 51.5 118.2 67.5M101.9 26.9C111.9 33.6 120.0 45.2 125.5 58.8M101.9 26.9C114.0 31.2 125.3 41.0 134.5 53.5M101.9 26.9C112.0 34.3 119.8 46.5 125.0 60.8M101.9 26.9C114.4 35.4 124.5 50.1 131.4 67.2M101.9 26.9C114.5 30.4 126.8 39.6 137.2 51.7M101.9 26.9C110.2 34.2 116.1 45.7 119.6 58.7M101.9 26.9C107.5 33.8 110.6 43.8 111.5 54.5M101.9 26.9C115.2 32.5 127.2 44.3 136.8 58.9M101.9 26.9C111.6 26.6 122.2 30.3 132.2 36.5M101.9 26.9C115.8 33.8 128.0 47.1 137.4 63.4M101.9 26.9C112.6 26.5 124.4 30.5 135.5 37.3M101.9 26.9C116.0 34.6 128.2 48.9 137.3 66.2M101.9 26.9C117.5 32.3 132.3 44.9 144.4 61.0M101.9 26.9C109.8 32.7 116.0 42.4 120.1 53.6M101.9 26.9C115.9 36.5 127.1 52.8 134.8 72.0M101.9 26.9C114.2 32.7 125.1 44.1 133.6 58.2M101.9 26.9C108.9 32.7 114.2 42.0 117.4 52.6M101.9 26.9C116.6 35.8 128.9 51.7 137.8 70.6M101.9 26.9C111.7 38.1 117.7 54.5 120.0 72.4"/>
<path fill="none" stroke="#dbc084" stroke-width="0.5" stroke-opacity="0.1" d="M133.3 69.0C140.7 87.0 144.8 107.6 144.9 127.0M116.4 62.6C118.3 76.7 117.4 92.0 113.8 105.8M145.3 55.5C158.2 69.7 168.9 87.5 175.4 105.5M133.4 48.3C142.7 58.9 150.4 72.0 155.0 85.3M122.9 44.1C128.8 52.2 133.4 62.0 135.8 71.7M144.5 58.8C156.8 74.1 166.7 92.9 172.3 111.7M140.8 68.0C150.9 86.3 157.9 107.8 160.4 128.6M113.6 58.4C114.9 70.7 113.7 84.0 110.3 95.9M131.4 44.9C140.4 54.1 147.9 65.7 152.7 77.5M118.2 67.5C120.3 83.5 119.2 100.9 115.1 116.5M125.5 58.8C131.1 72.3 134.1 87.9 134.1 102.6M134.5 53.5C143.8 66.0 151.0 81.2 154.8 96.3M125.0 60.8C130.2 75.0 132.7 91.2 132.1 106.3M131.4 67.2C138.3 84.3 142.0 103.9 141.9 122.3M137.2 51.7C147.6 63.8 156.0 78.8 161.0 93.9M119.6 58.7C123.0 71.7 123.9 86.2 122.1 99.6M111.5 54.5C112.4 65.3 111.2 76.9 107.9 87.2M136.8 58.9C146.4 73.6 153.5 91.1 156.8 108.3M132.2 36.5C142.2 42.7 151.5 51.4 158.3 60.9M137.4 63.4C146.7 79.7 153.2 99.0 155.7 117.6M135.5 37.3C146.6 44.1 157.0 53.7 164.6 64.2M137.3 66.2C146.4 83.5 152.4 103.8 154.3 123.3M144.4 61.0C156.5 77.1 165.9 96.6 171.0 116.1M120.1 53.6C124.2 64.8 126.2 77.5 125.7 89.4M134.8 72.0C142.5 91.1 146.6 113.1 146.4 133.7M133.6 58.2C142.1 72.4 148.2 89.1 150.7 105.4M117.4 52.6C120.6 63.2 121.7 75.2 120.7 86.2M137.8 70.6C146.7 89.5 152.2 111.4 153.2 132.3M120.0 72.4C122.4 90.4 121.1 109.9 116.4 127.4"/>
<path fill="none" stroke="#cfc0a9" stroke-width="0.5" stroke-opacity="0.075" d="M144.9 127.0C144.9 146.4 140.9 164.7 132.0 178.0M113.8 105.8C110.3 119.6 104.0 131.7 95.3 139.5M175.4 105.5C182.0 123.5 184.4 141.9 180.6 157.2M155.0 85.3C159.6 98.6 161.1 112.1 158.2 123.3M135.8 71.7C138.3 81.5 138.5 91.1 135.7 98.9M172.3 111.7C177.9 130.5 179.3 149.4 174.5 164.8M160.4 128.6C162.8 149.3 160.8 169.4 152.9 184.7M110.3 95.9C106.8 107.8 101.1 118.3 93.2 124.8M152.7 77.5C157.5 89.4 159.5 101.5 157.3 111.8M115.1 116.5C111.0 132.2 103.9 146.0 93.9 154.8M134.1 102.6C134.1 117.2 131.0 131.0 124.3 141.0M154.8 96.3C158.6 111.4 159.0 126.4 154.7 138.4M132.1 106.3C131.4 121.4 127.7 135.5 120.3 145.6M141.9 122.3C141.8 140.8 137.8 158.1 129.3 170.6M161.0 93.9C166.0 109.1 167.6 124.3 164.0 136.9M122.1 99.6C120.3 112.9 115.9 125.1 108.5 133.4M107.9 87.2C104.7 97.5 99.5 106.5 92.5 112.1M156.8 108.3C160.1 125.5 159.6 142.3 154.0 155.6M158.3 60.9C165.2 70.5 169.7 80.9 170.0 90.5M155.7 117.6C158.2 136.3 156.6 154.3 149.7 168.2M164.6 64.2C172.3 74.7 177.3 86.2 177.7 96.9M154.3 123.3C156.1 142.7 153.7 161.4 146.1 175.6M171.0 116.1C176.1 135.6 176.8 154.9 171.3 170.6M125.7 89.4C125.2 101.4 122.3 112.5 116.5 120.4M146.4 133.7C146.3 154.3 141.8 173.6 132.2 187.7M150.7 105.4C153.2 121.7 152.1 137.5 146.4 149.8M120.7 86.2C119.6 97.3 116.3 107.4 110.5 114.5M153.2 132.3C154.2 153.2 150.8 173.0 142.0 187.8M116.4 127.4C111.8 144.9 103.7 160.3 92.5 170.1"/>
<path fill="none" stroke="#e5aa8d" stroke-width="0.5" stroke-opacity="0.1" d="M115.8 43.2C119.3 50.3 121.5 58.5 122.1 66.4"/>
<path fill="none" stroke="#e293ba" stroke-width="0.5" stroke-opacity="0.075" d="M122.1 66.4C122.6 74.3 121.4 81.9 118.2 87.5"/>
<path fill="none" stroke="#e8c060" stroke-width="0.5" stroke-opacity="0.11" d="M101.9 26.9C107.6 69.6 60.6 131.3 17.9 137.0M101.9 26.9C115.4 74.7 71.6 152.7 23.8 166.2M101.9 26.9C150.2 15.9 225.8 63.3 236.8 111.6M101.9 26.9C107.6 69.6 60.6 131.3 17.9 137.0M101.9 26.9C167.1 43.7 228.7 148.0 211.9 213.2M101.9 26.9C107.6 69.6 60.6 131.3 17.9 137.0M101.9 26.9C106.4 21.9 126.8 20.8 131.8 25.3M101.9 26.9C108.2 19.8 124.7 19.0 131.8 25.3M101.9 26.9C108.8 19.2 124.1 18.4 131.8 25.3M101.9 26.9C113.2 17.6 158.2 22.0 167.5 33.3M101.9 26.9C115.0 16.2 156.8 20.2 167.5 33.3M101.9 26.9C119.1 12.7 153.3 16.1 167.5 33.3M101.9 26.9C128.1 11.3 186.7 26.1 202.3 52.3M101.9 26.9C124.3 13.6 189.0 29.9 202.3 52.3M101.9 26.9C127.5 11.6 187.0 26.7 202.3 52.3"/>
<circle cx="141.0" cy="138.5" r="59.0" fill="#fff" fill-opacity="0.12"/>
<path fill="#c6c6c6" d="M194.1 141.3a2.3 2.3 0 1 0 4.6 0a2.3 2.3 0 1 0 -4.6 0M192.8 151.1a2.3 2.3 0 1 0 4.6 0a2.3 2.3 0 1 0 -4.6 0M190.2 160.8a2.3 2.3 0 1 0 4.6 0a2.3 2.3 0 1 0 -4.6 0M184.8 169.3a2.3 2.3 0 1 0 4.6 0a2.3 2.3 0 1 0 -4.6 0M178.9 177.3a2.3 2.3 0 1 0 4.6 0a2.3 2.3 0 1 0 -4.6 0M171.6 184.3a2.3 2.3 0 1 0 4.6 0a2.3 2.3 0 1 0 -4.6 0M162.8 189.2a2.3 2.3 0 1 0 4.6 0a2.3 2.3 0 1 0 -4.6 0M153.6 193.5a2.3 2.3 0 1 0 4.6 0a2.3 2.3 0 1 0 -4.6 0M143.6 195.7a2.3 2.3 0 1 0 4.6 0a2.3 2.3 0 1 0 -4.6 0M133.2 196.2a2.3 2.3 0 1 0 4.6 0a2.3 2.3 0 1 0 -4.6 0M123.3 193.3a2.3 2.3 0 1 0 4.6 0a2.3 2.3 0 1 0 -4.6 0M113.5 190.1a2.3 2.3 0 1 0 4.6 0a2.3 2.3 0 1 0 -4.6 0M104.9 184.5a2.3 2.3 0 1 0 4.6 0a2.3 2.3 0 1 0 -4.6 0M96.4 178.5a2.3 2.3 0 1 0 4.6 0a2.3 2.3 0 1 0 -4.6 0M90.2 170.1a2.3 2.3 0 1 0 4.6 0a2.3 2.3 0 1 0 -4.6 0M86.5 160.5a2.3 2.3 0 1 0 4.6 0a2.3 2.3 0 1 0 -4.6 0M82.2 151.1a2.3 2.3 0 1 0 4.6 0a2.3 2.3 0 1 0 -4.6 0M81.1 140.8a2.3 2.3 0 1 0 4.6 0a2.3 2.3 0 1 0 -4.6 0M82.5 130.6a2.3 2.3 0 1 0 4.6 0a2.3 2.3 0 1 0 -4.6 0M85.2 120.8a2.3 2.3 0 1 0 4.6 0a2.3 2.3 0 1 0 -4.6 0M90.2 112.1a2.3 2.3 0 1 0 4.6 0a2.3 2.3 0 1 0 -4.6 0M158.4 86.7a2.3 2.3 0 1 0 4.6 0a2.3 2.3 0 1 0 -4.6 0M167.7 90.5a2.3 2.3 0 1 0 4.6 0a2.3 2.3 0 1 0 -4.6 0M175.4 96.9a2.3 2.3 0 1 0 4.6 0a2.3 2.3 0 1 0 -4.6 0M182.4 104.0a2.3 2.3 0 1 0 4.6 0a2.3 2.3 0 1 0 -4.6 0M187.7 112.5a2.3 2.3 0 1 0 4.6 0a2.3 2.3 0 1 0 -4.6 0M191.8 121.5a2.3 2.3 0 1 0 4.6 0a2.3 2.3 0 1 0 -4.6 0M193.7 131.3a2.3 2.3 0 1 0 4.6 0a2.3 2.3 0 1 0 -4.6 0M129.9 187.7a2.3 2.3 0 1 0 4.6 0a2.3 2.3 0 1 0 -4.6 0M184.5 137.3a2.3 2.3 0 1 0 4.6 0a2.3 2.3 0 1 0 -4.6 0M131.3 111.4a2.3 2.3 0 1 0 4.6 0a2.3 2.3 0 1 0 -4.6 0M142.1 165.2a2.3 2.3 0 1 0 4.6 0a2.3 2.3 0 1 0 -4.6 0M178.3 157.2a2.3 2.3 0 1 0 4.6 0a2.3 2.3 0 1 0 -4.6 0M101.4 165.4a2.3 2.3 0 1 0 4.6 0a2.3 2.3 0 1 0 -4.6 0M139.4 137.5a2.3 2.3 0 1 0 4.6 0a2.3 2.3 0 1 0 -4.6 0M150.6 184.7a2.3 2.3 0 1 0 4.6 0a2.3 2.3 0 1 0 -4.6 0M90.1 147.8a2.3 2.3 0 1 0 4.6 0a2.3 2.3 0 1 0 -4.6 0M127.9 146.6a2.3 2.3 0 1 0 4.6 0a2.3 2.3 0 1 0 -4.6 0M136.9 153.1a2.3 2.3 0 1 0 4.6 0a2.3 2.3 0 1 0 -4.6 0M114.4 181.1a2.3 2.3 0 1 0 4.6 0a2.3 2.3 0 1 0 -4.6 0M139.6 121.3a2.3 2.3 0 1 0 4.6 0a2.3 2.3 0 1 0 -4.6 0M155.1 172.1a2.3 2.3 0 1 0 4.6 0a2.3 2.3 0 1 0 -4.6 0M118.0 145.6a2.3 2.3 0 1 0 4.6 0a2.3 2.3 0 1 0 -4.6 0M128.1 125.1a2.3 2.3 0 1 0 4.6 0a2.3 2.3 0 1 0 -4.6 0M147.8 112.5a2.3 2.3 0 1 0 4.6 0a2.3 2.3 0 1 0 -4.6 0M155.9 123.3a2.3 2.3 0 1 0 4.6 0a2.3 2.3 0 1 0 -4.6 0M161.7 136.9a2.3 2.3 0 1 0 4.6 0a2.3 2.3 0 1 0 -4.6 0M136.4 182.4a2.3 2.3 0 1 0 4.6 0a2.3 2.3 0 1 0 -4.6 0M125.7 162.4a2.3 2.3 0 1 0 4.6 0a2.3 2.3 0 1 0 -4.6 0M152.1 145.2a2.3 2.3 0 1 0 4.6 0a2.3 2.3 0 1 0 -4.6 0M117.3 126.3a2.3 2.3 0 1 0 4.6 0a2.3 2.3 0 1 0 -4.6 0M114.2 120.4a2.3 2.3 0 1 0 4.6 0a2.3 2.3 0 1 0 -4.6 0M101.0 142.4a2.3 2.3 0 1 0 4.6 0a2.3 2.3 0 1 0 -4.6 0M165.7 177.8a2.3 2.3 0 1 0 4.6 0a2.3 2.3 0 1 0 -4.6 0M154.6 178.5a2.3 2.3 0 1 0 4.6 0a2.3 2.3 0 1 0 -4.6 0M159.3 130.4a2.3 2.3 0 1 0 4.6 0a2.3 2.3 0 1 0 -4.6 0M183.4 124.0a2.3 2.3 0 1 0 4.6 0a2.3 2.3 0 1 0 -4.6 0M156.0 104.0a2.3 2.3 0 1 0 4.6 0a2.3 2.3 0 1 0 -4.6 0M133.1 158.7a2.3 2.3 0 1 0 4.6 0a2.3 2.3 0 1 0 -4.6 0M143.8 175.6a2.3 2.3 0 1 0 4.6 0a2.3 2.3 0 1 0 -4.6 0M162.2 107.1a2.3 2.3 0 1 0 4.6 0a2.3 2.3 0 1 0 -4.6 0M140.5 144.7a2.3 2.3 0 1 0 4.6 0a2.3 2.3 0 1 0 -4.6 0M134.7 171.6a2.3 2.3 0 1 0 4.6 0a2.3 2.3 0 1 0 -4.6 0M113.0 166.3a2.3 2.3 0 1 0 4.6 0a2.3 2.3 0 1 0 -4.6 0M159.1 160.6a2.3 2.3 0 1 0 4.6 0a2.3 2.3 0 1 0 -4.6 0M145.2 140.0a2.3 2.3 0 1 0 4.6 0a2.3 2.3 0 1 0 -4.6 0M174.1 116.1a2.3 2.3 0 1 0 4.6 0a2.3 2.3 0 1 0 -4.6 0M115.9 112.3a2.3 2.3 0 1 0 4.6 0a2.3 2.3 0 1 0 -4.6 0M152.4 138.4a2.3 2.3 0 1 0 4.6 0a2.3 2.3 0 1 0 -4.6 0M97.6 126.2a2.3 2.3 0 1 0 4.6 0a2.3 2.3 0 1 0 -4.6 0M164.2 123.4a2.3 2.3 0 1 0 4.6 0a2.3 2.3 0 1 0 -4.6 0M161.0 115.1a2.3 2.3 0 1 0 4.6 0a2.3 2.3 0 1 0 -4.6 0M103.2 121.0a2.3 2.3 0 1 0 4.6 0a2.3 2.3 0 1 0 -4.6 0M169.8 109.3a2.3 2.3 0 1 0 4.6 0a2.3 2.3 0 1 0 -4.6 0M146.3 126.2a2.3 2.3 0 1 0 4.6 0a2.3 2.3 0 1 0 -4.6 0M138.7 129.9a2.3 2.3 0 1 0 4.6 0a2.3 2.3 0 1 0 -4.6 0M128.9 118.3a2.3 2.3 0 1 0 4.6 0a2.3 2.3 0 1 0 -4.6 0M98.0 157.4a2.3 2.3 0 1 0 4.6 0a2.3 2.3 0 1 0 -4.6 0M93.0 139.5a2.3 2.3 0 1 0 4.6 0a2.3 2.3 0 1 0 -4.6 0M104.8 158.9a2.3 2.3 0 1 0 4.6 0a2.3 2.3 0 1 0 -4.6 0M110.6 139.6a2.3 2.3 0 1 0 4.6 0a2.3 2.3 0 1 0 -4.6 0M184.5 147.7a2.3 2.3 0 1 0 4.6 0a2.3 2.3 0 1 0 -4.6 0M176.6 150.0a2.3 2.3 0 1 0 4.6 0a2.3 2.3 0 1 0 -4.6 0M101.2 151.6a2.3 2.3 0 1 0 4.6 0a2.3 2.3 0 1 0 -4.6 0M149.9 162.0a2.3 2.3 0 1 0 4.6 0a2.3 2.3 0 1 0 -4.6 0M115.1 172.9a2.3 2.3 0 1 0 4.6 0a2.3 2.3 0 1 0 -4.6 0M99.8 133.5a2.3 2.3 0 1 0 4.6 0a2.3 2.3 0 1 0 -4.6 0M139.9 107.2a2.3 2.3 0 1 0 4.6 0a2.3 2.3 0 1 0 -4.6 0M179.9 163.7a2.3 2.3 0 1 0 4.6 0a2.3 2.3 0 1 0 -4.6 0M96.1 118.9a2.3 2.3 0 1 0 4.6 0a2.3 2.3 0 1 0 -4.6 0M175.0 133.3a2.3 2.3 0 1 0 4.6 0a2.3 2.3 0 1 0 -4.6 0M160.1 167.4a2.3 2.3 0 1 0 4.6 0a2.3 2.3 0 1 0 -4.6 0M158.9 150.6a2.3 2.3 0 1 0 4.6 0a2.3 2.3 0 1 0 -4.6 0M133.4 98.9a2.3 2.3 0 1 0 4.6 0a2.3 2.3 0 1 0 -4.6 0M93.2 131.9a2.3 2.3 0 1 0 4.6 0a2.3 2.3 0 1 0 -4.6 0M105.0 169.7a2.3 2.3 0 1 0 4.6 0a2.3 2.3 0 1 0 -4.6 0M167.8 98.8a2.3 2.3 0 1 0 4.6 0a2.3 2.3 0 1 0 -4.6 0M169.0 170.6a2.3 2.3 0 1 0 4.6 0a2.3 2.3 0 1 0 -4.6 0M110.4 150.4a2.3 2.3 0 1 0 4.6 0a2.3 2.3 0 1 0 -4.6 0M143.4 181.3a2.3 2.3 0 1 0 4.6 0a2.3 2.3 0 1 0 -4.6 0M180.5 112.5a2.3 2.3 0 1 0 4.6 0a2.3 2.3 0 1 0 -4.6 0M165.3 162.1a2.3 2.3 0 1 0 4.6 0a2.3 2.3 0 1 0 -4.6 0M151.7 155.6a2.3 2.3 0 1 0 4.6 0a2.3 2.3 0 1 0 -4.6 0M143.4 95.0a2.3 2.3 0 1 0 4.6 0a2.3 2.3 0 1 0 -4.6 0M121.6 121.6a2.3 2.3 0 1 0 4.6 0a2.3 2.3 0 1 0 -4.6 0M129.7 178.0a2.3 2.3 0 1 0 4.6 0a2.3 2.3 0 1 0 -4.6 0M122.1 109.1a2.3 2.3 0 1 0 4.6 0a2.3 2.3 0 1 0 -4.6 0M171.3 157.2a2.3 2.3 0 1 0 4.6 0a2.3 2.3 0 1 0 -4.6 0M119.2 161.6a2.3 2.3 0 1 0 4.6 0a2.3 2.3 0 1 0 -4.6 0M121.9 152.8a2.3 2.3 0 1 0 4.6 0a2.3 2.3 0 1 0 -4.6 0M169.3 136.8a2.3 2.3 0 1 0 4.6 0a2.3 2.3 0 1 0 -4.6 0M144.1 149.8a2.3 2.3 0 1 0 4.6 0a2.3 2.3 0 1 0 -4.6 0M146.7 133.4a2.3 2.3 0 1 0 4.6 0a2.3 2.3 0 1 0 -4.6 0M119.7 134.3a2.3 2.3 0 1 0 4.6 0a2.3 2.3 0 1 0 -4.6 0M158.7 97.1a2.3 2.3 0 1 0 4.6 0a2.3 2.3 0 1 0 -4.6 0M124.0 180.4a2.3 2.3 0 1 0 4.6 0a2.3 2.3 0 1 0 -4.6 0M127.0 170.6a2.3 2.3 0 1 0 4.6 0a2.3 2.3 0 1 0 -4.6 0M112.0 159.5a2.3 2.3 0 1 0 4.6 0a2.3 2.3 0 1 0 -4.6 0M112.2 131.7a2.3 2.3 0 1 0 4.6 0a2.3 2.3 0 1 0 -4.6 0M141.6 158.1a2.3 2.3 0 1 0 4.6 0a2.3 2.3 0 1 0 -4.6 0M133.4 134.2a2.3 2.3 0 1 0 4.6 0a2.3 2.3 0 1 0 -4.6 0M150.1 119.4a2.3 2.3 0 1 0 4.6 0a2.3 2.3 0 1 0 -4.6 0M175.9 125.1a2.3 2.3 0 1 0 4.6 0a2.3 2.3 0 1 0 -4.6 0M159.8 183.5a2.3 2.3 0 1 0 4.6 0a2.3 2.3 0 1 0 -4.6 0M106.2 133.4a2.3 2.3 0 1 0 4.6 0a2.3 2.3 0 1 0 -4.6 0M172.2 164.8a2.3 2.3 0 1 0 4.6 0a2.3 2.3 0 1 0 -4.6 0M171.9 145.6a2.3 2.3 0 1 0 4.6 0a2.3 2.3 0 1 0 -4.6 0M123.2 174.7a2.3 2.3 0 1 0 4.6 0a2.3 2.3 0 1 0 -4.6 0M166.0 149.0a2.3 2.3 0 1 0 4.6 0a2.3 2.3 0 1 0 -4.6 0M91.6 154.8a2.3 2.3 0 1 0 4.6 0a2.3 2.3 0 1 0 -4.6 0M147.4 168.2a2.3 2.3 0 1 0 4.6 0a2.3 2.3 0 1 0 -4.6 0M167.6 130.0a2.3 2.3 0 1 0 4.6 0a2.3 2.3 0 1 0 -4.6 0M107.1 176.5a2.3 2.3 0 1 0 4.6 0a2.3 2.3 0 1 0 -4.6 0M177.2 140.2a2.3 2.3 0 1 0 4.6 0a2.3 2.3 0 1 0 -4.6 0M126.7 102.8a2.3 2.3 0 1 0 4.6 0a2.3 2.3 0 1 0 -4.6 0M175.0 172.5a2.3 2.3 0 1 0 4.6 0a2.3 2.3 0 1 0 -4.6 0M146.5 103.3a2.3 2.3 0 1 0 4.6 0a2.3 2.3 0 1 0 -4.6 0M140.8 113.9a2.3 2.3 0 1 0 4.6 0a2.3 2.3 0 1 0 -4.6 0M134.1 144.5a2.3 2.3 0 1 0 4.6 0a2.3 2.3 0 1 0 -4.6 0M129.3 139.2a2.3 2.3 0 1 0 4.6 0a2.3 2.3 0 1 0 -4.6 0M96.2 145.8a2.3 2.3 0 1 0 4.6 0a2.3 2.3 0 1 0 -4.6 0M155.0 111.8a2.3 2.3 0 1 0 4.6 0a2.3 2.3 0 1 0 -4.6 0M90.9 124.8a2.3 2.3 0 1 0 4.6 0a2.3 2.3 0 1 0 -4.6 0M125.3 130.8a2.3 2.3 0 1 0 4.6 0a2.3 2.3 0 1 0 -4.6 0M165.9 142.3a2.3 2.3 0 1 0 4.6 0a2.3 2.3 0 1 0 -4.6 0M139.7 187.8a2.3 2.3 0 1 0 4.6 0a2.3 2.3 0 1 0 -4.6 0M132.7 164.9a2.3 2.3 0 1 0 4.6 0a2.3 2.3 0 1 0 -4.6 0M120.7 168.6a2.3 2.3 0 1 0 4.6 0a2.3 2.3 0 1 0 -4.6 0M122.0 141.0a2.3 2.3 0 1 0 4.6 0a2.3 2.3 0 1 0 -4.6 0M109.8 124.9a2.3 2.3 0 1 0 4.6 0a2.3 2.3 0 1 0 -4.6 0M158.3 142.9a2.3 2.3 0 1 0 4.6 0a2.3 2.3 0 1 0 -4.6 0M108.2 114.5a2.3 2.3 0 1 0 4.6 0a2.3 2.3 0 1 0 -4.6 0M128.2 152.9a2.3 2.3 0 1 0 4.6 0a2.3 2.3 0 1 0 -4.6 0M116.1 153.3a2.3 2.3 0 1 0 4.6 0a2.3 2.3 0 1 0 -4.6 0M186.6 130.6a2.3 2.3 0 1 0 4.6 0a2.3 2.3 0 1 0 -4.6 0M106.7 144.6a2.3 2.3 0 1 0 4.6 0a2.3 2.3 0 1 0 -4.6 0M103.3 127.9a2.3 2.3 0 1 0 4.6 0a2.3 2.3 0 1 0 -4.6 0M160.0 175.8a2.3 2.3 0 1 0 4.6 0a2.3 2.3 0 1 0 -4.6 0M107.6 164.1a2.3 2.3 0 1 0 4.6 0a2.3 2.3 0 1 0 -4.6 0M95.9 164.0a2.3 2.3 0 1 0 4.6 0a2.3 2.3 0 1 0 -4.6 0M184.8 155.8a2.3 2.3 0 1 0 4.6 0a2.3 2.3 0 1 0 -4.6 0M152.7 129.7a2.3 2.3 0 1 0 4.6 0a2.3 2.3 0 1 0 -4.6 0M124.1 186.2a2.3 2.3 0 1 0 4.6 0a2.3 2.3 0 1 0 -4.6 0M163.6 155.1a2.3 2.3 0 1 0 4.6 0a2.3 2.3 0 1 0 -4.6 0M145.6 187.3a2.3 2.3 0 1 0 4.6 0a2.3 2.3 0 1 0 -4.6 0M149.7 174.5a2.3 2.3 0 1 0 4.6 0a2.3 2.3 0 1 0 -4.6 0"/>
<path fill="#f08cf0" d="M101.1 98.5a2.3 2.3 0 1 0 4.6 0a2.3 2.3 0 1 0 -4.6 0M105.9 93.3a2.3 2.3 0 1 0 4.6 0a2.3 2.3 0 1 0 -4.6 0M115.9 87.5a2.3 2.3 0 1 0 4.6 0a2.3 2.3 0 1 0 -4.6 0M123.2 84.0a2.3 2.3 0 1 0 4.6 0a2.3 2.3 0 1 0 -4.6 0M133.8 81.7a2.3 2.3 0 1 0 4.6 0a2.3 2.3 0 1 0 -4.6 0M138.0 89.0a2.3 2.3 0 1 0 4.6 0a2.3 2.3 0 1 0 -4.6 0M144.4 81.3a2.3 2.3 0 1 0 4.6 0a2.3 2.3 0 1 0 -4.6 0M109.2 103.5a2.3 2.3 0 1 0 4.6 0a2.3 2.3 0 1 0 -4.6 0M122.2 93.7a2.3 2.3 0 1 0 4.6 0a2.3 2.3 0 1 0 -4.6 0M146.9 86.9a2.3 2.3 0 1 0 4.6 0a2.3 2.3 0 1 0 -4.6 0M104.4 109.6a2.3 2.3 0 1 0 4.6 0a2.3 2.3 0 1 0 -4.6 0M114.9 99.2a2.3 2.3 0 1 0 4.6 0a2.3 2.3 0 1 0 -4.6 0M130.3 90.0a2.3 2.3 0 1 0 4.6 0a2.3 2.3 0 1 0 -4.6 0M95.3 106.2a2.3 2.3 0 1 0 4.6 0a2.3 2.3 0 1 0 -4.6 0"/>
<circle cx="131.8" cy="25.3" r="5.1" fill="#ee88ee"/>
<circle cx="167.5" cy="33.3" r="5.1" fill="#ee88ee"/>
<circle cx="202.3" cy="52.3" r="3.8" fill="#ee88ee"/>
<circle cx="224.1" cy="79.4" r="3.8" fill="#ee88ee"/>
<circle cx="236.8" cy="111.6" r="4.2" fill="#ee88ee"/>
<circle cx="237.2" cy="147.7" r="3.8" fill="#ee88ee"/>
<circle cx="230.8" cy="183.2" r="5.3" fill="#ee88ee"/>
<circle cx="211.9" cy="213.2" r="4.0" fill="#ee88ee"/>
<circle cx="187.9" cy="234.5" r="3.6" fill="#c4c4c4"/>
<circle cx="156.9" cy="245.9" r="3.6" fill="#c8c8c8"/>
<circle cx="121.7" cy="251.5" r="3.2" fill="#c8c8c8"/>
<circle cx="89.2" cy="244.0" r="3.0" fill="#c8c8c8"/>
<circle cx="61.6" cy="228.2" r="4.0" fill="#ee88ee"/>
<circle cx="33.5" cy="197.3" r="4.6" fill="#ee88ee"/>
<circle cx="23.75" cy="166.2" r="2.4" fill="#ee88ee"/>
<circle cx="17.9" cy="137.0" r="2.6" fill="#ee88ee"/>
<circle cx="22.4" cy="108.0" r="2.6" fill="#ee88ee"/>
<circle cx="34.8" cy="77.3" r="5.8" fill="#ee88ee"/>
<circle cx="51.6" cy="55.3" r="2.8" fill="#ee88ee"/>
<circle cx="74.1" cy="38.0" r="3.4" fill="#ee88ee"/>
<circle cx="101.9" cy="26.9" r="2.7" fill="#eeee10"/>
<text x="131.1" y="25.7" font-size="8.6" fill="#1a1a1a" stroke="#1a1a1a" stroke-width="0.39" text-anchor="middle">StDAT1</text>
<text x="167.4" y="33.6" font-size="8.5" fill="#1a1a1a" stroke="#1a1a1a" stroke-width="0.38" text-anchor="middle">Sthp2</text>
<text x="202.3" y="51.9" font-size="7.0" fill="#222" stroke="#222" stroke-width="0.32" text-anchor="middle">StRAV</text>
<text x="224.6" y="79.0" font-size="7.05" fill="#222" stroke="#222" stroke-width="0.32" text-anchor="middle">StLBD1</text>
<text x="237.2" y="112.0" font-size="7.45" fill="#111" stroke="#111" stroke-width="0.34" text-anchor="middle">StLBD41</text>
<text x="237.9" y="148.1" font-size="7.2" fill="#222" stroke="#222" stroke-width="0.32" text-anchor="middle">StHRA1</text>
<text x="231.0" y="183.2" font-size="8.6" fill="#111" stroke="#111" stroke-width="0.39" text-anchor="middle">StMYC4</text>
<text x="211.9" y="212.9" font-size="7.4" fill="#222" stroke="#222" stroke-width="0.33" text-anchor="middle">StBHLH93</text>
<text x="187.5" y="234.3" font-size="7.2" fill="#1a1a1a" stroke="#1a1a1a" stroke-width="0.32" text-anchor="middle">StMYB77</text>
<text x="157.3" y="245.5" font-size="7.0" fill="#808080" stroke="#808080" stroke-width="0.32" text-anchor="middle">StUGT73B4a</text>
<text x="122.0" y="251.3" font-size="5.7" fill="#444" stroke="#444" stroke-width="0.26" text-anchor="middle">StMYB13</text>
<text x="90.0" y="243.6" font-size="5.8" fill="#444" stroke="#444" stroke-width="0.26" text-anchor="middle">StHB40</text>
<text x="61.6" y="227.5" font-size="7.9" fill="#111" stroke="#111" stroke-width="0.36" text-anchor="middle">StAOS</text>
<text x="33.9" y="196.9" font-size="8.7" fill="#111" stroke="#111" stroke-width="0.39" text-anchor="middle">StBHLH120</text>
<text x="23.75" y="165.9" font-size="5.1" fill="#222" stroke="#222" stroke-width="0.23" text-anchor="middle">StMKK9</text>
<text x="18.1" y="137.5" font-size="4.7" fill="#222" stroke="#222" stroke-width="0.21" text-anchor="middle">StAOC3</text>
<text x="21.9" y="108.0" font-size="4.9" fill="#222" stroke="#222" stroke-width="0.22" text-anchor="middle">Sthp1</text>
<text x="34.4" y="80.2" font-size="10.3" fill="#111" stroke="#111" stroke-width="0.46" text-anchor="middle">StfaeA</text>
<text x="50.9" y="55.7" font-size="5.0" fill="#222" stroke="#222" stroke-width="0.22" text-anchor="middle">StDSEL</text>
<text x="74.1" y="38.0" font-size="6.0" fill="#222" stroke="#222" stroke-width="0.27" text-anchor="middle">StERF13</text>
<text x="102.4" y="27.7" font-size="5.0" fill="#222" stroke="#222" stroke-width="0.22" text-anchor="middle">StBK</text>
</svg>
<svg width="290" height="260" viewBox="260 0 290 260" style="position:absolute;left:260px;top:0">
<rect x="311.83" y="77.96" width="4.5" height="0.34" fill="#6262f2"/>
<rect x="318.49" y="63.31" width="4.5" height="14.99" fill="#6262f2"/>
<path d="M320.74 64.81V61.06M319.59 61.06h2.3" stroke="#a0a0a8" stroke-width="0.5" fill="none"/>
<rect x="325.15" y="47.30" width="4.5" height="31.00" fill="#6262f2"/>
<path d="M327.40 48.80V43.29M326.25 43.29h2.3" stroke="#a0a0a8" stroke-width="0.5" fill="none"/>
<rect x="331.81" y="31.63" width="4.5" height="46.67" fill="#6262f2"/>
<path d="M334.06 33.13V25.90M332.91 25.90h2.3" stroke="#a0a0a8" stroke-width="0.5" fill="none"/>
<polyline points="294.10,78.30 300.76,66.31 307.42,78.30 314.08,64.13 320.74,49.60 327.40,44.15 334.06,40.15 340.72,74.30" fill="none" stroke="#f04050" stroke-width="0.8"/>
<path d="M290.3 23.8V78.3H345.5M345.5 23.8V78.3" fill="none" stroke="#777" stroke-width="0.5"/>
<path d="M289.1 78.30H290.3" stroke="#777" stroke-width="0.4"/>
<text x="288.7" y="79.50" font-size="3.40" text-anchor="end" fill="#222" stroke="#222" stroke-width="0.08">0</text>
<path d="M289.1 64.67H290.3" stroke="#777" stroke-width="0.4"/>
<text x="288.7" y="65.88" font-size="3.40" text-anchor="end" fill="#222" stroke="#222" stroke-width="0.08">2</text>
<path d="M289.1 51.05H290.3" stroke="#777" stroke-width="0.4"/>
<text x="288.7" y="52.25" font-size="3.40" text-anchor="end" fill="#222" stroke="#222" stroke-width="0.08">4</text>
<path d="M289.1 37.42H290.3" stroke="#777" stroke-width="0.4"/>
<text x="288.7" y="38.62" font-size="3.40" text-anchor="end" fill="#222" stroke="#222" stroke-width="0.08">6</text>
<path d="M289.1 23.80H290.3" stroke="#777" stroke-width="0.4"/>
<text x="288.7" y="25.00" font-size="3.40" text-anchor="end" fill="#222" stroke="#222" stroke-width="0.08">8</text>
<path d="M345.5 78.30H346.7" stroke="#777" stroke-width="0.4"/>
<text x="347.3" y="79.50" font-size="3.40" fill="#222" stroke="#222" stroke-width="0.08">0</text>
<path d="M345.5 60.13H346.7" stroke="#777" stroke-width="0.4"/>
<text x="347.3" y="61.33" font-size="3.40" fill="#222" stroke="#222" stroke-width="0.08">5</text>
<path d="M345.5 41.97H346.7" stroke="#777" stroke-width="0.4"/>
<text x="347.3" y="43.17" font-size="3.40" fill="#222" stroke="#222" stroke-width="0.08">10</text>
<path d="M345.5 23.80H346.7" stroke="#777" stroke-width="0.4"/>
<text x="347.3" y="25.00" font-size="3.40" fill="#222" stroke="#222" stroke-width="0.08">15</text>
<text transform="translate(292.80 81.20) rotate(48)" font-size="4.30" fill="#333" stroke="#333" stroke-width="0.1">Ck</text>
<text transform="translate(299.46 81.20) rotate(48)" font-size="4.30" fill="#333" stroke="#333" stroke-width="0.1">S1</text>
<text transform="translate(306.12 81.20) rotate(48)" font-size="4.30" fill="#333" stroke="#333" stroke-width="0.1">S2</text>
<text transform="translate(312.78 81.20) rotate(48)" font-size="4.30" fill="#333" stroke="#333" stroke-width="0.1">S3a</text>
<text transform="translate(319.44 81.20) rotate(48)" font-size="4.30" fill="#333" stroke="#333" stroke-width="0.1">S4a</text>
<text transform="translate(326.10 81.20) rotate(48)" font-size="4.30" fill="#333" stroke="#333" stroke-width="0.1">S4b</text>
<text transform="translate(332.76 81.20) rotate(48)" font-size="4.30" fill="#333" stroke="#333" stroke-width="0.1">T1</text>
<text transform="translate(339.42 81.20) rotate(48)" font-size="4.30" fill="#333" stroke="#333" stroke-width="0.1">T2</text>
<text x="306.50" y="24.90" font-size="4.60" font-weight="bold" font-style="italic" fill="#111" stroke="#111" stroke-width="0.1">StERF13</text>
<text transform="translate(283.50 51.55) rotate(-90)" font-size="4.70" text-anchor="middle" fill="#222" stroke="#222" stroke-width="0.08">Relative expression</text>
<text transform="translate(355.10 51.05) rotate(90)" font-size="4.70" font-style="italic" font-weight="bold" text-anchor="middle" fill="#333" stroke="#333" stroke-width="0.06">FPKM</text>
<rect x="388.27" y="76.26" width="4.5" height="2.04" fill="#6262f2"/>
<rect x="408.13" y="77.28" width="4.5" height="1.02" fill="#6262f2"/>
<rect x="414.75" y="35.38" width="4.5" height="42.92" fill="#6262f2"/>
<path d="M417.00 36.88V34.58M415.85 34.58h2.3" stroke="#a0a0a8" stroke-width="0.5" fill="none"/>
<rect x="421.37" y="29.25" width="4.5" height="49.05" fill="#6262f2"/>
<path d="M423.62 30.75V28.35M422.47 28.35h2.3" stroke="#a0a0a8" stroke-width="0.5" fill="none"/>
<polyline points="383.90,78.30 390.52,76.12 397.14,78.30 403.76,74.21 410.38,78.30 417.00,46.42 423.62,37.42 430.24,78.30" fill="none" stroke="#f04050" stroke-width="0.8"/>
<path d="M379.6 23.8V78.3H435.0M435.0 23.8V78.3" fill="none" stroke="#777" stroke-width="0.5"/>
<path d="M378.40000000000003 78.30H379.6" stroke="#777" stroke-width="0.4"/>
<text x="378.0" y="79.50" font-size="3.40" text-anchor="end" fill="#222" stroke="#222" stroke-width="0.08">0</text>
<path d="M378.40000000000003 64.67H379.6" stroke="#777" stroke-width="0.4"/>
<text x="378.0" y="65.88" font-size="3.40" text-anchor="end" fill="#222" stroke="#222" stroke-width="0.08">2</text>
<path d="M378.40000000000003 51.05H379.6" stroke="#777" stroke-width="0.4"/>
<text x="378.0" y="52.25" font-size="3.40" text-anchor="end" fill="#222" stroke="#222" stroke-width="0.08">4</text>
<path d="M378.40000000000003 37.42H379.6" stroke="#777" stroke-width="0.4"/>
<text x="378.0" y="38.62" font-size="3.40" text-anchor="end" fill="#222" stroke="#222" stroke-width="0.08">6</text>
<path d="M378.40000000000003 23.80H379.6" stroke="#777" stroke-width="0.4"/>
<text x="378.0" y="25.00" font-size="3.40" text-anchor="end" fill="#222" stroke="#222" stroke-width="0.08">8</text>
<path d="M435.0 78.30H436.2" stroke="#777" stroke-width="0.4"/>
<text x="436.8" y="79.50" font-size="3.40" fill="#222" stroke="#222" stroke-width="0.08">0</text>
<path d="M435.0 64.67H436.2" stroke="#777" stroke-width="0.4"/>
<text x="436.8" y="65.88" font-size="3.40" fill="#222" stroke="#222" stroke-width="0.08">50</text>
<path d="M435.0 51.05H436.2" stroke="#777" stroke-width="0.4"/>
<text x="436.8" y="52.25" font-size="3.40" fill="#222" stroke="#222" stroke-width="0.08">100</text>
<path d="M435.0 37.42H436.2" stroke="#777" stroke-width="0.4"/>
<text x="436.8" y="38.62" font-size="3.40" fill="#222" stroke="#222" stroke-width="0.08">150</text>
<path d="M435.0 23.80H436.2" stroke="#777" stroke-width="0.4"/>
<text x="436.8" y="25.00" font-size="3.40" fill="#222" stroke="#222" stroke-width="0.08">200</text>
<text transform="translate(382.60 81.20) rotate(48)" font-size="4.30" fill="#333" stroke="#333" stroke-width="0.1">Ck</text>
<text transform="translate(389.22 81.20) rotate(48)" font-size="4.30" fill="#333" stroke="#333" stroke-width="0.1">S1</text>
<text transform="translate(395.84 81.20) rotate(48)" font-size="4.30" fill="#333" stroke="#333" stroke-width="0.1">S2</text>
<text transform="translate(402.46 81.20) rotate(48)" font-size="4.30" fill="#333" stroke="#333" stroke-width="0.1">S3a</text>
<text transform="translate(409.08 81.20) rotate(48)" font-size="4.30" fill="#333" stroke="#333" stroke-width="0.1">S4a</text>
<text transform="translate(415.70 81.20) rotate(48)" font-size="4.30" fill="#333" stroke="#333" stroke-width="0.1">S4b</text>
<text transform="translate(422.32 81.20) rotate(48)" font-size="4.30" fill="#333" stroke="#333" stroke-width="0.1">T1</text>
<text transform="translate(428.94 81.20) rotate(48)" font-size="4.30" fill="#333" stroke="#333" stroke-width="0.1">T2</text>
<text x="395.80" y="24.90" font-size="4.60" font-weight="bold" font-style="italic" fill="#111" stroke="#111" stroke-width="0.1">StMYC4</text>
<text transform="translate(372.80 51.55) rotate(-90)" font-size="4.70" text-anchor="middle" fill="#222" stroke="#222" stroke-width="0.08">Relative expression</text>
<text transform="translate(444.60 51.05) rotate(90)" font-size="4.70" font-style="italic" font-weight="bold" text-anchor="middle" fill="#333" stroke="#333" stroke-width="0.06">FPKM</text>
<rect x="494.95" y="75.51" width="4.5" height="2.89" fill="#6262f2"/>
<path d="M497.20 77.01V75.37M496.05 75.37h2.3" stroke="#a0a0a8" stroke-width="0.5" fill="none"/>
<rect x="501.55" y="58.89" width="4.5" height="19.51" fill="#6262f2"/>
<path d="M503.80 60.39V58.48M502.65 58.48h2.3" stroke="#a0a0a8" stroke-width="0.5" fill="none"/>
<rect x="508.15" y="41.18" width="4.5" height="37.22" fill="#6262f2"/>
<path d="M510.40 42.68V40.48M509.25 40.48h2.3" stroke="#a0a0a8" stroke-width="0.5" fill="none"/>
<rect x="514.75" y="48.77" width="4.5" height="29.63" fill="#6262f2"/>
<path d="M517.00 50.27V48.19M515.85 48.19h2.3" stroke="#a0a0a8" stroke-width="0.5" fill="none"/>
<polyline points="477.40,78.40 484.00,78.04 490.60,78.04 497.20,73.88 503.80,60.33 510.40,31.07 517.00,46.78 523.60,74.79" fill="none" stroke="#f04050" stroke-width="0.8"/>
<path d="M473.2 24.2V78.4H528.3M528.3 24.2V78.4" fill="none" stroke="#777" stroke-width="0.5"/>
<path d="M472.0 78.40H473.2" stroke="#777" stroke-width="0.4"/>
<text x="471.59999999999997" y="79.60" font-size="3.40" text-anchor="end" fill="#222" stroke="#222" stroke-width="0.08">0</text>
<path d="M472.0 60.33H473.2" stroke="#777" stroke-width="0.4"/>
<text x="471.59999999999997" y="61.53" font-size="3.40" text-anchor="end" fill="#222" stroke="#222" stroke-width="0.08">5</text>
<path d="M472.0 42.27H473.2" stroke="#777" stroke-width="0.4"/>
<text x="471.59999999999997" y="43.47" font-size="3.40" text-anchor="end" fill="#222" stroke="#222" stroke-width="0.08">10</text>
<path d="M472.0 24.20H473.2" stroke="#777" stroke-width="0.4"/>
<text x="471.59999999999997" y="25.40" font-size="3.40" text-anchor="end" fill="#222" stroke="#222" stroke-width="0.08">15</text>
<path d="M528.3 78.40H529.5" stroke="#777" stroke-width="0.4"/>
<text x="530.0999999999999" y="79.60" font-size="3.40" fill="#222" stroke="#222" stroke-width="0.08">0</text>
<path d="M528.3 60.33H529.5" stroke="#777" stroke-width="0.4"/>
<text x="530.0999999999999" y="61.53" font-size="3.40" fill="#222" stroke="#222" stroke-width="0.08">100</text>
<path d="M528.3 42.27H529.5" stroke="#777" stroke-width="0.4"/>
<text x="530.0999999999999" y="43.47" font-size="3.40" fill="#222" stroke="#222" stroke-width="0.08">200</text>
<path d="M528.3 24.20H529.5" stroke="#777" stroke-width="0.4"/>
<text x="530.0999999999999" y="25.40" font-size="3.40" fill="#222" stroke="#222" stroke-width="0.08">300</text>
<text transform="translate(476.10 81.30) rotate(48)" font-size="4.30" fill="#333" stroke="#333" stroke-width="0.1">Ck</text>
<text transform="translate(482.70 81.30) rotate(48)" font-size="4.30" fill="#333" stroke="#333" stroke-width="0.1">S1</text>
<text transform="translate(489.30 81.30) rotate(48)" font-size="4.30" fill="#333" stroke="#333" stroke-width="0.1">S2</text>
<text transform="translate(495.90 81.30) rotate(48)" font-size="4.30" fill="#333" stroke="#333" stroke-width="0.1">S3a</text>
<text transform="translate(502.50 81.30) rotate(48)" font-size="4.30" fill="#333" stroke="#333" stroke-width="0.1">S4a</text>
<text transform="translate(509.10 81.30) rotate(48)" font-size="4.30" fill="#333" stroke="#333" stroke-width="0.1">S4b</text>
<text transform="translate(515.70 81.30) rotate(48)" font-size="4.30" fill="#333" stroke="#333" stroke-width="0.1">T1</text>
<text transform="translate(522.30 81.30) rotate(48)" font-size="4.30" fill="#333" stroke="#333" stroke-width="0.1">T2</text>
<text x="489.40" y="25.30" font-size="4.60" font-weight="bold" font-style="italic" fill="#111" stroke="#111" stroke-width="0.1">StAOS</text>
<text transform="translate(466.40 51.80) rotate(-90)" font-size="4.70" text-anchor="middle" fill="#222" stroke="#222" stroke-width="0.08">Relative expression</text>
<text transform="translate(537.90 51.30) rotate(90)" font-size="4.70" font-style="italic" font-weight="bold" text-anchor="middle" fill="#333" stroke="#333" stroke-width="0.06">FPKM</text>
<rect x="298.43" y="155.24" width="4.5" height="5.16" fill="#6262f2"/>
<path d="M300.68 156.74V154.54M299.53 154.54h2.3" stroke="#a0a0a8" stroke-width="0.5" fill="none"/>
<rect x="305.01" y="159.00" width="4.5" height="1.40" fill="#6262f2"/>
<rect x="311.59" y="158.30" width="4.5" height="2.10" fill="#6262f2"/>
<path d="M313.84 159.80V157.80M312.69 157.80h2.3" stroke="#a0a0a8" stroke-width="0.5" fill="none"/>
<rect x="318.17" y="156.71" width="4.5" height="3.69" fill="#6262f2"/>
<path d="M320.42 158.21V156.11M319.27 156.11h2.3" stroke="#a0a0a8" stroke-width="0.5" fill="none"/>
<rect x="324.75" y="140.49" width="4.5" height="19.91" fill="#6262f2"/>
<path d="M327.00 141.99V138.82M325.85 138.82h2.3" stroke="#a0a0a8" stroke-width="0.5" fill="none"/>
<rect x="331.33" y="128.10" width="4.5" height="32.30" fill="#6262f2"/>
<path d="M333.58 129.60V125.61M332.43 125.61h2.3" stroke="#a0a0a8" stroke-width="0.5" fill="none"/>
<rect x="337.91" y="156.34" width="4.5" height="4.06" fill="#6262f2"/>
<path d="M340.16 157.84V155.72M339.01 155.72h2.3" stroke="#a0a0a8" stroke-width="0.5" fill="none"/>
<polyline points="294.10,160.40 300.68,152.88 307.26,155.20 313.84,147.13 320.42,136.07 327.00,121.91 333.58,117.93 340.16,150.00" fill="none" stroke="#f04050" stroke-width="0.8"/>
<path d="M290.0 105.1V160.4H345.3M345.3 105.1V160.4" fill="none" stroke="#777" stroke-width="0.5"/>
<path d="M288.8 160.40H290.0" stroke="#777" stroke-width="0.4"/>
<text x="288.4" y="161.60" font-size="3.40" text-anchor="end" fill="#222" stroke="#222" stroke-width="0.08">0</text>
<path d="M288.8 141.97H290.0" stroke="#777" stroke-width="0.4"/>
<text x="288.4" y="143.17" font-size="3.40" text-anchor="end" fill="#222" stroke="#222" stroke-width="0.08">5</text>
<path d="M288.8 123.53H290.0" stroke="#777" stroke-width="0.4"/>
<text x="288.4" y="124.73" font-size="3.40" text-anchor="end" fill="#222" stroke="#222" stroke-width="0.08">10</text>
<path d="M288.8 105.10H290.0" stroke="#777" stroke-width="0.4"/>
<text x="288.4" y="106.30" font-size="3.40" text-anchor="end" fill="#222" stroke="#222" stroke-width="0.08">15</text>
<path d="M345.3 160.40H346.5" stroke="#777" stroke-width="0.4"/>
<text x="347.1" y="161.60" font-size="3.40" fill="#222" stroke="#222" stroke-width="0.08">0</text>
<path d="M345.3 149.34H346.5" stroke="#777" stroke-width="0.4"/>
<text x="347.1" y="150.54" font-size="3.40" fill="#222" stroke="#222" stroke-width="0.08">50</text>
<path d="M345.3 138.28H346.5" stroke="#777" stroke-width="0.4"/>
<text x="347.1" y="139.48" font-size="3.40" fill="#222" stroke="#222" stroke-width="0.08">100</text>
<path d="M345.3 127.22H346.5" stroke="#777" stroke-width="0.4"/>
<text x="347.1" y="128.42" font-size="3.40" fill="#222" stroke="#222" stroke-width="0.08">150</text>
<path d="M345.3 116.16H346.5" stroke="#777" stroke-width="0.4"/>
<text x="347.1" y="117.36" font-size="3.40" fill="#222" stroke="#222" stroke-width="0.08">200</text>
<path d="M345.3 105.10H346.5" stroke="#777" stroke-width="0.4"/>
<text x="347.1" y="106.30" font-size="3.40" fill="#222" stroke="#222" stroke-width="0.08">250</text>
<text transform="translate(292.80 163.30) rotate(48)" font-size="4.30" fill="#333" stroke="#333" stroke-width="0.1">Ck</text>
<text transform="translate(299.38 163.30) rotate(48)" font-size="4.30" fill="#333" stroke="#333" stroke-width="0.1">S1</text>
<text transform="translate(305.96 163.30) rotate(48)" font-size="4.30" fill="#333" stroke="#333" stroke-width="0.1">S2</text>
<text transform="translate(312.54 163.30) rotate(48)" font-size="4.30" fill="#333" stroke="#333" stroke-width="0.1">S3a</text>
<text transform="translate(319.12 163.30) rotate(48)" font-size="4.30" fill="#333" stroke="#333" stroke-width="0.1">S4a</text>
<text transform="translate(325.70 163.30) rotate(48)" font-size="4.30" fill="#333" stroke="#333" stroke-width="0.1">S4b</text>
<text transform="translate(332.28 163.30) rotate(48)" font-size="4.30" fill="#333" stroke="#333" stroke-width="0.1">T1</text>
<text transform="translate(338.86 163.30) rotate(48)" font-size="4.30" fill="#333" stroke="#333" stroke-width="0.1">T2</text>
<text x="306.20" y="106.20" font-size="4.60" font-weight="bold" font-style="italic" fill="#111" stroke="#111" stroke-width="0.1">StfaeA</text>
<text transform="translate(283.20 133.25) rotate(-90)" font-size="4.70" text-anchor="middle" fill="#222" stroke="#222" stroke-width="0.08">Relative expression</text>
<text transform="translate(354.90 132.75) rotate(90)" font-size="4.70" font-style="italic" font-weight="bold" text-anchor="middle" fill="#333" stroke="#333" stroke-width="0.06">FPKM</text>
<rect x="388.85" y="150.03" width="4.5" height="10.37" fill="#6262f2"/>
<path d="M391.10 151.53V148.81M389.95 148.81h2.3" stroke="#a0a0a8" stroke-width="0.5" fill="none"/>
<rect x="401.95" y="157.08" width="4.5" height="3.32" fill="#6262f2"/>
<rect x="408.50" y="139.32" width="4.5" height="21.08" fill="#6262f2"/>
<path d="M410.75 140.82V137.27M409.60 137.27h2.3" stroke="#a0a0a8" stroke-width="0.5" fill="none"/>
<rect x="415.05" y="116.16" width="4.5" height="44.24" fill="#6262f2"/>
<path d="M417.30 117.66V112.33M416.15 112.33h2.3" stroke="#a0a0a8" stroke-width="0.5" fill="none"/>
<rect x="421.60" y="117.13" width="4.5" height="43.27" fill="#6262f2"/>
<path d="M423.85 118.63V113.38M422.70 113.38h2.3" stroke="#a0a0a8" stroke-width="0.5" fill="none"/>
<rect x="428.15" y="158.81" width="4.5" height="1.59" fill="#6262f2"/>
<polyline points="384.55,151.14 391.10,150.86 397.65,139.25 404.20,135.65 410.75,137.59 417.30,117.96 423.85,121.97 430.40,156.25" fill="none" stroke="#f04050" stroke-width="0.8"/>
<path d="M379.8 105.1V160.4H435.0M435.0 105.1V160.4" fill="none" stroke="#777" stroke-width="0.5"/>
<path d="M378.6 160.40H379.8" stroke="#777" stroke-width="0.4"/>
<text x="378.2" y="161.60" font-size="3.40" text-anchor="end" fill="#222" stroke="#222" stroke-width="0.08">0</text>
<path d="M378.6 146.57H379.8" stroke="#777" stroke-width="0.4"/>
<text x="378.2" y="147.77" font-size="3.40" text-anchor="end" fill="#222" stroke="#222" stroke-width="0.08">2</text>
<path d="M378.6 132.75H379.8" stroke="#777" stroke-width="0.4"/>
<text x="378.2" y="133.95" font-size="3.40" text-anchor="end" fill="#222" stroke="#222" stroke-width="0.08">4</text>
<path d="M378.6 118.92H379.8" stroke="#777" stroke-width="0.4"/>
<text x="378.2" y="120.12" font-size="3.40" text-anchor="end" fill="#222" stroke="#222" stroke-width="0.08">6</text>
<path d="M378.6 105.10H379.8" stroke="#777" stroke-width="0.4"/>
<text x="378.2" y="106.30" font-size="3.40" text-anchor="end" fill="#222" stroke="#222" stroke-width="0.08">8</text>
<path d="M435.0 160.40H436.2" stroke="#777" stroke-width="0.4"/>
<text x="436.8" y="161.60" font-size="3.40" fill="#222" stroke="#222" stroke-width="0.08">0</text>
<path d="M435.0 146.57H436.2" stroke="#777" stroke-width="0.4"/>
<text x="436.8" y="147.77" font-size="3.40" fill="#222" stroke="#222" stroke-width="0.08">10</text>
<path d="M435.0 132.75H436.2" stroke="#777" stroke-width="0.4"/>
<text x="436.8" y="133.95" font-size="3.40" fill="#222" stroke="#222" stroke-width="0.08">20</text>
<path d="M435.0 118.92H436.2" stroke="#777" stroke-width="0.4"/>
<text x="436.8" y="120.12" font-size="3.40" fill="#222" stroke="#222" stroke-width="0.08">30</text>
<path d="M435.0 105.10H436.2" stroke="#777" stroke-width="0.4"/>
<text x="436.8" y="106.30" font-size="3.40" fill="#222" stroke="#222" stroke-width="0.08">40</text>
<text transform="translate(383.25 163.30) rotate(48)" font-size="4.30" fill="#333" stroke="#333" stroke-width="0.1">Ck</text>
<text transform="translate(389.80 163.30) rotate(48)" font-size="4.30" fill="#333" stroke="#333" stroke-width="0.1">S1</text>
<text transform="translate(396.35 163.30) rotate(48)" font-size="4.30" fill="#333" stroke="#333" stroke-width="0.1">S2</text>
<text transform="translate(402.90 163.30) rotate(48)" font-size="4.30" fill="#333" stroke="#333" stroke-width="0.1">S3a</text>
<text transform="translate(409.45 163.30) rotate(48)" font-size="4.30" fill="#333" stroke="#333" stroke-width="0.1">S4a</text>
<text transform="translate(416.00 163.30) rotate(48)" font-size="4.30" fill="#333" stroke="#333" stroke-width="0.1">S4b</text>
<text transform="translate(422.55 163.30) rotate(48)" font-size="4.30" fill="#333" stroke="#333" stroke-width="0.1">T1</text>
<text transform="translate(429.10 163.30) rotate(48)" font-size="4.30" fill="#333" stroke="#333" stroke-width="0.1">T2</text>
<text x="396.00" y="106.20" font-size="4.60" font-weight="bold" font-style="italic" fill="#111" stroke="#111" stroke-width="0.1">StBK</text>
<text transform="translate(373.00 133.25) rotate(-90)" font-size="4.70" text-anchor="middle" fill="#222" stroke="#222" stroke-width="0.08">Relative expression</text>
<text transform="translate(444.60 132.75) rotate(90)" font-size="4.70" font-style="italic" font-weight="bold" text-anchor="middle" fill="#333" stroke="#333" stroke-width="0.06">FPKM</text>
<rect x="475.35" y="158.00" width="4.5" height="2.10" fill="#6262f2"/>
<rect x="496.86" y="156.72" width="4.5" height="3.38" fill="#6262f2"/>
<rect x="504.03" y="116.98" width="4.5" height="43.12" fill="#6262f2"/>
<path d="M506.28 118.48V115.38M505.13 115.38h2.3" stroke="#a0a0a8" stroke-width="0.5" fill="none"/>
<rect x="511.20" y="111.27" width="4.5" height="48.83" fill="#6262f2"/>
<path d="M513.45 112.77V109.48M512.30 109.48h2.3" stroke="#a0a0a8" stroke-width="0.5" fill="none"/>
<rect x="518.37" y="134.93" width="4.5" height="25.17" fill="#6262f2"/>
<path d="M520.62 136.43V133.92M519.47 133.92h2.3" stroke="#a0a0a8" stroke-width="0.5" fill="none"/>
<polyline points="477.60,159.35 484.77,159.35 491.94,159.35 499.11,152.59 506.28,112.77 513.45,115.03 520.62,113.52 527.79,160.10" fill="none" stroke="#f04050" stroke-width="0.8"/>
<path d="M472.4 100.0V160.1H531.7M531.7 100.0V160.1" fill="none" stroke="#777" stroke-width="0.5"/>
<path d="M471.2 160.10H472.4" stroke="#777" stroke-width="0.4"/>
<text x="470.79999999999995" y="161.30" font-size="3.67" text-anchor="end" fill="#222" stroke="#222" stroke-width="0.08">0</text>
<path d="M471.2 145.07H472.4" stroke="#777" stroke-width="0.4"/>
<text x="470.79999999999995" y="146.27" font-size="3.67" text-anchor="end" fill="#222" stroke="#222" stroke-width="0.08">2</text>
<path d="M471.2 130.05H472.4" stroke="#777" stroke-width="0.4"/>
<text x="470.79999999999995" y="131.25" font-size="3.67" text-anchor="end" fill="#222" stroke="#222" stroke-width="0.08">4</text>
<path d="M471.2 115.03H472.4" stroke="#777" stroke-width="0.4"/>
<text x="470.79999999999995" y="116.23" font-size="3.67" text-anchor="end" fill="#222" stroke="#222" stroke-width="0.08">6</text>
<path d="M471.2 100.00H472.4" stroke="#777" stroke-width="0.4"/>
<text x="470.79999999999995" y="101.20" font-size="3.67" text-anchor="end" fill="#222" stroke="#222" stroke-width="0.08">8</text>
<path d="M531.7 160.10H532.9000000000001" stroke="#777" stroke-width="0.4"/>
<text x="533.5" y="161.30" font-size="3.67" fill="#222" stroke="#222" stroke-width="0.08">0</text>
<path d="M531.7 145.07H532.9000000000001" stroke="#777" stroke-width="0.4"/>
<text x="533.5" y="146.27" font-size="3.67" fill="#222" stroke="#222" stroke-width="0.08">20</text>
<path d="M531.7 130.05H532.9000000000001" stroke="#777" stroke-width="0.4"/>
<text x="533.5" y="131.25" font-size="3.67" fill="#222" stroke="#222" stroke-width="0.08">40</text>
<path d="M531.7 115.03H532.9000000000001" stroke="#777" stroke-width="0.4"/>
<text x="533.5" y="116.23" font-size="3.67" fill="#222" stroke="#222" stroke-width="0.08">60</text>
<path d="M531.7 100.00H532.9000000000001" stroke="#777" stroke-width="0.4"/>
<text x="533.5" y="101.20" font-size="3.67" fill="#222" stroke="#222" stroke-width="0.08">80</text>
<text transform="translate(476.30 163.00) rotate(48)" font-size="4.64" fill="#333" stroke="#333" stroke-width="0.1">Ck</text>
<text transform="translate(483.47 163.00) rotate(48)" font-size="4.64" fill="#333" stroke="#333" stroke-width="0.1">S1</text>
<text transform="translate(490.64 163.00) rotate(48)" font-size="4.64" fill="#333" stroke="#333" stroke-width="0.1">S2</text>
<text transform="translate(497.81 163.00) rotate(48)" font-size="4.64" fill="#333" stroke="#333" stroke-width="0.1">S3a</text>
<text transform="translate(504.98 163.00) rotate(48)" font-size="4.64" fill="#333" stroke="#333" stroke-width="0.1">S4a</text>
<text transform="translate(512.15 163.00) rotate(48)" font-size="4.64" fill="#333" stroke="#333" stroke-width="0.1">S4b</text>
<text transform="translate(519.32 163.00) rotate(48)" font-size="4.64" fill="#333" stroke="#333" stroke-width="0.1">T1</text>
<text transform="translate(526.49 163.00) rotate(48)" font-size="4.64" fill="#333" stroke="#333" stroke-width="0.1">T2</text>
<text x="489.90" y="101.10" font-size="4.97" font-weight="bold" font-style="italic" fill="#111" stroke="#111" stroke-width="0.1">StBHLH93</text>
<text transform="translate(465.06 130.55) rotate(-90)" font-size="5.08" text-anchor="middle" fill="#222" stroke="#222" stroke-width="0.08">Relative expression</text>
<text transform="translate(542.07 130.05) rotate(90)" font-size="5.08" font-style="italic" font-weight="bold" text-anchor="middle" fill="#333" stroke="#333" stroke-width="0.06">FPKM</text>
<rect x="292.40" y="232.09" width="4.5" height="2.31" fill="#6262f2"/>
<rect x="299.03" y="232.90" width="4.5" height="1.50" fill="#6262f2"/>
<rect x="305.66" y="234.06" width="4.5" height="0.34" fill="#6262f2"/>
<rect x="312.29" y="220.80" width="4.5" height="13.60" fill="#6262f2"/>
<path d="M314.54 222.30V220.28M313.39 220.28h2.3" stroke="#a0a0a8" stroke-width="0.5" fill="none"/>
<rect x="318.92" y="216.04" width="4.5" height="18.36" fill="#6262f2"/>
<path d="M321.17 217.54V215.39M320.02 215.39h2.3" stroke="#a0a0a8" stroke-width="0.5" fill="none"/>
<rect x="325.55" y="190.54" width="4.5" height="43.86" fill="#6262f2"/>
<path d="M327.80 192.04V189.18M326.65 189.18h2.3" stroke="#a0a0a8" stroke-width="0.5" fill="none"/>
<rect x="332.18" y="185.71" width="4.5" height="48.69" fill="#6262f2"/>
<path d="M334.43 187.21V184.22M333.28 184.22h2.3" stroke="#a0a0a8" stroke-width="0.5" fill="none"/>
<rect x="338.81" y="233.72" width="4.5" height="0.68" fill="#6262f2"/>
<polyline points="294.65,234.40 301.28,234.40 307.91,234.40 314.54,216.04 321.17,217.40 327.80,199.99 334.43,192.92 341.06,234.40" fill="none" stroke="#f04050" stroke-width="0.8"/>
<path d="M290.3 180V234.4H345.5M345.5 180V234.4" fill="none" stroke="#777" stroke-width="0.5"/>
<path d="M289.1 234.40H290.3" stroke="#777" stroke-width="0.4"/>
<text x="288.7" y="235.60" font-size="3.40" text-anchor="end" fill="#222" stroke="#222" stroke-width="0.08">0</text>
<path d="M289.1 220.80H290.3" stroke="#777" stroke-width="0.4"/>
<text x="288.7" y="222.00" font-size="3.40" text-anchor="end" fill="#222" stroke="#222" stroke-width="0.08">2</text>
<path d="M289.1 207.20H290.3" stroke="#777" stroke-width="0.4"/>
<text x="288.7" y="208.40" font-size="3.40" text-anchor="end" fill="#222" stroke="#222" stroke-width="0.08">4</text>
<path d="M289.1 193.60H290.3" stroke="#777" stroke-width="0.4"/>
<text x="288.7" y="194.80" font-size="3.40" text-anchor="end" fill="#222" stroke="#222" stroke-width="0.08">6</text>
<path d="M289.1 180.00H290.3" stroke="#777" stroke-width="0.4"/>
<text x="288.7" y="181.20" font-size="3.40" text-anchor="end" fill="#222" stroke="#222" stroke-width="0.08">8</text>
<path d="M345.5 234.40H346.7" stroke="#777" stroke-width="0.4"/>
<text x="347.3" y="235.60" font-size="3.40" fill="#222" stroke="#222" stroke-width="0.08">0</text>
<path d="M345.5 220.80H346.7" stroke="#777" stroke-width="0.4"/>
<text x="347.3" y="222.00" font-size="3.40" fill="#222" stroke="#222" stroke-width="0.08">100</text>
<path d="M345.5 207.20H346.7" stroke="#777" stroke-width="0.4"/>
<text x="347.3" y="208.40" font-size="3.40" fill="#222" stroke="#222" stroke-width="0.08">200</text>
<path d="M345.5 193.60H346.7" stroke="#777" stroke-width="0.4"/>
<text x="347.3" y="194.80" font-size="3.40" fill="#222" stroke="#222" stroke-width="0.08">300</text>
<path d="M345.5 180.00H346.7" stroke="#777" stroke-width="0.4"/>
<text x="347.3" y="181.20" font-size="3.40" fill="#222" stroke="#222" stroke-width="0.08">400</text>
<text transform="translate(293.35 237.30) rotate(48)" font-size="4.30" fill="#333" stroke="#333" stroke-width="0.1">Ck</text>
<text transform="translate(299.98 237.30) rotate(48)" font-size="4.30" fill="#333" stroke="#333" stroke-width="0.1">S1</text>
<text transform="translate(306.61 237.30) rotate(48)" font-size="4.30" fill="#333" stroke="#333" stroke-width="0.1">S2</text>
<text transform="translate(313.24 237.30) rotate(48)" font-size="4.30" fill="#333" stroke="#333" stroke-width="0.1">S3a</text>
<text transform="translate(319.87 237.30) rotate(48)" font-size="4.30" fill="#333" stroke="#333" stroke-width="0.1">S4a</text>
<text transform="translate(326.50 237.30) rotate(48)" font-size="4.30" fill="#333" stroke="#333" stroke-width="0.1">S4b</text>
<text transform="translate(333.13 237.30) rotate(48)" font-size="4.30" fill="#333" stroke="#333" stroke-width="0.1">T1</text>
<text transform="translate(339.76 237.30) rotate(48)" font-size="4.30" fill="#333" stroke="#333" stroke-width="0.1">T2</text>
<text x="306.50" y="181.10" font-size="4.60" font-weight="bold" font-style="italic" fill="#111" stroke="#111" stroke-width="0.1">StLBD41</text>
<text transform="translate(283.50 207.70) rotate(-90)" font-size="4.70" text-anchor="middle" fill="#222" stroke="#222" stroke-width="0.08">Relative expression</text>
<text transform="translate(355.10 207.20) rotate(90)" font-size="4.70" font-style="italic" font-weight="bold" text-anchor="middle" fill="#333" stroke="#333" stroke-width="0.06">FPKM</text>
<path d="M293.5 248.2h5.8" stroke="#6262f2" stroke-width="1"/>
<text x="302.8" y="249.29999999999998" font-size="2.8" fill="#333">qRT-PCR</text>
<path d="M322.8 248.2h6" stroke="#f04050" stroke-width="0.8"/>
<text x="332.3" y="249.29999999999998" font-size="2.8" fill="#333">RNA-Seq</text>
<rect x="382.25" y="234.04" width="4.5" height="0.36" fill="#6262f2"/>
<rect x="388.83" y="229.79" width="4.5" height="4.61" fill="#6262f2"/>
<path d="M391.08 231.29V229.35M389.93 229.35h2.3" stroke="#a0a0a8" stroke-width="0.5" fill="none"/>
<rect x="395.41" y="232.12" width="4.5" height="2.28" fill="#6262f2"/>
<path d="M397.66 233.62V231.77M396.51 231.77h2.3" stroke="#a0a0a8" stroke-width="0.5" fill="none"/>
<rect x="401.99" y="215.54" width="4.5" height="18.86" fill="#6262f2"/>
<path d="M404.24 217.04V214.47M403.09 214.47h2.3" stroke="#a0a0a8" stroke-width="0.5" fill="none"/>
<rect x="408.57" y="190.52" width="4.5" height="43.88" fill="#6262f2"/>
<path d="M410.82 192.02V188.35M409.67 188.35h2.3" stroke="#a0a0a8" stroke-width="0.5" fill="none"/>
<rect x="415.15" y="197.77" width="4.5" height="36.63" fill="#6262f2"/>
<path d="M417.40 199.27V195.92M416.25 195.92h2.3" stroke="#a0a0a8" stroke-width="0.5" fill="none"/>
<rect x="421.73" y="204.66" width="4.5" height="29.74" fill="#6262f2"/>
<path d="M423.98 206.16V203.11M422.83 203.11h2.3" stroke="#a0a0a8" stroke-width="0.5" fill="none"/>
<rect x="428.31" y="232.59" width="4.5" height="1.81" fill="#6262f2"/>
<polyline points="384.50,234.40 391.08,227.87 397.66,228.42 404.24,228.42 410.82,200.13 417.40,194.14 423.98,182.72 430.56,229.23" fill="none" stroke="#f04050" stroke-width="0.8"/>
<path d="M380.3 180V234.4H435.5M435.5 180V234.4" fill="none" stroke="#777" stroke-width="0.5"/>
<path d="M379.1 234.40H380.3" stroke="#777" stroke-width="0.4"/>
<text x="378.7" y="235.60" font-size="3.40" text-anchor="end" fill="#222" stroke="#222" stroke-width="0.08">0</text>
<path d="M379.1 216.27H380.3" stroke="#777" stroke-width="0.4"/>
<text x="378.7" y="217.47" font-size="3.40" text-anchor="end" fill="#222" stroke="#222" stroke-width="0.08">5</text>
<path d="M379.1 198.13H380.3" stroke="#777" stroke-width="0.4"/>
<text x="378.7" y="199.33" font-size="3.40" text-anchor="end" fill="#222" stroke="#222" stroke-width="0.08">10</text>
<path d="M379.1 180.00H380.3" stroke="#777" stroke-width="0.4"/>
<text x="378.7" y="181.20" font-size="3.40" text-anchor="end" fill="#222" stroke="#222" stroke-width="0.08">15</text>
<path d="M435.5 234.40H436.7" stroke="#777" stroke-width="0.4"/>
<text x="437.3" y="235.60" font-size="3.40" fill="#222" stroke="#222" stroke-width="0.08">0</text>
<path d="M435.5 220.80H436.7" stroke="#777" stroke-width="0.4"/>
<text x="437.3" y="222.00" font-size="3.40" fill="#222" stroke="#222" stroke-width="0.08">5</text>
<path d="M435.5 207.20H436.7" stroke="#777" stroke-width="0.4"/>
<text x="437.3" y="208.40" font-size="3.40" fill="#222" stroke="#222" stroke-width="0.08">10</text>
<path d="M435.5 193.60H436.7" stroke="#777" stroke-width="0.4"/>
<text x="437.3" y="194.80" font-size="3.40" fill="#222" stroke="#222" stroke-width="0.08">15</text>
<path d="M435.5 180.00H436.7" stroke="#777" stroke-width="0.4"/>
<text x="437.3" y="181.20" font-size="3.40" fill="#222" stroke="#222" stroke-width="0.08">20</text>
<text transform="translate(383.20 237.30) rotate(48)" font-size="4.30" fill="#333" stroke="#333" stroke-width="0.1">Ck</text>
<text transform="translate(389.78 237.30) rotate(48)" font-size="4.30" fill="#333" stroke="#333" stroke-width="0.1">S1</text>
<text transform="translate(396.36 237.30) rotate(48)" font-size="4.30" fill="#333" stroke="#333" stroke-width="0.1">S2</text>
<text transform="translate(402.94 237.30) rotate(48)" font-size="4.30" fill="#333" stroke="#333" stroke-width="0.1">S3a</text>
<text transform="translate(409.52 237.30) rotate(48)" font-size="4.30" fill="#333" stroke="#333" stroke-width="0.1">S4a</text>
<text transform="translate(416.10 237.30) rotate(48)" font-size="4.30" fill="#333" stroke="#333" stroke-width="0.1">S4b</text>
<text transform="translate(422.68 237.30) rotate(48)" font-size="4.30" fill="#333" stroke="#333" stroke-width="0.1">T1</text>
<text transform="translate(429.26 237.30) rotate(48)" font-size="4.30" fill="#333" stroke="#333" stroke-width="0.1">T2</text>
<text x="396.50" y="181.10" font-size="4.60" font-weight="bold" font-style="italic" fill="#111" stroke="#111" stroke-width="0.1">StDAT1</text>
<text transform="translate(373.50 207.70) rotate(-90)" font-size="4.70" text-anchor="middle" fill="#222" stroke="#222" stroke-width="0.08">Relative expression</text>
<text transform="translate(445.10 207.20) rotate(90)" font-size="4.70" font-style="italic" font-weight="bold" text-anchor="middle" fill="#333" stroke="#333" stroke-width="0.06">FPKM</text>
<path d="M383.5 248.2h5.8" stroke="#6262f2" stroke-width="1"/>
<text x="392.8" y="249.29999999999998" font-size="2.8" fill="#333">qRT-PCR</text>
<path d="M412.8 248.2h6" stroke="#f04050" stroke-width="0.8"/>
<text x="422.3" y="249.29999999999998" font-size="2.8" fill="#333">RNA-Seq</text>
<rect x="501.57" y="209.04" width="4.5" height="25.36" fill="#6262f2"/>
<path d="M503.82 210.54V208.36M502.67 208.36h2.3" stroke="#a0a0a8" stroke-width="0.5" fill="none"/>
<rect x="508.20" y="203.80" width="4.5" height="30.60" fill="#6262f2"/>
<path d="M510.45 205.30V203.01M509.30 203.01h2.3" stroke="#a0a0a8" stroke-width="0.5" fill="none"/>
<rect x="514.83" y="191.22" width="4.5" height="43.18" fill="#6262f2"/>
<path d="M517.08 192.72V190.15M515.93 190.15h2.3" stroke="#a0a0a8" stroke-width="0.5" fill="none"/>
<rect x="521.46" y="233.04" width="4.5" height="1.36" fill="#6262f2"/>
<polyline points="477.30,234.40 483.93,231.72 490.56,229.32 497.19,220.26 503.82,214.45 510.45,198.86 517.08,197.05 523.71,228.60" fill="none" stroke="#f04050" stroke-width="0.8"/>
<path d="M473.2 180V234.4H528.3M528.3 180V234.4" fill="none" stroke="#777" stroke-width="0.5"/>
<path d="M472.0 234.40H473.2" stroke="#777" stroke-width="0.4"/>
<text x="471.59999999999997" y="235.60" font-size="3.40" text-anchor="end" fill="#222" stroke="#222" stroke-width="0.08">0</text>
<path d="M472.0 220.80H473.2" stroke="#777" stroke-width="0.4"/>
<text x="471.59999999999997" y="222.00" font-size="3.40" text-anchor="end" fill="#222" stroke="#222" stroke-width="0.08">2</text>
<path d="M472.0 207.20H473.2" stroke="#777" stroke-width="0.4"/>
<text x="471.59999999999997" y="208.40" font-size="3.40" text-anchor="end" fill="#222" stroke="#222" stroke-width="0.08">4</text>
<path d="M472.0 193.60H473.2" stroke="#777" stroke-width="0.4"/>
<text x="471.59999999999997" y="194.80" font-size="3.40" text-anchor="end" fill="#222" stroke="#222" stroke-width="0.08">6</text>
<path d="M472.0 180.00H473.2" stroke="#777" stroke-width="0.4"/>
<text x="471.59999999999997" y="181.20" font-size="3.40" text-anchor="end" fill="#222" stroke="#222" stroke-width="0.08">8</text>
<path d="M528.3 234.40H529.5" stroke="#777" stroke-width="0.4"/>
<text x="530.0999999999999" y="235.60" font-size="3.40" fill="#222" stroke="#222" stroke-width="0.08">0</text>
<path d="M528.3 216.27H529.5" stroke="#777" stroke-width="0.4"/>
<text x="530.0999999999999" y="217.47" font-size="3.40" fill="#222" stroke="#222" stroke-width="0.08">5</text>
<path d="M528.3 198.13H529.5" stroke="#777" stroke-width="0.4"/>
<text x="530.0999999999999" y="199.33" font-size="3.40" fill="#222" stroke="#222" stroke-width="0.08">10</text>
<path d="M528.3 180.00H529.5" stroke="#777" stroke-width="0.4"/>
<text x="530.0999999999999" y="181.20" font-size="3.40" fill="#222" stroke="#222" stroke-width="0.08">15</text>
<text transform="translate(476.00 237.30) rotate(48)" font-size="4.30" fill="#333" stroke="#333" stroke-width="0.1">Ck</text>
<text transform="translate(482.63 237.30) rotate(48)" font-size="4.30" fill="#333" stroke="#333" stroke-width="0.1">S1</text>
<text transform="translate(489.26 237.30) rotate(48)" font-size="4.30" fill="#333" stroke="#333" stroke-width="0.1">S2</text>
<text transform="translate(495.89 237.30) rotate(48)" font-size="4.30" fill="#333" stroke="#333" stroke-width="0.1">S3a</text>
<text transform="translate(502.52 237.30) rotate(48)" font-size="4.30" fill="#333" stroke="#333" stroke-width="0.1">S4a</text>
<text transform="translate(509.15 237.30) rotate(48)" font-size="4.30" fill="#333" stroke="#333" stroke-width="0.1">S4b</text>
<text transform="translate(515.78 237.30) rotate(48)" font-size="4.30" fill="#333" stroke="#333" stroke-width="0.1">T1</text>
<text transform="translate(522.41 237.30) rotate(48)" font-size="4.30" fill="#333" stroke="#333" stroke-width="0.1">T2</text>
<text x="489.40" y="181.10" font-size="4.60" font-weight="bold" font-style="italic" fill="#111" stroke="#111" stroke-width="0.1">StBHLH120</text>
<text transform="translate(466.40 207.70) rotate(-90)" font-size="4.70" text-anchor="middle" fill="#222" stroke="#222" stroke-width="0.08">Relative expression</text>
<text transform="translate(537.90 207.20) rotate(90)" font-size="4.70" font-style="italic" font-weight="bold" text-anchor="middle" fill="#333" stroke="#333" stroke-width="0.06">FPKM</text>
<path d="M476.4 248.2h5.8" stroke="#6262f2" stroke-width="1"/>
<text x="485.7" y="249.29999999999998" font-size="2.8" fill="#333">qRT-PCR</text>
<path d="M505.7 248.2h6" stroke="#f04050" stroke-width="0.8"/>
<text x="515.2" y="249.29999999999998" font-size="2.8" fill="#333">RNA-Seq</text>
</svg>
<div class="lab" style="left:23.6px;top:6.4px">A</div>
<div class="lab" style="left:261.3px;top:6.5px">B</div>
</body></html>
